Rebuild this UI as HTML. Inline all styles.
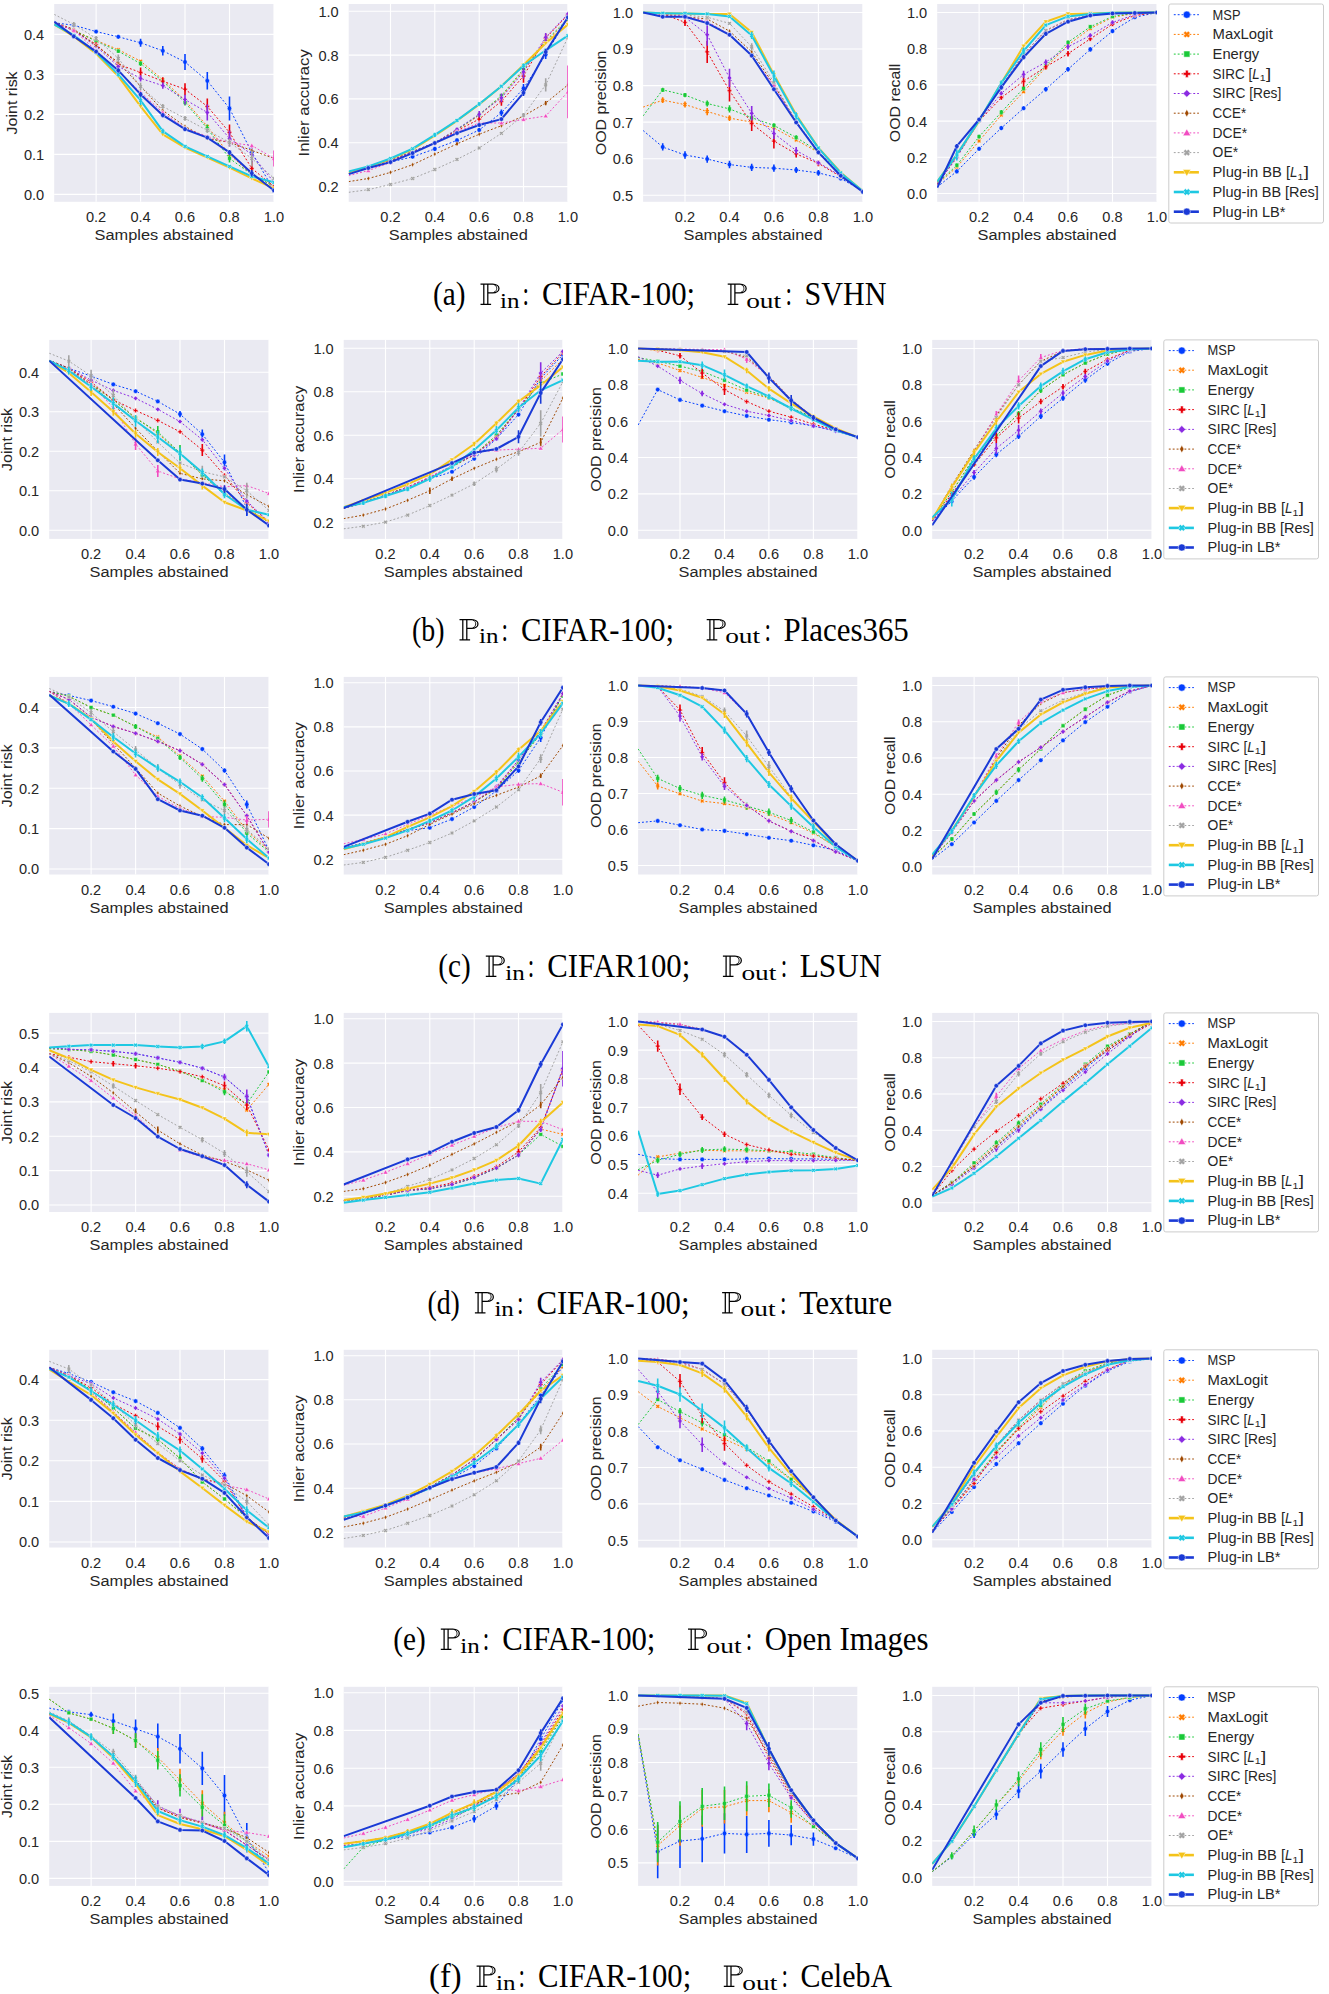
<!DOCTYPE html><html><head><meta charset="utf-8"><style>html,body{margin:0;padding:0;background:#fff}svg{display:block}</style></head><body><svg width="1329" height="1994" viewBox="0 0 1329 1994" font-family="Liberation Sans, sans-serif">
<rect width="1329" height="1994" fill="#fff"/>
<rect x="54.2" y="4" width="219.8" height="197.8" fill="#eaeaf2"/>
<clipPath id="c0_0"><rect x="54.2" y="4" width="219.8" height="197.8"/></clipPath>
<path d="M96.1 4V201.8M140.6 4V201.8M185 4V201.8M229.5 4V201.8M274 4V201.8M54.2 194.4H274M54.2 154.4H274M54.2 114.4H274M54.2 74.4H274M54.2 34.4H274" stroke="#fff" stroke-width="1.1" fill="none"/>
<text x="96.1" y="221.8" font-size="14.31" text-anchor="middle" textLength="20.3" lengthAdjust="spacingAndGlyphs" fill="#262626" >0.2</text>
<text x="140.6" y="221.8" font-size="14.31" text-anchor="middle" textLength="20.3" lengthAdjust="spacingAndGlyphs" fill="#262626" >0.4</text>
<text x="185" y="221.8" font-size="14.31" text-anchor="middle" textLength="20.3" lengthAdjust="spacingAndGlyphs" fill="#262626" >0.6</text>
<text x="229.5" y="221.8" font-size="14.31" text-anchor="middle" textLength="20.3" lengthAdjust="spacingAndGlyphs" fill="#262626" >0.8</text>
<text x="274" y="221.8" font-size="14.31" text-anchor="middle" textLength="20.3" lengthAdjust="spacingAndGlyphs" fill="#262626" >1.0</text>
<text x="44.2" y="199.8" font-size="14.31" text-anchor="end" textLength="20.3" lengthAdjust="spacingAndGlyphs" fill="#262626" >0.0</text>
<text x="44.2" y="159.8" font-size="14.31" text-anchor="end" textLength="20.3" lengthAdjust="spacingAndGlyphs" fill="#262626" >0.1</text>
<text x="44.2" y="119.8" font-size="14.31" text-anchor="end" textLength="20.3" lengthAdjust="spacingAndGlyphs" fill="#262626" >0.2</text>
<text x="44.2" y="79.8" font-size="14.31" text-anchor="end" textLength="20.3" lengthAdjust="spacingAndGlyphs" fill="#262626" >0.3</text>
<text x="44.2" y="39.8" font-size="14.31" text-anchor="end" textLength="20.3" lengthAdjust="spacingAndGlyphs" fill="#262626" >0.4</text>
<text x="164.1" y="239.8" font-size="15.48" text-anchor="middle" textLength="139.0" lengthAdjust="spacingAndGlyphs" fill="#262626" >Samples abstained</text>
<g transform="translate(16.5 102.9) rotate(-90)"><text x="0" y="0" font-size="15.48" text-anchor="middle" textLength="63.0" lengthAdjust="spacingAndGlyphs" fill="#262626" >Joint risk</text></g>
<g clip-path="url(#c0_0)">
<polyline points="54.2,22.8 73.8,25.2 96.1,31.6 118.3,36.8 140.6,42.8 162.8,50.8 185,62 207.3,80.8 229.5,108.4 251.8,152.4 274,190.4" fill="none" stroke="#023eff" stroke-width="1.0" stroke-dasharray="1.9 2.0"/>
<path d="M71.5 25.2a2.3 2.3 0 1 0 4.6 0a2.3 2.3 0 1 0 -4.6 0zM93.8 31.6a2.3 2.3 0 1 0 4.6 0a2.3 2.3 0 1 0 -4.6 0zM116 36.8a2.3 2.3 0 1 0 4.6 0a2.3 2.3 0 1 0 -4.6 0zM138.3 42.8a2.3 2.3 0 1 0 4.6 0a2.3 2.3 0 1 0 -4.6 0zM160.5 50.8a2.3 2.3 0 1 0 4.6 0a2.3 2.3 0 1 0 -4.6 0zM182.7 62a2.3 2.3 0 1 0 4.6 0a2.3 2.3 0 1 0 -4.6 0zM205 80.8a2.3 2.3 0 1 0 4.6 0a2.3 2.3 0 1 0 -4.6 0zM227.2 108.4a2.3 2.3 0 1 0 4.6 0a2.3 2.3 0 1 0 -4.6 0zM249.5 152.4a2.3 2.3 0 1 0 4.6 0a2.3 2.3 0 1 0 -4.6 0zM271.7 190.4a2.3 2.3 0 1 0 4.6 0a2.3 2.3 0 1 0 -4.6 0z" fill="#023eff" stroke="#fff" stroke-width="0.5"/>
<path d="M96.1 32.8V30.4M118.3 38.4V35.2M140.6 46.8V38.8M162.8 55.6V46M185 70V54M207.3 89.6V72M229.5 120.4V96.4M251.8 156.4V148.4" stroke="#023eff" stroke-width="1.6"/>
</g>
<g clip-path="url(#c0_0)">
<polyline points="54.2,22.4 73.8,30.4 96.1,40.4 118.3,49.6 140.6,61.2 162.8,79.6 185,100.4 207.3,126.4 229.5,154.4 251.8,174.4 274,186.4" fill="none" stroke="#ff7c00" stroke-width="1.0" stroke-dasharray="1.9 2.0"/>
<path d="M71.7 29.5l1.26 -1.26 0.92 0.92 0.92 -0.92 1.26 1.26 -0.92 0.92 0.92 0.92 -1.26 1.26 -0.92 -0.92 -0.92 0.92 -1.26 -1.26 0.92 -0.92zM93.9 39.5l1.26 -1.26 0.92 0.92 0.92 -0.92 1.26 1.26 -0.92 0.92 0.92 0.92 -1.26 1.26 -0.92 -0.92 -0.92 0.92 -1.26 -1.26 0.92 -0.92zM116.1 48.7l1.26 -1.26 0.92 0.92 0.92 -0.92 1.26 1.26 -0.92 0.92 0.92 0.92 -1.26 1.26 -0.92 -0.92 -0.92 0.92 -1.26 -1.26 0.92 -0.92zM138.4 60.3l1.26 -1.26 0.92 0.92 0.92 -0.92 1.26 1.26 -0.92 0.92 0.92 0.92 -1.26 1.26 -0.92 -0.92 -0.92 0.92 -1.26 -1.26 0.92 -0.92zM160.6 78.7l1.26 -1.26 0.92 0.92 0.92 -0.92 1.26 1.26 -0.92 0.92 0.92 0.92 -1.26 1.26 -0.92 -0.92 -0.92 0.92 -1.26 -1.26 0.92 -0.92zM182.9 99.5l1.26 -1.26 0.92 0.92 0.92 -0.92 1.26 1.26 -0.92 0.92 0.92 0.92 -1.26 1.26 -0.92 -0.92 -0.92 0.92 -1.26 -1.26 0.92 -0.92zM205.1 125.5l1.26 -1.26 0.92 0.92 0.92 -0.92 1.26 1.26 -0.92 0.92 0.92 0.92 -1.26 1.26 -0.92 -0.92 -0.92 0.92 -1.26 -1.26 0.92 -0.92zM227.3 153.5l1.26 -1.26 0.92 0.92 0.92 -0.92 1.26 1.26 -0.92 0.92 0.92 0.92 -1.26 1.26 -0.92 -0.92 -0.92 0.92 -1.26 -1.26 0.92 -0.92zM249.6 173.5l1.26 -1.26 0.92 0.92 0.92 -0.92 1.26 1.26 -0.92 0.92 0.92 0.92 -1.26 1.26 -0.92 -0.92 -0.92 0.92 -1.26 -1.26 0.92 -0.92zM271.8 185.5l1.26 -1.26 0.92 0.92 0.92 -0.92 1.26 1.26 -0.92 0.92 0.92 0.92 -1.26 1.26 -0.92 -0.92 -0.92 0.92 -1.26 -1.26 0.92 -0.92z" fill="#ff7c00" stroke="#fff" stroke-width="0.5"/>
</g>
<g clip-path="url(#c0_0)">
<polyline points="54.2,22.4 73.8,30.4 96.1,41.2 118.3,51.2 140.6,63.6 162.8,81.2 185,102.4 207.3,128.4 229.5,158.4 251.8,174.4 274,186.4" fill="none" stroke="#1ac938" stroke-width="1.0" stroke-dasharray="1.9 2.0"/>
<path d="M71.9 28.4h3.91v3.91h-3.91zM94.1 39.2h3.91v3.91h-3.91zM116.4 49.2h3.91v3.91h-3.91zM138.6 61.6h3.91v3.91h-3.91zM160.8 79.2h3.91v3.91h-3.91zM183.1 100.4h3.91v3.91h-3.91zM205.3 126.4h3.91v3.91h-3.91zM227.6 156.4h3.91v3.91h-3.91zM249.8 172.4h3.91v3.91h-3.91zM272 184.4h3.91v3.91h-3.91z" fill="#1ac938" stroke="#fff" stroke-width="0.5"/>
<path d="M118.3 52.8V49.6M140.6 66V61.2M162.8 83.6V78.8M185 105.6V99.2M207.3 132.4V124.4M229.5 162.4V154.4M251.8 178.4V170.4" stroke="#1ac938" stroke-width="1.6"/>
</g>
<g clip-path="url(#c0_0)">
<polyline points="54.2,22.4 73.8,30.4 96.1,44.4 118.3,64.4 140.6,72.4 162.8,81.2 185,89.2 207.3,106.4 229.5,132.4 251.8,168.4 274,186.4" fill="none" stroke="#e8000b" stroke-width="1.0" stroke-dasharray="1.9 2.0"/>
<path d="M73 28.1h1.75v1.43h1.43v1.75h-1.43v1.43h-1.75v-1.43h-1.43v-1.75h1.43zM95.2 42.1h1.75v1.43h1.43v1.75h-1.43v1.43h-1.75v-1.43h-1.43v-1.75h1.43zM117.4 62.1h1.75v1.43h1.43v1.75h-1.43v1.43h-1.75v-1.43h-1.43v-1.75h1.43zM139.7 70.1h1.75v1.43h1.43v1.75h-1.43v1.43h-1.75v-1.43h-1.43v-1.75h1.43zM161.9 78.9h1.75v1.43h1.43v1.75h-1.43v1.43h-1.75v-1.43h-1.43v-1.75h1.43zM184.2 86.9h1.75v1.43h1.43v1.75h-1.43v1.43h-1.75v-1.43h-1.43v-1.75h1.43zM206.4 104.1h1.75v1.43h1.43v1.75h-1.43v1.43h-1.75v-1.43h-1.43v-1.75h1.43zM228.6 130.1h1.75v1.43h1.43v1.75h-1.43v1.43h-1.75v-1.43h-1.43v-1.75h1.43zM250.9 166.1h1.75v1.43h1.43v1.75h-1.43v1.43h-1.75v-1.43h-1.43v-1.75h1.43zM273.1 184.1h1.75v1.43h1.43v1.75h-1.43v1.43h-1.75v-1.43h-1.43v-1.75h1.43z" fill="#e8000b" stroke="#fff" stroke-width="0.5"/>
<path d="M96.1 46.4V42.4M118.3 67.6V61.2M140.6 77.2V67.6M162.8 85.2V77.2M185 95.2V83.2M207.3 114.4V98.4M229.5 140.4V124.4M251.8 176.4V160.4" stroke="#e8000b" stroke-width="1.6"/>
</g>
<g clip-path="url(#c0_0)">
<polyline points="54.2,22.4 73.8,30.4 96.1,46.4 118.3,66.4 140.6,78.4 162.8,85.6 185,99.6 207.3,112.4 229.5,138.4 251.8,154.4 274,182.4" fill="none" stroke="#8b2be2" stroke-width="1.0" stroke-dasharray="1.9 2.0"/>
<path d="M73.8 28l2.42 2.42l-2.42 2.42l-2.42 -2.42zM96.1 44l2.42 2.42l-2.42 2.42l-2.42 -2.42zM118.3 64l2.42 2.42l-2.42 2.42l-2.42 -2.42zM140.6 76l2.42 2.42l-2.42 2.42l-2.42 -2.42zM162.8 83.2l2.42 2.42l-2.42 2.42l-2.42 -2.42zM185 97.2l2.42 2.42l-2.42 2.42l-2.42 -2.42zM207.3 110l2.42 2.42l-2.42 2.42l-2.42 -2.42zM229.5 136l2.42 2.42l-2.42 2.42l-2.42 -2.42zM251.8 152l2.42 2.42l-2.42 2.42l-2.42 -2.42zM274 180l2.42 2.42l-2.42 2.42l-2.42 -2.42z" fill="#8b2be2" stroke="#fff" stroke-width="0.5"/>
<path d="M118.3 68.4V64.4M140.6 81.6V75.2M162.8 88.8V82.4M185 104.4V94.8M207.3 120.4V104.4M229.5 146.4V130.4M251.8 162.4V146.4" stroke="#8b2be2" stroke-width="1.6"/>
</g>
<g clip-path="url(#c0_0)">
<polyline points="54.2,22.4 73.8,29.2 96.1,45.6 118.3,62.4 140.6,86.4 162.8,110.4 185,126.4 207.3,138.4 229.5,142.4 251.8,150.4 274,158.4" fill="none" stroke="#9f4800" stroke-width="1.0" stroke-dasharray="1.9 2.0"/>
<path d="M73.8 26.8l1.38 2.42l-1.38 2.42l-1.38 -2.42zM96.1 43.2l1.38 2.42l-1.38 2.42l-1.38 -2.42zM118.3 60l1.38 2.42l-1.38 2.42l-1.38 -2.42zM140.6 84l1.38 2.42l-1.38 2.42l-1.38 -2.42zM162.8 108l1.38 2.42l-1.38 2.42l-1.38 -2.42zM185 124l1.38 2.42l-1.38 2.42l-1.38 -2.42zM207.3 136l1.38 2.42l-1.38 2.42l-1.38 -2.42zM229.5 140l1.38 2.42l-1.38 2.42l-1.38 -2.42zM251.8 148l1.38 2.42l-1.38 2.42l-1.38 -2.42zM274 156l1.38 2.42l-1.38 2.42l-1.38 -2.42z" fill="#9f4800" stroke="#fff" stroke-width="0.5"/>
</g>
<g clip-path="url(#c0_0)">
<polyline points="54.2,22.4 73.8,30.4 96.1,50.4 118.3,70.4 140.6,92.4 162.8,112.4 185,128.4 207.3,136.4 229.5,142.4 251.8,145.6 274,158.4" fill="none" stroke="#f14cc1" stroke-width="1.0" stroke-dasharray="1.9 2.0"/>
<path d="M73.8 27.9l2.53 4.3h-5.06zM96.1 47.9l2.53 4.3h-5.06zM118.3 67.9l2.53 4.3h-5.06zM140.6 89.9l2.53 4.3h-5.06zM162.8 109.9l2.53 4.3h-5.06zM185 125.9l2.53 4.3h-5.06zM207.3 133.9l2.53 4.3h-5.06zM229.5 139.9l2.53 4.3h-5.06zM251.8 143.1l2.53 4.3h-5.06zM274 155.9l2.53 4.3h-5.06z" fill="#f14cc1" stroke="#fff" stroke-width="0.5"/>
<path d="M274 166.4V150.4" stroke="#f14cc1" stroke-width="1.6"/>
</g>
<g clip-path="url(#c0_0)">
<polyline points="54.2,14.4 73.8,24.4 96.1,38.4 118.3,58.4 140.6,86.4 162.8,106.4 185,118.4 207.3,130.4 229.5,142.4 251.8,158.4 274,178.4" fill="none" stroke="#a3a3a3" stroke-width="1.0" stroke-dasharray="1.9 2.0"/>
<path d="M71.7 23.5l1.26 -1.26 0.92 0.92 0.92 -0.92 1.26 1.26 -0.92 0.92 0.92 0.92 -1.26 1.26 -0.92 -0.92 -0.92 0.92 -1.26 -1.26 0.92 -0.92zM93.9 37.5l1.26 -1.26 0.92 0.92 0.92 -0.92 1.26 1.26 -0.92 0.92 0.92 0.92 -1.26 1.26 -0.92 -0.92 -0.92 0.92 -1.26 -1.26 0.92 -0.92zM116.1 57.5l1.26 -1.26 0.92 0.92 0.92 -0.92 1.26 1.26 -0.92 0.92 0.92 0.92 -1.26 1.26 -0.92 -0.92 -0.92 0.92 -1.26 -1.26 0.92 -0.92zM138.4 85.5l1.26 -1.26 0.92 0.92 0.92 -0.92 1.26 1.26 -0.92 0.92 0.92 0.92 -1.26 1.26 -0.92 -0.92 -0.92 0.92 -1.26 -1.26 0.92 -0.92zM160.6 105.5l1.26 -1.26 0.92 0.92 0.92 -0.92 1.26 1.26 -0.92 0.92 0.92 0.92 -1.26 1.26 -0.92 -0.92 -0.92 0.92 -1.26 -1.26 0.92 -0.92zM182.9 117.5l1.26 -1.26 0.92 0.92 0.92 -0.92 1.26 1.26 -0.92 0.92 0.92 0.92 -1.26 1.26 -0.92 -0.92 -0.92 0.92 -1.26 -1.26 0.92 -0.92zM205.1 129.5l1.26 -1.26 0.92 0.92 0.92 -0.92 1.26 1.26 -0.92 0.92 0.92 0.92 -1.26 1.26 -0.92 -0.92 -0.92 0.92 -1.26 -1.26 0.92 -0.92zM227.3 141.5l1.26 -1.26 0.92 0.92 0.92 -0.92 1.26 1.26 -0.92 0.92 0.92 0.92 -1.26 1.26 -0.92 -0.92 -0.92 0.92 -1.26 -1.26 0.92 -0.92zM249.6 157.5l1.26 -1.26 0.92 0.92 0.92 -0.92 1.26 1.26 -0.92 0.92 0.92 0.92 -1.26 1.26 -0.92 -0.92 -0.92 0.92 -1.26 -1.26 0.92 -0.92zM271.8 177.5l1.26 -1.26 0.92 0.92 0.92 -0.92 1.26 1.26 -0.92 0.92 0.92 0.92 -1.26 1.26 -0.92 -0.92 -0.92 0.92 -1.26 -1.26 0.92 -0.92z" fill="#a3a3a3" stroke="#fff" stroke-width="0.5"/>
<path d="M73.8 26.8V22M96.1 40.8V36M118.3 62.4V54.4M140.6 90.4V82.4M162.8 108.8V104M185 120.8V116M207.3 132.8V128M229.5 146.4V138.4M251.8 166.4V150.4" stroke="#a3a3a3" stroke-width="1.6"/>
</g>
<g clip-path="url(#c0_0)">
<polyline points="54.2,24.4 73.8,36.4 96.1,53.6 118.3,76.4 140.6,106.4 162.8,134.4 185,147.6 207.3,157.6 229.5,167.6 251.8,178.4 274,188.4" fill="none" stroke="#f4c31a" stroke-width="2.0" stroke-linejoin="round"/>
<path d="M73.8 38.9l2.53 -4.3h-5.06zM96.1 56.1l2.53 -4.3h-5.06zM118.3 78.9l2.53 -4.3h-5.06zM140.6 108.9l2.53 -4.3h-5.06zM162.8 136.9l2.53 -4.3h-5.06zM185 150.1l2.53 -4.3h-5.06zM207.3 160.1l2.53 -4.3h-5.06zM229.5 170.1l2.53 -4.3h-5.06zM251.8 180.9l2.53 -4.3h-5.06zM274 190.9l2.53 -4.3h-5.06z" fill="#f4c31a" stroke="#fff" stroke-width="0.5"/>
</g>
<g clip-path="url(#c0_0)">
<polyline points="54.2,24.4 73.8,35.2 96.1,52.4 118.3,74.4 140.6,100.4 162.8,131.2 185,146.4 207.3,156.4 229.5,166.4 251.8,176.4 274,182.4" fill="none" stroke="#1ec8e2" stroke-width="2.0" stroke-linejoin="round"/>
<path d="M71.7 34.3l1.26 -1.26 0.92 0.92 0.92 -0.92 1.26 1.26 -0.92 0.92 0.92 0.92 -1.26 1.26 -0.92 -0.92 -0.92 0.92 -1.26 -1.26 0.92 -0.92zM93.9 51.5l1.26 -1.26 0.92 0.92 0.92 -0.92 1.26 1.26 -0.92 0.92 0.92 0.92 -1.26 1.26 -0.92 -0.92 -0.92 0.92 -1.26 -1.26 0.92 -0.92zM116.1 73.5l1.26 -1.26 0.92 0.92 0.92 -0.92 1.26 1.26 -0.92 0.92 0.92 0.92 -1.26 1.26 -0.92 -0.92 -0.92 0.92 -1.26 -1.26 0.92 -0.92zM138.4 99.5l1.26 -1.26 0.92 0.92 0.92 -0.92 1.26 1.26 -0.92 0.92 0.92 0.92 -1.26 1.26 -0.92 -0.92 -0.92 0.92 -1.26 -1.26 0.92 -0.92zM160.6 130.3l1.26 -1.26 0.92 0.92 0.92 -0.92 1.26 1.26 -0.92 0.92 0.92 0.92 -1.26 1.26 -0.92 -0.92 -0.92 0.92 -1.26 -1.26 0.92 -0.92zM182.9 145.5l1.26 -1.26 0.92 0.92 0.92 -0.92 1.26 1.26 -0.92 0.92 0.92 0.92 -1.26 1.26 -0.92 -0.92 -0.92 0.92 -1.26 -1.26 0.92 -0.92zM205.1 155.5l1.26 -1.26 0.92 0.92 0.92 -0.92 1.26 1.26 -0.92 0.92 0.92 0.92 -1.26 1.26 -0.92 -0.92 -0.92 0.92 -1.26 -1.26 0.92 -0.92zM227.3 165.5l1.26 -1.26 0.92 0.92 0.92 -0.92 1.26 1.26 -0.92 0.92 0.92 0.92 -1.26 1.26 -0.92 -0.92 -0.92 0.92 -1.26 -1.26 0.92 -0.92zM249.6 175.5l1.26 -1.26 0.92 0.92 0.92 -0.92 1.26 1.26 -0.92 0.92 0.92 0.92 -1.26 1.26 -0.92 -0.92 -0.92 0.92 -1.26 -1.26 0.92 -0.92zM271.8 181.5l1.26 -1.26 0.92 0.92 0.92 -0.92 1.26 1.26 -0.92 0.92 0.92 0.92 -1.26 1.26 -0.92 -0.92 -0.92 0.92 -1.26 -1.26 0.92 -0.92z" fill="#1ec8e2" stroke="#fff" stroke-width="0.5"/>
<path d="M118.3 76.4V72.4M140.6 105.2V95.6M162.8 133.6V128.8" stroke="#1ec8e2" stroke-width="1.6"/>
</g>
<g clip-path="url(#c0_0)">
<polyline points="54.2,21.6 73.8,36.4 96.1,51.6 118.3,70.4 140.6,94.4 162.8,115.2 185,129.2 207.3,137.6 229.5,152.4 251.8,173.2 274,190.4" fill="none" stroke="#1a3ad6" stroke-width="2.0" stroke-linejoin="round"/>
<path d="M71.5 36.4a2.3 2.3 0 1 0 4.6 0a2.3 2.3 0 1 0 -4.6 0zM93.8 51.6a2.3 2.3 0 1 0 4.6 0a2.3 2.3 0 1 0 -4.6 0zM116 70.4a2.3 2.3 0 1 0 4.6 0a2.3 2.3 0 1 0 -4.6 0zM138.3 94.4a2.3 2.3 0 1 0 4.6 0a2.3 2.3 0 1 0 -4.6 0zM160.5 115.2a2.3 2.3 0 1 0 4.6 0a2.3 2.3 0 1 0 -4.6 0zM182.7 129.2a2.3 2.3 0 1 0 4.6 0a2.3 2.3 0 1 0 -4.6 0zM205 137.6a2.3 2.3 0 1 0 4.6 0a2.3 2.3 0 1 0 -4.6 0zM227.2 152.4a2.3 2.3 0 1 0 4.6 0a2.3 2.3 0 1 0 -4.6 0zM249.5 173.2a2.3 2.3 0 1 0 4.6 0a2.3 2.3 0 1 0 -4.6 0zM271.7 190.4a2.3 2.3 0 1 0 4.6 0a2.3 2.3 0 1 0 -4.6 0z" fill="#1a3ad6" stroke="#fff" stroke-width="0.5"/>
<path d="M118.3 72.4V68.4M140.6 96.8V92M162.8 117.2V113.2M185 130.8V127.6M229.5 154.8V150M251.8 176.4V170" stroke="#1a3ad6" stroke-width="1.6"/>
</g>
<rect x="348.7" y="4" width="219.2" height="197.8" fill="#eaeaf2"/>
<clipPath id="c0_1"><rect x="348.7" y="4" width="219.2" height="197.8"/></clipPath>
<path d="M390.5 4V201.8M434.8 4V201.8M479.2 4V201.8M523.5 4V201.8M567.9 4V201.8M348.7 186.6H567.9M348.7 142.8H567.9M348.7 98.9H567.9M348.7 55.1H567.9M348.7 11.2H567.9" stroke="#fff" stroke-width="1.1" fill="none"/>
<text x="390.5" y="221.8" font-size="14.31" text-anchor="middle" textLength="20.3" lengthAdjust="spacingAndGlyphs" fill="#262626" >0.2</text>
<text x="434.8" y="221.8" font-size="14.31" text-anchor="middle" textLength="20.3" lengthAdjust="spacingAndGlyphs" fill="#262626" >0.4</text>
<text x="479.2" y="221.8" font-size="14.31" text-anchor="middle" textLength="20.3" lengthAdjust="spacingAndGlyphs" fill="#262626" >0.6</text>
<text x="523.5" y="221.8" font-size="14.31" text-anchor="middle" textLength="20.3" lengthAdjust="spacingAndGlyphs" fill="#262626" >0.8</text>
<text x="567.9" y="221.8" font-size="14.31" text-anchor="middle" textLength="20.3" lengthAdjust="spacingAndGlyphs" fill="#262626" >1.0</text>
<text x="338.7" y="192" font-size="14.31" text-anchor="end" textLength="20.3" lengthAdjust="spacingAndGlyphs" fill="#262626" >0.2</text>
<text x="338.7" y="148.2" font-size="14.31" text-anchor="end" textLength="20.3" lengthAdjust="spacingAndGlyphs" fill="#262626" >0.4</text>
<text x="338.7" y="104.3" font-size="14.31" text-anchor="end" textLength="20.3" lengthAdjust="spacingAndGlyphs" fill="#262626" >0.6</text>
<text x="338.7" y="60.5" font-size="14.31" text-anchor="end" textLength="20.3" lengthAdjust="spacingAndGlyphs" fill="#262626" >0.8</text>
<text x="338.7" y="16.7" font-size="14.31" text-anchor="end" textLength="20.3" lengthAdjust="spacingAndGlyphs" fill="#262626" >1.0</text>
<text x="458.3" y="239.8" font-size="15.48" text-anchor="middle" textLength="139.0" lengthAdjust="spacingAndGlyphs" fill="#262626" >Samples abstained</text>
<g transform="translate(309.2 102.9) rotate(-90)"><text x="0" y="0" font-size="15.48" text-anchor="middle" textLength="107.2" lengthAdjust="spacingAndGlyphs" fill="#262626" >Inlier accuracy</text></g>
<g clip-path="url(#c0_1)">
<polyline points="348.7,173.4 368.3,168 390.5,162.1 412.6,156.8 434.8,148.9 457,140.4 479.2,130 501.4,112.7 523.5,88.4 545.7,54.6 567.9,17.4" fill="none" stroke="#023eff" stroke-width="1.0" stroke-dasharray="1.9 2.0"/>
<path d="M366 168a2.3 2.3 0 1 0 4.6 0a2.3 2.3 0 1 0 -4.6 0zM388.2 162.1a2.3 2.3 0 1 0 4.6 0a2.3 2.3 0 1 0 -4.6 0zM410.3 156.8a2.3 2.3 0 1 0 4.6 0a2.3 2.3 0 1 0 -4.6 0zM432.5 148.9a2.3 2.3 0 1 0 4.6 0a2.3 2.3 0 1 0 -4.6 0zM454.7 140.4a2.3 2.3 0 1 0 4.6 0a2.3 2.3 0 1 0 -4.6 0zM476.9 130a2.3 2.3 0 1 0 4.6 0a2.3 2.3 0 1 0 -4.6 0zM499.1 112.7a2.3 2.3 0 1 0 4.6 0a2.3 2.3 0 1 0 -4.6 0zM521.2 88.4a2.3 2.3 0 1 0 4.6 0a2.3 2.3 0 1 0 -4.6 0zM543.4 54.6a2.3 2.3 0 1 0 4.6 0a2.3 2.3 0 1 0 -4.6 0zM565.6 17.4a2.3 2.3 0 1 0 4.6 0a2.3 2.3 0 1 0 -4.6 0z" fill="#023eff" stroke="#fff" stroke-width="0.5"/>
<path d="M434.8 150.7V147.1M457 142.1V138.6M479.2 132.2V127.9M501.4 116V109.4M523.5 92.8V84M545.7 59V50.3" stroke="#023eff" stroke-width="1.6"/>
</g>
<g clip-path="url(#c0_1)">
<polyline points="348.7,173.4 368.3,168 390.5,160.7 412.6,151.5 434.8,142.8 457,130 479.2,115.4 501.4,96.7 523.5,70.4 545.7,41.9 567.9,20" fill="none" stroke="#ff7c00" stroke-width="1.0" stroke-dasharray="1.9 2.0"/>
<path d="M366.1 167l1.26 -1.26 0.92 0.92 0.92 -0.92 1.26 1.26 -0.92 0.92 0.92 0.92 -1.26 1.26 -0.92 -0.92 -0.92 0.92 -1.26 -1.26 0.92 -0.92zM388.3 159.8l1.26 -1.26 0.92 0.92 0.92 -0.92 1.26 1.26 -0.92 0.92 0.92 0.92 -1.26 1.26 -0.92 -0.92 -0.92 0.92 -1.26 -1.26 0.92 -0.92zM410.5 150.6l1.26 -1.26 0.92 0.92 0.92 -0.92 1.26 1.26 -0.92 0.92 0.92 0.92 -1.26 1.26 -0.92 -0.92 -0.92 0.92 -1.26 -1.26 0.92 -0.92zM432.6 141.8l1.26 -1.26 0.92 0.92 0.92 -0.92 1.26 1.26 -0.92 0.92 0.92 0.92 -1.26 1.26 -0.92 -0.92 -0.92 0.92 -1.26 -1.26 0.92 -0.92zM454.8 129.1l1.26 -1.26 0.92 0.92 0.92 -0.92 1.26 1.26 -0.92 0.92 0.92 0.92 -1.26 1.26 -0.92 -0.92 -0.92 0.92 -1.26 -1.26 0.92 -0.92zM477 114.4l1.26 -1.26 0.92 0.92 0.92 -0.92 1.26 1.26 -0.92 0.92 0.92 0.92 -1.26 1.26 -0.92 -0.92 -0.92 0.92 -1.26 -1.26 0.92 -0.92zM499.2 95.8l1.26 -1.26 0.92 0.92 0.92 -0.92 1.26 1.26 -0.92 0.92 0.92 0.92 -1.26 1.26 -0.92 -0.92 -0.92 0.92 -1.26 -1.26 0.92 -0.92zM521.4 69.5l1.26 -1.26 0.92 0.92 0.92 -0.92 1.26 1.26 -0.92 0.92 0.92 0.92 -1.26 1.26 -0.92 -0.92 -0.92 0.92 -1.26 -1.26 0.92 -0.92zM543.5 41l1.26 -1.26 0.92 0.92 0.92 -0.92 1.26 1.26 -0.92 0.92 0.92 0.92 -1.26 1.26 -0.92 -0.92 -0.92 0.92 -1.26 -1.26 0.92 -0.92zM565.7 19.1l1.26 -1.26 0.92 0.92 0.92 -0.92 1.26 1.26 -0.92 0.92 0.92 0.92 -1.26 1.26 -0.92 -0.92 -0.92 0.92 -1.26 -1.26 0.92 -0.92z" fill="#ff7c00" stroke="#fff" stroke-width="0.5"/>
</g>
<g clip-path="url(#c0_1)">
<polyline points="348.7,173.4 368.3,168 390.5,160.7 412.6,151.5 434.8,142.8 457,129.6 479.2,114.7 501.4,95.6 523.5,69.3 545.7,40.8 567.9,18.9" fill="none" stroke="#1ac938" stroke-width="1.0" stroke-dasharray="1.9 2.0"/>
<path d="M366.3 166h3.91v3.91h-3.91zM388.5 158.8h3.91v3.91h-3.91zM410.7 149.6h3.91v3.91h-3.91zM432.9 140.8h3.91v3.91h-3.91zM455 127.7h3.91v3.91h-3.91zM477.2 112.8h3.91v3.91h-3.91zM499.4 93.7h3.91v3.91h-3.91zM521.6 67.4h3.91v3.91h-3.91zM543.8 38.9h3.91v3.91h-3.91zM565.9 17h3.91v3.91h-3.91z" fill="#1ac938" stroke="#fff" stroke-width="0.5"/>
</g>
<g clip-path="url(#c0_1)">
<polyline points="348.7,173.4 368.3,168 390.5,160.7 412.6,152 434.8,143.2 457,130.7 479.2,119.1 501.4,101.3 523.5,76.1 545.7,38.2 567.9,14.8" fill="none" stroke="#e8000b" stroke-width="1.0" stroke-dasharray="1.9 2.0"/>
<path d="M367.4 165.7h1.75v1.43h1.43v1.75h-1.43v1.43h-1.75v-1.43h-1.43v-1.75h1.43zM389.6 158.4h1.75v1.43h1.43v1.75h-1.43v1.43h-1.75v-1.43h-1.43v-1.75h1.43zM411.8 149.7h1.75v1.43h1.43v1.75h-1.43v1.43h-1.75v-1.43h-1.43v-1.75h1.43zM433.9 140.9h1.75v1.43h1.43v1.75h-1.43v1.43h-1.75v-1.43h-1.43v-1.75h1.43zM456.1 128.4h1.75v1.43h1.43v1.75h-1.43v1.43h-1.75v-1.43h-1.43v-1.75h1.43zM478.3 116.8h1.75v1.43h1.43v1.75h-1.43v1.43h-1.75v-1.43h-1.43v-1.75h1.43zM500.5 99h1.75v1.43h1.43v1.75h-1.43v1.43h-1.75v-1.43h-1.43v-1.75h1.43zM522.7 73.8h1.75v1.43h1.43v1.75h-1.43v1.43h-1.75v-1.43h-1.43v-1.75h1.43zM544.8 35.9h1.75v1.43h1.43v1.75h-1.43v1.43h-1.75v-1.43h-1.43v-1.75h1.43zM567 12.5h1.75v1.43h1.43v1.75h-1.43v1.43h-1.75v-1.43h-1.43v-1.75h1.43z" fill="#e8000b" stroke="#fff" stroke-width="0.5"/>
<path d="M479.2 122.4V115.8M501.4 105.7V97M523.5 82.7V69.6M545.7 42.6V33.8" stroke="#e8000b" stroke-width="1.6"/>
</g>
<g clip-path="url(#c0_1)">
<polyline points="348.7,173.4 368.3,168 390.5,160.7 412.6,151.5 434.8,142.8 457,129.2 479.2,114.3 501.4,97.8 523.5,72 545.7,37.3 567.9,13.9" fill="none" stroke="#8b2be2" stroke-width="1.0" stroke-dasharray="1.9 2.0"/>
<path d="M368.3 165.6l2.42 2.42l-2.42 2.42l-2.42 -2.42zM390.5 158.3l2.42 2.42l-2.42 2.42l-2.42 -2.42zM412.6 149.1l2.42 2.42l-2.42 2.42l-2.42 -2.42zM434.8 140.3l2.42 2.42l-2.42 2.42l-2.42 -2.42zM457 126.8l2.42 2.42l-2.42 2.42l-2.42 -2.42zM479.2 111.9l2.42 2.42l-2.42 2.42l-2.42 -2.42zM501.4 95.4l2.42 2.42l-2.42 2.42l-2.42 -2.42zM523.5 69.5l2.42 2.42l-2.42 2.42l-2.42 -2.42zM545.7 34.9l2.42 2.42l-2.42 2.42l-2.42 -2.42zM567.9 11.5l2.42 2.42l-2.42 2.42l-2.42 -2.42z" fill="#8b2be2" stroke="#fff" stroke-width="0.5"/>
<path d="M479.2 117.6V111M501.4 102.2V93.4M523.5 78.5V65.4M545.7 41.7V32.9" stroke="#8b2be2" stroke-width="1.6"/>
</g>
<g clip-path="url(#c0_1)">
<polyline points="348.7,181.6 368.3,178.5 390.5,172.4 412.6,164.7 434.8,154.2 457,143.9 479.2,134.2 501.4,125.7 523.5,116 545.7,103.1 567.9,84.9" fill="none" stroke="#9f4800" stroke-width="1.0" stroke-dasharray="1.9 2.0"/>
<path d="M368.3 176.1l1.38 2.42l-1.38 2.42l-1.38 -2.42zM390.5 169.9l1.38 2.42l-1.38 2.42l-1.38 -2.42zM412.6 162.3l1.38 2.42l-1.38 2.42l-1.38 -2.42zM434.8 151.7l1.38 2.42l-1.38 2.42l-1.38 -2.42zM457 141.4l1.38 2.42l-1.38 2.42l-1.38 -2.42zM479.2 131.8l1.38 2.42l-1.38 2.42l-1.38 -2.42zM501.4 123.3l1.38 2.42l-1.38 2.42l-1.38 -2.42zM523.5 113.6l1.38 2.42l-1.38 2.42l-1.38 -2.42zM545.7 100.7l1.38 2.42l-1.38 2.42l-1.38 -2.42zM567.9 82.5l1.38 2.42l-1.38 2.42l-1.38 -2.42z" fill="#9f4800" stroke="#fff" stroke-width="0.5"/>
<path d="M457 145.2V142.5M545.7 105.3V100.9" stroke="#9f4800" stroke-width="1.6"/>
</g>
<g clip-path="url(#c0_1)">
<polyline points="348.7,175.6 368.3,170.6 390.5,162.5 412.6,152.6 434.8,142.8 457,131.8 479.2,123 501.4,123 523.5,119.5 545.7,116 567.9,91.9" fill="none" stroke="#f14cc1" stroke-width="1.0" stroke-dasharray="1.9 2.0"/>
<path d="M368.3 168.1l2.53 4.3h-5.06zM390.5 160l2.53 4.3h-5.06zM412.6 150.1l2.53 4.3h-5.06zM434.8 140.2l2.53 4.3h-5.06zM457 129.3l2.53 4.3h-5.06zM479.2 120.5l2.53 4.3h-5.06zM501.4 120.5l2.53 4.3h-5.06zM523.5 117l2.53 4.3h-5.06zM545.7 113.5l2.53 4.3h-5.06zM567.9 89.4l2.53 4.3h-5.06z" fill="#f14cc1" stroke="#fff" stroke-width="0.5"/>
<path d="M567.9 118.2V65.6" stroke="#f14cc1" stroke-width="1.6"/>
</g>
<g clip-path="url(#c0_1)">
<polyline points="348.7,192.3 368.3,189.7 390.5,184.4 412.6,178.5 434.8,169.5 457,159.4 479.2,148 501.4,133.3 523.5,115.1 545.7,84.9 567.9,37.3" fill="none" stroke="#a3a3a3" stroke-width="1.0" stroke-dasharray="1.9 2.0"/>
<path d="M366.1 188.7l1.26 -1.26 0.92 0.92 0.92 -0.92 1.26 1.26 -0.92 0.92 0.92 0.92 -1.26 1.26 -0.92 -0.92 -0.92 0.92 -1.26 -1.26 0.92 -0.92zM388.3 183.5l1.26 -1.26 0.92 0.92 0.92 -0.92 1.26 1.26 -0.92 0.92 0.92 0.92 -1.26 1.26 -0.92 -0.92 -0.92 0.92 -1.26 -1.26 0.92 -0.92zM410.5 177.6l1.26 -1.26 0.92 0.92 0.92 -0.92 1.26 1.26 -0.92 0.92 0.92 0.92 -1.26 1.26 -0.92 -0.92 -0.92 0.92 -1.26 -1.26 0.92 -0.92zM432.6 168.6l1.26 -1.26 0.92 0.92 0.92 -0.92 1.26 1.26 -0.92 0.92 0.92 0.92 -1.26 1.26 -0.92 -0.92 -0.92 0.92 -1.26 -1.26 0.92 -0.92zM454.8 158.5l1.26 -1.26 0.92 0.92 0.92 -0.92 1.26 1.26 -0.92 0.92 0.92 0.92 -1.26 1.26 -0.92 -0.92 -0.92 0.92 -1.26 -1.26 0.92 -0.92zM477 147.1l1.26 -1.26 0.92 0.92 0.92 -0.92 1.26 1.26 -0.92 0.92 0.92 0.92 -1.26 1.26 -0.92 -0.92 -0.92 0.92 -1.26 -1.26 0.92 -0.92zM499.2 132.4l1.26 -1.26 0.92 0.92 0.92 -0.92 1.26 1.26 -0.92 0.92 0.92 0.92 -1.26 1.26 -0.92 -0.92 -0.92 0.92 -1.26 -1.26 0.92 -0.92zM521.4 114.2l1.26 -1.26 0.92 0.92 0.92 -0.92 1.26 1.26 -0.92 0.92 0.92 0.92 -1.26 1.26 -0.92 -0.92 -0.92 0.92 -1.26 -1.26 0.92 -0.92zM543.5 84l1.26 -1.26 0.92 0.92 0.92 -0.92 1.26 1.26 -0.92 0.92 0.92 0.92 -1.26 1.26 -0.92 -0.92 -0.92 0.92 -1.26 -1.26 0.92 -0.92zM565.7 36.4l1.26 -1.26 0.92 0.92 0.92 -0.92 1.26 1.26 -0.92 0.92 0.92 0.92 -1.26 1.26 -0.92 -0.92 -0.92 0.92 -1.26 -1.26 0.92 -0.92z" fill="#a3a3a3" stroke="#fff" stroke-width="0.5"/>
<path d="M523.5 117.3V113M545.7 91.5V78.3" stroke="#a3a3a3" stroke-width="1.6"/>
</g>
<g clip-path="url(#c0_1)">
<polyline points="348.7,172.4 368.3,166.9 390.5,159.2 412.6,149.3 434.8,135.7 457,120.8 479.2,104.4 501.4,86.2 523.5,65 545.7,43.3 567.9,24.4" fill="none" stroke="#f4c31a" stroke-width="2.0" stroke-linejoin="round"/>
<path d="M368.3 169.4l2.53 -4.3h-5.06zM390.5 161.7l2.53 -4.3h-5.06zM412.6 151.9l2.53 -4.3h-5.06zM434.8 138.3l2.53 -4.3h-5.06zM457 123.4l2.53 -4.3h-5.06zM479.2 106.9l2.53 -4.3h-5.06zM501.4 88.7l2.53 -4.3h-5.06zM523.5 67.5l2.53 -4.3h-5.06zM545.7 45.8l2.53 -4.3h-5.06zM567.9 26.9l2.53 -4.3h-5.06z" fill="#f4c31a" stroke="#fff" stroke-width="0.5"/>
</g>
<g clip-path="url(#c0_1)">
<polyline points="348.7,171.5 368.3,166.4 390.5,158.5 412.6,148.7 434.8,134.9 457,120.4 479.2,104 501.4,86.2 523.5,65.8 545.7,50.3 567.9,35.6" fill="none" stroke="#1ec8e2" stroke-width="2.0" stroke-linejoin="round"/>
<path d="M366.1 165.5l1.26 -1.26 0.92 0.92 0.92 -0.92 1.26 1.26 -0.92 0.92 0.92 0.92 -1.26 1.26 -0.92 -0.92 -0.92 0.92 -1.26 -1.26 0.92 -0.92zM388.3 157.6l1.26 -1.26 0.92 0.92 0.92 -0.92 1.26 1.26 -0.92 0.92 0.92 0.92 -1.26 1.26 -0.92 -0.92 -0.92 0.92 -1.26 -1.26 0.92 -0.92zM410.5 147.8l1.26 -1.26 0.92 0.92 0.92 -0.92 1.26 1.26 -0.92 0.92 0.92 0.92 -1.26 1.26 -0.92 -0.92 -0.92 0.92 -1.26 -1.26 0.92 -0.92zM432.6 134l1.26 -1.26 0.92 0.92 0.92 -0.92 1.26 1.26 -0.92 0.92 0.92 0.92 -1.26 1.26 -0.92 -0.92 -0.92 0.92 -1.26 -1.26 0.92 -0.92zM454.8 119.5l1.26 -1.26 0.92 0.92 0.92 -0.92 1.26 1.26 -0.92 0.92 0.92 0.92 -1.26 1.26 -0.92 -0.92 -0.92 0.92 -1.26 -1.26 0.92 -0.92zM477 103l1.26 -1.26 0.92 0.92 0.92 -0.92 1.26 1.26 -0.92 0.92 0.92 0.92 -1.26 1.26 -0.92 -0.92 -0.92 0.92 -1.26 -1.26 0.92 -0.92zM499.2 85.3l1.26 -1.26 0.92 0.92 0.92 -0.92 1.26 1.26 -0.92 0.92 0.92 0.92 -1.26 1.26 -0.92 -0.92 -0.92 0.92 -1.26 -1.26 0.92 -0.92zM521.4 64.9l1.26 -1.26 0.92 0.92 0.92 -0.92 1.26 1.26 -0.92 0.92 0.92 0.92 -1.26 1.26 -0.92 -0.92 -0.92 0.92 -1.26 -1.26 0.92 -0.92zM543.5 49.3l1.26 -1.26 0.92 0.92 0.92 -0.92 1.26 1.26 -0.92 0.92 0.92 0.92 -1.26 1.26 -0.92 -0.92 -0.92 0.92 -1.26 -1.26 0.92 -0.92zM565.7 34.7l1.26 -1.26 0.92 0.92 0.92 -0.92 1.26 1.26 -0.92 0.92 0.92 0.92 -1.26 1.26 -0.92 -0.92 -0.92 0.92 -1.26 -1.26 0.92 -0.92z" fill="#1ec8e2" stroke="#fff" stroke-width="0.5"/>
<path d="M434.8 137.1V132.7M457 121.7V119.1M479.2 105.7V102.2M523.5 68V63.6" stroke="#1ec8e2" stroke-width="1.6"/>
</g>
<g clip-path="url(#c0_1)">
<polyline points="348.7,174.1 368.3,168 390.5,162.1 412.6,153.1 434.8,143 457,133.1 479.2,125 501.4,119.1 523.5,92.8 545.7,52 567.9,17.4" fill="none" stroke="#1a3ad6" stroke-width="2.0" stroke-linejoin="round"/>
<path d="M366 168a2.3 2.3 0 1 0 4.6 0a2.3 2.3 0 1 0 -4.6 0zM388.2 162.1a2.3 2.3 0 1 0 4.6 0a2.3 2.3 0 1 0 -4.6 0zM410.3 153.1a2.3 2.3 0 1 0 4.6 0a2.3 2.3 0 1 0 -4.6 0zM432.5 143a2.3 2.3 0 1 0 4.6 0a2.3 2.3 0 1 0 -4.6 0zM454.7 133.1a2.3 2.3 0 1 0 4.6 0a2.3 2.3 0 1 0 -4.6 0zM476.9 125a2.3 2.3 0 1 0 4.6 0a2.3 2.3 0 1 0 -4.6 0zM499.1 119.1a2.3 2.3 0 1 0 4.6 0a2.3 2.3 0 1 0 -4.6 0zM521.2 92.8a2.3 2.3 0 1 0 4.6 0a2.3 2.3 0 1 0 -4.6 0zM543.4 52a2.3 2.3 0 1 0 4.6 0a2.3 2.3 0 1 0 -4.6 0zM565.6 17.4a2.3 2.3 0 1 0 4.6 0a2.3 2.3 0 1 0 -4.6 0z" fill="#1a3ad6" stroke="#fff" stroke-width="0.5"/>
<path d="M523.5 96.1V89.5M545.7 55.3V48.7" stroke="#1a3ad6" stroke-width="1.6"/>
</g>
<rect x="643.1" y="4" width="219.8" height="197.8" fill="#eaeaf2"/>
<clipPath id="c0_2"><rect x="643.1" y="4" width="219.8" height="197.8"/></clipPath>
<path d="M685 4V201.8M729.5 4V201.8M773.9 4V201.8M818.4 4V201.8M862.9 4V201.8M643.1 195.2H862.9M643.1 158.7H862.9M643.1 122.1H862.9M643.1 85.6H862.9M643.1 49H862.9M643.1 12.5H862.9" stroke="#fff" stroke-width="1.1" fill="none"/>
<text x="685" y="221.8" font-size="14.31" text-anchor="middle" textLength="20.3" lengthAdjust="spacingAndGlyphs" fill="#262626" >0.2</text>
<text x="729.5" y="221.8" font-size="14.31" text-anchor="middle" textLength="20.3" lengthAdjust="spacingAndGlyphs" fill="#262626" >0.4</text>
<text x="773.9" y="221.8" font-size="14.31" text-anchor="middle" textLength="20.3" lengthAdjust="spacingAndGlyphs" fill="#262626" >0.6</text>
<text x="818.4" y="221.8" font-size="14.31" text-anchor="middle" textLength="20.3" lengthAdjust="spacingAndGlyphs" fill="#262626" >0.8</text>
<text x="862.9" y="221.8" font-size="14.31" text-anchor="middle" textLength="20.3" lengthAdjust="spacingAndGlyphs" fill="#262626" >1.0</text>
<text x="633.1" y="200.6" font-size="14.31" text-anchor="end" textLength="20.3" lengthAdjust="spacingAndGlyphs" fill="#262626" >0.5</text>
<text x="633.1" y="164.1" font-size="14.31" text-anchor="end" textLength="20.3" lengthAdjust="spacingAndGlyphs" fill="#262626" >0.6</text>
<text x="633.1" y="127.5" font-size="14.31" text-anchor="end" textLength="20.3" lengthAdjust="spacingAndGlyphs" fill="#262626" >0.7</text>
<text x="633.1" y="91" font-size="14.31" text-anchor="end" textLength="20.3" lengthAdjust="spacingAndGlyphs" fill="#262626" >0.8</text>
<text x="633.1" y="54.4" font-size="14.31" text-anchor="end" textLength="20.3" lengthAdjust="spacingAndGlyphs" fill="#262626" >0.9</text>
<text x="633.1" y="17.9" font-size="14.31" text-anchor="end" textLength="20.3" lengthAdjust="spacingAndGlyphs" fill="#262626" >1.0</text>
<text x="753" y="239.8" font-size="15.48" text-anchor="middle" textLength="139.0" lengthAdjust="spacingAndGlyphs" fill="#262626" >Samples abstained</text>
<g transform="translate(605.6 102.9) rotate(-90)"><text x="0" y="0" font-size="15.48" text-anchor="middle" textLength="104.7" lengthAdjust="spacingAndGlyphs" fill="#262626" >OOD precision</text></g>
<g clip-path="url(#c0_2)">
<polyline points="643.1,130.5 662.7,147 685,155 707.2,159 729.5,164.5 751.7,167.4 773.9,168.2 796.2,170 818.4,172.9 840.7,178.4 862.9,191.2" fill="none" stroke="#023eff" stroke-width="1.0" stroke-dasharray="1.9 2.0"/>
<path d="M660.4 147a2.3 2.3 0 1 0 4.6 0a2.3 2.3 0 1 0 -4.6 0zM682.7 155a2.3 2.3 0 1 0 4.6 0a2.3 2.3 0 1 0 -4.6 0zM704.9 159a2.3 2.3 0 1 0 4.6 0a2.3 2.3 0 1 0 -4.6 0zM727.2 164.5a2.3 2.3 0 1 0 4.6 0a2.3 2.3 0 1 0 -4.6 0zM749.4 167.4a2.3 2.3 0 1 0 4.6 0a2.3 2.3 0 1 0 -4.6 0zM771.6 168.2a2.3 2.3 0 1 0 4.6 0a2.3 2.3 0 1 0 -4.6 0zM793.9 170a2.3 2.3 0 1 0 4.6 0a2.3 2.3 0 1 0 -4.6 0zM816.1 172.9a2.3 2.3 0 1 0 4.6 0a2.3 2.3 0 1 0 -4.6 0zM838.4 178.4a2.3 2.3 0 1 0 4.6 0a2.3 2.3 0 1 0 -4.6 0zM860.6 191.2a2.3 2.3 0 1 0 4.6 0a2.3 2.3 0 1 0 -4.6 0z" fill="#023eff" stroke="#fff" stroke-width="0.5"/>
<path d="M662.7 150.6V143.3M685 158.7V151.3M707.2 162.7V155.4M729.5 168.2V160.8M751.7 171.1V163.8M773.9 171.8V164.5M796.2 172.9V167.1M818.4 175.8V170M840.7 180.2V176.6" stroke="#023eff" stroke-width="1.6"/>
</g>
<g clip-path="url(#c0_2)">
<polyline points="643.1,107.1 662.7,100.2 685,104.6 707.2,111.5 729.5,118.1 751.7,122.1 773.9,128 796.2,140 818.4,152.4 840.7,175.8 862.9,191.2" fill="none" stroke="#ff7c00" stroke-width="1.0" stroke-dasharray="1.9 2.0"/>
<path d="M660.6 99.3l1.26 -1.26 0.92 0.92 0.92 -0.92 1.26 1.26 -0.92 0.92 0.92 0.92 -1.26 1.26 -0.92 -0.92 -0.92 0.92 -1.26 -1.26 0.92 -0.92zM682.8 103.6l1.26 -1.26 0.92 0.92 0.92 -0.92 1.26 1.26 -0.92 0.92 0.92 0.92 -1.26 1.26 -0.92 -0.92 -0.92 0.92 -1.26 -1.26 0.92 -0.92zM705 110.6l1.26 -1.26 0.92 0.92 0.92 -0.92 1.26 1.26 -0.92 0.92 0.92 0.92 -1.26 1.26 -0.92 -0.92 -0.92 0.92 -1.26 -1.26 0.92 -0.92zM727.3 117.2l1.26 -1.26 0.92 0.92 0.92 -0.92 1.26 1.26 -0.92 0.92 0.92 0.92 -1.26 1.26 -0.92 -0.92 -0.92 0.92 -1.26 -1.26 0.92 -0.92zM749.5 121.2l1.26 -1.26 0.92 0.92 0.92 -0.92 1.26 1.26 -0.92 0.92 0.92 0.92 -1.26 1.26 -0.92 -0.92 -0.92 0.92 -1.26 -1.26 0.92 -0.92zM771.8 127l1.26 -1.26 0.92 0.92 0.92 -0.92 1.26 1.26 -0.92 0.92 0.92 0.92 -1.26 1.26 -0.92 -0.92 -0.92 0.92 -1.26 -1.26 0.92 -0.92zM794 139.1l1.26 -1.26 0.92 0.92 0.92 -0.92 1.26 1.26 -0.92 0.92 0.92 0.92 -1.26 1.26 -0.92 -0.92 -0.92 0.92 -1.26 -1.26 0.92 -0.92zM816.2 151.5l1.26 -1.26 0.92 0.92 0.92 -0.92 1.26 1.26 -0.92 0.92 0.92 0.92 -1.26 1.26 -0.92 -0.92 -0.92 0.92 -1.26 -1.26 0.92 -0.92zM838.5 174.9l1.26 -1.26 0.92 0.92 0.92 -0.92 1.26 1.26 -0.92 0.92 0.92 0.92 -1.26 1.26 -0.92 -0.92 -0.92 0.92 -1.26 -1.26 0.92 -0.92zM860.7 190.3l1.26 -1.26 0.92 0.92 0.92 -0.92 1.26 1.26 -0.92 0.92 0.92 0.92 -1.26 1.26 -0.92 -0.92 -0.92 0.92 -1.26 -1.26 0.92 -0.92z" fill="#ff7c00" stroke="#fff" stroke-width="0.5"/>
<path d="M662.7 103.1V97.3M685 107.5V101.6M707.2 115.2V107.9M729.5 121V115.2M751.7 125V119.2" stroke="#ff7c00" stroke-width="1.6"/>
</g>
<g clip-path="url(#c0_2)">
<polyline points="643.1,115.9 662.7,89.9 685,95.1 707.2,103.5 729.5,108.9 751.7,117.7 773.9,125.4 796.2,137.5 818.4,151.3 840.7,174.7 862.9,191.2" fill="none" stroke="#1ac938" stroke-width="1.0" stroke-dasharray="1.9 2.0"/>
<path d="M660.8 88h3.91v3.91h-3.91zM683 93.1h3.91v3.91h-3.91zM705.3 101.5h3.91v3.91h-3.91zM727.5 107h3.91v3.91h-3.91zM749.7 115.8h3.91v3.91h-3.91zM772 123.4h3.91v3.91h-3.91zM794.2 135.5h3.91v3.91h-3.91zM816.5 149.4h3.91v3.91h-3.91zM838.7 172.8h3.91v3.91h-3.91zM860.9 189.2h3.91v3.91h-3.91z" fill="#1ac938" stroke="#fff" stroke-width="0.5"/>
<path d="M662.7 92.1V87.7M685 97.3V92.9M707.2 106.4V100.5M729.5 112.6V105.3M751.7 119.9V115.5M773.9 127.6V123.2M796.2 139.6V135.3M818.4 153.5V149.1" stroke="#1ac938" stroke-width="1.6"/>
</g>
<g clip-path="url(#c0_2)">
<polyline points="643.1,12.5 662.7,13.9 685,22.3 707.2,51.9 729.5,90.7 751.7,123.6 773.9,141.1 796.2,153.9 818.4,163.4 840.7,176.6 862.9,191.2" fill="none" stroke="#e8000b" stroke-width="1.0" stroke-dasharray="1.9 2.0"/>
<path d="M661.9 11.6h1.75v1.43h1.43v1.75h-1.43v1.43h-1.75v-1.43h-1.43v-1.75h1.43zM684.1 20h1.75v1.43h1.43v1.75h-1.43v1.43h-1.75v-1.43h-1.43v-1.75h1.43zM706.3 49.6h1.75v1.43h1.43v1.75h-1.43v1.43h-1.75v-1.43h-1.43v-1.75h1.43zM728.6 88.4h1.75v1.43h1.43v1.75h-1.43v1.43h-1.75v-1.43h-1.43v-1.75h1.43zM750.8 121.3h1.75v1.43h1.43v1.75h-1.43v1.43h-1.75v-1.43h-1.43v-1.75h1.43zM773.1 138.8h1.75v1.43h1.43v1.75h-1.43v1.43h-1.75v-1.43h-1.43v-1.75h1.43zM795.3 151.6h1.75v1.43h1.43v1.75h-1.43v1.43h-1.75v-1.43h-1.43v-1.75h1.43zM817.5 161.1h1.75v1.43h1.43v1.75h-1.43v1.43h-1.75v-1.43h-1.43v-1.75h1.43zM839.8 174.3h1.75v1.43h1.43v1.75h-1.43v1.43h-1.75v-1.43h-1.43v-1.75h1.43zM862 188.9h1.75v1.43h1.43v1.75h-1.43v1.43h-1.75v-1.43h-1.43v-1.75h1.43z" fill="#e8000b" stroke="#fff" stroke-width="0.5"/>
<path d="M685 26V18.7M707.2 62.9V41M729.5 101.6V79.7M751.7 130.9V116.3M773.9 148.4V133.8M796.2 157.6V150.2M818.4 166.3V160.5" stroke="#e8000b" stroke-width="1.6"/>
</g>
<g clip-path="url(#c0_2)">
<polyline points="643.1,12.5 662.7,13.9 685,17.2 707.2,34.8 729.5,77.9 751.7,113.3 773.9,133.4 796.2,150.6 818.4,162.7 840.7,175.8 862.9,191.2" fill="none" stroke="#8b2be2" stroke-width="1.0" stroke-dasharray="1.9 2.0"/>
<path d="M662.7 11.5l2.42 2.42l-2.42 2.42l-2.42 -2.42zM685 14.8l2.42 2.42l-2.42 2.42l-2.42 -2.42zM707.2 32.3l2.42 2.42l-2.42 2.42l-2.42 -2.42zM729.5 75.5l2.42 2.42l-2.42 2.42l-2.42 -2.42zM751.7 110.9l2.42 2.42l-2.42 2.42l-2.42 -2.42zM773.9 131l2.42 2.42l-2.42 2.42l-2.42 -2.42zM796.2 148.2l2.42 2.42l-2.42 2.42l-2.42 -2.42zM818.4 160.3l2.42 2.42l-2.42 2.42l-2.42 -2.42zM840.7 173.4l2.42 2.42l-2.42 2.42l-2.42 -2.42zM862.9 188.8l2.42 2.42l-2.42 2.42l-2.42 -2.42z" fill="#8b2be2" stroke="#fff" stroke-width="0.5"/>
<path d="M707.2 45.7V23.8M729.5 87V68.7M751.7 120.6V106M773.9 138.9V128M796.2 154.3V147" stroke="#8b2be2" stroke-width="1.6"/>
</g>
<g clip-path="url(#c0_2)">
<polyline points="643.1,12.5 662.7,14.3 685,16.8 707.2,19 729.5,31.1 751.7,51.9 773.9,84.8 796.2,121 818.4,152.4 840.7,175.8 862.9,191.2" fill="none" stroke="#9f4800" stroke-width="1.0" stroke-dasharray="1.9 2.0"/>
<path d="M662.7 11.9l1.38 2.42l-1.38 2.42l-1.38 -2.42zM685 14.4l1.38 2.42l-1.38 2.42l-1.38 -2.42zM707.2 16.6l1.38 2.42l-1.38 2.42l-1.38 -2.42zM729.5 28.7l1.38 2.42l-1.38 2.42l-1.38 -2.42zM751.7 49.5l1.38 2.42l-1.38 2.42l-1.38 -2.42zM773.9 82.4l1.38 2.42l-1.38 2.42l-1.38 -2.42zM796.2 118.6l1.38 2.42l-1.38 2.42l-1.38 -2.42zM818.4 150l1.38 2.42l-1.38 2.42l-1.38 -2.42zM840.7 173.4l1.38 2.42l-1.38 2.42l-1.38 -2.42zM862.9 188.8l1.38 2.42l-1.38 2.42l-1.38 -2.42z" fill="#9f4800" stroke="#fff" stroke-width="0.5"/>
</g>
<g clip-path="url(#c0_2)">
<polyline points="643.1,12.5 662.7,14.3 685,16.1 707.2,21.6 729.5,34.4 751.7,56.3 773.9,85.6 796.2,122.1 818.4,152.4 840.7,175.8 862.9,191.2" fill="none" stroke="#f14cc1" stroke-width="1.0" stroke-dasharray="1.9 2.0"/>
<path d="M662.7 11.8l2.53 4.3h-5.06zM685 13.6l2.53 4.3h-5.06zM707.2 19.1l2.53 4.3h-5.06zM729.5 31.9l2.53 4.3h-5.06zM751.7 53.8l2.53 4.3h-5.06zM773.9 83l2.53 4.3h-5.06zM796.2 119.6l2.53 4.3h-5.06zM818.4 149.9l2.53 4.3h-5.06zM840.7 173.3l2.53 4.3h-5.06zM862.9 188.6l2.53 4.3h-5.06z" fill="#f14cc1" stroke="#fff" stroke-width="0.5"/>
</g>
<g clip-path="url(#c0_2)">
<polyline points="643.1,12.5 662.7,13.6 685,15 707.2,17.2 729.5,23.4 751.7,46.8 773.9,82.3 796.2,122.1 818.4,151.3 840.7,175.8 862.9,191.2" fill="none" stroke="#a3a3a3" stroke-width="1.0" stroke-dasharray="1.9 2.0"/>
<path d="M660.6 12.6l1.26 -1.26 0.92 0.92 0.92 -0.92 1.26 1.26 -0.92 0.92 0.92 0.92 -1.26 1.26 -0.92 -0.92 -0.92 0.92 -1.26 -1.26 0.92 -0.92zM682.8 14.1l1.26 -1.26 0.92 0.92 0.92 -0.92 1.26 1.26 -0.92 0.92 0.92 0.92 -1.26 1.26 -0.92 -0.92 -0.92 0.92 -1.26 -1.26 0.92 -0.92zM705 16.3l1.26 -1.26 0.92 0.92 0.92 -0.92 1.26 1.26 -0.92 0.92 0.92 0.92 -1.26 1.26 -0.92 -0.92 -0.92 0.92 -1.26 -1.26 0.92 -0.92zM727.3 22.5l1.26 -1.26 0.92 0.92 0.92 -0.92 1.26 1.26 -0.92 0.92 0.92 0.92 -1.26 1.26 -0.92 -0.92 -0.92 0.92 -1.26 -1.26 0.92 -0.92zM749.5 45.9l1.26 -1.26 0.92 0.92 0.92 -0.92 1.26 1.26 -0.92 0.92 0.92 0.92 -1.26 1.26 -0.92 -0.92 -0.92 0.92 -1.26 -1.26 0.92 -0.92zM771.8 81.3l1.26 -1.26 0.92 0.92 0.92 -0.92 1.26 1.26 -0.92 0.92 0.92 0.92 -1.26 1.26 -0.92 -0.92 -0.92 0.92 -1.26 -1.26 0.92 -0.92zM794 121.2l1.26 -1.26 0.92 0.92 0.92 -0.92 1.26 1.26 -0.92 0.92 0.92 0.92 -1.26 1.26 -0.92 -0.92 -0.92 0.92 -1.26 -1.26 0.92 -0.92zM816.2 150.4l1.26 -1.26 0.92 0.92 0.92 -0.92 1.26 1.26 -0.92 0.92 0.92 0.92 -1.26 1.26 -0.92 -0.92 -0.92 0.92 -1.26 -1.26 0.92 -0.92zM838.5 174.9l1.26 -1.26 0.92 0.92 0.92 -0.92 1.26 1.26 -0.92 0.92 0.92 0.92 -1.26 1.26 -0.92 -0.92 -0.92 0.92 -1.26 -1.26 0.92 -0.92zM860.7 190.3l1.26 -1.26 0.92 0.92 0.92 -0.92 1.26 1.26 -0.92 0.92 0.92 0.92 -1.26 1.26 -0.92 -0.92 -0.92 0.92 -1.26 -1.26 0.92 -0.92z" fill="#a3a3a3" stroke="#fff" stroke-width="0.5"/>
<path d="M751.7 50.5V43.2" stroke="#a3a3a3" stroke-width="1.6"/>
</g>
<g clip-path="url(#c0_2)">
<polyline points="643.1,12.5 662.7,13.2 685,13.6 707.2,13.9 729.5,13.9 751.7,32.2 773.9,74.6 796.2,114.8 818.4,147.7 840.7,172.5 862.9,191.2" fill="none" stroke="#f4c31a" stroke-width="2.0" stroke-linejoin="round"/>
<path d="M662.7 15.7l2.53 -4.3h-5.06zM685 16.1l2.53 -4.3h-5.06zM707.2 16.5l2.53 -4.3h-5.06zM729.5 16.5l2.53 -4.3h-5.06zM751.7 34.7l2.53 -4.3h-5.06zM773.9 77.1l2.53 -4.3h-5.06zM796.2 117.3l2.53 -4.3h-5.06zM818.4 150.2l2.53 -4.3h-5.06zM840.7 175.1l2.53 -4.3h-5.06zM862.9 193.7l2.53 -4.3h-5.06z" fill="#f4c31a" stroke="#fff" stroke-width="0.5"/>
</g>
<g clip-path="url(#c0_2)">
<polyline points="643.1,12.5 662.7,13.2 685,13.6 707.2,13.9 729.5,16.5 751.7,35.5 773.9,76.1 796.2,115.9 818.4,148.1 840.7,172.9 862.9,191.2" fill="none" stroke="#1ec8e2" stroke-width="2.0" stroke-linejoin="round"/>
<path d="M660.6 12.3l1.26 -1.26 0.92 0.92 0.92 -0.92 1.26 1.26 -0.92 0.92 0.92 0.92 -1.26 1.26 -0.92 -0.92 -0.92 0.92 -1.26 -1.26 0.92 -0.92zM682.8 12.6l1.26 -1.26 0.92 0.92 0.92 -0.92 1.26 1.26 -0.92 0.92 0.92 0.92 -1.26 1.26 -0.92 -0.92 -0.92 0.92 -1.26 -1.26 0.92 -0.92zM705 13l1.26 -1.26 0.92 0.92 0.92 -0.92 1.26 1.26 -0.92 0.92 0.92 0.92 -1.26 1.26 -0.92 -0.92 -0.92 0.92 -1.26 -1.26 0.92 -0.92zM727.3 15.6l1.26 -1.26 0.92 0.92 0.92 -0.92 1.26 1.26 -0.92 0.92 0.92 0.92 -1.26 1.26 -0.92 -0.92 -0.92 0.92 -1.26 -1.26 0.92 -0.92zM749.5 34.6l1.26 -1.26 0.92 0.92 0.92 -0.92 1.26 1.26 -0.92 0.92 0.92 0.92 -1.26 1.26 -0.92 -0.92 -0.92 0.92 -1.26 -1.26 0.92 -0.92zM771.8 75.1l1.26 -1.26 0.92 0.92 0.92 -0.92 1.26 1.26 -0.92 0.92 0.92 0.92 -1.26 1.26 -0.92 -0.92 -0.92 0.92 -1.26 -1.26 0.92 -0.92zM794 115l1.26 -1.26 0.92 0.92 0.92 -0.92 1.26 1.26 -0.92 0.92 0.92 0.92 -1.26 1.26 -0.92 -0.92 -0.92 0.92 -1.26 -1.26 0.92 -0.92zM816.2 147.1l1.26 -1.26 0.92 0.92 0.92 -0.92 1.26 1.26 -0.92 0.92 0.92 0.92 -1.26 1.26 -0.92 -0.92 -0.92 0.92 -1.26 -1.26 0.92 -0.92zM838.5 172l1.26 -1.26 0.92 0.92 0.92 -0.92 1.26 1.26 -0.92 0.92 0.92 0.92 -1.26 1.26 -0.92 -0.92 -0.92 0.92 -1.26 -1.26 0.92 -0.92zM860.7 190.3l1.26 -1.26 0.92 0.92 0.92 -0.92 1.26 1.26 -0.92 0.92 0.92 0.92 -1.26 1.26 -0.92 -0.92 -0.92 0.92 -1.26 -1.26 0.92 -0.92z" fill="#1ec8e2" stroke="#fff" stroke-width="0.5"/>
<path d="M751.7 39.1V31.8M773.9 81.5V70.6M796.2 119.5V112.2" stroke="#1ec8e2" stroke-width="1.6"/>
</g>
<g clip-path="url(#c0_2)">
<polyline points="643.1,12.5 662.7,16.8 685,16.8 707.2,23.1 729.5,34.8 751.7,55.6 773.9,89.2 796.2,122.5 818.4,152.4 840.7,175.8 862.9,191.9" fill="none" stroke="#1a3ad6" stroke-width="2.0" stroke-linejoin="round"/>
<path d="M660.4 16.8a2.3 2.3 0 1 0 4.6 0a2.3 2.3 0 1 0 -4.6 0zM682.7 16.8a2.3 2.3 0 1 0 4.6 0a2.3 2.3 0 1 0 -4.6 0zM704.9 23.1a2.3 2.3 0 1 0 4.6 0a2.3 2.3 0 1 0 -4.6 0zM727.2 34.8a2.3 2.3 0 1 0 4.6 0a2.3 2.3 0 1 0 -4.6 0zM749.4 55.6a2.3 2.3 0 1 0 4.6 0a2.3 2.3 0 1 0 -4.6 0zM771.6 89.2a2.3 2.3 0 1 0 4.6 0a2.3 2.3 0 1 0 -4.6 0zM793.9 122.5a2.3 2.3 0 1 0 4.6 0a2.3 2.3 0 1 0 -4.6 0zM816.1 152.4a2.3 2.3 0 1 0 4.6 0a2.3 2.3 0 1 0 -4.6 0zM838.4 175.8a2.3 2.3 0 1 0 4.6 0a2.3 2.3 0 1 0 -4.6 0zM860.6 191.9a2.3 2.3 0 1 0 4.6 0a2.3 2.3 0 1 0 -4.6 0z" fill="#1a3ad6" stroke="#fff" stroke-width="0.5"/>
</g>
<rect x="937.2" y="4" width="219.8" height="197.8" fill="#eaeaf2"/>
<clipPath id="c0_3"><rect x="937.2" y="4" width="219.8" height="197.8"/></clipPath>
<path d="M979.1 4V201.8M1023.6 4V201.8M1068 4V201.8M1112.5 4V201.8M1157 4V201.8M937.2 193.5H1157M937.2 157.3H1157M937.2 121.1H1157M937.2 84.9H1157M937.2 48.7H1157M937.2 12.5H1157" stroke="#fff" stroke-width="1.1" fill="none"/>
<text x="979.1" y="221.8" font-size="14.31" text-anchor="middle" textLength="20.3" lengthAdjust="spacingAndGlyphs" fill="#262626" >0.2</text>
<text x="1023.6" y="221.8" font-size="14.31" text-anchor="middle" textLength="20.3" lengthAdjust="spacingAndGlyphs" fill="#262626" >0.4</text>
<text x="1068" y="221.8" font-size="14.31" text-anchor="middle" textLength="20.3" lengthAdjust="spacingAndGlyphs" fill="#262626" >0.6</text>
<text x="1112.5" y="221.8" font-size="14.31" text-anchor="middle" textLength="20.3" lengthAdjust="spacingAndGlyphs" fill="#262626" >0.8</text>
<text x="1157" y="221.8" font-size="14.31" text-anchor="middle" textLength="20.3" lengthAdjust="spacingAndGlyphs" fill="#262626" >1.0</text>
<text x="927.2" y="198.9" font-size="14.31" text-anchor="end" textLength="20.3" lengthAdjust="spacingAndGlyphs" fill="#262626" >0.0</text>
<text x="927.2" y="162.7" font-size="14.31" text-anchor="end" textLength="20.3" lengthAdjust="spacingAndGlyphs" fill="#262626" >0.2</text>
<text x="927.2" y="126.5" font-size="14.31" text-anchor="end" textLength="20.3" lengthAdjust="spacingAndGlyphs" fill="#262626" >0.4</text>
<text x="927.2" y="90.3" font-size="14.31" text-anchor="end" textLength="20.3" lengthAdjust="spacingAndGlyphs" fill="#262626" >0.6</text>
<text x="927.2" y="54.1" font-size="14.31" text-anchor="end" textLength="20.3" lengthAdjust="spacingAndGlyphs" fill="#262626" >0.8</text>
<text x="927.2" y="17.9" font-size="14.31" text-anchor="end" textLength="20.3" lengthAdjust="spacingAndGlyphs" fill="#262626" >1.0</text>
<text x="1047.1" y="239.8" font-size="15.48" text-anchor="middle" textLength="139.0" lengthAdjust="spacingAndGlyphs" fill="#262626" >Samples abstained</text>
<g transform="translate(900 102.9) rotate(-90)"><text x="0" y="0" font-size="15.48" text-anchor="middle" textLength="78.6" lengthAdjust="spacingAndGlyphs" fill="#262626" >OOD recall</text></g>
<g clip-path="url(#c0_3)">
<polyline points="937.2,187 956.8,171.4 979.1,148.8 1001.3,128.1 1023.6,108.2 1045.8,89.2 1068,69.3 1090.3,49.4 1112.5,31.1 1134.8,17.3 1157,12.5" fill="none" stroke="#023eff" stroke-width="1.0" stroke-dasharray="1.9 2.0"/>
<path d="M954.5 171.4a2.3 2.3 0 1 0 4.6 0a2.3 2.3 0 1 0 -4.6 0zM976.8 148.8a2.3 2.3 0 1 0 4.6 0a2.3 2.3 0 1 0 -4.6 0zM999 128.1a2.3 2.3 0 1 0 4.6 0a2.3 2.3 0 1 0 -4.6 0zM1021.3 108.2a2.3 2.3 0 1 0 4.6 0a2.3 2.3 0 1 0 -4.6 0zM1043.5 89.2a2.3 2.3 0 1 0 4.6 0a2.3 2.3 0 1 0 -4.6 0zM1065.7 69.3a2.3 2.3 0 1 0 4.6 0a2.3 2.3 0 1 0 -4.6 0zM1088 49.4a2.3 2.3 0 1 0 4.6 0a2.3 2.3 0 1 0 -4.6 0zM1110.2 31.1a2.3 2.3 0 1 0 4.6 0a2.3 2.3 0 1 0 -4.6 0zM1132.5 17.3a2.3 2.3 0 1 0 4.6 0a2.3 2.3 0 1 0 -4.6 0zM1154.7 12.5a2.3 2.3 0 1 0 4.6 0a2.3 2.3 0 1 0 -4.6 0z" fill="#023eff" stroke="#fff" stroke-width="0.5"/>
<path d="M956.8 173.2V169.6M979.1 150.6V147M1001.3 130V126.3M1023.6 110V106.4M1045.8 91.4V87M1068 71.5V67.1M1090.3 51.6V47.2M1112.5 32.9V29.3M1134.8 18.4V16.3" stroke="#023eff" stroke-width="1.6"/>
</g>
<g clip-path="url(#c0_3)">
<polyline points="937.2,184.4 956.8,167.1 979.1,141 1001.3,115.1 1023.6,91.8 1045.8,67.5 1068,45 1090.3,28.6 1112.5,17.3 1134.8,13.4 1157,12.5" fill="none" stroke="#ff7c00" stroke-width="1.0" stroke-dasharray="1.9 2.0"/>
<path d="M954.7 166.1l1.26 -1.26 0.92 0.92 0.92 -0.92 1.26 1.26 -0.92 0.92 0.92 0.92 -1.26 1.26 -0.92 -0.92 -0.92 0.92 -1.26 -1.26 0.92 -0.92zM976.9 140.1l1.26 -1.26 0.92 0.92 0.92 -0.92 1.26 1.26 -0.92 0.92 0.92 0.92 -1.26 1.26 -0.92 -0.92 -0.92 0.92 -1.26 -1.26 0.92 -0.92zM999.1 114.2l1.26 -1.26 0.92 0.92 0.92 -0.92 1.26 1.26 -0.92 0.92 0.92 0.92 -1.26 1.26 -0.92 -0.92 -0.92 0.92 -1.26 -1.26 0.92 -0.92zM1021.4 90.8l1.26 -1.26 0.92 0.92 0.92 -0.92 1.26 1.26 -0.92 0.92 0.92 0.92 -1.26 1.26 -0.92 -0.92 -0.92 0.92 -1.26 -1.26 0.92 -0.92zM1043.6 66.6l1.26 -1.26 0.92 0.92 0.92 -0.92 1.26 1.26 -0.92 0.92 0.92 0.92 -1.26 1.26 -0.92 -0.92 -0.92 0.92 -1.26 -1.26 0.92 -0.92zM1065.9 44.1l1.26 -1.26 0.92 0.92 0.92 -0.92 1.26 1.26 -0.92 0.92 0.92 0.92 -1.26 1.26 -0.92 -0.92 -0.92 0.92 -1.26 -1.26 0.92 -0.92zM1088.1 27.7l1.26 -1.26 0.92 0.92 0.92 -0.92 1.26 1.26 -0.92 0.92 0.92 0.92 -1.26 1.26 -0.92 -0.92 -0.92 0.92 -1.26 -1.26 0.92 -0.92zM1110.3 16.4l1.26 -1.26 0.92 0.92 0.92 -0.92 1.26 1.26 -0.92 0.92 0.92 0.92 -1.26 1.26 -0.92 -0.92 -0.92 0.92 -1.26 -1.26 0.92 -0.92zM1132.6 12.4l1.26 -1.26 0.92 0.92 0.92 -0.92 1.26 1.26 -0.92 0.92 0.92 0.92 -1.26 1.26 -0.92 -0.92 -0.92 0.92 -1.26 -1.26 0.92 -0.92zM1154.8 11.5l1.26 -1.26 0.92 0.92 0.92 -0.92 1.26 1.26 -0.92 0.92 0.92 0.92 -1.26 1.26 -0.92 -0.92 -0.92 0.92 -1.26 -1.26 0.92 -0.92z" fill="#ff7c00" stroke="#fff" stroke-width="0.5"/>
</g>
<g clip-path="url(#c0_3)">
<polyline points="937.2,183.5 956.8,165.3 979.1,136.7 1001.3,112.2 1023.6,88.3 1045.8,65.7 1068,42.3 1090.3,26.8 1112.5,16.4 1134.8,13 1157,12.5" fill="none" stroke="#1ac938" stroke-width="1.0" stroke-dasharray="1.9 2.0"/>
<path d="M954.9 163.3h3.91v3.91h-3.91zM977.1 134.7h3.91v3.91h-3.91zM999.4 110.3h3.91v3.91h-3.91zM1021.6 86.4h3.91v3.91h-3.91zM1043.8 63.7h3.91v3.91h-3.91zM1066.1 40.4h3.91v3.91h-3.91zM1088.3 24.8h3.91v3.91h-3.91zM1110.6 14.5h3.91v3.91h-3.91zM1132.8 11h3.91v3.91h-3.91zM1155 10.5h3.91v3.91h-3.91z" fill="#1ac938" stroke="#fff" stroke-width="0.5"/>
<path d="M956.8 167.1V163.4M979.1 138.5V134.8M1001.3 114.4V110M1023.6 90.5V86.1M1045.8 67.9V63.5M1068 44.1V40.5M1090.3 28.6V25" stroke="#1ac938" stroke-width="1.6"/>
</g>
<g clip-path="url(#c0_3)">
<polyline points="937.2,184.4 956.8,157.3 979.1,121.1 1001.3,97.7 1023.6,81.3 1045.8,66.8 1068,53.7 1090.3,38.9 1112.5,24.2 1134.8,15.5 1157,12.5" fill="none" stroke="#e8000b" stroke-width="1.0" stroke-dasharray="1.9 2.0"/>
<path d="M956 155h1.75v1.43h1.43v1.75h-1.43v1.43h-1.75v-1.43h-1.43v-1.75h1.43zM978.2 118.8h1.75v1.43h1.43v1.75h-1.43v1.43h-1.75v-1.43h-1.43v-1.75h1.43zM1000.4 95.4h1.75v1.43h1.43v1.75h-1.43v1.43h-1.75v-1.43h-1.43v-1.75h1.43zM1022.7 79h1.75v1.43h1.43v1.75h-1.43v1.43h-1.75v-1.43h-1.43v-1.75h1.43zM1044.9 64.5h1.75v1.43h1.43v1.75h-1.43v1.43h-1.75v-1.43h-1.43v-1.75h1.43zM1067.2 51.4h1.75v1.43h1.43v1.75h-1.43v1.43h-1.75v-1.43h-1.43v-1.75h1.43zM1089.4 36.6h1.75v1.43h1.43v1.75h-1.43v1.43h-1.75v-1.43h-1.43v-1.75h1.43zM1111.6 21.9h1.75v1.43h1.43v1.75h-1.43v1.43h-1.75v-1.43h-1.43v-1.75h1.43zM1133.9 13.2h1.75v1.43h1.43v1.75h-1.43v1.43h-1.75v-1.43h-1.43v-1.75h1.43zM1156.1 10.2h1.75v1.43h1.43v1.75h-1.43v1.43h-1.75v-1.43h-1.43v-1.75h1.43z" fill="#e8000b" stroke="#fff" stroke-width="0.5"/>
<path d="M1001.3 99.5V95.9M1023.6 86.7V75.8M1045.8 69.5V64.1M1068 56.5V51M1090.3 40.7V37.1M1112.5 26V22.4" stroke="#e8000b" stroke-width="1.6"/>
</g>
<g clip-path="url(#c0_3)">
<polyline points="937.2,184.4 956.8,157.3 979.1,121.1 1001.3,93.4 1023.6,74.4 1045.8,62.2 1068,46.7 1090.3,35.5 1112.5,22.4 1134.8,14.6 1157,12.5" fill="none" stroke="#8b2be2" stroke-width="1.0" stroke-dasharray="1.9 2.0"/>
<path d="M956.8 154.9l2.42 2.42l-2.42 2.42l-2.42 -2.42zM979.1 118.7l2.42 2.42l-2.42 2.42l-2.42 -2.42zM1001.3 91l2.42 2.42l-2.42 2.42l-2.42 -2.42zM1023.6 72l2.42 2.42l-2.42 2.42l-2.42 -2.42zM1045.8 59.8l2.42 2.42l-2.42 2.42l-2.42 -2.42zM1068 44.3l2.42 2.42l-2.42 2.42l-2.42 -2.42zM1090.3 33l2.42 2.42l-2.42 2.42l-2.42 -2.42zM1112.5 20l2.42 2.42l-2.42 2.42l-2.42 -2.42zM1134.8 12.2l2.42 2.42l-2.42 2.42l-2.42 -2.42zM1157 10l2.42 2.42l-2.42 2.42l-2.42 -2.42z" fill="#8b2be2" stroke="#fff" stroke-width="0.5"/>
<path d="M1001.3 95.2V91.6M1023.6 78V70.8M1045.8 65V59.5M1068 49.4V44M1090.3 37.3V33.6M1112.5 24.2V20.6" stroke="#8b2be2" stroke-width="1.6"/>
</g>
<g clip-path="url(#c0_3)">
<polyline points="937.2,182.6 956.8,155.5 979.1,121.1 1001.3,86.7 1023.6,54.1 1045.8,30.6 1068,19.7 1090.3,15.2 1112.5,13.4 1134.8,12.8 1157,12.5" fill="none" stroke="#9f4800" stroke-width="1.0" stroke-dasharray="1.9 2.0"/>
<path d="M956.8 153.1l1.38 2.42l-1.38 2.42l-1.38 -2.42zM979.1 118.7l1.38 2.42l-1.38 2.42l-1.38 -2.42zM1001.3 84.3l1.38 2.42l-1.38 2.42l-1.38 -2.42zM1023.6 51.7l1.38 2.42l-1.38 2.42l-1.38 -2.42zM1045.8 28.1l1.38 2.42l-1.38 2.42l-1.38 -2.42zM1068 17.3l1.38 2.42l-1.38 2.42l-1.38 -2.42zM1090.3 12.8l1.38 2.42l-1.38 2.42l-1.38 -2.42zM1112.5 11l1.38 2.42l-1.38 2.42l-1.38 -2.42zM1134.8 10.4l1.38 2.42l-1.38 2.42l-1.38 -2.42zM1157 10l1.38 2.42l-1.38 2.42l-1.38 -2.42z" fill="#9f4800" stroke="#fff" stroke-width="0.5"/>
</g>
<g clip-path="url(#c0_3)">
<polyline points="937.2,182.6 956.8,155.5 979.1,121.1 1001.3,86.7 1023.6,54.1 1045.8,30.6 1068,19.7 1090.3,15.2 1112.5,13.4 1134.8,12.8 1157,12.5" fill="none" stroke="#f14cc1" stroke-width="1.0" stroke-dasharray="1.9 2.0"/>
<path d="M956.8 153l2.53 4.3h-5.06zM979.1 118.6l2.53 4.3h-5.06zM1001.3 84.2l2.53 4.3h-5.06zM1023.6 51.6l2.53 4.3h-5.06zM1045.8 28l2.53 4.3h-5.06zM1068 17.2l2.53 4.3h-5.06zM1090.3 12.6l2.53 4.3h-5.06zM1112.5 10.8l2.53 4.3h-5.06zM1134.8 10.3l2.53 4.3h-5.06zM1157 9.9l2.53 4.3h-5.06z" fill="#f14cc1" stroke="#fff" stroke-width="0.5"/>
</g>
<g clip-path="url(#c0_3)">
<polyline points="937.2,182.6 956.8,155.5 979.1,121.1 1001.3,86.7 1023.6,54.1 1045.8,30.6 1068,19.7 1090.3,15.2 1112.5,13.4 1134.8,12.8 1157,12.5" fill="none" stroke="#a3a3a3" stroke-width="1.0" stroke-dasharray="1.9 2.0"/>
<path d="M954.7 154.6l1.26 -1.26 0.92 0.92 0.92 -0.92 1.26 1.26 -0.92 0.92 0.92 0.92 -1.26 1.26 -0.92 -0.92 -0.92 0.92 -1.26 -1.26 0.92 -0.92zM976.9 120.2l1.26 -1.26 0.92 0.92 0.92 -0.92 1.26 1.26 -0.92 0.92 0.92 0.92 -1.26 1.26 -0.92 -0.92 -0.92 0.92 -1.26 -1.26 0.92 -0.92zM999.1 85.8l1.26 -1.26 0.92 0.92 0.92 -0.92 1.26 1.26 -0.92 0.92 0.92 0.92 -1.26 1.26 -0.92 -0.92 -0.92 0.92 -1.26 -1.26 0.92 -0.92zM1021.4 53.2l1.26 -1.26 0.92 0.92 0.92 -0.92 1.26 1.26 -0.92 0.92 0.92 0.92 -1.26 1.26 -0.92 -0.92 -0.92 0.92 -1.26 -1.26 0.92 -0.92zM1043.6 29.6l1.26 -1.26 0.92 0.92 0.92 -0.92 1.26 1.26 -0.92 0.92 0.92 0.92 -1.26 1.26 -0.92 -0.92 -0.92 0.92 -1.26 -1.26 0.92 -0.92zM1065.9 18.8l1.26 -1.26 0.92 0.92 0.92 -0.92 1.26 1.26 -0.92 0.92 0.92 0.92 -1.26 1.26 -0.92 -0.92 -0.92 0.92 -1.26 -1.26 0.92 -0.92zM1088.1 14.3l1.26 -1.26 0.92 0.92 0.92 -0.92 1.26 1.26 -0.92 0.92 0.92 0.92 -1.26 1.26 -0.92 -0.92 -0.92 0.92 -1.26 -1.26 0.92 -0.92zM1110.3 12.4l1.26 -1.26 0.92 0.92 0.92 -0.92 1.26 1.26 -0.92 0.92 0.92 0.92 -1.26 1.26 -0.92 -0.92 -0.92 0.92 -1.26 -1.26 0.92 -0.92zM1132.6 11.9l1.26 -1.26 0.92 0.92 0.92 -0.92 1.26 1.26 -0.92 0.92 0.92 0.92 -1.26 1.26 -0.92 -0.92 -0.92 0.92 -1.26 -1.26 0.92 -0.92zM1154.8 11.5l1.26 -1.26 0.92 0.92 0.92 -0.92 1.26 1.26 -0.92 0.92 0.92 0.92 -1.26 1.26 -0.92 -0.92 -0.92 0.92 -1.26 -1.26 0.92 -0.92z" fill="#a3a3a3" stroke="#fff" stroke-width="0.5"/>
</g>
<g clip-path="url(#c0_3)">
<polyline points="937.2,181.7 956.8,154.6 979.1,121.1 1001.3,83.1 1023.6,46 1045.8,21.7 1068,13.9 1090.3,13.4 1112.5,12.8 1134.8,12.5 1157,12.5" fill="none" stroke="#f4c31a" stroke-width="2.0" stroke-linejoin="round"/>
<path d="M956.8 157.1l2.53 -4.3h-5.06zM979.1 123.6l2.53 -4.3h-5.06zM1001.3 85.6l2.53 -4.3h-5.06zM1023.6 48.5l2.53 -4.3h-5.06zM1045.8 24.2l2.53 -4.3h-5.06zM1068 16.4l2.53 -4.3h-5.06zM1090.3 15.9l2.53 -4.3h-5.06zM1112.5 15.4l2.53 -4.3h-5.06zM1134.8 15l2.53 -4.3h-5.06zM1157 15l2.53 -4.3h-5.06z" fill="#f4c31a" stroke="#fff" stroke-width="0.5"/>
</g>
<g clip-path="url(#c0_3)">
<polyline points="937.2,181.7 956.8,154.9 979.1,120.4 1001.3,83.1 1023.6,51 1045.8,25.1 1068,16.4 1090.3,13.9 1112.5,12.8 1134.8,12.5 1157,12.5" fill="none" stroke="#1ec8e2" stroke-width="2.0" stroke-linejoin="round"/>
<path d="M954.7 154l1.26 -1.26 0.92 0.92 0.92 -0.92 1.26 1.26 -0.92 0.92 0.92 0.92 -1.26 1.26 -0.92 -0.92 -0.92 0.92 -1.26 -1.26 0.92 -0.92zM976.9 119.4l1.26 -1.26 0.92 0.92 0.92 -0.92 1.26 1.26 -0.92 0.92 0.92 0.92 -1.26 1.26 -0.92 -0.92 -0.92 0.92 -1.26 -1.26 0.92 -0.92zM999.1 82.1l1.26 -1.26 0.92 0.92 0.92 -0.92 1.26 1.26 -0.92 0.92 0.92 0.92 -1.26 1.26 -0.92 -0.92 -0.92 0.92 -1.26 -1.26 0.92 -0.92zM1021.4 50.1l1.26 -1.26 0.92 0.92 0.92 -0.92 1.26 1.26 -0.92 0.92 0.92 0.92 -1.26 1.26 -0.92 -0.92 -0.92 0.92 -1.26 -1.26 0.92 -0.92zM1043.6 24.2l1.26 -1.26 0.92 0.92 0.92 -0.92 1.26 1.26 -0.92 0.92 0.92 0.92 -1.26 1.26 -0.92 -0.92 -0.92 0.92 -1.26 -1.26 0.92 -0.92zM1065.9 15.5l1.26 -1.26 0.92 0.92 0.92 -0.92 1.26 1.26 -0.92 0.92 0.92 0.92 -1.26 1.26 -0.92 -0.92 -0.92 0.92 -1.26 -1.26 0.92 -0.92zM1088.1 13l1.26 -1.26 0.92 0.92 0.92 -0.92 1.26 1.26 -0.92 0.92 0.92 0.92 -1.26 1.26 -0.92 -0.92 -0.92 0.92 -1.26 -1.26 0.92 -0.92zM1110.3 11.9l1.26 -1.26 0.92 0.92 0.92 -0.92 1.26 1.26 -0.92 0.92 0.92 0.92 -1.26 1.26 -0.92 -0.92 -0.92 0.92 -1.26 -1.26 0.92 -0.92zM1132.6 11.5l1.26 -1.26 0.92 0.92 0.92 -0.92 1.26 1.26 -0.92 0.92 0.92 0.92 -1.26 1.26 -0.92 -0.92 -0.92 0.92 -1.26 -1.26 0.92 -0.92zM1154.8 11.5l1.26 -1.26 0.92 0.92 0.92 -0.92 1.26 1.26 -0.92 0.92 0.92 0.92 -1.26 1.26 -0.92 -0.92 -0.92 0.92 -1.26 -1.26 0.92 -0.92z" fill="#1ec8e2" stroke="#fff" stroke-width="0.5"/>
<path d="M956.8 160.4V149.5M1001.3 85.8V80.4M1023.6 54.6V47.4" stroke="#1ec8e2" stroke-width="1.6"/>
</g>
<g clip-path="url(#c0_3)">
<polyline points="937.2,187.7 956.8,146.2 979.1,119.5 1001.3,87.4 1023.6,57.2 1045.8,33.8 1068,21.7 1090.3,15.5 1112.5,13.5 1134.8,13 1157,12.5" fill="none" stroke="#1a3ad6" stroke-width="2.0" stroke-linejoin="round"/>
<path d="M954.5 146.2a2.3 2.3 0 1 0 4.6 0a2.3 2.3 0 1 0 -4.6 0zM976.8 119.5a2.3 2.3 0 1 0 4.6 0a2.3 2.3 0 1 0 -4.6 0zM999 87.4a2.3 2.3 0 1 0 4.6 0a2.3 2.3 0 1 0 -4.6 0zM1021.3 57.2a2.3 2.3 0 1 0 4.6 0a2.3 2.3 0 1 0 -4.6 0zM1043.5 33.8a2.3 2.3 0 1 0 4.6 0a2.3 2.3 0 1 0 -4.6 0zM1065.7 21.7a2.3 2.3 0 1 0 4.6 0a2.3 2.3 0 1 0 -4.6 0zM1088 15.5a2.3 2.3 0 1 0 4.6 0a2.3 2.3 0 1 0 -4.6 0zM1110.2 13.5a2.3 2.3 0 1 0 4.6 0a2.3 2.3 0 1 0 -4.6 0zM1132.5 13a2.3 2.3 0 1 0 4.6 0a2.3 2.3 0 1 0 -4.6 0zM1154.7 12.5a2.3 2.3 0 1 0 4.6 0a2.3 2.3 0 1 0 -4.6 0z" fill="#1a3ad6" stroke="#fff" stroke-width="0.5"/>
<path d="M956.8 148.4V144.1M1001.3 89.6V85.2M1023.6 59.3V55M1045.8 36V31.7" stroke="#1a3ad6" stroke-width="1.6"/>
</g>
<rect x="1168.8" y="4" width="154.7" height="219" rx="2" fill="#fff" stroke="#cccccc" stroke-width="1"/>
<path d="M1173.8 14.7H1198.9" stroke="#023eff" stroke-width="1.0" stroke-dasharray="1.9 2.0"/>
<path d="M1183.2 14.7a3.6 3.6 0 1 0 7.2 0a3.6 3.6 0 1 0 -7.2 0z" fill="#023eff" stroke="#fff" stroke-width="0.5"/>
<text x="1212.6" y="19.5" font-size="14.10" text-anchor="start" textLength="27.9" lengthAdjust="spacingAndGlyphs" fill="#262626" >MSP</text>
<path d="M1173.8 34.4H1198.9" stroke="#ff7c00" stroke-width="1.0" stroke-dasharray="1.9 2.0"/>
<path d="M1183.4 33l1.98 -1.98 1.44 1.44 1.44 -1.44 1.98 1.98 -1.44 1.44 1.44 1.44 -1.98 1.98 -1.44 -1.44 -1.44 1.44 -1.98 -1.98 1.44 -1.44z" fill="#ff7c00" stroke="#fff" stroke-width="0.5"/>
<text x="1212.6" y="39.2" font-size="14.10" text-anchor="start" textLength="60.2" lengthAdjust="spacingAndGlyphs" fill="#262626" >MaxLogit</text>
<path d="M1173.8 54.1H1198.9" stroke="#1ac938" stroke-width="1.0" stroke-dasharray="1.9 2.0"/>
<path d="M1183.8 51h6.12v6.12h-6.12z" fill="#1ac938" stroke="#fff" stroke-width="0.5"/>
<text x="1212.6" y="58.9" font-size="14.10" text-anchor="start" textLength="46.6" lengthAdjust="spacingAndGlyphs" fill="#262626" >Energy</text>
<path d="M1173.8 73.8H1198.9" stroke="#e8000b" stroke-width="1.0" stroke-dasharray="1.9 2.0"/>
<path d="M1185.5 70.2h2.74v2.23h2.23v2.74h-2.23v2.23h-2.74v-2.23h-2.23v-2.74h2.23z" fill="#e8000b" stroke="#fff" stroke-width="0.5"/>
<text x="1212.6" y="78.6" font-size="14.10" text-anchor="start" textLength="39.6" lengthAdjust="spacingAndGlyphs" fill="#262626" >SIRC [</text>
<text x="1252.2" y="78.6" font-size="14.10" text-anchor="start" textLength="7.4" lengthAdjust="spacingAndGlyphs" fill="#262626" font-style="italic">L</text>
<text x="1259.7" y="81.1" font-size="9.87" text-anchor="start" textLength="5.9" lengthAdjust="spacingAndGlyphs" fill="#262626" >1</text>
<text x="1266.1" y="78.6" font-size="14.10" text-anchor="start" textLength="5.2" lengthAdjust="spacingAndGlyphs" fill="#262626" >]</text>
<path d="M1173.8 93.5H1198.9" stroke="#8b2be2" stroke-width="1.0" stroke-dasharray="1.9 2.0"/>
<path d="M1186.8 89.7l3.78 3.78l-3.78 3.78l-3.78 -3.78z" fill="#8b2be2" stroke="#fff" stroke-width="0.5"/>
<text x="1212.6" y="98.3" font-size="14.10" text-anchor="start" textLength="68.6" lengthAdjust="spacingAndGlyphs" fill="#262626" >SIRC [Res]</text>
<path d="M1173.8 113.2H1198.9" stroke="#9f4800" stroke-width="1.0" stroke-dasharray="1.9 2.0"/>
<path d="M1186.8 109.4l2.16 3.78l-2.16 3.78l-2.16 -3.78z" fill="#9f4800" stroke="#fff" stroke-width="0.5"/>
<text x="1212.6" y="118" font-size="14.10" text-anchor="start" textLength="33.6" lengthAdjust="spacingAndGlyphs" fill="#262626" >CCE*</text>
<path d="M1173.8 132.9H1198.9" stroke="#f14cc1" stroke-width="1.0" stroke-dasharray="1.9 2.0"/>
<path d="M1186.8 128.9l3.96 6.73h-7.92z" fill="#f14cc1" stroke="#fff" stroke-width="0.5"/>
<text x="1212.6" y="137.7" font-size="14.10" text-anchor="start" textLength="34.6" lengthAdjust="spacingAndGlyphs" fill="#262626" >DCE*</text>
<path d="M1173.8 152.6H1198.9" stroke="#a3a3a3" stroke-width="1.0" stroke-dasharray="1.9 2.0"/>
<path d="M1183.4 151.2l1.98 -1.98 1.44 1.44 1.44 -1.44 1.98 1.98 -1.44 1.44 1.44 1.44 -1.98 1.98 -1.44 -1.44 -1.44 1.44 -1.98 -1.98 1.44 -1.44z" fill="#a3a3a3" stroke="#fff" stroke-width="0.5"/>
<text x="1212.6" y="157.4" font-size="14.10" text-anchor="start" textLength="25.5" lengthAdjust="spacingAndGlyphs" fill="#262626" >OE*</text>
<path d="M1173.8 172.3H1198.9" stroke="#f4c31a" stroke-width="2.6"/>
<path d="M1186.8 176.3l3.96 -6.73h-7.92z" fill="#f4c31a" stroke="#fff" stroke-width="0.5"/>
<text x="1212.6" y="177.1" font-size="14.10" text-anchor="start" textLength="77.4" lengthAdjust="spacingAndGlyphs" fill="#262626" >Plug-in BB [</text>
<text x="1290" y="177.1" font-size="14.10" text-anchor="start" textLength="7.4" lengthAdjust="spacingAndGlyphs" fill="#262626" font-style="italic">L</text>
<text x="1297.4" y="179.6" font-size="9.87" text-anchor="start" textLength="5.9" lengthAdjust="spacingAndGlyphs" fill="#262626" >1</text>
<text x="1303.8" y="177.1" font-size="14.10" text-anchor="start" textLength="5.2" lengthAdjust="spacingAndGlyphs" fill="#262626" >]</text>
<path d="M1173.8 192H1198.9" stroke="#1ec8e2" stroke-width="2.6"/>
<path d="M1183.4 190.6l1.98 -1.98 1.44 1.44 1.44 -1.44 1.98 1.98 -1.44 1.44 1.44 1.44 -1.98 1.98 -1.44 -1.44 -1.44 1.44 -1.98 -1.98 1.44 -1.44z" fill="#1ec8e2" stroke="#fff" stroke-width="0.5"/>
<text x="1212.6" y="196.8" font-size="14.10" text-anchor="start" textLength="106.3" lengthAdjust="spacingAndGlyphs" fill="#262626" >Plug-in BB [Res]</text>
<path d="M1173.8 211.7H1198.9" stroke="#1a3ad6" stroke-width="2.6"/>
<path d="M1183.2 211.7a3.6 3.6 0 1 0 7.2 0a3.6 3.6 0 1 0 -7.2 0z" fill="#1a3ad6" stroke="#fff" stroke-width="0.5"/>
<text x="1212.6" y="216.5" font-size="14.10" text-anchor="start" textLength="72.9" lengthAdjust="spacingAndGlyphs" fill="#262626" >Plug-in LB*</text>
<text x="433.0" y="305.0" font-family="Liberation Serif, serif" font-size="33.0" textLength="32.5" lengthAdjust="spacingAndGlyphs" fill="#000">(a)</text><path d="M480.5 284.0H492.5C501.1 284.0 501.1 292.8 492.5 292.8H487.8M483.8 284.0V304.3M487.8 284.0V304.3M480.5 304.3H491.1" stroke="#000" stroke-width="1.25" fill="none"/><path d="M493.8 284.5C497.7 285.8 497.7 291.0 493.8 292.3" stroke="#000" stroke-width="0.9" fill="none"/><text x="500.0" y="307.5" font-family="Liberation Serif, serif" font-size="22.0" textLength="19.5" lengthAdjust="spacingAndGlyphs" fill="#000">in</text><text x="522.5" y="305.0" font-family="Liberation Serif, serif" font-size="33.0" textLength="6.5" lengthAdjust="spacingAndGlyphs" fill="#000">:</text><text x="542.0" y="305.0" font-family="Liberation Serif, serif" font-size="33.0" textLength="153.1" lengthAdjust="spacingAndGlyphs" fill="#000">CIFAR-100;</text><path d="M727.7 284.0H739.7C748.3 284.0 748.3 292.8 739.7 292.8H734.9M730.9 284.0V304.3M734.9 284.0V304.3M727.7 304.3H738.3" stroke="#000" stroke-width="1.25" fill="none"/><path d="M741.0 284.5C744.9 285.8 744.9 291.0 741.0 292.3" stroke="#000" stroke-width="0.9" fill="none"/><text x="746.2" y="307.5" font-family="Liberation Serif, serif" font-size="22.0" textLength="35.0" lengthAdjust="spacingAndGlyphs" fill="#000">out</text><text x="785.5" y="305.0" font-family="Liberation Serif, serif" font-size="33.0" textLength="6.5" lengthAdjust="spacingAndGlyphs" fill="#000">:</text><text x="804.5" y="305.0" font-family="Liberation Serif, serif" font-size="33.0" textLength="82.0" lengthAdjust="spacingAndGlyphs" fill="#000">SVHN</text>
<rect x="49.2" y="339.9" width="219.8" height="199" fill="#eaeaf2"/>
<clipPath id="c1_0"><rect x="49.2" y="339.9" width="219.8" height="199"/></clipPath>
<path d="M91.1 339.9V538.9M135.6 339.9V538.9M180 339.9V538.9M224.5 339.9V538.9M269 339.9V538.9M49.2 530.2H269M49.2 490.7H269M49.2 451.2H269M49.2 411.7H269M49.2 372.2H269" stroke="#fff" stroke-width="1.1" fill="none"/>
<text x="91.1" y="558.9" font-size="14.31" text-anchor="middle" textLength="20.3" lengthAdjust="spacingAndGlyphs" fill="#262626" >0.2</text>
<text x="135.6" y="558.9" font-size="14.31" text-anchor="middle" textLength="20.3" lengthAdjust="spacingAndGlyphs" fill="#262626" >0.4</text>
<text x="180" y="558.9" font-size="14.31" text-anchor="middle" textLength="20.3" lengthAdjust="spacingAndGlyphs" fill="#262626" >0.6</text>
<text x="224.5" y="558.9" font-size="14.31" text-anchor="middle" textLength="20.3" lengthAdjust="spacingAndGlyphs" fill="#262626" >0.8</text>
<text x="269" y="558.9" font-size="14.31" text-anchor="middle" textLength="20.3" lengthAdjust="spacingAndGlyphs" fill="#262626" >1.0</text>
<text x="39.2" y="535.6" font-size="14.31" text-anchor="end" textLength="20.3" lengthAdjust="spacingAndGlyphs" fill="#262626" >0.0</text>
<text x="39.2" y="496.1" font-size="14.31" text-anchor="end" textLength="20.3" lengthAdjust="spacingAndGlyphs" fill="#262626" >0.1</text>
<text x="39.2" y="456.6" font-size="14.31" text-anchor="end" textLength="20.3" lengthAdjust="spacingAndGlyphs" fill="#262626" >0.2</text>
<text x="39.2" y="417.1" font-size="14.31" text-anchor="end" textLength="20.3" lengthAdjust="spacingAndGlyphs" fill="#262626" >0.3</text>
<text x="39.2" y="377.6" font-size="14.31" text-anchor="end" textLength="20.3" lengthAdjust="spacingAndGlyphs" fill="#262626" >0.4</text>
<text x="159.1" y="576.9" font-size="15.48" text-anchor="middle" textLength="139.0" lengthAdjust="spacingAndGlyphs" fill="#262626" >Samples abstained</text>
<g transform="translate(11.5 439.4) rotate(-90)"><text x="0" y="0" font-size="15.48" text-anchor="middle" textLength="63.0" lengthAdjust="spacingAndGlyphs" fill="#262626" >Joint risk</text></g>
<g clip-path="url(#c1_0)">
<polyline points="49.2,360.4 68.8,368.2 91.1,376.1 113.3,384.4 135.6,391.2 157.8,401.4 180,414.1 202.3,434.2 224.5,462.3 246.8,508.1 269,525.5" fill="none" stroke="#023eff" stroke-width="1.0" stroke-dasharray="1.9 2.0"/>
<path d="M66.5 368.2a2.3 2.3 0 1 0 4.6 0a2.3 2.3 0 1 0 -4.6 0zM88.8 376.1a2.3 2.3 0 1 0 4.6 0a2.3 2.3 0 1 0 -4.6 0zM111 384.4a2.3 2.3 0 1 0 4.6 0a2.3 2.3 0 1 0 -4.6 0zM133.3 391.2a2.3 2.3 0 1 0 4.6 0a2.3 2.3 0 1 0 -4.6 0zM155.5 401.4a2.3 2.3 0 1 0 4.6 0a2.3 2.3 0 1 0 -4.6 0zM177.7 414.1a2.3 2.3 0 1 0 4.6 0a2.3 2.3 0 1 0 -4.6 0zM200 434.2a2.3 2.3 0 1 0 4.6 0a2.3 2.3 0 1 0 -4.6 0zM222.2 462.3a2.3 2.3 0 1 0 4.6 0a2.3 2.3 0 1 0 -4.6 0zM244.5 508.1a2.3 2.3 0 1 0 4.6 0a2.3 2.3 0 1 0 -4.6 0zM266.7 525.5a2.3 2.3 0 1 0 4.6 0a2.3 2.3 0 1 0 -4.6 0z" fill="#023eff" stroke="#fff" stroke-width="0.5"/>
<path d="M157.8 403V399.9M180 417.2V410.9M202.3 439V429.5M224.5 470.2V454.4M246.8 516V500.2" stroke="#023eff" stroke-width="1.6"/>
</g>
<g clip-path="url(#c1_0)">
<polyline points="49.2,360.4 68.8,370.2 91.1,384.1 113.3,399.9 135.6,417.6 157.8,433.4 180,453.2 202.3,474.9 224.5,492.7 246.8,508.5 269,522.3" fill="none" stroke="#ff7c00" stroke-width="1.0" stroke-dasharray="1.9 2.0"/>
<path d="M66.7 369.3l1.26 -1.26 0.92 0.92 0.92 -0.92 1.26 1.26 -0.92 0.92 0.92 0.92 -1.26 1.26 -0.92 -0.92 -0.92 0.92 -1.26 -1.26 0.92 -0.92zM88.9 383.1l1.26 -1.26 0.92 0.92 0.92 -0.92 1.26 1.26 -0.92 0.92 0.92 0.92 -1.26 1.26 -0.92 -0.92 -0.92 0.92 -1.26 -1.26 0.92 -0.92zM111.1 398.9l1.26 -1.26 0.92 0.92 0.92 -0.92 1.26 1.26 -0.92 0.92 0.92 0.92 -1.26 1.26 -0.92 -0.92 -0.92 0.92 -1.26 -1.26 0.92 -0.92zM133.4 416.7l1.26 -1.26 0.92 0.92 0.92 -0.92 1.26 1.26 -0.92 0.92 0.92 0.92 -1.26 1.26 -0.92 -0.92 -0.92 0.92 -1.26 -1.26 0.92 -0.92zM155.6 432.5l1.26 -1.26 0.92 0.92 0.92 -0.92 1.26 1.26 -0.92 0.92 0.92 0.92 -1.26 1.26 -0.92 -0.92 -0.92 0.92 -1.26 -1.26 0.92 -0.92zM177.9 452.3l1.26 -1.26 0.92 0.92 0.92 -0.92 1.26 1.26 -0.92 0.92 0.92 0.92 -1.26 1.26 -0.92 -0.92 -0.92 0.92 -1.26 -1.26 0.92 -0.92zM200.1 474l1.26 -1.26 0.92 0.92 0.92 -0.92 1.26 1.26 -0.92 0.92 0.92 0.92 -1.26 1.26 -0.92 -0.92 -0.92 0.92 -1.26 -1.26 0.92 -0.92zM222.3 491.8l1.26 -1.26 0.92 0.92 0.92 -0.92 1.26 1.26 -0.92 0.92 0.92 0.92 -1.26 1.26 -0.92 -0.92 -0.92 0.92 -1.26 -1.26 0.92 -0.92zM244.6 507.6l1.26 -1.26 0.92 0.92 0.92 -0.92 1.26 1.26 -0.92 0.92 0.92 0.92 -1.26 1.26 -0.92 -0.92 -0.92 0.92 -1.26 -1.26 0.92 -0.92zM266.8 521.4l1.26 -1.26 0.92 0.92 0.92 -0.92 1.26 1.26 -0.92 0.92 0.92 0.92 -1.26 1.26 -0.92 -0.92 -0.92 0.92 -1.26 -1.26 0.92 -0.92z" fill="#ff7c00" stroke="#fff" stroke-width="0.5"/>
</g>
<g clip-path="url(#c1_0)">
<polyline points="49.2,360.4 68.8,370.2 91.1,384.1 113.3,399.9 135.6,418.4 157.8,431.8 180,452.8 202.3,474.9 224.5,494.7 246.8,508.5 269,522.3" fill="none" stroke="#1ac938" stroke-width="1.0" stroke-dasharray="1.9 2.0"/>
<path d="M66.9 368.3h3.91v3.91h-3.91zM89.1 382.1h3.91v3.91h-3.91zM111.4 397.9h3.91v3.91h-3.91zM133.6 416.5h3.91v3.91h-3.91zM155.8 429.9h3.91v3.91h-3.91zM178.1 450.8h3.91v3.91h-3.91zM200.3 472.9h3.91v3.91h-3.91zM222.6 492.7h3.91v3.91h-3.91zM244.8 506.5h3.91v3.91h-3.91zM267 520.3h3.91v3.91h-3.91z" fill="#1ac938" stroke="#fff" stroke-width="0.5"/>
<path d="M157.8 437.8V425.9M180 460.7V444.9M202.3 478.9V471" stroke="#1ac938" stroke-width="1.6"/>
</g>
<g clip-path="url(#c1_0)">
<polyline points="49.2,360.4 68.8,368.2 91.1,382.1 113.3,399.9 135.6,410.5 157.8,420.4 180,431.8 202.3,450 224.5,475.3 246.8,502.6 269,522.3" fill="none" stroke="#e8000b" stroke-width="1.0" stroke-dasharray="1.9 2.0"/>
<path d="M68 365.9h1.75v1.43h1.43v1.75h-1.43v1.43h-1.75v-1.43h-1.43v-1.75h1.43zM90.2 379.8h1.75v1.43h1.43v1.75h-1.43v1.43h-1.75v-1.43h-1.43v-1.75h1.43zM112.4 397.6h1.75v1.43h1.43v1.75h-1.43v1.43h-1.75v-1.43h-1.43v-1.75h1.43zM134.7 408.2h1.75v1.43h1.43v1.75h-1.43v1.43h-1.75v-1.43h-1.43v-1.75h1.43zM156.9 418.1h1.75v1.43h1.43v1.75h-1.43v1.43h-1.75v-1.43h-1.43v-1.75h1.43zM179.2 429.5h1.75v1.43h1.43v1.75h-1.43v1.43h-1.75v-1.43h-1.43v-1.75h1.43zM201.4 447.7h1.75v1.43h1.43v1.75h-1.43v1.43h-1.75v-1.43h-1.43v-1.75h1.43zM223.6 473h1.75v1.43h1.43v1.75h-1.43v1.43h-1.75v-1.43h-1.43v-1.75h1.43zM245.9 500.2h1.75v1.43h1.43v1.75h-1.43v1.43h-1.75v-1.43h-1.43v-1.75h1.43zM268.1 520h1.75v1.43h1.43v1.75h-1.43v1.43h-1.75v-1.43h-1.43v-1.75h1.43z" fill="#e8000b" stroke="#fff" stroke-width="0.5"/>
<path d="M202.3 455.9V444.1" stroke="#e8000b" stroke-width="1.6"/>
</g>
<g clip-path="url(#c1_0)">
<polyline points="49.2,360.4 68.8,368.2 91.1,380.1 113.3,390.4 135.6,398.3 157.8,409.3 180,421.6 202.3,439.7 224.5,468.2 246.8,501 269,522.3" fill="none" stroke="#8b2be2" stroke-width="1.0" stroke-dasharray="1.9 2.0"/>
<path d="M68.8 365.8l2.42 2.42l-2.42 2.42l-2.42 -2.42zM91.1 377.7l2.42 2.42l-2.42 2.42l-2.42 -2.42zM113.3 388l2.42 2.42l-2.42 2.42l-2.42 -2.42zM135.6 395.9l2.42 2.42l-2.42 2.42l-2.42 -2.42zM157.8 406.9l2.42 2.42l-2.42 2.42l-2.42 -2.42zM180 419.2l2.42 2.42l-2.42 2.42l-2.42 -2.42zM202.3 437.3l2.42 2.42l-2.42 2.42l-2.42 -2.42zM224.5 465.8l2.42 2.42l-2.42 2.42l-2.42 -2.42zM246.8 498.6l2.42 2.42l-2.42 2.42l-2.42 -2.42zM269 519.9l2.42 2.42l-2.42 2.42l-2.42 -2.42z" fill="#8b2be2" stroke="#fff" stroke-width="0.5"/>
</g>
<g clip-path="url(#c1_0)">
<polyline points="49.2,360.4 68.8,368.2 91.1,384.1 113.3,403.8 135.6,428.3 157.8,451.2 180,473.3 202.3,478.9 224.5,480.8 246.8,494.7 269,506.5" fill="none" stroke="#9f4800" stroke-width="1.0" stroke-dasharray="1.9 2.0"/>
<path d="M68.8 365.8l1.38 2.42l-1.38 2.42l-1.38 -2.42zM91.1 381.6l1.38 2.42l-1.38 2.42l-1.38 -2.42zM113.3 401.4l1.38 2.42l-1.38 2.42l-1.38 -2.42zM135.6 425.9l1.38 2.42l-1.38 2.42l-1.38 -2.42zM157.8 448.8l1.38 2.42l-1.38 2.42l-1.38 -2.42zM180 470.9l1.38 2.42l-1.38 2.42l-1.38 -2.42zM202.3 476.4l1.38 2.42l-1.38 2.42l-1.38 -2.42zM224.5 478.4l1.38 2.42l-1.38 2.42l-1.38 -2.42zM246.8 492.2l1.38 2.42l-1.38 2.42l-1.38 -2.42zM269 504.1l1.38 2.42l-1.38 2.42l-1.38 -2.42z" fill="#9f4800" stroke="#fff" stroke-width="0.5"/>
</g>
<g clip-path="url(#c1_0)">
<polyline points="49.2,360.4 68.8,370.2 91.1,384.1 113.3,407.8 135.6,444.1 157.8,471 180,478.9 202.3,482.8 224.5,486.8 246.8,485.6 269,493.5" fill="none" stroke="#f14cc1" stroke-width="1.0" stroke-dasharray="1.9 2.0"/>
<path d="M68.8 367.7l2.53 4.3h-5.06zM91.1 381.5l2.53 4.3h-5.06zM113.3 405.2l2.53 4.3h-5.06zM135.6 441.6l2.53 4.3h-5.06zM157.8 468.4l2.53 4.3h-5.06zM180 476.3l2.53 4.3h-5.06zM202.3 480.3l2.53 4.3h-5.06zM224.5 484.2l2.53 4.3h-5.06zM246.8 483l2.53 4.3h-5.06zM269 490.9l2.53 4.3h-5.06z" fill="#f14cc1" stroke="#fff" stroke-width="0.5"/>
<path d="M135.6 450V438.2M157.8 476.9V465" stroke="#f14cc1" stroke-width="1.6"/>
</g>
<g clip-path="url(#c1_0)">
<polyline points="49.2,353.2 68.8,361.1 91.1,375.8 113.3,395.5 135.6,419.6 157.8,442.1 180,463.1 202.3,471.7 224.5,476.9 246.8,490.7 269,510.5" fill="none" stroke="#a3a3a3" stroke-width="1.0" stroke-dasharray="1.9 2.0"/>
<path d="M66.7 360.2l1.26 -1.26 0.92 0.92 0.92 -0.92 1.26 1.26 -0.92 0.92 0.92 0.92 -1.26 1.26 -0.92 -0.92 -0.92 0.92 -1.26 -1.26 0.92 -0.92zM88.9 374.8l1.26 -1.26 0.92 0.92 0.92 -0.92 1.26 1.26 -0.92 0.92 0.92 0.92 -1.26 1.26 -0.92 -0.92 -0.92 0.92 -1.26 -1.26 0.92 -0.92zM111.1 394.6l1.26 -1.26 0.92 0.92 0.92 -0.92 1.26 1.26 -0.92 0.92 0.92 0.92 -1.26 1.26 -0.92 -0.92 -0.92 0.92 -1.26 -1.26 0.92 -0.92zM133.4 418.7l1.26 -1.26 0.92 0.92 0.92 -0.92 1.26 1.26 -0.92 0.92 0.92 0.92 -1.26 1.26 -0.92 -0.92 -0.92 0.92 -1.26 -1.26 0.92 -0.92zM155.6 441.2l1.26 -1.26 0.92 0.92 0.92 -0.92 1.26 1.26 -0.92 0.92 0.92 0.92 -1.26 1.26 -0.92 -0.92 -0.92 0.92 -1.26 -1.26 0.92 -0.92zM177.9 462.1l1.26 -1.26 0.92 0.92 0.92 -0.92 1.26 1.26 -0.92 0.92 0.92 0.92 -1.26 1.26 -0.92 -0.92 -0.92 0.92 -1.26 -1.26 0.92 -0.92zM200.1 470.8l1.26 -1.26 0.92 0.92 0.92 -0.92 1.26 1.26 -0.92 0.92 0.92 0.92 -1.26 1.26 -0.92 -0.92 -0.92 0.92 -1.26 -1.26 0.92 -0.92zM222.3 476l1.26 -1.26 0.92 0.92 0.92 -0.92 1.26 1.26 -0.92 0.92 0.92 0.92 -1.26 1.26 -0.92 -0.92 -0.92 0.92 -1.26 -1.26 0.92 -0.92zM244.6 489.8l1.26 -1.26 0.92 0.92 0.92 -0.92 1.26 1.26 -0.92 0.92 0.92 0.92 -1.26 1.26 -0.92 -0.92 -0.92 0.92 -1.26 -1.26 0.92 -0.92zM266.8 509.5l1.26 -1.26 0.92 0.92 0.92 -0.92 1.26 1.26 -0.92 0.92 0.92 0.92 -1.26 1.26 -0.92 -0.92 -0.92 0.92 -1.26 -1.26 0.92 -0.92z" fill="#a3a3a3" stroke="#fff" stroke-width="0.5"/>
<path d="M68.8 367.1V355.2M91.1 381.7V369.8M113.3 401.4V389.6M202.3 477.7V465.8M246.8 498.6V482.8" stroke="#a3a3a3" stroke-width="1.6"/>
</g>
<g clip-path="url(#c1_0)">
<polyline points="49.2,360.7 68.8,373 91.1,392 113.3,411.7 135.6,433.8 157.8,452 180,468.2 202.3,485.6 224.5,502.2 246.8,510.5 269,521.1" fill="none" stroke="#f4c31a" stroke-width="2.0" stroke-linejoin="round"/>
<path d="M68.8 375.5l2.53 -4.3h-5.06zM91.1 394.5l2.53 -4.3h-5.06zM113.3 414.2l2.53 -4.3h-5.06zM135.6 436.4l2.53 -4.3h-5.06zM157.8 454.5l2.53 -4.3h-5.06zM180 470.7l2.53 -4.3h-5.06zM202.3 488.1l2.53 -4.3h-5.06zM224.5 504.7l2.53 -4.3h-5.06zM246.8 513l2.53 -4.3h-5.06zM269 523.6l2.53 -4.3h-5.06z" fill="#f4c31a" stroke="#fff" stroke-width="0.5"/>
<path d="M91.1 395.9V388M113.3 415.7V407.8M135.6 437.8V429.9M157.8 455.9V448M180 472.1V464.2M202.3 489.5V481.6" stroke="#f4c31a" stroke-width="1.6"/>
</g>
<g clip-path="url(#c1_0)">
<polyline points="49.2,360.7 68.8,370.6 91.1,386.8 113.3,403.4 135.6,420.8 157.8,437 180,453.6 202.3,472.5 224.5,494.3 246.8,509.7 269,514.8" fill="none" stroke="#1ec8e2" stroke-width="2.0" stroke-linejoin="round"/>
<path d="M66.7 369.7l1.26 -1.26 0.92 0.92 0.92 -0.92 1.26 1.26 -0.92 0.92 0.92 0.92 -1.26 1.26 -0.92 -0.92 -0.92 0.92 -1.26 -1.26 0.92 -0.92zM88.9 385.9l1.26 -1.26 0.92 0.92 0.92 -0.92 1.26 1.26 -0.92 0.92 0.92 0.92 -1.26 1.26 -0.92 -0.92 -0.92 0.92 -1.26 -1.26 0.92 -0.92zM111.1 402.5l1.26 -1.26 0.92 0.92 0.92 -0.92 1.26 1.26 -0.92 0.92 0.92 0.92 -1.26 1.26 -0.92 -0.92 -0.92 0.92 -1.26 -1.26 0.92 -0.92zM133.4 419.9l1.26 -1.26 0.92 0.92 0.92 -0.92 1.26 1.26 -0.92 0.92 0.92 0.92 -1.26 1.26 -0.92 -0.92 -0.92 0.92 -1.26 -1.26 0.92 -0.92zM155.6 436.1l1.26 -1.26 0.92 0.92 0.92 -0.92 1.26 1.26 -0.92 0.92 0.92 0.92 -1.26 1.26 -0.92 -0.92 -0.92 0.92 -1.26 -1.26 0.92 -0.92zM177.9 452.7l1.26 -1.26 0.92 0.92 0.92 -0.92 1.26 1.26 -0.92 0.92 0.92 0.92 -1.26 1.26 -0.92 -0.92 -0.92 0.92 -1.26 -1.26 0.92 -0.92zM200.1 471.6l1.26 -1.26 0.92 0.92 0.92 -0.92 1.26 1.26 -0.92 0.92 0.92 0.92 -1.26 1.26 -0.92 -0.92 -0.92 0.92 -1.26 -1.26 0.92 -0.92zM222.3 493.3l1.26 -1.26 0.92 0.92 0.92 -0.92 1.26 1.26 -0.92 0.92 0.92 0.92 -1.26 1.26 -0.92 -0.92 -0.92 0.92 -1.26 -1.26 0.92 -0.92zM244.6 508.7l1.26 -1.26 0.92 0.92 0.92 -0.92 1.26 1.26 -0.92 0.92 0.92 0.92 -1.26 1.26 -0.92 -0.92 -0.92 0.92 -1.26 -1.26 0.92 -0.92zM266.8 513.9l1.26 -1.26 0.92 0.92 0.92 -0.92 1.26 1.26 -0.92 0.92 0.92 0.92 -1.26 1.26 -0.92 -0.92 -0.92 0.92 -1.26 -1.26 0.92 -0.92z" fill="#1ec8e2" stroke="#fff" stroke-width="0.5"/>
<path d="M68.8 374.6V366.7M91.1 390.8V382.9M113.3 409.3V397.5M135.6 426.7V414.9M157.8 442.9V431.1M180 459.5V447.6M202.3 476.5V468.6M224.5 498.2V490.3" stroke="#1ec8e2" stroke-width="1.6"/>
</g>
<g clip-path="url(#c1_0)">
<polyline points="49.2,360.7 157.8,460.3 180,479.6 202.3,483.6 224.5,489.1 246.8,509.7 269,525.5" fill="none" stroke="#1a3ad6" stroke-width="2.0" stroke-linejoin="round"/>
<path d="M155.5 460.3a2.3 2.3 0 1 0 4.6 0a2.3 2.3 0 1 0 -4.6 0zM177.7 479.6a2.3 2.3 0 1 0 4.6 0a2.3 2.3 0 1 0 -4.6 0zM200 483.6a2.3 2.3 0 1 0 4.6 0a2.3 2.3 0 1 0 -4.6 0zM222.2 489.1a2.3 2.3 0 1 0 4.6 0a2.3 2.3 0 1 0 -4.6 0zM244.5 509.7a2.3 2.3 0 1 0 4.6 0a2.3 2.3 0 1 0 -4.6 0zM266.7 525.5a2.3 2.3 0 1 0 4.6 0a2.3 2.3 0 1 0 -4.6 0z" fill="#1a3ad6" stroke="#fff" stroke-width="0.5"/>
<path d="M224.5 493.1V485.2M246.8 515.6V503.7" stroke="#1a3ad6" stroke-width="1.6"/>
</g>
<rect x="343.7" y="339.9" width="219.2" height="199" fill="#eaeaf2"/>
<clipPath id="c1_1"><rect x="343.7" y="339.9" width="219.2" height="199"/></clipPath>
<path d="M385.5 339.9V538.9M429.8 339.9V538.9M474.2 339.9V538.9M518.5 339.9V538.9M562.9 339.9V538.9M343.7 522.3H562.9M343.7 478.8H562.9M343.7 435.3H562.9M343.7 391.8H562.9M343.7 348.3H562.9" stroke="#fff" stroke-width="1.1" fill="none"/>
<text x="385.5" y="558.9" font-size="14.31" text-anchor="middle" textLength="20.3" lengthAdjust="spacingAndGlyphs" fill="#262626" >0.2</text>
<text x="429.8" y="558.9" font-size="14.31" text-anchor="middle" textLength="20.3" lengthAdjust="spacingAndGlyphs" fill="#262626" >0.4</text>
<text x="474.2" y="558.9" font-size="14.31" text-anchor="middle" textLength="20.3" lengthAdjust="spacingAndGlyphs" fill="#262626" >0.6</text>
<text x="518.5" y="558.9" font-size="14.31" text-anchor="middle" textLength="20.3" lengthAdjust="spacingAndGlyphs" fill="#262626" >0.8</text>
<text x="562.9" y="558.9" font-size="14.31" text-anchor="middle" textLength="20.3" lengthAdjust="spacingAndGlyphs" fill="#262626" >1.0</text>
<text x="333.7" y="527.7" font-size="14.31" text-anchor="end" textLength="20.3" lengthAdjust="spacingAndGlyphs" fill="#262626" >0.2</text>
<text x="333.7" y="484.2" font-size="14.31" text-anchor="end" textLength="20.3" lengthAdjust="spacingAndGlyphs" fill="#262626" >0.4</text>
<text x="333.7" y="440.7" font-size="14.31" text-anchor="end" textLength="20.3" lengthAdjust="spacingAndGlyphs" fill="#262626" >0.6</text>
<text x="333.7" y="397.2" font-size="14.31" text-anchor="end" textLength="20.3" lengthAdjust="spacingAndGlyphs" fill="#262626" >0.8</text>
<text x="333.7" y="353.7" font-size="14.31" text-anchor="end" textLength="20.3" lengthAdjust="spacingAndGlyphs" fill="#262626" >1.0</text>
<text x="453.3" y="576.9" font-size="15.48" text-anchor="middle" textLength="139.0" lengthAdjust="spacingAndGlyphs" fill="#262626" >Samples abstained</text>
<g transform="translate(304.2 439.4) rotate(-90)"><text x="0" y="0" font-size="15.48" text-anchor="middle" textLength="107.2" lengthAdjust="spacingAndGlyphs" fill="#262626" >Inlier accuracy</text></g>
<g clip-path="url(#c1_1)">
<polyline points="343.7,508.2 363.3,502.7 385.5,495.1 407.6,487.5 429.8,478.8 452,471.8 474.2,458.8 496.4,438.8 518.5,414.6 540.7,378.3 562.9,354.8" fill="none" stroke="#023eff" stroke-width="1.0" stroke-dasharray="1.9 2.0"/>
<path d="M361 502.7a2.3 2.3 0 1 0 4.6 0a2.3 2.3 0 1 0 -4.6 0zM383.2 495.1a2.3 2.3 0 1 0 4.6 0a2.3 2.3 0 1 0 -4.6 0zM405.3 487.5a2.3 2.3 0 1 0 4.6 0a2.3 2.3 0 1 0 -4.6 0zM427.5 478.8a2.3 2.3 0 1 0 4.6 0a2.3 2.3 0 1 0 -4.6 0zM449.7 471.8a2.3 2.3 0 1 0 4.6 0a2.3 2.3 0 1 0 -4.6 0zM471.9 458.8a2.3 2.3 0 1 0 4.6 0a2.3 2.3 0 1 0 -4.6 0zM494.1 438.8a2.3 2.3 0 1 0 4.6 0a2.3 2.3 0 1 0 -4.6 0zM516.2 414.6a2.3 2.3 0 1 0 4.6 0a2.3 2.3 0 1 0 -4.6 0zM538.4 378.3a2.3 2.3 0 1 0 4.6 0a2.3 2.3 0 1 0 -4.6 0zM560.6 354.8a2.3 2.3 0 1 0 4.6 0a2.3 2.3 0 1 0 -4.6 0z" fill="#023eff" stroke="#fff" stroke-width="0.5"/>
</g>
<g clip-path="url(#c1_1)">
<polyline points="343.7,508.2 363.3,502.7 385.5,495.1 407.6,487.1 429.8,477.7 452,466.8 474.2,454.9 496.4,435.3 518.5,409.2 540.7,380.9 562.9,359.2" fill="none" stroke="#ff7c00" stroke-width="1.0" stroke-dasharray="1.9 2.0"/>
<path d="M361.1 501.8l1.26 -1.26 0.92 0.92 0.92 -0.92 1.26 1.26 -0.92 0.92 0.92 0.92 -1.26 1.26 -0.92 -0.92 -0.92 0.92 -1.26 -1.26 0.92 -0.92zM383.3 494.2l1.26 -1.26 0.92 0.92 0.92 -0.92 1.26 1.26 -0.92 0.92 0.92 0.92 -1.26 1.26 -0.92 -0.92 -0.92 0.92 -1.26 -1.26 0.92 -0.92zM405.5 486.1l1.26 -1.26 0.92 0.92 0.92 -0.92 1.26 1.26 -0.92 0.92 0.92 0.92 -1.26 1.26 -0.92 -0.92 -0.92 0.92 -1.26 -1.26 0.92 -0.92zM427.6 476.8l1.26 -1.26 0.92 0.92 0.92 -0.92 1.26 1.26 -0.92 0.92 0.92 0.92 -1.26 1.26 -0.92 -0.92 -0.92 0.92 -1.26 -1.26 0.92 -0.92zM449.8 465.9l1.26 -1.26 0.92 0.92 0.92 -0.92 1.26 1.26 -0.92 0.92 0.92 0.92 -1.26 1.26 -0.92 -0.92 -0.92 0.92 -1.26 -1.26 0.92 -0.92zM472 454l1.26 -1.26 0.92 0.92 0.92 -0.92 1.26 1.26 -0.92 0.92 0.92 0.92 -1.26 1.26 -0.92 -0.92 -0.92 0.92 -1.26 -1.26 0.92 -0.92zM494.2 434.4l1.26 -1.26 0.92 0.92 0.92 -0.92 1.26 1.26 -0.92 0.92 0.92 0.92 -1.26 1.26 -0.92 -0.92 -0.92 0.92 -1.26 -1.26 0.92 -0.92zM516.4 408.3l1.26 -1.26 0.92 0.92 0.92 -0.92 1.26 1.26 -0.92 0.92 0.92 0.92 -1.26 1.26 -0.92 -0.92 -0.92 0.92 -1.26 -1.26 0.92 -0.92zM538.5 380l1.26 -1.26 0.92 0.92 0.92 -0.92 1.26 1.26 -0.92 0.92 0.92 0.92 -1.26 1.26 -0.92 -0.92 -0.92 0.92 -1.26 -1.26 0.92 -0.92zM560.7 358.3l1.26 -1.26 0.92 0.92 0.92 -0.92 1.26 1.26 -0.92 0.92 0.92 0.92 -1.26 1.26 -0.92 -0.92 -0.92 0.92 -1.26 -1.26 0.92 -0.92z" fill="#ff7c00" stroke="#fff" stroke-width="0.5"/>
</g>
<g clip-path="url(#c1_1)">
<polyline points="343.7,508.2 363.3,502.7 385.5,495.1 407.6,487.1 429.8,477.7 452,466.8 474.2,454.9 496.4,435.3 518.5,409.2 540.7,383.1 562.9,374" fill="none" stroke="#1ac938" stroke-width="1.0" stroke-dasharray="1.9 2.0"/>
<path d="M361.3 500.8h3.91v3.91h-3.91zM383.5 493.2h3.91v3.91h-3.91zM405.7 485.1h3.91v3.91h-3.91zM427.9 475.8h3.91v3.91h-3.91zM450 464.9h3.91v3.91h-3.91zM472.2 452.9h3.91v3.91h-3.91zM494.4 433.3h3.91v3.91h-3.91zM516.6 407.2h3.91v3.91h-3.91zM538.8 381.1h3.91v3.91h-3.91zM560.9 372h3.91v3.91h-3.91z" fill="#1ac938" stroke="#fff" stroke-width="0.5"/>
</g>
<g clip-path="url(#c1_1)">
<polyline points="343.7,508.2 363.3,502.7 385.5,495.1 407.6,487.1 429.8,477.7 452,465.8 474.2,454.9 496.4,437.5 518.5,409.2 540.7,376.6 562.9,352.6" fill="none" stroke="#e8000b" stroke-width="1.0" stroke-dasharray="1.9 2.0"/>
<path d="M362.4 500.4h1.75v1.43h1.43v1.75h-1.43v1.43h-1.75v-1.43h-1.43v-1.75h1.43zM384.6 492.8h1.75v1.43h1.43v1.75h-1.43v1.43h-1.75v-1.43h-1.43v-1.75h1.43zM406.8 484.8h1.75v1.43h1.43v1.75h-1.43v1.43h-1.75v-1.43h-1.43v-1.75h1.43zM428.9 475.4h1.75v1.43h1.43v1.75h-1.43v1.43h-1.75v-1.43h-1.43v-1.75h1.43zM451.1 463.4h1.75v1.43h1.43v1.75h-1.43v1.43h-1.75v-1.43h-1.43v-1.75h1.43zM473.3 452.6h1.75v1.43h1.43v1.75h-1.43v1.43h-1.75v-1.43h-1.43v-1.75h1.43zM495.5 435.2h1.75v1.43h1.43v1.75h-1.43v1.43h-1.75v-1.43h-1.43v-1.75h1.43zM517.7 406.9h1.75v1.43h1.43v1.75h-1.43v1.43h-1.75v-1.43h-1.43v-1.75h1.43zM539.8 374.3h1.75v1.43h1.43v1.75h-1.43v1.43h-1.75v-1.43h-1.43v-1.75h1.43zM562 350.3h1.75v1.43h1.43v1.75h-1.43v1.43h-1.75v-1.43h-1.43v-1.75h1.43z" fill="#e8000b" stroke="#fff" stroke-width="0.5"/>
</g>
<g clip-path="url(#c1_1)">
<polyline points="343.7,508.2 363.3,502.7 385.5,495.1 407.6,487.1 429.8,477.7 452,465.8 474.2,454.9 496.4,438.8 518.5,409.2 540.7,373.1 562.9,351.3" fill="none" stroke="#8b2be2" stroke-width="1.0" stroke-dasharray="1.9 2.0"/>
<path d="M363.3 500.3l2.42 2.42l-2.42 2.42l-2.42 -2.42zM385.5 492.7l2.42 2.42l-2.42 2.42l-2.42 -2.42zM407.6 484.6l2.42 2.42l-2.42 2.42l-2.42 -2.42zM429.8 475.3l2.42 2.42l-2.42 2.42l-2.42 -2.42zM452 463.3l2.42 2.42l-2.42 2.42l-2.42 -2.42zM474.2 452.5l2.42 2.42l-2.42 2.42l-2.42 -2.42zM496.4 436.4l2.42 2.42l-2.42 2.42l-2.42 -2.42zM518.5 406.8l2.42 2.42l-2.42 2.42l-2.42 -2.42zM540.7 370.7l2.42 2.42l-2.42 2.42l-2.42 -2.42zM562.9 348.9l2.42 2.42l-2.42 2.42l-2.42 -2.42z" fill="#8b2be2" stroke="#fff" stroke-width="0.5"/>
<path d="M540.7 384V362.2" stroke="#8b2be2" stroke-width="1.6"/>
</g>
<g clip-path="url(#c1_1)">
<polyline points="343.7,518.6 363.3,515.1 385.5,509 407.6,500.3 429.8,490.8 452,478.8 474.2,468.4 496.4,459.2 518.5,451.8 540.7,442.3 562.9,398.1" fill="none" stroke="#9f4800" stroke-width="1.0" stroke-dasharray="1.9 2.0"/>
<path d="M363.3 512.7l1.38 2.42l-1.38 2.42l-1.38 -2.42zM385.5 506.6l1.38 2.42l-1.38 2.42l-1.38 -2.42zM407.6 497.9l1.38 2.42l-1.38 2.42l-1.38 -2.42zM429.8 488.3l1.38 2.42l-1.38 2.42l-1.38 -2.42zM452 476.4l1.38 2.42l-1.38 2.42l-1.38 -2.42zM474.2 465.9l1.38 2.42l-1.38 2.42l-1.38 -2.42zM496.4 456.8l1.38 2.42l-1.38 2.42l-1.38 -2.42zM518.5 449.4l1.38 2.42l-1.38 2.42l-1.38 -2.42zM540.7 439.8l1.38 2.42l-1.38 2.42l-1.38 -2.42zM562.9 395.7l1.38 2.42l-1.38 2.42l-1.38 -2.42z" fill="#9f4800" stroke="#fff" stroke-width="0.5"/>
<path d="M429.8 494V487.5M452 481V476.6M540.7 446.6V437.9" stroke="#9f4800" stroke-width="1.6"/>
</g>
<g clip-path="url(#c1_1)">
<polyline points="343.7,507.1 363.3,502.7 385.5,496.2 407.6,487.5 429.8,476.6 452,465.8 474.2,452.7 496.4,450.1 518.5,449.2 540.7,448.3 562.9,429.4" fill="none" stroke="#f14cc1" stroke-width="1.0" stroke-dasharray="1.9 2.0"/>
<path d="M363.3 500.2l2.53 4.3h-5.06zM385.5 493.7l2.53 4.3h-5.06zM407.6 485l2.53 4.3h-5.06zM429.8 474.1l2.53 4.3h-5.06zM452 463.2l2.53 4.3h-5.06zM474.2 450.2l2.53 4.3h-5.06zM496.4 447.6l2.53 4.3h-5.06zM518.5 446.7l2.53 4.3h-5.06zM540.7 445.8l2.53 4.3h-5.06zM562.9 426.9l2.53 4.3h-5.06z" fill="#f14cc1" stroke="#fff" stroke-width="0.5"/>
<path d="M562.9 442.5V416.4" stroke="#f14cc1" stroke-width="1.6"/>
</g>
<g clip-path="url(#c1_1)">
<polyline points="343.7,528.8 363.3,526.2 385.5,522.1 407.6,515.1 429.8,505.6 452,495.1 474.2,483.8 496.4,469.2 518.5,452.5 540.7,423.3 562.9,381.8" fill="none" stroke="#a3a3a3" stroke-width="1.0" stroke-dasharray="1.9 2.0"/>
<path d="M361.1 525.3l1.26 -1.26 0.92 0.92 0.92 -0.92 1.26 1.26 -0.92 0.92 0.92 0.92 -1.26 1.26 -0.92 -0.92 -0.92 0.92 -1.26 -1.26 0.92 -0.92zM383.3 521.2l1.26 -1.26 0.92 0.92 0.92 -0.92 1.26 1.26 -0.92 0.92 0.92 0.92 -1.26 1.26 -0.92 -0.92 -0.92 0.92 -1.26 -1.26 0.92 -0.92zM405.5 514.2l1.26 -1.26 0.92 0.92 0.92 -0.92 1.26 1.26 -0.92 0.92 0.92 0.92 -1.26 1.26 -0.92 -0.92 -0.92 0.92 -1.26 -1.26 0.92 -0.92zM427.6 504.6l1.26 -1.26 0.92 0.92 0.92 -0.92 1.26 1.26 -0.92 0.92 0.92 0.92 -1.26 1.26 -0.92 -0.92 -0.92 0.92 -1.26 -1.26 0.92 -0.92zM449.8 494.2l1.26 -1.26 0.92 0.92 0.92 -0.92 1.26 1.26 -0.92 0.92 0.92 0.92 -1.26 1.26 -0.92 -0.92 -0.92 0.92 -1.26 -1.26 0.92 -0.92zM472 482.9l1.26 -1.26 0.92 0.92 0.92 -0.92 1.26 1.26 -0.92 0.92 0.92 0.92 -1.26 1.26 -0.92 -0.92 -0.92 0.92 -1.26 -1.26 0.92 -0.92zM494.2 468.3l1.26 -1.26 0.92 0.92 0.92 -0.92 1.26 1.26 -0.92 0.92 0.92 0.92 -1.26 1.26 -0.92 -0.92 -0.92 0.92 -1.26 -1.26 0.92 -0.92zM516.4 451.6l1.26 -1.26 0.92 0.92 0.92 -0.92 1.26 1.26 -0.92 0.92 0.92 0.92 -1.26 1.26 -0.92 -0.92 -0.92 0.92 -1.26 -1.26 0.92 -0.92zM538.5 422.4l1.26 -1.26 0.92 0.92 0.92 -0.92 1.26 1.26 -0.92 0.92 0.92 0.92 -1.26 1.26 -0.92 -0.92 -0.92 0.92 -1.26 -1.26 0.92 -0.92zM560.7 380.9l1.26 -1.26 0.92 0.92 0.92 -0.92 1.26 1.26 -0.92 0.92 0.92 0.92 -1.26 1.26 -0.92 -0.92 -0.92 0.92 -1.26 -1.26 0.92 -0.92z" fill="#a3a3a3" stroke="#fff" stroke-width="0.5"/>
<path d="M474.2 486V481.6M496.4 472.5V466M518.5 455.7V449.2M540.7 436.4V410.3" stroke="#a3a3a3" stroke-width="1.6"/>
</g>
<g clip-path="url(#c1_1)">
<polyline points="343.7,507.1 363.3,500.5 385.5,492.9 407.6,484.2 429.8,474.4 452,459.7 474.2,444 496.4,423.3 518.5,401.6 540.7,385.3 562.9,367" fill="none" stroke="#f4c31a" stroke-width="2.0" stroke-linejoin="round"/>
<path d="M363.3 503.1l2.53 -4.3h-5.06zM385.5 495.5l2.53 -4.3h-5.06zM407.6 486.8l2.53 -4.3h-5.06zM429.8 477l2.53 -4.3h-5.06zM452 462.2l2.53 -4.3h-5.06zM474.2 446.5l2.53 -4.3h-5.06zM496.4 425.9l2.53 -4.3h-5.06zM518.5 404.1l2.53 -4.3h-5.06zM540.7 387.8l2.53 -4.3h-5.06zM562.9 369.5l2.53 -4.3h-5.06z" fill="#f4c31a" stroke="#fff" stroke-width="0.5"/>
<path d="M474.2 446.2V441.8M496.4 425.5V421.2M518.5 403.8V399.4" stroke="#f4c31a" stroke-width="1.6"/>
</g>
<g clip-path="url(#c1_1)">
<polyline points="343.7,507.3 363.3,502.9 385.5,496 407.6,489 429.8,478.8 452,466.6 474.2,450.1 496.4,430.3 518.5,407.7 540.7,390.3 562.9,380.1" fill="none" stroke="#1ec8e2" stroke-width="2.0" stroke-linejoin="round"/>
<path d="M361.1 502l1.26 -1.26 0.92 0.92 0.92 -0.92 1.26 1.26 -0.92 0.92 0.92 0.92 -1.26 1.26 -0.92 -0.92 -0.92 0.92 -1.26 -1.26 0.92 -0.92zM383.3 495.1l1.26 -1.26 0.92 0.92 0.92 -0.92 1.26 1.26 -0.92 0.92 0.92 0.92 -1.26 1.26 -0.92 -0.92 -0.92 0.92 -1.26 -1.26 0.92 -0.92zM405.5 488.1l1.26 -1.26 0.92 0.92 0.92 -0.92 1.26 1.26 -0.92 0.92 0.92 0.92 -1.26 1.26 -0.92 -0.92 -0.92 0.92 -1.26 -1.26 0.92 -0.92zM427.6 477.9l1.26 -1.26 0.92 0.92 0.92 -0.92 1.26 1.26 -0.92 0.92 0.92 0.92 -1.26 1.26 -0.92 -0.92 -0.92 0.92 -1.26 -1.26 0.92 -0.92zM449.8 465.7l1.26 -1.26 0.92 0.92 0.92 -0.92 1.26 1.26 -0.92 0.92 0.92 0.92 -1.26 1.26 -0.92 -0.92 -0.92 0.92 -1.26 -1.26 0.92 -0.92zM472 449.2l1.26 -1.26 0.92 0.92 0.92 -0.92 1.26 1.26 -0.92 0.92 0.92 0.92 -1.26 1.26 -0.92 -0.92 -0.92 0.92 -1.26 -1.26 0.92 -0.92zM494.2 429.4l1.26 -1.26 0.92 0.92 0.92 -0.92 1.26 1.26 -0.92 0.92 0.92 0.92 -1.26 1.26 -0.92 -0.92 -0.92 0.92 -1.26 -1.26 0.92 -0.92zM516.4 406.8l1.26 -1.26 0.92 0.92 0.92 -0.92 1.26 1.26 -0.92 0.92 0.92 0.92 -1.26 1.26 -0.92 -0.92 -0.92 0.92 -1.26 -1.26 0.92 -0.92zM538.5 389.4l1.26 -1.26 0.92 0.92 0.92 -0.92 1.26 1.26 -0.92 0.92 0.92 0.92 -1.26 1.26 -0.92 -0.92 -0.92 0.92 -1.26 -1.26 0.92 -0.92zM560.7 379.1l1.26 -1.26 0.92 0.92 0.92 -0.92 1.26 1.26 -0.92 0.92 0.92 0.92 -1.26 1.26 -0.92 -0.92 -0.92 0.92 -1.26 -1.26 0.92 -0.92z" fill="#1ec8e2" stroke="#fff" stroke-width="0.5"/>
<path d="M363.3 505.1V500.8M385.5 498.2V493.8M407.6 491.2V486.8M429.8 482.1V475.5M452 468.8V464.4M474.2 452.3V447.9M496.4 434.6V425.9M518.5 412V403.3" stroke="#1ec8e2" stroke-width="1.6"/>
</g>
<g clip-path="url(#c1_1)">
<polyline points="343.7,508.2 452,463.1 474.2,452.7 496.4,449 518.5,436.8 540.7,392.9 562.9,359.2" fill="none" stroke="#1a3ad6" stroke-width="2.0" stroke-linejoin="round"/>
<path d="M449.7 463.1a2.3 2.3 0 1 0 4.6 0a2.3 2.3 0 1 0 -4.6 0zM471.9 452.7a2.3 2.3 0 1 0 4.6 0a2.3 2.3 0 1 0 -4.6 0zM494.1 449a2.3 2.3 0 1 0 4.6 0a2.3 2.3 0 1 0 -4.6 0zM516.2 436.8a2.3 2.3 0 1 0 4.6 0a2.3 2.3 0 1 0 -4.6 0zM538.4 392.9a2.3 2.3 0 1 0 4.6 0a2.3 2.3 0 1 0 -4.6 0zM560.6 359.2a2.3 2.3 0 1 0 4.6 0a2.3 2.3 0 1 0 -4.6 0z" fill="#1a3ad6" stroke="#fff" stroke-width="0.5"/>
<path d="M518.5 443.3V430.3M540.7 403.8V382" stroke="#1a3ad6" stroke-width="1.6"/>
</g>
<rect x="638.1" y="339.9" width="219.8" height="199" fill="#eaeaf2"/>
<clipPath id="c1_2"><rect x="638.1" y="339.9" width="219.8" height="199"/></clipPath>
<path d="M680 339.9V538.9M724.5 339.9V538.9M768.9 339.9V538.9M813.4 339.9V538.9M857.9 339.9V538.9M638.1 530.2H857.9M638.1 493.9H857.9M638.1 457.5H857.9M638.1 421.2H857.9M638.1 384.8H857.9M638.1 348.5H857.9" stroke="#fff" stroke-width="1.1" fill="none"/>
<text x="680" y="558.9" font-size="14.31" text-anchor="middle" textLength="20.3" lengthAdjust="spacingAndGlyphs" fill="#262626" >0.2</text>
<text x="724.5" y="558.9" font-size="14.31" text-anchor="middle" textLength="20.3" lengthAdjust="spacingAndGlyphs" fill="#262626" >0.4</text>
<text x="768.9" y="558.9" font-size="14.31" text-anchor="middle" textLength="20.3" lengthAdjust="spacingAndGlyphs" fill="#262626" >0.6</text>
<text x="813.4" y="558.9" font-size="14.31" text-anchor="middle" textLength="20.3" lengthAdjust="spacingAndGlyphs" fill="#262626" >0.8</text>
<text x="857.9" y="558.9" font-size="14.31" text-anchor="middle" textLength="20.3" lengthAdjust="spacingAndGlyphs" fill="#262626" >1.0</text>
<text x="628.1" y="535.6" font-size="14.31" text-anchor="end" textLength="20.3" lengthAdjust="spacingAndGlyphs" fill="#262626" >0.0</text>
<text x="628.1" y="499.3" font-size="14.31" text-anchor="end" textLength="20.3" lengthAdjust="spacingAndGlyphs" fill="#262626" >0.2</text>
<text x="628.1" y="462.9" font-size="14.31" text-anchor="end" textLength="20.3" lengthAdjust="spacingAndGlyphs" fill="#262626" >0.4</text>
<text x="628.1" y="426.6" font-size="14.31" text-anchor="end" textLength="20.3" lengthAdjust="spacingAndGlyphs" fill="#262626" >0.6</text>
<text x="628.1" y="390.3" font-size="14.31" text-anchor="end" textLength="20.3" lengthAdjust="spacingAndGlyphs" fill="#262626" >0.8</text>
<text x="628.1" y="353.9" font-size="14.31" text-anchor="end" textLength="20.3" lengthAdjust="spacingAndGlyphs" fill="#262626" >1.0</text>
<text x="748" y="576.9" font-size="15.48" text-anchor="middle" textLength="139.0" lengthAdjust="spacingAndGlyphs" fill="#262626" >Samples abstained</text>
<g transform="translate(600.6 439.4) rotate(-90)"><text x="0" y="0" font-size="15.48" text-anchor="middle" textLength="104.7" lengthAdjust="spacingAndGlyphs" fill="#262626" >OOD precision</text></g>
<g clip-path="url(#c1_2)">
<polyline points="638.1,425 657.7,389.6 680,399.9 702.2,405.6 724.5,411.2 746.7,415.9 768.9,419.7 791.2,422.5 813.4,425.9 835.7,431 857.9,437.2" fill="none" stroke="#023eff" stroke-width="1.0" stroke-dasharray="1.9 2.0"/>
<path d="M655.4 389.6a2.3 2.3 0 1 0 4.6 0a2.3 2.3 0 1 0 -4.6 0zM677.7 399.9a2.3 2.3 0 1 0 4.6 0a2.3 2.3 0 1 0 -4.6 0zM699.9 405.6a2.3 2.3 0 1 0 4.6 0a2.3 2.3 0 1 0 -4.6 0zM722.2 411.2a2.3 2.3 0 1 0 4.6 0a2.3 2.3 0 1 0 -4.6 0zM744.4 415.9a2.3 2.3 0 1 0 4.6 0a2.3 2.3 0 1 0 -4.6 0zM766.6 419.7a2.3 2.3 0 1 0 4.6 0a2.3 2.3 0 1 0 -4.6 0zM788.9 422.5a2.3 2.3 0 1 0 4.6 0a2.3 2.3 0 1 0 -4.6 0zM811.1 425.9a2.3 2.3 0 1 0 4.6 0a2.3 2.3 0 1 0 -4.6 0zM833.4 431a2.3 2.3 0 1 0 4.6 0a2.3 2.3 0 1 0 -4.6 0zM855.6 437.2a2.3 2.3 0 1 0 4.6 0a2.3 2.3 0 1 0 -4.6 0z" fill="#023eff" stroke="#fff" stroke-width="0.5"/>
</g>
<g clip-path="url(#c1_2)">
<polyline points="638.1,359.4 657.7,363 680,370.5 702.2,377.4 724.5,385.2 746.7,392.1 768.9,398.1 791.2,408.5 813.4,417.5 835.7,429.4 857.9,437.2" fill="none" stroke="#ff7c00" stroke-width="1.0" stroke-dasharray="1.9 2.0"/>
<path d="M655.6 362.1l1.26 -1.26 0.92 0.92 0.92 -0.92 1.26 1.26 -0.92 0.92 0.92 0.92 -1.26 1.26 -0.92 -0.92 -0.92 0.92 -1.26 -1.26 0.92 -0.92zM677.8 369.6l1.26 -1.26 0.92 0.92 0.92 -0.92 1.26 1.26 -0.92 0.92 0.92 0.92 -1.26 1.26 -0.92 -0.92 -0.92 0.92 -1.26 -1.26 0.92 -0.92zM700 376.5l1.26 -1.26 0.92 0.92 0.92 -0.92 1.26 1.26 -0.92 0.92 0.92 0.92 -1.26 1.26 -0.92 -0.92 -0.92 0.92 -1.26 -1.26 0.92 -0.92zM722.3 384.3l1.26 -1.26 0.92 0.92 0.92 -0.92 1.26 1.26 -0.92 0.92 0.92 0.92 -1.26 1.26 -0.92 -0.92 -0.92 0.92 -1.26 -1.26 0.92 -0.92zM744.5 391.2l1.26 -1.26 0.92 0.92 0.92 -0.92 1.26 1.26 -0.92 0.92 0.92 0.92 -1.26 1.26 -0.92 -0.92 -0.92 0.92 -1.26 -1.26 0.92 -0.92zM766.8 397.2l1.26 -1.26 0.92 0.92 0.92 -0.92 1.26 1.26 -0.92 0.92 0.92 0.92 -1.26 1.26 -0.92 -0.92 -0.92 0.92 -1.26 -1.26 0.92 -0.92zM789 407.5l1.26 -1.26 0.92 0.92 0.92 -0.92 1.26 1.26 -0.92 0.92 0.92 0.92 -1.26 1.26 -0.92 -0.92 -0.92 0.92 -1.26 -1.26 0.92 -0.92zM811.2 416.6l1.26 -1.26 0.92 0.92 0.92 -0.92 1.26 1.26 -0.92 0.92 0.92 0.92 -1.26 1.26 -0.92 -0.92 -0.92 0.92 -1.26 -1.26 0.92 -0.92zM833.5 428.4l1.26 -1.26 0.92 0.92 0.92 -0.92 1.26 1.26 -0.92 0.92 0.92 0.92 -1.26 1.26 -0.92 -0.92 -0.92 0.92 -1.26 -1.26 0.92 -0.92zM855.7 436.2l1.26 -1.26 0.92 0.92 0.92 -0.92 1.26 1.26 -0.92 0.92 0.92 0.92 -1.26 1.26 -0.92 -0.92 -0.92 0.92 -1.26 -1.26 0.92 -0.92z" fill="#ff7c00" stroke="#fff" stroke-width="0.5"/>
</g>
<g clip-path="url(#c1_2)">
<polyline points="638.1,357.6 657.7,361.2 680,366.1 702.2,371.4 724.5,380.3 746.7,390.1 768.9,397.4 791.2,407.7 813.4,417.5 835.7,429.4 857.9,437.2" fill="none" stroke="#1ac938" stroke-width="1.0" stroke-dasharray="1.9 2.0"/>
<path d="M655.8 359.3h3.91v3.91h-3.91zM678 364.2h3.91v3.91h-3.91zM700.3 369.4h3.91v3.91h-3.91zM722.5 378.3h3.91v3.91h-3.91zM744.7 388.2h3.91v3.91h-3.91zM767 395.4h3.91v3.91h-3.91zM789.2 405.8h3.91v3.91h-3.91zM811.5 415.6h3.91v3.91h-3.91zM833.7 427.4h3.91v3.91h-3.91zM855.9 435.2h3.91v3.91h-3.91z" fill="#1ac938" stroke="#fff" stroke-width="0.5"/>
</g>
<g clip-path="url(#c1_2)">
<polyline points="638.1,348.5 657.7,350.3 680,355.8 702.2,373 724.5,389.6 746.7,401.6 768.9,411.2 791.2,417.2 813.4,424.1 835.7,430.3 857.9,437.2" fill="none" stroke="#e8000b" stroke-width="1.0" stroke-dasharray="1.9 2.0"/>
<path d="M656.9 348h1.75v1.43h1.43v1.75h-1.43v1.43h-1.75v-1.43h-1.43v-1.75h1.43zM679.1 353.5h1.75v1.43h1.43v1.75h-1.43v1.43h-1.75v-1.43h-1.43v-1.75h1.43zM701.3 370.7h1.75v1.43h1.43v1.75h-1.43v1.43h-1.75v-1.43h-1.43v-1.75h1.43zM723.6 387.3h1.75v1.43h1.43v1.75h-1.43v1.43h-1.75v-1.43h-1.43v-1.75h1.43zM745.8 399.3h1.75v1.43h1.43v1.75h-1.43v1.43h-1.75v-1.43h-1.43v-1.75h1.43zM768.1 408.9h1.75v1.43h1.43v1.75h-1.43v1.43h-1.75v-1.43h-1.43v-1.75h1.43zM790.3 414.9h1.75v1.43h1.43v1.75h-1.43v1.43h-1.75v-1.43h-1.43v-1.75h1.43zM812.5 421.8h1.75v1.43h1.43v1.75h-1.43v1.43h-1.75v-1.43h-1.43v-1.75h1.43zM834.8 428h1.75v1.43h1.43v1.75h-1.43v1.43h-1.75v-1.43h-1.43v-1.75h1.43zM857 434.9h1.75v1.43h1.43v1.75h-1.43v1.43h-1.75v-1.43h-1.43v-1.75h1.43z" fill="#e8000b" stroke="#fff" stroke-width="0.5"/>
<path d="M680 358.5V353M702.2 378.5V367.6M724.5 395V384.1" stroke="#e8000b" stroke-width="1.6"/>
</g>
<g clip-path="url(#c1_2)">
<polyline points="638.1,356.7 657.7,366.1 680,380.3 702.2,393.6 724.5,404.3 746.7,411.2 768.9,415.5 791.2,420.6 813.4,425.9 835.7,431 857.9,437.2" fill="none" stroke="#8b2be2" stroke-width="1.0" stroke-dasharray="1.9 2.0"/>
<path d="M657.7 363.7l2.42 2.42l-2.42 2.42l-2.42 -2.42zM680 377.9l2.42 2.42l-2.42 2.42l-2.42 -2.42zM702.2 391.1l2.42 2.42l-2.42 2.42l-2.42 -2.42zM724.5 401.9l2.42 2.42l-2.42 2.42l-2.42 -2.42zM746.7 408.8l2.42 2.42l-2.42 2.42l-2.42 -2.42zM768.9 413.1l2.42 2.42l-2.42 2.42l-2.42 -2.42zM791.2 418.2l2.42 2.42l-2.42 2.42l-2.42 -2.42zM813.4 423.5l2.42 2.42l-2.42 2.42l-2.42 -2.42zM835.7 428.6l2.42 2.42l-2.42 2.42l-2.42 -2.42zM857.9 434.8l2.42 2.42l-2.42 2.42l-2.42 -2.42z" fill="#8b2be2" stroke="#fff" stroke-width="0.5"/>
<path d="M680 383.9V376.7M702.2 396.3V390.8" stroke="#8b2be2" stroke-width="1.6"/>
</g>
<g clip-path="url(#c1_2)">
<polyline points="638.1,348.5 657.7,348.9 680,349.4 702.2,350.3 724.5,351.2 746.7,357.6 768.9,375.8 791.2,399.4 813.4,417.5 835.7,429.4 857.9,437.2" fill="none" stroke="#9f4800" stroke-width="1.0" stroke-dasharray="1.9 2.0"/>
<path d="M657.7 346.4l1.38 2.42l-1.38 2.42l-1.38 -2.42zM680 347l1.38 2.42l-1.38 2.42l-1.38 -2.42zM702.2 347.9l1.38 2.42l-1.38 2.42l-1.38 -2.42zM724.5 348.8l1.38 2.42l-1.38 2.42l-1.38 -2.42zM746.7 355.2l1.38 2.42l-1.38 2.42l-1.38 -2.42zM768.9 373.3l1.38 2.42l-1.38 2.42l-1.38 -2.42zM791.2 397l1.38 2.42l-1.38 2.42l-1.38 -2.42zM813.4 415.1l1.38 2.42l-1.38 2.42l-1.38 -2.42zM835.7 426.9l1.38 2.42l-1.38 2.42l-1.38 -2.42zM857.9 434.8l1.38 2.42l-1.38 2.42l-1.38 -2.42z" fill="#9f4800" stroke="#fff" stroke-width="0.5"/>
</g>
<g clip-path="url(#c1_2)">
<polyline points="638.1,348.5 657.7,348.9 680,349 702.2,349.4 724.5,349.8 746.7,359.2 768.9,376.5 791.2,399.4 813.4,417.5 835.7,429.4 857.9,437.2" fill="none" stroke="#f14cc1" stroke-width="1.0" stroke-dasharray="1.9 2.0"/>
<path d="M657.7 346.3l2.53 4.3h-5.06zM680 346.5l2.53 4.3h-5.06zM702.2 346.9l2.53 4.3h-5.06zM724.5 347.2l2.53 4.3h-5.06zM746.7 356.7l2.53 4.3h-5.06zM768.9 374l2.53 4.3h-5.06zM791.2 396.8l2.53 4.3h-5.06zM813.4 415l2.53 4.3h-5.06zM835.7 426.8l2.53 4.3h-5.06zM857.9 434.6l2.53 4.3h-5.06z" fill="#f14cc1" stroke="#fff" stroke-width="0.5"/>
<path d="M746.7 362.9V355.6" stroke="#f14cc1" stroke-width="1.6"/>
</g>
<g clip-path="url(#c1_2)">
<polyline points="638.1,348.5 657.7,348.9 680,349.4 702.2,350.3 724.5,351.2 746.7,355.8 768.9,377.6 791.2,399.4 813.4,417.5 835.7,429.4 857.9,437.2" fill="none" stroke="#a3a3a3" stroke-width="1.0" stroke-dasharray="1.9 2.0"/>
<path d="M655.6 347.9l1.26 -1.26 0.92 0.92 0.92 -0.92 1.26 1.26 -0.92 0.92 0.92 0.92 -1.26 1.26 -0.92 -0.92 -0.92 0.92 -1.26 -1.26 0.92 -0.92zM677.8 348.5l1.26 -1.26 0.92 0.92 0.92 -0.92 1.26 1.26 -0.92 0.92 0.92 0.92 -1.26 1.26 -0.92 -0.92 -0.92 0.92 -1.26 -1.26 0.92 -0.92zM700 349.4l1.26 -1.26 0.92 0.92 0.92 -0.92 1.26 1.26 -0.92 0.92 0.92 0.92 -1.26 1.26 -0.92 -0.92 -0.92 0.92 -1.26 -1.26 0.92 -0.92zM722.3 350.3l1.26 -1.26 0.92 0.92 0.92 -0.92 1.26 1.26 -0.92 0.92 0.92 0.92 -1.26 1.26 -0.92 -0.92 -0.92 0.92 -1.26 -1.26 0.92 -0.92zM744.5 354.8l1.26 -1.26 0.92 0.92 0.92 -0.92 1.26 1.26 -0.92 0.92 0.92 0.92 -1.26 1.26 -0.92 -0.92 -0.92 0.92 -1.26 -1.26 0.92 -0.92zM766.8 376.7l1.26 -1.26 0.92 0.92 0.92 -0.92 1.26 1.26 -0.92 0.92 0.92 0.92 -1.26 1.26 -0.92 -0.92 -0.92 0.92 -1.26 -1.26 0.92 -0.92zM789 398.5l1.26 -1.26 0.92 0.92 0.92 -0.92 1.26 1.26 -0.92 0.92 0.92 0.92 -1.26 1.26 -0.92 -0.92 -0.92 0.92 -1.26 -1.26 0.92 -0.92zM811.2 416.6l1.26 -1.26 0.92 0.92 0.92 -0.92 1.26 1.26 -0.92 0.92 0.92 0.92 -1.26 1.26 -0.92 -0.92 -0.92 0.92 -1.26 -1.26 0.92 -0.92zM833.5 428.4l1.26 -1.26 0.92 0.92 0.92 -0.92 1.26 1.26 -0.92 0.92 0.92 0.92 -1.26 1.26 -0.92 -0.92 -0.92 0.92 -1.26 -1.26 0.92 -0.92zM855.7 436.2l1.26 -1.26 0.92 0.92 0.92 -0.92 1.26 1.26 -0.92 0.92 0.92 0.92 -1.26 1.26 -0.92 -0.92 -0.92 0.92 -1.26 -1.26 0.92 -0.92z" fill="#a3a3a3" stroke="#fff" stroke-width="0.5"/>
</g>
<g clip-path="url(#c1_2)">
<polyline points="638.1,348.5 657.7,349.4 680,350.3 702.2,352.3 724.5,356.7 746.7,370.5 768.9,388.7 791.2,403.4 813.4,416.3 835.7,428.4 857.9,437.2" fill="none" stroke="#f4c31a" stroke-width="2.0" stroke-linejoin="round"/>
<path d="M657.7 351.9l2.53 -4.3h-5.06zM680 352.8l2.53 -4.3h-5.06zM702.2 354.8l2.53 -4.3h-5.06zM724.5 359.2l2.53 -4.3h-5.06zM746.7 373l2.53 -4.3h-5.06zM768.9 391.2l2.53 -4.3h-5.06zM791.2 405.9l2.53 -4.3h-5.06zM813.4 418.8l2.53 -4.3h-5.06zM835.7 431l2.53 -4.3h-5.06zM857.9 439.7l2.53 -4.3h-5.06z" fill="#f4c31a" stroke="#fff" stroke-width="0.5"/>
<path d="M746.7 373.2V367.8M768.9 391.4V385.9" stroke="#f4c31a" stroke-width="1.6"/>
</g>
<g clip-path="url(#c1_2)">
<polyline points="638.1,360.7 657.7,361.8 680,361.8 702.2,365.2 724.5,374.8 746.7,386.1 768.9,396.5 791.2,408.5 813.4,419.7 835.7,430.3 857.9,437.2" fill="none" stroke="#1ec8e2" stroke-width="2.0" stroke-linejoin="round"/>
<path d="M655.6 360.8l1.26 -1.26 0.92 0.92 0.92 -0.92 1.26 1.26 -0.92 0.92 0.92 0.92 -1.26 1.26 -0.92 -0.92 -0.92 0.92 -1.26 -1.26 0.92 -0.92zM677.8 360.8l1.26 -1.26 0.92 0.92 0.92 -0.92 1.26 1.26 -0.92 0.92 0.92 0.92 -1.26 1.26 -0.92 -0.92 -0.92 0.92 -1.26 -1.26 0.92 -0.92zM700 364.3l1.26 -1.26 0.92 0.92 0.92 -0.92 1.26 1.26 -0.92 0.92 0.92 0.92 -1.26 1.26 -0.92 -0.92 -0.92 0.92 -1.26 -1.26 0.92 -0.92zM722.3 373.9l1.26 -1.26 0.92 0.92 0.92 -0.92 1.26 1.26 -0.92 0.92 0.92 0.92 -1.26 1.26 -0.92 -0.92 -0.92 0.92 -1.26 -1.26 0.92 -0.92zM744.5 385.2l1.26 -1.26 0.92 0.92 0.92 -0.92 1.26 1.26 -0.92 0.92 0.92 0.92 -1.26 1.26 -0.92 -0.92 -0.92 0.92 -1.26 -1.26 0.92 -0.92zM766.8 395.5l1.26 -1.26 0.92 0.92 0.92 -0.92 1.26 1.26 -0.92 0.92 0.92 0.92 -1.26 1.26 -0.92 -0.92 -0.92 0.92 -1.26 -1.26 0.92 -0.92zM789 407.5l1.26 -1.26 0.92 0.92 0.92 -0.92 1.26 1.26 -0.92 0.92 0.92 0.92 -1.26 1.26 -0.92 -0.92 -0.92 0.92 -1.26 -1.26 0.92 -0.92zM811.2 418.8l1.26 -1.26 0.92 0.92 0.92 -0.92 1.26 1.26 -0.92 0.92 0.92 0.92 -1.26 1.26 -0.92 -0.92 -0.92 0.92 -1.26 -1.26 0.92 -0.92zM833.5 429.3l1.26 -1.26 0.92 0.92 0.92 -0.92 1.26 1.26 -0.92 0.92 0.92 0.92 -1.26 1.26 -0.92 -0.92 -0.92 0.92 -1.26 -1.26 0.92 -0.92zM855.7 436.2l1.26 -1.26 0.92 0.92 0.92 -0.92 1.26 1.26 -0.92 0.92 0.92 0.92 -1.26 1.26 -0.92 -0.92 -0.92 0.92 -1.26 -1.26 0.92 -0.92z" fill="#1ec8e2" stroke="#fff" stroke-width="0.5"/>
<path d="M702.2 368.9V361.6M724.5 380.3V369.4M746.7 388.8V383.4M768.9 399.2V393.7M791.2 411.2V405.7" stroke="#1ec8e2" stroke-width="1.6"/>
</g>
<g clip-path="url(#c1_2)">
<polyline points="638.1,348.5 746.7,352 768.9,377.9 791.2,400.5 813.4,417.7 835.7,429.4 857.9,437.2" fill="none" stroke="#1a3ad6" stroke-width="2.0" stroke-linejoin="round"/>
<path d="M744.4 352a2.3 2.3 0 1 0 4.6 0a2.3 2.3 0 1 0 -4.6 0zM766.6 377.9a2.3 2.3 0 1 0 4.6 0a2.3 2.3 0 1 0 -4.6 0zM788.9 400.5a2.3 2.3 0 1 0 4.6 0a2.3 2.3 0 1 0 -4.6 0zM811.1 417.7a2.3 2.3 0 1 0 4.6 0a2.3 2.3 0 1 0 -4.6 0zM833.4 429.4a2.3 2.3 0 1 0 4.6 0a2.3 2.3 0 1 0 -4.6 0zM855.6 437.2a2.3 2.3 0 1 0 4.6 0a2.3 2.3 0 1 0 -4.6 0z" fill="#1a3ad6" stroke="#fff" stroke-width="0.5"/>
<path d="M768.9 383.4V372.5M791.2 405.9V395M813.4 420.5V415" stroke="#1a3ad6" stroke-width="1.6"/>
</g>
<rect x="932.2" y="339.9" width="219.8" height="199" fill="#eaeaf2"/>
<clipPath id="c1_3"><rect x="932.2" y="339.9" width="219.8" height="199"/></clipPath>
<path d="M974.1 339.9V538.9M1018.6 339.9V538.9M1063 339.9V538.9M1107.5 339.9V538.9M1152 339.9V538.9M932.2 530.2H1152M932.2 493.9H1152M932.2 457.5H1152M932.2 421.2H1152M932.2 384.8H1152M932.2 348.5H1152" stroke="#fff" stroke-width="1.1" fill="none"/>
<text x="974.1" y="558.9" font-size="14.31" text-anchor="middle" textLength="20.3" lengthAdjust="spacingAndGlyphs" fill="#262626" >0.2</text>
<text x="1018.6" y="558.9" font-size="14.31" text-anchor="middle" textLength="20.3" lengthAdjust="spacingAndGlyphs" fill="#262626" >0.4</text>
<text x="1063" y="558.9" font-size="14.31" text-anchor="middle" textLength="20.3" lengthAdjust="spacingAndGlyphs" fill="#262626" >0.6</text>
<text x="1107.5" y="558.9" font-size="14.31" text-anchor="middle" textLength="20.3" lengthAdjust="spacingAndGlyphs" fill="#262626" >0.8</text>
<text x="1152" y="558.9" font-size="14.31" text-anchor="middle" textLength="20.3" lengthAdjust="spacingAndGlyphs" fill="#262626" >1.0</text>
<text x="922.2" y="535.6" font-size="14.31" text-anchor="end" textLength="20.3" lengthAdjust="spacingAndGlyphs" fill="#262626" >0.0</text>
<text x="922.2" y="499.3" font-size="14.31" text-anchor="end" textLength="20.3" lengthAdjust="spacingAndGlyphs" fill="#262626" >0.2</text>
<text x="922.2" y="462.9" font-size="14.31" text-anchor="end" textLength="20.3" lengthAdjust="spacingAndGlyphs" fill="#262626" >0.4</text>
<text x="922.2" y="426.6" font-size="14.31" text-anchor="end" textLength="20.3" lengthAdjust="spacingAndGlyphs" fill="#262626" >0.6</text>
<text x="922.2" y="390.3" font-size="14.31" text-anchor="end" textLength="20.3" lengthAdjust="spacingAndGlyphs" fill="#262626" >0.8</text>
<text x="922.2" y="353.9" font-size="14.31" text-anchor="end" textLength="20.3" lengthAdjust="spacingAndGlyphs" fill="#262626" >1.0</text>
<text x="1042.1" y="576.9" font-size="15.48" text-anchor="middle" textLength="139.0" lengthAdjust="spacingAndGlyphs" fill="#262626" >Samples abstained</text>
<g transform="translate(895 439.4) rotate(-90)"><text x="0" y="0" font-size="15.48" text-anchor="middle" textLength="78.6" lengthAdjust="spacingAndGlyphs" fill="#262626" >OOD recall</text></g>
<g clip-path="url(#c1_3)">
<polyline points="932.2,521.1 951.8,501.1 974.1,477 996.3,454.4 1018.6,436.3 1040.8,416.3 1063,398.1 1085.3,379.9 1107.5,363.6 1129.8,351.4 1152,348.5" fill="none" stroke="#023eff" stroke-width="1.0" stroke-dasharray="1.9 2.0"/>
<path d="M949.5 501.1a2.3 2.3 0 1 0 4.6 0a2.3 2.3 0 1 0 -4.6 0zM971.8 477a2.3 2.3 0 1 0 4.6 0a2.3 2.3 0 1 0 -4.6 0zM994 454.4a2.3 2.3 0 1 0 4.6 0a2.3 2.3 0 1 0 -4.6 0zM1016.3 436.3a2.3 2.3 0 1 0 4.6 0a2.3 2.3 0 1 0 -4.6 0zM1038.5 416.3a2.3 2.3 0 1 0 4.6 0a2.3 2.3 0 1 0 -4.6 0zM1060.7 398.1a2.3 2.3 0 1 0 4.6 0a2.3 2.3 0 1 0 -4.6 0zM1083 379.9a2.3 2.3 0 1 0 4.6 0a2.3 2.3 0 1 0 -4.6 0zM1105.2 363.6a2.3 2.3 0 1 0 4.6 0a2.3 2.3 0 1 0 -4.6 0zM1127.5 351.4a2.3 2.3 0 1 0 4.6 0a2.3 2.3 0 1 0 -4.6 0zM1149.7 348.5a2.3 2.3 0 1 0 4.6 0a2.3 2.3 0 1 0 -4.6 0z" fill="#023eff" stroke="#fff" stroke-width="0.5"/>
<path d="M974.1 479.7V474.2M996.3 457.2V451.7M1018.6 439V433.5M1040.8 419V413.5M1063 400.8V395.4M1085.3 382.7V377.2M1107.5 365.4V361.8" stroke="#023eff" stroke-width="1.6"/>
</g>
<g clip-path="url(#c1_3)">
<polyline points="932.2,519.3 951.8,492 974.1,457.5 996.3,435.7 1018.6,413.7 1040.8,390.3 1063,374.8 1085.3,363 1107.5,354 1129.8,349.4 1152,348.5" fill="none" stroke="#ff7c00" stroke-width="1.0" stroke-dasharray="1.9 2.0"/>
<path d="M949.7 491.1l1.26 -1.26 0.92 0.92 0.92 -0.92 1.26 1.26 -0.92 0.92 0.92 0.92 -1.26 1.26 -0.92 -0.92 -0.92 0.92 -1.26 -1.26 0.92 -0.92zM971.9 456.6l1.26 -1.26 0.92 0.92 0.92 -0.92 1.26 1.26 -0.92 0.92 0.92 0.92 -1.26 1.26 -0.92 -0.92 -0.92 0.92 -1.26 -1.26 0.92 -0.92zM994.1 434.8l1.26 -1.26 0.92 0.92 0.92 -0.92 1.26 1.26 -0.92 0.92 0.92 0.92 -1.26 1.26 -0.92 -0.92 -0.92 0.92 -1.26 -1.26 0.92 -0.92zM1016.4 412.8l1.26 -1.26 0.92 0.92 0.92 -0.92 1.26 1.26 -0.92 0.92 0.92 0.92 -1.26 1.26 -0.92 -0.92 -0.92 0.92 -1.26 -1.26 0.92 -0.92zM1038.6 389.4l1.26 -1.26 0.92 0.92 0.92 -0.92 1.26 1.26 -0.92 0.92 0.92 0.92 -1.26 1.26 -0.92 -0.92 -0.92 0.92 -1.26 -1.26 0.92 -0.92zM1060.9 373.9l1.26 -1.26 0.92 0.92 0.92 -0.92 1.26 1.26 -0.92 0.92 0.92 0.92 -1.26 1.26 -0.92 -0.92 -0.92 0.92 -1.26 -1.26 0.92 -0.92zM1083.1 362.1l1.26 -1.26 0.92 0.92 0.92 -0.92 1.26 1.26 -0.92 0.92 0.92 0.92 -1.26 1.26 -0.92 -0.92 -0.92 0.92 -1.26 -1.26 0.92 -0.92zM1105.3 353l1.26 -1.26 0.92 0.92 0.92 -0.92 1.26 1.26 -0.92 0.92 0.92 0.92 -1.26 1.26 -0.92 -0.92 -0.92 0.92 -1.26 -1.26 0.92 -0.92zM1127.6 348.5l1.26 -1.26 0.92 0.92 0.92 -0.92 1.26 1.26 -0.92 0.92 0.92 0.92 -1.26 1.26 -0.92 -0.92 -0.92 0.92 -1.26 -1.26 0.92 -0.92zM1149.8 347.6l1.26 -1.26 0.92 0.92 0.92 -0.92 1.26 1.26 -0.92 0.92 0.92 0.92 -1.26 1.26 -0.92 -0.92 -0.92 0.92 -1.26 -1.26 0.92 -0.92z" fill="#ff7c00" stroke="#fff" stroke-width="0.5"/>
</g>
<g clip-path="url(#c1_3)">
<polyline points="932.2,519.3 951.8,492 974.1,457.5 996.3,435.7 1018.6,413.7 1040.8,390.3 1063,374.8 1085.3,363 1107.5,354 1129.8,349.4 1152,348.5" fill="none" stroke="#1ac938" stroke-width="1.0" stroke-dasharray="1.9 2.0"/>
<path d="M949.9 490.1h3.91v3.91h-3.91zM972.1 455.6h3.91v3.91h-3.91zM994.4 433.8h3.91v3.91h-3.91zM1016.6 411.8h3.91v3.91h-3.91zM1038.8 388.3h3.91v3.91h-3.91zM1061.1 372.9h3.91v3.91h-3.91zM1083.3 361.1h3.91v3.91h-3.91zM1105.6 352h3.91v3.91h-3.91zM1127.8 347.5h3.91v3.91h-3.91zM1150 346.5h3.91v3.91h-3.91z" fill="#1ac938" stroke="#fff" stroke-width="0.5"/>
<path d="M1018.6 416.5V411M1040.8 393V387.6" stroke="#1ac938" stroke-width="1.6"/>
</g>
<g clip-path="url(#c1_3)">
<polyline points="932.2,521.1 951.8,493.9 974.1,464.8 996.3,437.9 1018.6,418.1 1040.8,401.6 1063,386.8 1085.3,371.4 1107.5,359.2 1129.8,350.3 1152,348.5" fill="none" stroke="#e8000b" stroke-width="1.0" stroke-dasharray="1.9 2.0"/>
<path d="M951 491.6h1.75v1.43h1.43v1.75h-1.43v1.43h-1.75v-1.43h-1.43v-1.75h1.43zM973.2 462.5h1.75v1.43h1.43v1.75h-1.43v1.43h-1.75v-1.43h-1.43v-1.75h1.43zM995.4 435.6h1.75v1.43h1.43v1.75h-1.43v1.43h-1.75v-1.43h-1.43v-1.75h1.43zM1017.7 415.8h1.75v1.43h1.43v1.75h-1.43v1.43h-1.75v-1.43h-1.43v-1.75h1.43zM1039.9 399.3h1.75v1.43h1.43v1.75h-1.43v1.43h-1.75v-1.43h-1.43v-1.75h1.43zM1062.2 384.5h1.75v1.43h1.43v1.75h-1.43v1.43h-1.75v-1.43h-1.43v-1.75h1.43zM1084.4 369.1h1.75v1.43h1.43v1.75h-1.43v1.43h-1.75v-1.43h-1.43v-1.75h1.43zM1106.6 356.9h1.75v1.43h1.43v1.75h-1.43v1.43h-1.75v-1.43h-1.43v-1.75h1.43zM1128.9 348h1.75v1.43h1.43v1.75h-1.43v1.43h-1.75v-1.43h-1.43v-1.75h1.43zM1151.1 346.2h1.75v1.43h1.43v1.75h-1.43v1.43h-1.75v-1.43h-1.43v-1.75h1.43z" fill="#e8000b" stroke="#fff" stroke-width="0.5"/>
<path d="M996.3 443.3V432.4M1018.6 423.5V412.6M1040.8 404.3V398.8M1063 389.6V384.1M1085.3 374.1V368.7" stroke="#e8000b" stroke-width="1.6"/>
</g>
<g clip-path="url(#c1_3)">
<polyline points="932.2,521.1 951.8,499.3 974.1,472.6 996.3,448.4 1018.6,430.3 1040.8,411.2 1063,393 1085.3,376.5 1107.5,361 1129.8,350.3 1152,348.5" fill="none" stroke="#8b2be2" stroke-width="1.0" stroke-dasharray="1.9 2.0"/>
<path d="M951.8 496.9l2.42 2.42l-2.42 2.42l-2.42 -2.42zM974.1 470.2l2.42 2.42l-2.42 2.42l-2.42 -2.42zM996.3 446l2.42 2.42l-2.42 2.42l-2.42 -2.42zM1018.6 427.8l2.42 2.42l-2.42 2.42l-2.42 -2.42zM1040.8 408.8l2.42 2.42l-2.42 2.42l-2.42 -2.42zM1063 390.6l2.42 2.42l-2.42 2.42l-2.42 -2.42zM1085.3 374.1l2.42 2.42l-2.42 2.42l-2.42 -2.42zM1107.5 358.6l2.42 2.42l-2.42 2.42l-2.42 -2.42zM1129.8 347.9l2.42 2.42l-2.42 2.42l-2.42 -2.42zM1152 346.1l2.42 2.42l-2.42 2.42l-2.42 -2.42z" fill="#8b2be2" stroke="#fff" stroke-width="0.5"/>
<path d="M974.1 475.3V469.9M996.3 453.9V443M1018.6 435.7V424.8M1040.8 413.9V408.5M1063 395.7V390.3M1085.3 379.2V373.8" stroke="#8b2be2" stroke-width="1.6"/>
</g>
<g clip-path="url(#c1_3)">
<polyline points="932.2,519.3 951.8,485.5 974.1,450.3 996.3,415.7 1018.6,384.8 1040.8,361.2 1063,351.2 1085.3,349.4 1107.5,348.5 1129.8,348.5 1152,348.5" fill="none" stroke="#9f4800" stroke-width="1.0" stroke-dasharray="1.9 2.0"/>
<path d="M951.8 483.1l1.38 2.42l-1.38 2.42l-1.38 -2.42zM974.1 447.8l1.38 2.42l-1.38 2.42l-1.38 -2.42zM996.3 413.3l1.38 2.42l-1.38 2.42l-1.38 -2.42zM1018.6 382.4l1.38 2.42l-1.38 2.42l-1.38 -2.42zM1040.8 358.8l1.38 2.42l-1.38 2.42l-1.38 -2.42zM1063 348.8l1.38 2.42l-1.38 2.42l-1.38 -2.42zM1085.3 347l1.38 2.42l-1.38 2.42l-1.38 -2.42zM1107.5 346.1l1.38 2.42l-1.38 2.42l-1.38 -2.42zM1129.8 346.1l1.38 2.42l-1.38 2.42l-1.38 -2.42zM1152 346.1l1.38 2.42l-1.38 2.42l-1.38 -2.42z" fill="#9f4800" stroke="#fff" stroke-width="0.5"/>
</g>
<g clip-path="url(#c1_3)">
<polyline points="932.2,519.3 951.8,486.6 974.1,452.1 996.3,414.6 1018.6,380.8 1040.8,357.6 1063,350.5 1085.3,348.5 1107.5,348.5 1129.8,348.5 1152,348.5" fill="none" stroke="#f14cc1" stroke-width="1.0" stroke-dasharray="1.9 2.0"/>
<path d="M951.8 484.1l2.53 4.3h-5.06zM974.1 449.5l2.53 4.3h-5.06zM996.3 412.1l2.53 4.3h-5.06zM1018.6 378.3l2.53 4.3h-5.06zM1040.8 355.1l2.53 4.3h-5.06zM1063 348l2.53 4.3h-5.06zM1085.3 346l2.53 4.3h-5.06zM1107.5 346l2.53 4.3h-5.06zM1129.8 346l2.53 4.3h-5.06zM1152 346l2.53 4.3h-5.06z" fill="#f14cc1" stroke="#fff" stroke-width="0.5"/>
<path d="M951.8 489.3V483.9M974.1 454.8V449.3M996.3 418.3V411M1018.6 386.3V375.4M1040.8 361.2V354" stroke="#f14cc1" stroke-width="1.6"/>
</g>
<g clip-path="url(#c1_3)">
<polyline points="932.2,519.3 951.8,486.6 974.1,452.1 996.3,417.5 1018.6,384.8 1040.8,361.2 1063,357.6 1085.3,352.1 1107.5,349.4 1129.8,348.5 1152,348.5" fill="none" stroke="#a3a3a3" stroke-width="1.0" stroke-dasharray="1.9 2.0"/>
<path d="M949.7 485.7l1.26 -1.26 0.92 0.92 0.92 -0.92 1.26 1.26 -0.92 0.92 0.92 0.92 -1.26 1.26 -0.92 -0.92 -0.92 0.92 -1.26 -1.26 0.92 -0.92zM971.9 451.1l1.26 -1.26 0.92 0.92 0.92 -0.92 1.26 1.26 -0.92 0.92 0.92 0.92 -1.26 1.26 -0.92 -0.92 -0.92 0.92 -1.26 -1.26 0.92 -0.92zM994.1 416.6l1.26 -1.26 0.92 0.92 0.92 -0.92 1.26 1.26 -0.92 0.92 0.92 0.92 -1.26 1.26 -0.92 -0.92 -0.92 0.92 -1.26 -1.26 0.92 -0.92zM1016.4 383.9l1.26 -1.26 0.92 0.92 0.92 -0.92 1.26 1.26 -0.92 0.92 0.92 0.92 -1.26 1.26 -0.92 -0.92 -0.92 0.92 -1.26 -1.26 0.92 -0.92zM1038.6 360.3l1.26 -1.26 0.92 0.92 0.92 -0.92 1.26 1.26 -0.92 0.92 0.92 0.92 -1.26 1.26 -0.92 -0.92 -0.92 0.92 -1.26 -1.26 0.92 -0.92zM1060.9 356.7l1.26 -1.26 0.92 0.92 0.92 -0.92 1.26 1.26 -0.92 0.92 0.92 0.92 -1.26 1.26 -0.92 -0.92 -0.92 0.92 -1.26 -1.26 0.92 -0.92zM1083.1 351.2l1.26 -1.26 0.92 0.92 0.92 -0.92 1.26 1.26 -0.92 0.92 0.92 0.92 -1.26 1.26 -0.92 -0.92 -0.92 0.92 -1.26 -1.26 0.92 -0.92zM1105.3 348.5l1.26 -1.26 0.92 0.92 0.92 -0.92 1.26 1.26 -0.92 0.92 0.92 0.92 -1.26 1.26 -0.92 -0.92 -0.92 0.92 -1.26 -1.26 0.92 -0.92zM1127.6 347.6l1.26 -1.26 0.92 0.92 0.92 -0.92 1.26 1.26 -0.92 0.92 0.92 0.92 -1.26 1.26 -0.92 -0.92 -0.92 0.92 -1.26 -1.26 0.92 -0.92zM1149.8 347.6l1.26 -1.26 0.92 0.92 0.92 -0.92 1.26 1.26 -0.92 0.92 0.92 0.92 -1.26 1.26 -0.92 -0.92 -0.92 0.92 -1.26 -1.26 0.92 -0.92z" fill="#a3a3a3" stroke="#fff" stroke-width="0.5"/>
</g>
<g clip-path="url(#c1_3)">
<polyline points="932.2,519.3 951.8,487.3 974.1,452.6 996.3,421.5 1018.6,392.1 1040.8,373.9 1063,361.8 1085.3,354.9 1107.5,350.5 1129.8,348.9 1152,348.5" fill="none" stroke="#f4c31a" stroke-width="2.0" stroke-linejoin="round"/>
<path d="M951.8 489.8l2.53 -4.3h-5.06zM974.1 455.1l2.53 -4.3h-5.06zM996.3 424.1l2.53 -4.3h-5.06zM1018.6 394.6l2.53 -4.3h-5.06zM1040.8 376.5l2.53 -4.3h-5.06zM1063 364.3l2.53 -4.3h-5.06zM1085.3 357.4l2.53 -4.3h-5.06zM1107.5 353l2.53 -4.3h-5.06zM1129.8 351.4l2.53 -4.3h-5.06zM1152 351l2.53 -4.3h-5.06z" fill="#f4c31a" stroke="#fff" stroke-width="0.5"/>
<path d="M951.8 491V483.7M974.1 456.2V449M996.3 425.2V417.9" stroke="#f4c31a" stroke-width="1.6"/>
</g>
<g clip-path="url(#c1_3)">
<polyline points="932.2,517.5 951.8,499.3 974.1,458.8 996.3,428.4 1018.6,405.9 1040.8,386.1 1063,371.4 1085.3,359.2 1107.5,352.3 1129.8,349.4 1152,348.5" fill="none" stroke="#1ec8e2" stroke-width="2.0" stroke-linejoin="round"/>
<path d="M949.7 498.4l1.26 -1.26 0.92 0.92 0.92 -0.92 1.26 1.26 -0.92 0.92 0.92 0.92 -1.26 1.26 -0.92 -0.92 -0.92 0.92 -1.26 -1.26 0.92 -0.92zM971.9 457.9l1.26 -1.26 0.92 0.92 0.92 -0.92 1.26 1.26 -0.92 0.92 0.92 0.92 -1.26 1.26 -0.92 -0.92 -0.92 0.92 -1.26 -1.26 0.92 -0.92zM994.1 427.5l1.26 -1.26 0.92 0.92 0.92 -0.92 1.26 1.26 -0.92 0.92 0.92 0.92 -1.26 1.26 -0.92 -0.92 -0.92 0.92 -1.26 -1.26 0.92 -0.92zM1016.4 405l1.26 -1.26 0.92 0.92 0.92 -0.92 1.26 1.26 -0.92 0.92 0.92 0.92 -1.26 1.26 -0.92 -0.92 -0.92 0.92 -1.26 -1.26 0.92 -0.92zM1038.6 385.2l1.26 -1.26 0.92 0.92 0.92 -0.92 1.26 1.26 -0.92 0.92 0.92 0.92 -1.26 1.26 -0.92 -0.92 -0.92 0.92 -1.26 -1.26 0.92 -0.92zM1060.9 370.5l1.26 -1.26 0.92 0.92 0.92 -0.92 1.26 1.26 -0.92 0.92 0.92 0.92 -1.26 1.26 -0.92 -0.92 -0.92 0.92 -1.26 -1.26 0.92 -0.92zM1083.1 358.3l1.26 -1.26 0.92 0.92 0.92 -0.92 1.26 1.26 -0.92 0.92 0.92 0.92 -1.26 1.26 -0.92 -0.92 -0.92 0.92 -1.26 -1.26 0.92 -0.92zM1105.3 351.4l1.26 -1.26 0.92 0.92 0.92 -0.92 1.26 1.26 -0.92 0.92 0.92 0.92 -1.26 1.26 -0.92 -0.92 -0.92 0.92 -1.26 -1.26 0.92 -0.92zM1127.6 348.5l1.26 -1.26 0.92 0.92 0.92 -0.92 1.26 1.26 -0.92 0.92 0.92 0.92 -1.26 1.26 -0.92 -0.92 -0.92 0.92 -1.26 -1.26 0.92 -0.92zM1149.8 347.6l1.26 -1.26 0.92 0.92 0.92 -0.92 1.26 1.26 -0.92 0.92 0.92 0.92 -1.26 1.26 -0.92 -0.92 -0.92 0.92 -1.26 -1.26 0.92 -0.92z" fill="#1ec8e2" stroke="#fff" stroke-width="0.5"/>
<path d="M951.8 506.6V492M974.1 462.4V455.2M996.3 432.1V424.8M1018.6 409.6V402.3M1040.8 389.7V382.5M1063 375V367.8M1085.3 361.9V356.5" stroke="#1ec8e2" stroke-width="1.6"/>
</g>
<g clip-path="url(#c1_3)">
<polyline points="932.2,525.3 1040.8,366.1 1063,350.9 1085.3,349.2 1107.5,348.9 1129.8,348.5 1152,348.5" fill="none" stroke="#1a3ad6" stroke-width="2.0" stroke-linejoin="round"/>
<path d="M1038.5 366.1a2.3 2.3 0 1 0 4.6 0a2.3 2.3 0 1 0 -4.6 0zM1060.7 350.9a2.3 2.3 0 1 0 4.6 0a2.3 2.3 0 1 0 -4.6 0zM1083 349.2a2.3 2.3 0 1 0 4.6 0a2.3 2.3 0 1 0 -4.6 0zM1105.2 348.9a2.3 2.3 0 1 0 4.6 0a2.3 2.3 0 1 0 -4.6 0zM1127.5 348.5a2.3 2.3 0 1 0 4.6 0a2.3 2.3 0 1 0 -4.6 0zM1149.7 348.5a2.3 2.3 0 1 0 4.6 0a2.3 2.3 0 1 0 -4.6 0z" fill="#1a3ad6" stroke="#fff" stroke-width="0.5"/>
</g>
<rect x="1163.8" y="339.9" width="154.7" height="219" rx="2" fill="#fff" stroke="#cccccc" stroke-width="1"/>
<path d="M1168.8 350.6H1193.9" stroke="#023eff" stroke-width="1.0" stroke-dasharray="1.9 2.0"/>
<path d="M1178.2 350.6a3.6 3.6 0 1 0 7.2 0a3.6 3.6 0 1 0 -7.2 0z" fill="#023eff" stroke="#fff" stroke-width="0.5"/>
<text x="1207.6" y="355.4" font-size="14.10" text-anchor="start" textLength="27.9" lengthAdjust="spacingAndGlyphs" fill="#262626" >MSP</text>
<path d="M1168.8 370.2H1193.9" stroke="#ff7c00" stroke-width="1.0" stroke-dasharray="1.9 2.0"/>
<path d="M1178.4 368.8l1.98 -1.98 1.44 1.44 1.44 -1.44 1.98 1.98 -1.44 1.44 1.44 1.44 -1.98 1.98 -1.44 -1.44 -1.44 1.44 -1.98 -1.98 1.44 -1.44z" fill="#ff7c00" stroke="#fff" stroke-width="0.5"/>
<text x="1207.6" y="375.1" font-size="14.10" text-anchor="start" textLength="60.2" lengthAdjust="spacingAndGlyphs" fill="#262626" >MaxLogit</text>
<path d="M1168.8 389.9H1193.9" stroke="#1ac938" stroke-width="1.0" stroke-dasharray="1.9 2.0"/>
<path d="M1178.8 386.9h6.12v6.12h-6.12z" fill="#1ac938" stroke="#fff" stroke-width="0.5"/>
<text x="1207.6" y="394.8" font-size="14.10" text-anchor="start" textLength="46.6" lengthAdjust="spacingAndGlyphs" fill="#262626" >Energy</text>
<path d="M1168.8 409.6H1193.9" stroke="#e8000b" stroke-width="1.0" stroke-dasharray="1.9 2.0"/>
<path d="M1180.5 406h2.74v2.23h2.23v2.74h-2.23v2.23h-2.74v-2.23h-2.23v-2.74h2.23z" fill="#e8000b" stroke="#fff" stroke-width="0.5"/>
<text x="1207.6" y="414.5" font-size="14.10" text-anchor="start" textLength="39.6" lengthAdjust="spacingAndGlyphs" fill="#262626" >SIRC [</text>
<text x="1247.2" y="414.5" font-size="14.10" text-anchor="start" textLength="7.4" lengthAdjust="spacingAndGlyphs" fill="#262626" font-style="italic">L</text>
<text x="1254.7" y="417" font-size="9.87" text-anchor="start" textLength="5.9" lengthAdjust="spacingAndGlyphs" fill="#262626" >1</text>
<text x="1261.1" y="414.5" font-size="14.10" text-anchor="start" textLength="5.2" lengthAdjust="spacingAndGlyphs" fill="#262626" >]</text>
<path d="M1168.8 429.4H1193.9" stroke="#8b2be2" stroke-width="1.0" stroke-dasharray="1.9 2.0"/>
<path d="M1181.8 425.6l3.78 3.78l-3.78 3.78l-3.78 -3.78z" fill="#8b2be2" stroke="#fff" stroke-width="0.5"/>
<text x="1207.6" y="434.2" font-size="14.10" text-anchor="start" textLength="68.6" lengthAdjust="spacingAndGlyphs" fill="#262626" >SIRC [Res]</text>
<path d="M1168.8 449.1H1193.9" stroke="#9f4800" stroke-width="1.0" stroke-dasharray="1.9 2.0"/>
<path d="M1181.8 445.3l2.16 3.78l-2.16 3.78l-2.16 -3.78z" fill="#9f4800" stroke="#fff" stroke-width="0.5"/>
<text x="1207.6" y="453.9" font-size="14.10" text-anchor="start" textLength="33.6" lengthAdjust="spacingAndGlyphs" fill="#262626" >CCE*</text>
<path d="M1168.8 468.8H1193.9" stroke="#f14cc1" stroke-width="1.0" stroke-dasharray="1.9 2.0"/>
<path d="M1181.8 464.8l3.96 6.73h-7.92z" fill="#f14cc1" stroke="#fff" stroke-width="0.5"/>
<text x="1207.6" y="473.6" font-size="14.10" text-anchor="start" textLength="34.6" lengthAdjust="spacingAndGlyphs" fill="#262626" >DCE*</text>
<path d="M1168.8 488.5H1193.9" stroke="#a3a3a3" stroke-width="1.0" stroke-dasharray="1.9 2.0"/>
<path d="M1178.4 487l1.98 -1.98 1.44 1.44 1.44 -1.44 1.98 1.98 -1.44 1.44 1.44 1.44 -1.98 1.98 -1.44 -1.44 -1.44 1.44 -1.98 -1.98 1.44 -1.44z" fill="#a3a3a3" stroke="#fff" stroke-width="0.5"/>
<text x="1207.6" y="493.3" font-size="14.10" text-anchor="start" textLength="25.5" lengthAdjust="spacingAndGlyphs" fill="#262626" >OE*</text>
<path d="M1168.8 508.1H1193.9" stroke="#f4c31a" stroke-width="2.6"/>
<path d="M1181.8 512.1l3.96 -6.73h-7.92z" fill="#f4c31a" stroke="#fff" stroke-width="0.5"/>
<text x="1207.6" y="513" font-size="14.10" text-anchor="start" textLength="77.4" lengthAdjust="spacingAndGlyphs" fill="#262626" >Plug-in BB [</text>
<text x="1285" y="513" font-size="14.10" text-anchor="start" textLength="7.4" lengthAdjust="spacingAndGlyphs" fill="#262626" font-style="italic">L</text>
<text x="1292.4" y="515.5" font-size="9.87" text-anchor="start" textLength="5.9" lengthAdjust="spacingAndGlyphs" fill="#262626" >1</text>
<text x="1298.8" y="513" font-size="14.10" text-anchor="start" textLength="5.2" lengthAdjust="spacingAndGlyphs" fill="#262626" >]</text>
<path d="M1168.8 527.9H1193.9" stroke="#1ec8e2" stroke-width="2.6"/>
<path d="M1178.4 526.4l1.98 -1.98 1.44 1.44 1.44 -1.44 1.98 1.98 -1.44 1.44 1.44 1.44 -1.98 1.98 -1.44 -1.44 -1.44 1.44 -1.98 -1.98 1.44 -1.44z" fill="#1ec8e2" stroke="#fff" stroke-width="0.5"/>
<text x="1207.6" y="532.7" font-size="14.10" text-anchor="start" textLength="106.3" lengthAdjust="spacingAndGlyphs" fill="#262626" >Plug-in BB [Res]</text>
<path d="M1168.8 547.5H1193.9" stroke="#1a3ad6" stroke-width="2.6"/>
<path d="M1178.2 547.5a3.6 3.6 0 1 0 7.2 0a3.6 3.6 0 1 0 -7.2 0z" fill="#1a3ad6" stroke="#fff" stroke-width="0.5"/>
<text x="1207.6" y="552.4" font-size="14.10" text-anchor="start" textLength="72.9" lengthAdjust="spacingAndGlyphs" fill="#262626" >Plug-in LB*</text>
<text x="412.0" y="640.5" font-family="Liberation Serif, serif" font-size="33.0" textLength="32.5" lengthAdjust="spacingAndGlyphs" fill="#000">(b)</text><path d="M459.5 619.5H471.5C480.1 619.5 480.1 628.3 471.5 628.3H466.8M462.8 619.5V639.8M466.8 619.5V639.8M459.5 639.8H470.1" stroke="#000" stroke-width="1.25" fill="none"/><path d="M472.8 620.0C476.7 621.3 476.7 626.5 472.8 627.8" stroke="#000" stroke-width="0.9" fill="none"/><text x="479.0" y="643.0" font-family="Liberation Serif, serif" font-size="22.0" textLength="19.5" lengthAdjust="spacingAndGlyphs" fill="#000">in</text><text x="501.5" y="640.5" font-family="Liberation Serif, serif" font-size="33.0" textLength="6.5" lengthAdjust="spacingAndGlyphs" fill="#000">:</text><text x="521.0" y="640.5" font-family="Liberation Serif, serif" font-size="33.0" textLength="153.1" lengthAdjust="spacingAndGlyphs" fill="#000">CIFAR-100;</text><path d="M706.7 619.5H718.7C727.3 619.5 727.3 628.3 718.7 628.3H713.9M709.9 619.5V639.8M713.9 619.5V639.8M706.7 639.8H717.3" stroke="#000" stroke-width="1.25" fill="none"/><path d="M720.0 620.0C723.9 621.3 723.9 626.5 720.0 627.8" stroke="#000" stroke-width="0.9" fill="none"/><text x="725.2" y="643.0" font-family="Liberation Serif, serif" font-size="22.0" textLength="35.0" lengthAdjust="spacingAndGlyphs" fill="#000">out</text><text x="764.5" y="640.5" font-family="Liberation Serif, serif" font-size="33.0" textLength="6.5" lengthAdjust="spacingAndGlyphs" fill="#000">:</text><text x="783.5" y="640.5" font-family="Liberation Serif, serif" font-size="33.0" textLength="125.3" lengthAdjust="spacingAndGlyphs" fill="#000">Places365</text>
<rect x="49.2" y="676.9" width="219.8" height="197.6" fill="#eaeaf2"/>
<clipPath id="c2_0"><rect x="49.2" y="676.9" width="219.8" height="197.6"/></clipPath>
<path d="M91.1 676.9V874.5M135.6 676.9V874.5M180 676.9V874.5M224.5 676.9V874.5M269 676.9V874.5M49.2 869H269M49.2 828.6H269M49.2 788.2H269M49.2 747.9H269M49.2 707.5H269" stroke="#fff" stroke-width="1.1" fill="none"/>
<text x="91.1" y="894.5" font-size="14.31" text-anchor="middle" textLength="20.3" lengthAdjust="spacingAndGlyphs" fill="#262626" >0.2</text>
<text x="135.6" y="894.5" font-size="14.31" text-anchor="middle" textLength="20.3" lengthAdjust="spacingAndGlyphs" fill="#262626" >0.4</text>
<text x="180" y="894.5" font-size="14.31" text-anchor="middle" textLength="20.3" lengthAdjust="spacingAndGlyphs" fill="#262626" >0.6</text>
<text x="224.5" y="894.5" font-size="14.31" text-anchor="middle" textLength="20.3" lengthAdjust="spacingAndGlyphs" fill="#262626" >0.8</text>
<text x="269" y="894.5" font-size="14.31" text-anchor="middle" textLength="20.3" lengthAdjust="spacingAndGlyphs" fill="#262626" >1.0</text>
<text x="39.2" y="874.4" font-size="14.31" text-anchor="end" textLength="20.3" lengthAdjust="spacingAndGlyphs" fill="#262626" >0.0</text>
<text x="39.2" y="834" font-size="14.31" text-anchor="end" textLength="20.3" lengthAdjust="spacingAndGlyphs" fill="#262626" >0.1</text>
<text x="39.2" y="793.7" font-size="14.31" text-anchor="end" textLength="20.3" lengthAdjust="spacingAndGlyphs" fill="#262626" >0.2</text>
<text x="39.2" y="753.3" font-size="14.31" text-anchor="end" textLength="20.3" lengthAdjust="spacingAndGlyphs" fill="#262626" >0.3</text>
<text x="39.2" y="712.9" font-size="14.31" text-anchor="end" textLength="20.3" lengthAdjust="spacingAndGlyphs" fill="#262626" >0.4</text>
<text x="159.1" y="912.5" font-size="15.48" text-anchor="middle" textLength="139.0" lengthAdjust="spacingAndGlyphs" fill="#262626" >Samples abstained</text>
<g transform="translate(11.5 775.7) rotate(-90)"><text x="0" y="0" font-size="15.48" text-anchor="middle" textLength="63.0" lengthAdjust="spacingAndGlyphs" fill="#262626" >Joint risk</text></g>
<g clip-path="url(#c2_0)">
<polyline points="49.2,691.4 68.8,695.4 91.1,700.6 113.3,706.7 135.6,713.6 157.8,723.2 180,734.1 202.3,749.1 224.5,770.5 246.8,804.4 269,850.4" fill="none" stroke="#023eff" stroke-width="1.0" stroke-dasharray="1.9 2.0"/>
<path d="M66.5 695.4a2.3 2.3 0 1 0 4.6 0a2.3 2.3 0 1 0 -4.6 0zM88.8 700.6a2.3 2.3 0 1 0 4.6 0a2.3 2.3 0 1 0 -4.6 0zM111 706.7a2.3 2.3 0 1 0 4.6 0a2.3 2.3 0 1 0 -4.6 0zM133.3 713.6a2.3 2.3 0 1 0 4.6 0a2.3 2.3 0 1 0 -4.6 0zM155.5 723.2a2.3 2.3 0 1 0 4.6 0a2.3 2.3 0 1 0 -4.6 0zM177.7 734.1a2.3 2.3 0 1 0 4.6 0a2.3 2.3 0 1 0 -4.6 0zM200 749.1a2.3 2.3 0 1 0 4.6 0a2.3 2.3 0 1 0 -4.6 0zM222.2 770.5a2.3 2.3 0 1 0 4.6 0a2.3 2.3 0 1 0 -4.6 0zM244.5 804.4a2.3 2.3 0 1 0 4.6 0a2.3 2.3 0 1 0 -4.6 0zM266.7 850.4a2.3 2.3 0 1 0 4.6 0a2.3 2.3 0 1 0 -4.6 0z" fill="#023eff" stroke="#fff" stroke-width="0.5"/>
<path d="M224.5 772.5V768.5M246.8 808.4V800.4" stroke="#023eff" stroke-width="1.6"/>
</g>
<g clip-path="url(#c2_0)">
<polyline points="49.2,691.4 68.8,696.2 91.1,707.5 113.3,715.2 135.6,726.5 157.8,737 180,756 202.3,776.1 224.5,801.2 246.8,830.6 269,850.8" fill="none" stroke="#ff7c00" stroke-width="1.0" stroke-dasharray="1.9 2.0"/>
<path d="M66.7 695.3l1.26 -1.26 0.92 0.92 0.92 -0.92 1.26 1.26 -0.92 0.92 0.92 0.92 -1.26 1.26 -0.92 -0.92 -0.92 0.92 -1.26 -1.26 0.92 -0.92zM88.9 706.6l1.26 -1.26 0.92 0.92 0.92 -0.92 1.26 1.26 -0.92 0.92 0.92 0.92 -1.26 1.26 -0.92 -0.92 -0.92 0.92 -1.26 -1.26 0.92 -0.92zM111.1 714.3l1.26 -1.26 0.92 0.92 0.92 -0.92 1.26 1.26 -0.92 0.92 0.92 0.92 -1.26 1.26 -0.92 -0.92 -0.92 0.92 -1.26 -1.26 0.92 -0.92zM133.4 725.6l1.26 -1.26 0.92 0.92 0.92 -0.92 1.26 1.26 -0.92 0.92 0.92 0.92 -1.26 1.26 -0.92 -0.92 -0.92 0.92 -1.26 -1.26 0.92 -0.92zM155.6 736.1l1.26 -1.26 0.92 0.92 0.92 -0.92 1.26 1.26 -0.92 0.92 0.92 0.92 -1.26 1.26 -0.92 -0.92 -0.92 0.92 -1.26 -1.26 0.92 -0.92zM177.9 755l1.26 -1.26 0.92 0.92 0.92 -0.92 1.26 1.26 -0.92 0.92 0.92 0.92 -1.26 1.26 -0.92 -0.92 -0.92 0.92 -1.26 -1.26 0.92 -0.92zM200.1 775.2l1.26 -1.26 0.92 0.92 0.92 -0.92 1.26 1.26 -0.92 0.92 0.92 0.92 -1.26 1.26 -0.92 -0.92 -0.92 0.92 -1.26 -1.26 0.92 -0.92zM222.3 800.2l1.26 -1.26 0.92 0.92 0.92 -0.92 1.26 1.26 -0.92 0.92 0.92 0.92 -1.26 1.26 -0.92 -0.92 -0.92 0.92 -1.26 -1.26 0.92 -0.92zM244.6 829.7l1.26 -1.26 0.92 0.92 0.92 -0.92 1.26 1.26 -0.92 0.92 0.92 0.92 -1.26 1.26 -0.92 -0.92 -0.92 0.92 -1.26 -1.26 0.92 -0.92zM266.8 849.9l1.26 -1.26 0.92 0.92 0.92 -0.92 1.26 1.26 -0.92 0.92 0.92 0.92 -1.26 1.26 -0.92 -0.92 -0.92 0.92 -1.26 -1.26 0.92 -0.92z" fill="#ff7c00" stroke="#fff" stroke-width="0.5"/>
</g>
<g clip-path="url(#c2_0)">
<polyline points="49.2,691.4 68.8,696.2 91.1,707.5 113.3,715.2 135.6,726.5 157.8,738.6 180,757.6 202.3,778.6 224.5,804.4 246.8,833.1 269,852" fill="none" stroke="#1ac938" stroke-width="1.0" stroke-dasharray="1.9 2.0"/>
<path d="M66.9 694.2h3.91v3.91h-3.91zM89.1 705.5h3.91v3.91h-3.91zM111.4 713.2h3.91v3.91h-3.91zM133.6 724.5h3.91v3.91h-3.91zM155.8 736.6h3.91v3.91h-3.91zM178.1 755.6h3.91v3.91h-3.91zM200.3 776.6h3.91v3.91h-3.91zM222.6 802.4h3.91v3.91h-3.91zM244.8 831.1h3.91v3.91h-3.91zM267 850.1h3.91v3.91h-3.91z" fill="#1ac938" stroke="#fff" stroke-width="0.5"/>
<path d="M135.6 728.9V724.1M180 760V755.1M202.3 781.8V775.3M224.5 808.4V800.4M246.8 837.1V829" stroke="#1ac938" stroke-width="1.6"/>
</g>
<g clip-path="url(#c2_0)">
<polyline points="49.2,691.4 68.8,699.4 91.1,717.2 113.3,726.5 135.6,733.3 157.8,741.4 180,750.7 202.3,764.4 224.5,784.6 246.8,815.7 269,852" fill="none" stroke="#e8000b" stroke-width="1.0" stroke-dasharray="1.9 2.0"/>
<path d="M68 697.1h1.75v1.43h1.43v1.75h-1.43v1.43h-1.75v-1.43h-1.43v-1.75h1.43zM90.2 714.9h1.75v1.43h1.43v1.75h-1.43v1.43h-1.75v-1.43h-1.43v-1.75h1.43zM112.4 724.2h1.75v1.43h1.43v1.75h-1.43v1.43h-1.75v-1.43h-1.43v-1.75h1.43zM134.7 731h1.75v1.43h1.43v1.75h-1.43v1.43h-1.75v-1.43h-1.43v-1.75h1.43zM156.9 739.1h1.75v1.43h1.43v1.75h-1.43v1.43h-1.75v-1.43h-1.43v-1.75h1.43zM179.2 748.4h1.75v1.43h1.43v1.75h-1.43v1.43h-1.75v-1.43h-1.43v-1.75h1.43zM201.4 762.1h1.75v1.43h1.43v1.75h-1.43v1.43h-1.75v-1.43h-1.43v-1.75h1.43zM223.6 782.3h1.75v1.43h1.43v1.75h-1.43v1.43h-1.75v-1.43h-1.43v-1.75h1.43zM245.9 813.4h1.75v1.43h1.43v1.75h-1.43v1.43h-1.75v-1.43h-1.43v-1.75h1.43zM268.1 849.7h1.75v1.43h1.43v1.75h-1.43v1.43h-1.75v-1.43h-1.43v-1.75h1.43z" fill="#e8000b" stroke="#fff" stroke-width="0.5"/>
</g>
<g clip-path="url(#c2_0)">
<polyline points="49.2,691.4 68.8,699.4 91.1,717.2 113.3,726.5 135.6,733.3 157.8,741.4 180,750.7 202.3,764.4 224.5,784.6 246.8,815.7 269,852" fill="none" stroke="#8b2be2" stroke-width="1.0" stroke-dasharray="1.9 2.0"/>
<path d="M68.8 697l2.42 2.42l-2.42 2.42l-2.42 -2.42zM91.1 714.8l2.42 2.42l-2.42 2.42l-2.42 -2.42zM113.3 724.1l2.42 2.42l-2.42 2.42l-2.42 -2.42zM135.6 730.9l2.42 2.42l-2.42 2.42l-2.42 -2.42zM157.8 739l2.42 2.42l-2.42 2.42l-2.42 -2.42zM180 748.3l2.42 2.42l-2.42 2.42l-2.42 -2.42zM202.3 762l2.42 2.42l-2.42 2.42l-2.42 -2.42zM224.5 782.2l2.42 2.42l-2.42 2.42l-2.42 -2.42zM246.8 813.3l2.42 2.42l-2.42 2.42l-2.42 -2.42zM269 849.6l2.42 2.42l-2.42 2.42l-2.42 -2.42z" fill="#8b2be2" stroke="#fff" stroke-width="0.5"/>
</g>
<g clip-path="url(#c2_0)">
<polyline points="49.2,691.4 68.8,703.5 91.1,719.6 113.3,743.8 135.6,768.1 157.8,793.1 180,806 202.3,816.5 224.5,824.6 246.8,824.6 269,838.3" fill="none" stroke="#9f4800" stroke-width="1.0" stroke-dasharray="1.9 2.0"/>
<path d="M68.8 701l1.38 2.42l-1.38 2.42l-1.38 -2.42zM91.1 717.2l1.38 2.42l-1.38 2.42l-1.38 -2.42zM113.3 741.4l1.38 2.42l-1.38 2.42l-1.38 -2.42zM135.6 765.6l1.38 2.42l-1.38 2.42l-1.38 -2.42zM157.8 790.7l1.38 2.42l-1.38 2.42l-1.38 -2.42zM180 803.6l1.38 2.42l-1.38 2.42l-1.38 -2.42zM202.3 814.1l1.38 2.42l-1.38 2.42l-1.38 -2.42zM224.5 822.2l1.38 2.42l-1.38 2.42l-1.38 -2.42zM246.8 822.2l1.38 2.42l-1.38 2.42l-1.38 -2.42zM269 835.9l1.38 2.42l-1.38 2.42l-1.38 -2.42z" fill="#9f4800" stroke="#fff" stroke-width="0.5"/>
</g>
<g clip-path="url(#c2_0)">
<polyline points="49.2,691.4 68.8,703.5 91.1,724.9 113.3,746.3 135.6,774.9 157.8,796.3 180,808.4 202.3,816.5 224.5,817.3 246.8,820.1 269,819.3" fill="none" stroke="#f14cc1" stroke-width="1.0" stroke-dasharray="1.9 2.0"/>
<path d="M68.8 700.9l2.53 4.3h-5.06zM91.1 722.3l2.53 4.3h-5.06zM113.3 743.7l2.53 4.3h-5.06zM135.6 772.4l2.53 4.3h-5.06zM157.8 793.8l2.53 4.3h-5.06zM180 805.9l2.53 4.3h-5.06zM202.3 814l2.53 4.3h-5.06zM224.5 814.8l2.53 4.3h-5.06zM246.8 817.6l2.53 4.3h-5.06zM269 816.8l2.53 4.3h-5.06z" fill="#f14cc1" stroke="#fff" stroke-width="0.5"/>
<path d="M246.8 824.2V816.1M269 827.4V811.3" stroke="#f14cc1" stroke-width="1.6"/>
</g>
<g clip-path="url(#c2_0)">
<polyline points="49.2,688.5 68.8,697 91.1,712.7 113.3,731.7 135.6,749.9 157.8,768.1 180,784.6 202.3,800 224.5,810.5 246.8,829.4 269,848.8" fill="none" stroke="#a3a3a3" stroke-width="1.0" stroke-dasharray="1.9 2.0"/>
<path d="M66.7 696.1l1.26 -1.26 0.92 0.92 0.92 -0.92 1.26 1.26 -0.92 0.92 0.92 0.92 -1.26 1.26 -0.92 -0.92 -0.92 0.92 -1.26 -1.26 0.92 -0.92zM88.9 711.8l1.26 -1.26 0.92 0.92 0.92 -0.92 1.26 1.26 -0.92 0.92 0.92 0.92 -1.26 1.26 -0.92 -0.92 -0.92 0.92 -1.26 -1.26 0.92 -0.92zM111.1 730.8l1.26 -1.26 0.92 0.92 0.92 -0.92 1.26 1.26 -0.92 0.92 0.92 0.92 -1.26 1.26 -0.92 -0.92 -0.92 0.92 -1.26 -1.26 0.92 -0.92zM133.4 749l1.26 -1.26 0.92 0.92 0.92 -0.92 1.26 1.26 -0.92 0.92 0.92 0.92 -1.26 1.26 -0.92 -0.92 -0.92 0.92 -1.26 -1.26 0.92 -0.92zM155.6 767.1l1.26 -1.26 0.92 0.92 0.92 -0.92 1.26 1.26 -0.92 0.92 0.92 0.92 -1.26 1.26 -0.92 -0.92 -0.92 0.92 -1.26 -1.26 0.92 -0.92zM177.9 783.7l1.26 -1.26 0.92 0.92 0.92 -0.92 1.26 1.26 -0.92 0.92 0.92 0.92 -1.26 1.26 -0.92 -0.92 -0.92 0.92 -1.26 -1.26 0.92 -0.92zM200.1 799l1.26 -1.26 0.92 0.92 0.92 -0.92 1.26 1.26 -0.92 0.92 0.92 0.92 -1.26 1.26 -0.92 -0.92 -0.92 0.92 -1.26 -1.26 0.92 -0.92zM222.3 809.5l1.26 -1.26 0.92 0.92 0.92 -0.92 1.26 1.26 -0.92 0.92 0.92 0.92 -1.26 1.26 -0.92 -0.92 -0.92 0.92 -1.26 -1.26 0.92 -0.92zM244.6 828.5l1.26 -1.26 0.92 0.92 0.92 -0.92 1.26 1.26 -0.92 0.92 0.92 0.92 -1.26 1.26 -0.92 -0.92 -0.92 0.92 -1.26 -1.26 0.92 -0.92zM266.8 847.9l1.26 -1.26 0.92 0.92 0.92 -0.92 1.26 1.26 -0.92 0.92 0.92 0.92 -1.26 1.26 -0.92 -0.92 -0.92 0.92 -1.26 -1.26 0.92 -0.92z" fill="#a3a3a3" stroke="#fff" stroke-width="0.5"/>
<path d="M91.1 716.8V708.7M113.3 735.8V727.7M135.6 753.9V745.9M157.8 772.1V764M180 788.7V780.6M224.5 814.5V806.4M246.8 833.5V825.4" stroke="#a3a3a3" stroke-width="1.6"/>
</g>
<g clip-path="url(#c2_0)">
<polyline points="49.2,695.4 68.8,703.5 91.1,718.8 113.3,741.4 135.6,761.2 157.8,779.4 180,793.9 202.3,810.5 224.5,827.8 246.8,845.2 269,858.1" fill="none" stroke="#f4c31a" stroke-width="2.0" stroke-linejoin="round"/>
<path d="M68.8 706l2.53 -4.3h-5.06zM91.1 721.3l2.53 -4.3h-5.06zM113.3 743.9l2.53 -4.3h-5.06zM135.6 763.7l2.53 -4.3h-5.06zM157.8 781.9l2.53 -4.3h-5.06zM180 796.4l2.53 -4.3h-5.06zM202.3 813l2.53 -4.3h-5.06zM224.5 830.3l2.53 -4.3h-5.06zM246.8 847.7l2.53 -4.3h-5.06zM269 860.6l2.53 -4.3h-5.06z" fill="#f4c31a" stroke="#fff" stroke-width="0.5"/>
</g>
<g clip-path="url(#c2_0)">
<polyline points="49.2,695.4 68.8,703.9 91.1,719.6 113.3,737 135.6,753.5 157.8,768.1 180,781.8 202.3,797.5 224.5,818.1 246.8,839.1 269,858.1" fill="none" stroke="#1ec8e2" stroke-width="2.0" stroke-linejoin="round"/>
<path d="M66.7 702.9l1.26 -1.26 0.92 0.92 0.92 -0.92 1.26 1.26 -0.92 0.92 0.92 0.92 -1.26 1.26 -0.92 -0.92 -0.92 0.92 -1.26 -1.26 0.92 -0.92zM88.9 718.7l1.26 -1.26 0.92 0.92 0.92 -0.92 1.26 1.26 -0.92 0.92 0.92 0.92 -1.26 1.26 -0.92 -0.92 -0.92 0.92 -1.26 -1.26 0.92 -0.92zM111.1 736.1l1.26 -1.26 0.92 0.92 0.92 -0.92 1.26 1.26 -0.92 0.92 0.92 0.92 -1.26 1.26 -0.92 -0.92 -0.92 0.92 -1.26 -1.26 0.92 -0.92zM133.4 752.6l1.26 -1.26 0.92 0.92 0.92 -0.92 1.26 1.26 -0.92 0.92 0.92 0.92 -1.26 1.26 -0.92 -0.92 -0.92 0.92 -1.26 -1.26 0.92 -0.92zM155.6 767.1l1.26 -1.26 0.92 0.92 0.92 -0.92 1.26 1.26 -0.92 0.92 0.92 0.92 -1.26 1.26 -0.92 -0.92 -0.92 0.92 -1.26 -1.26 0.92 -0.92zM177.9 780.9l1.26 -1.26 0.92 0.92 0.92 -0.92 1.26 1.26 -0.92 0.92 0.92 0.92 -1.26 1.26 -0.92 -0.92 -0.92 0.92 -1.26 -1.26 0.92 -0.92zM200.1 796.6l1.26 -1.26 0.92 0.92 0.92 -0.92 1.26 1.26 -0.92 0.92 0.92 0.92 -1.26 1.26 -0.92 -0.92 -0.92 0.92 -1.26 -1.26 0.92 -0.92zM222.3 817.2l1.26 -1.26 0.92 0.92 0.92 -0.92 1.26 1.26 -0.92 0.92 0.92 0.92 -1.26 1.26 -0.92 -0.92 -0.92 0.92 -1.26 -1.26 0.92 -0.92zM244.6 838.2l1.26 -1.26 0.92 0.92 0.92 -0.92 1.26 1.26 -0.92 0.92 0.92 0.92 -1.26 1.26 -0.92 -0.92 -0.92 0.92 -1.26 -1.26 0.92 -0.92zM266.8 857.2l1.26 -1.26 0.92 0.92 0.92 -0.92 1.26 1.26 -0.92 0.92 0.92 0.92 -1.26 1.26 -0.92 -0.92 -0.92 0.92 -1.26 -1.26 0.92 -0.92z" fill="#1ec8e2" stroke="#fff" stroke-width="0.5"/>
<path d="M68.8 707.1V700.6M113.3 741V732.9M135.6 757.6V749.5M157.8 771.3V764.8M180 785V778.6M202.3 800.8V794.3M224.5 822.2V814.1M246.8 843.2V835.1" stroke="#1ec8e2" stroke-width="1.6"/>
</g>
<g clip-path="url(#c2_0)">
<polyline points="49.2,694.6 113.3,751.5 135.6,768.9 157.8,799.2 180,810.5 202.3,815.7 224.5,827.8 246.8,847.6 269,864.2" fill="none" stroke="#1a3ad6" stroke-width="2.0" stroke-linejoin="round"/>
<path d="M111 751.5a2.3 2.3 0 1 0 4.6 0a2.3 2.3 0 1 0 -4.6 0zM133.3 768.9a2.3 2.3 0 1 0 4.6 0a2.3 2.3 0 1 0 -4.6 0zM155.5 799.2a2.3 2.3 0 1 0 4.6 0a2.3 2.3 0 1 0 -4.6 0zM177.7 810.5a2.3 2.3 0 1 0 4.6 0a2.3 2.3 0 1 0 -4.6 0zM200 815.7a2.3 2.3 0 1 0 4.6 0a2.3 2.3 0 1 0 -4.6 0zM222.2 827.8a2.3 2.3 0 1 0 4.6 0a2.3 2.3 0 1 0 -4.6 0zM244.5 847.6a2.3 2.3 0 1 0 4.6 0a2.3 2.3 0 1 0 -4.6 0zM266.7 864.2a2.3 2.3 0 1 0 4.6 0a2.3 2.3 0 1 0 -4.6 0z" fill="#1a3ad6" stroke="#fff" stroke-width="0.5"/>
</g>
<rect x="343.7" y="676.9" width="219.2" height="197.6" fill="#eaeaf2"/>
<clipPath id="c2_1"><rect x="343.7" y="676.9" width="219.2" height="197.6"/></clipPath>
<path d="M385.5 676.9V874.5M429.8 676.9V874.5M474.2 676.9V874.5M518.5 676.9V874.5M562.9 676.9V874.5M343.7 859.3H562.9M343.7 815.1H562.9M343.7 771H562.9M343.7 726.9H562.9M343.7 682.7H562.9" stroke="#fff" stroke-width="1.1" fill="none"/>
<text x="385.5" y="894.5" font-size="14.31" text-anchor="middle" textLength="20.3" lengthAdjust="spacingAndGlyphs" fill="#262626" >0.2</text>
<text x="429.8" y="894.5" font-size="14.31" text-anchor="middle" textLength="20.3" lengthAdjust="spacingAndGlyphs" fill="#262626" >0.4</text>
<text x="474.2" y="894.5" font-size="14.31" text-anchor="middle" textLength="20.3" lengthAdjust="spacingAndGlyphs" fill="#262626" >0.6</text>
<text x="518.5" y="894.5" font-size="14.31" text-anchor="middle" textLength="20.3" lengthAdjust="spacingAndGlyphs" fill="#262626" >0.8</text>
<text x="562.9" y="894.5" font-size="14.31" text-anchor="middle" textLength="20.3" lengthAdjust="spacingAndGlyphs" fill="#262626" >1.0</text>
<text x="333.7" y="864.7" font-size="14.31" text-anchor="end" textLength="20.3" lengthAdjust="spacingAndGlyphs" fill="#262626" >0.2</text>
<text x="333.7" y="820.6" font-size="14.31" text-anchor="end" textLength="20.3" lengthAdjust="spacingAndGlyphs" fill="#262626" >0.4</text>
<text x="333.7" y="776.4" font-size="14.31" text-anchor="end" textLength="20.3" lengthAdjust="spacingAndGlyphs" fill="#262626" >0.6</text>
<text x="333.7" y="732.3" font-size="14.31" text-anchor="end" textLength="20.3" lengthAdjust="spacingAndGlyphs" fill="#262626" >0.8</text>
<text x="333.7" y="688.1" font-size="14.31" text-anchor="end" textLength="20.3" lengthAdjust="spacingAndGlyphs" fill="#262626" >1.0</text>
<text x="453.3" y="912.5" font-size="15.48" text-anchor="middle" textLength="139.0" lengthAdjust="spacingAndGlyphs" fill="#262626" >Samples abstained</text>
<g transform="translate(304.2 775.7) rotate(-90)"><text x="0" y="0" font-size="15.48" text-anchor="middle" textLength="107.2" lengthAdjust="spacingAndGlyphs" fill="#262626" >Inlier accuracy</text></g>
<g clip-path="url(#c2_1)">
<polyline points="343.7,848.3 363.3,842.7 385.5,837.2 407.6,830.6 429.8,827.7 452,819.1 474.2,807 496.4,790.9 518.5,770.6 540.7,737.7 562.9,693.7" fill="none" stroke="#023eff" stroke-width="1.0" stroke-dasharray="1.9 2.0"/>
<path d="M361 842.7a2.3 2.3 0 1 0 4.6 0a2.3 2.3 0 1 0 -4.6 0zM383.2 837.2a2.3 2.3 0 1 0 4.6 0a2.3 2.3 0 1 0 -4.6 0zM405.3 830.6a2.3 2.3 0 1 0 4.6 0a2.3 2.3 0 1 0 -4.6 0zM427.5 827.7a2.3 2.3 0 1 0 4.6 0a2.3 2.3 0 1 0 -4.6 0zM449.7 819.1a2.3 2.3 0 1 0 4.6 0a2.3 2.3 0 1 0 -4.6 0zM471.9 807a2.3 2.3 0 1 0 4.6 0a2.3 2.3 0 1 0 -4.6 0zM494.1 790.9a2.3 2.3 0 1 0 4.6 0a2.3 2.3 0 1 0 -4.6 0zM516.2 770.6a2.3 2.3 0 1 0 4.6 0a2.3 2.3 0 1 0 -4.6 0zM538.4 737.7a2.3 2.3 0 1 0 4.6 0a2.3 2.3 0 1 0 -4.6 0zM560.6 693.7a2.3 2.3 0 1 0 4.6 0a2.3 2.3 0 1 0 -4.6 0z" fill="#023eff" stroke="#fff" stroke-width="0.5"/>
<path d="M518.5 772.8V768.4M540.7 742.1V733.3" stroke="#023eff" stroke-width="1.6"/>
</g>
<g clip-path="url(#c2_1)">
<polyline points="343.7,848.3 363.3,843.8 385.5,837.2 407.6,829.5 429.8,822.9 452,812.9 474.2,801.9 496.4,788.7 518.5,762.2 540.7,733.5 562.9,695.9" fill="none" stroke="#ff7c00" stroke-width="1.0" stroke-dasharray="1.9 2.0"/>
<path d="M361.1 842.9l1.26 -1.26 0.92 0.92 0.92 -0.92 1.26 1.26 -0.92 0.92 0.92 0.92 -1.26 1.26 -0.92 -0.92 -0.92 0.92 -1.26 -1.26 0.92 -0.92zM383.3 836.3l1.26 -1.26 0.92 0.92 0.92 -0.92 1.26 1.26 -0.92 0.92 0.92 0.92 -1.26 1.26 -0.92 -0.92 -0.92 0.92 -1.26 -1.26 0.92 -0.92zM405.5 828.6l1.26 -1.26 0.92 0.92 0.92 -0.92 1.26 1.26 -0.92 0.92 0.92 0.92 -1.26 1.26 -0.92 -0.92 -0.92 0.92 -1.26 -1.26 0.92 -0.92zM427.6 822l1.26 -1.26 0.92 0.92 0.92 -0.92 1.26 1.26 -0.92 0.92 0.92 0.92 -1.26 1.26 -0.92 -0.92 -0.92 0.92 -1.26 -1.26 0.92 -0.92zM449.8 812l1.26 -1.26 0.92 0.92 0.92 -0.92 1.26 1.26 -0.92 0.92 0.92 0.92 -1.26 1.26 -0.92 -0.92 -0.92 0.92 -1.26 -1.26 0.92 -0.92zM472 801l1.26 -1.26 0.92 0.92 0.92 -0.92 1.26 1.26 -0.92 0.92 0.92 0.92 -1.26 1.26 -0.92 -0.92 -0.92 0.92 -1.26 -1.26 0.92 -0.92zM494.2 787.7l1.26 -1.26 0.92 0.92 0.92 -0.92 1.26 1.26 -0.92 0.92 0.92 0.92 -1.26 1.26 -0.92 -0.92 -0.92 0.92 -1.26 -1.26 0.92 -0.92zM516.4 761.2l1.26 -1.26 0.92 0.92 0.92 -0.92 1.26 1.26 -0.92 0.92 0.92 0.92 -1.26 1.26 -0.92 -0.92 -0.92 0.92 -1.26 -1.26 0.92 -0.92zM538.5 732.6l1.26 -1.26 0.92 0.92 0.92 -0.92 1.26 1.26 -0.92 0.92 0.92 0.92 -1.26 1.26 -0.92 -0.92 -0.92 0.92 -1.26 -1.26 0.92 -0.92zM560.7 695l1.26 -1.26 0.92 0.92 0.92 -0.92 1.26 1.26 -0.92 0.92 0.92 0.92 -1.26 1.26 -0.92 -0.92 -0.92 0.92 -1.26 -1.26 0.92 -0.92z" fill="#ff7c00" stroke="#fff" stroke-width="0.5"/>
</g>
<g clip-path="url(#c2_1)">
<polyline points="343.7,848.3 363.3,843.8 385.5,837.2 407.6,829.5 429.8,822.9 452,812.9 474.2,801.9 496.4,788.7 518.5,762.2 540.7,733.5 562.9,695.9" fill="none" stroke="#1ac938" stroke-width="1.0" stroke-dasharray="1.9 2.0"/>
<path d="M361.3 841.9h3.91v3.91h-3.91zM383.5 835.3h3.91v3.91h-3.91zM405.7 827.5h3.91v3.91h-3.91zM427.9 820.9h3.91v3.91h-3.91zM450 811h3.91v3.91h-3.91zM472.2 799.9h3.91v3.91h-3.91zM494.4 786.7h3.91v3.91h-3.91zM516.6 760.2h3.91v3.91h-3.91zM538.8 731.5h3.91v3.91h-3.91zM560.9 694h3.91v3.91h-3.91z" fill="#1ac938" stroke="#fff" stroke-width="0.5"/>
</g>
<g clip-path="url(#c2_1)">
<polyline points="343.7,848.3 363.3,843.8 385.5,837.2 407.6,829.5 429.8,822.9 452,812.9 474.2,801.9 496.4,787.6 518.5,760 540.7,731.3 562.9,693.7" fill="none" stroke="#e8000b" stroke-width="1.0" stroke-dasharray="1.9 2.0"/>
<path d="M362.4 841.5h1.75v1.43h1.43v1.75h-1.43v1.43h-1.75v-1.43h-1.43v-1.75h1.43zM384.6 834.9h1.75v1.43h1.43v1.75h-1.43v1.43h-1.75v-1.43h-1.43v-1.75h1.43zM406.8 827.2h1.75v1.43h1.43v1.75h-1.43v1.43h-1.75v-1.43h-1.43v-1.75h1.43zM428.9 820.6h1.75v1.43h1.43v1.75h-1.43v1.43h-1.75v-1.43h-1.43v-1.75h1.43zM451.1 810.6h1.75v1.43h1.43v1.75h-1.43v1.43h-1.75v-1.43h-1.43v-1.75h1.43zM473.3 799.6h1.75v1.43h1.43v1.75h-1.43v1.43h-1.75v-1.43h-1.43v-1.75h1.43zM495.5 785.3h1.75v1.43h1.43v1.75h-1.43v1.43h-1.75v-1.43h-1.43v-1.75h1.43zM517.7 757.7h1.75v1.43h1.43v1.75h-1.43v1.43h-1.75v-1.43h-1.43v-1.75h1.43zM539.8 729h1.75v1.43h1.43v1.75h-1.43v1.43h-1.75v-1.43h-1.43v-1.75h1.43zM562 691.4h1.75v1.43h1.43v1.75h-1.43v1.43h-1.75v-1.43h-1.43v-1.75h1.43z" fill="#e8000b" stroke="#fff" stroke-width="0.5"/>
</g>
<g clip-path="url(#c2_1)">
<polyline points="343.7,848.3 363.3,843.8 385.5,837.2 407.6,829.5 429.8,822.9 452,812.9 474.2,801.9 496.4,786.5 518.5,760 540.7,731.3 562.9,693.7" fill="none" stroke="#8b2be2" stroke-width="1.0" stroke-dasharray="1.9 2.0"/>
<path d="M363.3 841.4l2.42 2.42l-2.42 2.42l-2.42 -2.42zM385.5 834.8l2.42 2.42l-2.42 2.42l-2.42 -2.42zM407.6 827.1l2.42 2.42l-2.42 2.42l-2.42 -2.42zM429.8 820.5l2.42 2.42l-2.42 2.42l-2.42 -2.42zM452 810.5l2.42 2.42l-2.42 2.42l-2.42 -2.42zM474.2 799.5l2.42 2.42l-2.42 2.42l-2.42 -2.42zM496.4 784l2.42 2.42l-2.42 2.42l-2.42 -2.42zM518.5 757.5l2.42 2.42l-2.42 2.42l-2.42 -2.42zM540.7 728.9l2.42 2.42l-2.42 2.42l-2.42 -2.42zM562.9 691.3l2.42 2.42l-2.42 2.42l-2.42 -2.42z" fill="#8b2be2" stroke="#fff" stroke-width="0.5"/>
</g>
<g clip-path="url(#c2_1)">
<polyline points="343.7,854.7 363.3,850.2 385.5,844.3 407.6,835.7 429.8,824.4 452,814 474.2,803.7 496.4,795.3 518.5,787.1 540.7,775.9 562.9,745.6" fill="none" stroke="#9f4800" stroke-width="1.0" stroke-dasharray="1.9 2.0"/>
<path d="M363.3 847.8l1.38 2.42l-1.38 2.42l-1.38 -2.42zM385.5 841.9l1.38 2.42l-1.38 2.42l-1.38 -2.42zM407.6 833.3l1.38 2.42l-1.38 2.42l-1.38 -2.42zM429.8 822l1.38 2.42l-1.38 2.42l-1.38 -2.42zM452 811.6l1.38 2.42l-1.38 2.42l-1.38 -2.42zM474.2 801.3l1.38 2.42l-1.38 2.42l-1.38 -2.42zM496.4 792.9l1.38 2.42l-1.38 2.42l-1.38 -2.42zM518.5 784.7l1.38 2.42l-1.38 2.42l-1.38 -2.42zM540.7 773.4l1.38 2.42l-1.38 2.42l-1.38 -2.42zM562.9 743.2l1.38 2.42l-1.38 2.42l-1.38 -2.42z" fill="#9f4800" stroke="#fff" stroke-width="0.5"/>
<path d="M540.7 778.1V773.6" stroke="#9f4800" stroke-width="1.6"/>
</g>
<g clip-path="url(#c2_1)">
<polyline points="343.7,843.8 363.3,839.4 385.5,833.9 407.6,824.4 429.8,815.1 452,806.3 474.2,797.5 496.4,787.1 518.5,784.2 540.7,783.6 562.9,792.2" fill="none" stroke="#f14cc1" stroke-width="1.0" stroke-dasharray="1.9 2.0"/>
<path d="M363.3 836.9l2.53 4.3h-5.06zM385.5 831.4l2.53 4.3h-5.06zM407.6 821.9l2.53 4.3h-5.06zM429.8 812.6l2.53 4.3h-5.06zM452 803.8l2.53 4.3h-5.06zM474.2 795l2.53 4.3h-5.06zM496.4 784.6l2.53 4.3h-5.06zM518.5 781.7l2.53 4.3h-5.06zM540.7 781.1l2.53 4.3h-5.06zM562.9 789.7l2.53 4.3h-5.06z" fill="#f14cc1" stroke="#fff" stroke-width="0.5"/>
<path d="M562.9 805.4V778.9" stroke="#f14cc1" stroke-width="1.6"/>
</g>
<g clip-path="url(#c2_1)">
<polyline points="343.7,865 363.3,862.4 385.5,857.3 407.6,850.2 429.8,842.5 452,833 474.2,820.9 496.4,807 518.5,789.8 540.7,758.6 562.9,709.2" fill="none" stroke="#a3a3a3" stroke-width="1.0" stroke-dasharray="1.9 2.0"/>
<path d="M361.1 861.5l1.26 -1.26 0.92 0.92 0.92 -0.92 1.26 1.26 -0.92 0.92 0.92 0.92 -1.26 1.26 -0.92 -0.92 -0.92 0.92 -1.26 -1.26 0.92 -0.92zM383.3 856.4l1.26 -1.26 0.92 0.92 0.92 -0.92 1.26 1.26 -0.92 0.92 0.92 0.92 -1.26 1.26 -0.92 -0.92 -0.92 0.92 -1.26 -1.26 0.92 -0.92zM405.5 849.3l1.26 -1.26 0.92 0.92 0.92 -0.92 1.26 1.26 -0.92 0.92 0.92 0.92 -1.26 1.26 -0.92 -0.92 -0.92 0.92 -1.26 -1.26 0.92 -0.92zM427.6 841.6l1.26 -1.26 0.92 0.92 0.92 -0.92 1.26 1.26 -0.92 0.92 0.92 0.92 -1.26 1.26 -0.92 -0.92 -0.92 0.92 -1.26 -1.26 0.92 -0.92zM449.8 832.1l1.26 -1.26 0.92 0.92 0.92 -0.92 1.26 1.26 -0.92 0.92 0.92 0.92 -1.26 1.26 -0.92 -0.92 -0.92 0.92 -1.26 -1.26 0.92 -0.92zM472 820l1.26 -1.26 0.92 0.92 0.92 -0.92 1.26 1.26 -0.92 0.92 0.92 0.92 -1.26 1.26 -0.92 -0.92 -0.92 0.92 -1.26 -1.26 0.92 -0.92zM494.2 806.1l1.26 -1.26 0.92 0.92 0.92 -0.92 1.26 1.26 -0.92 0.92 0.92 0.92 -1.26 1.26 -0.92 -0.92 -0.92 0.92 -1.26 -1.26 0.92 -0.92zM516.4 788.8l1.26 -1.26 0.92 0.92 0.92 -0.92 1.26 1.26 -0.92 0.92 0.92 0.92 -1.26 1.26 -0.92 -0.92 -0.92 0.92 -1.26 -1.26 0.92 -0.92zM538.5 757.7l1.26 -1.26 0.92 0.92 0.92 -0.92 1.26 1.26 -0.92 0.92 0.92 0.92 -1.26 1.26 -0.92 -0.92 -0.92 0.92 -1.26 -1.26 0.92 -0.92zM560.7 708.3l1.26 -1.26 0.92 0.92 0.92 -0.92 1.26 1.26 -0.92 0.92 0.92 0.92 -1.26 1.26 -0.92 -0.92 -0.92 0.92 -1.26 -1.26 0.92 -0.92z" fill="#a3a3a3" stroke="#fff" stroke-width="0.5"/>
<path d="M540.7 763.1V754.2" stroke="#a3a3a3" stroke-width="1.6"/>
</g>
<g clip-path="url(#c2_1)">
<polyline points="343.7,849.4 363.3,843.8 385.5,837.2 407.6,826.8 429.8,817.4 452,806.1 474.2,791.5 496.4,772.3 518.5,749.8 540.7,730.8 562.9,701.5" fill="none" stroke="#f4c31a" stroke-width="2.0" stroke-linejoin="round"/>
<path d="M363.3 846.4l2.53 -4.3h-5.06zM385.5 839.8l2.53 -4.3h-5.06zM407.6 829.4l2.53 -4.3h-5.06zM429.8 819.9l2.53 -4.3h-5.06zM452 808.6l2.53 -4.3h-5.06zM474.2 794.1l2.53 -4.3h-5.06zM496.4 774.9l2.53 -4.3h-5.06zM518.5 752.3l2.53 -4.3h-5.06zM540.7 733.4l2.53 -4.3h-5.06zM562.9 704l2.53 -4.3h-5.06z" fill="#f4c31a" stroke="#fff" stroke-width="0.5"/>
<path d="M496.4 774.5V770.1M518.5 752V747.6" stroke="#f4c31a" stroke-width="1.6"/>
</g>
<g clip-path="url(#c2_1)">
<polyline points="343.7,848.5 363.3,844.3 385.5,838.1 407.6,830.4 429.8,820.9 452,810.5 474.2,796.6 496.4,778.5 518.5,756.9 540.7,733.5 562.9,703.2" fill="none" stroke="#1ec8e2" stroke-width="2.0" stroke-linejoin="round"/>
<path d="M361.1 843.4l1.26 -1.26 0.92 0.92 0.92 -0.92 1.26 1.26 -0.92 0.92 0.92 0.92 -1.26 1.26 -0.92 -0.92 -0.92 0.92 -1.26 -1.26 0.92 -0.92zM383.3 837.2l1.26 -1.26 0.92 0.92 0.92 -0.92 1.26 1.26 -0.92 0.92 0.92 0.92 -1.26 1.26 -0.92 -0.92 -0.92 0.92 -1.26 -1.26 0.92 -0.92zM405.5 829.5l1.26 -1.26 0.92 0.92 0.92 -0.92 1.26 1.26 -0.92 0.92 0.92 0.92 -1.26 1.26 -0.92 -0.92 -0.92 0.92 -1.26 -1.26 0.92 -0.92zM427.6 820l1.26 -1.26 0.92 0.92 0.92 -0.92 1.26 1.26 -0.92 0.92 0.92 0.92 -1.26 1.26 -0.92 -0.92 -0.92 0.92 -1.26 -1.26 0.92 -0.92zM449.8 809.6l1.26 -1.26 0.92 0.92 0.92 -0.92 1.26 1.26 -0.92 0.92 0.92 0.92 -1.26 1.26 -0.92 -0.92 -0.92 0.92 -1.26 -1.26 0.92 -0.92zM472 795.7l1.26 -1.26 0.92 0.92 0.92 -0.92 1.26 1.26 -0.92 0.92 0.92 0.92 -1.26 1.26 -0.92 -0.92 -0.92 0.92 -1.26 -1.26 0.92 -0.92zM494.2 777.6l1.26 -1.26 0.92 0.92 0.92 -0.92 1.26 1.26 -0.92 0.92 0.92 0.92 -1.26 1.26 -0.92 -0.92 -0.92 0.92 -1.26 -1.26 0.92 -0.92zM516.4 756l1.26 -1.26 0.92 0.92 0.92 -0.92 1.26 1.26 -0.92 0.92 0.92 0.92 -1.26 1.26 -0.92 -0.92 -0.92 0.92 -1.26 -1.26 0.92 -0.92zM538.5 732.6l1.26 -1.26 0.92 0.92 0.92 -0.92 1.26 1.26 -0.92 0.92 0.92 0.92 -1.26 1.26 -0.92 -0.92 -0.92 0.92 -1.26 -1.26 0.92 -0.92zM560.7 702.3l1.26 -1.26 0.92 0.92 0.92 -0.92 1.26 1.26 -0.92 0.92 0.92 0.92 -1.26 1.26 -0.92 -0.92 -0.92 0.92 -1.26 -1.26 0.92 -0.92z" fill="#1ec8e2" stroke="#fff" stroke-width="0.5"/>
<path d="M429.8 823.1V818.7M452 812.7V808.3M474.2 801V792.2M496.4 781.8V775.2M518.5 761.3V752.5M540.7 737.9V729.1" stroke="#1ec8e2" stroke-width="1.6"/>
</g>
<g clip-path="url(#c2_1)">
<polyline points="343.7,846.9 407.6,821.8 429.8,813.6 452,799.7 474.2,794 496.4,790.2 518.5,766.4 540.7,722.2 562.9,687.6" fill="none" stroke="#1a3ad6" stroke-width="2.0" stroke-linejoin="round"/>
<path d="M405.3 821.8a2.3 2.3 0 1 0 4.6 0a2.3 2.3 0 1 0 -4.6 0zM427.5 813.6a2.3 2.3 0 1 0 4.6 0a2.3 2.3 0 1 0 -4.6 0zM449.7 799.7a2.3 2.3 0 1 0 4.6 0a2.3 2.3 0 1 0 -4.6 0zM471.9 794a2.3 2.3 0 1 0 4.6 0a2.3 2.3 0 1 0 -4.6 0zM494.1 790.2a2.3 2.3 0 1 0 4.6 0a2.3 2.3 0 1 0 -4.6 0zM516.2 766.4a2.3 2.3 0 1 0 4.6 0a2.3 2.3 0 1 0 -4.6 0zM538.4 722.2a2.3 2.3 0 1 0 4.6 0a2.3 2.3 0 1 0 -4.6 0zM560.6 687.6a2.3 2.3 0 1 0 4.6 0a2.3 2.3 0 1 0 -4.6 0z" fill="#1a3ad6" stroke="#fff" stroke-width="0.5"/>
<path d="M540.7 725.5V718.9" stroke="#1a3ad6" stroke-width="1.6"/>
</g>
<rect x="638.1" y="676.9" width="219.8" height="197.6" fill="#eaeaf2"/>
<clipPath id="c2_2"><rect x="638.1" y="676.9" width="219.8" height="197.6"/></clipPath>
<path d="M680 676.9V874.5M724.5 676.9V874.5M768.9 676.9V874.5M813.4 676.9V874.5M857.9 676.9V874.5M638.1 865.5H857.9M638.1 829.5H857.9M638.1 793.5H857.9M638.1 757.5H857.9M638.1 721.5H857.9M638.1 685.5H857.9" stroke="#fff" stroke-width="1.1" fill="none"/>
<text x="680" y="894.5" font-size="14.31" text-anchor="middle" textLength="20.3" lengthAdjust="spacingAndGlyphs" fill="#262626" >0.2</text>
<text x="724.5" y="894.5" font-size="14.31" text-anchor="middle" textLength="20.3" lengthAdjust="spacingAndGlyphs" fill="#262626" >0.4</text>
<text x="768.9" y="894.5" font-size="14.31" text-anchor="middle" textLength="20.3" lengthAdjust="spacingAndGlyphs" fill="#262626" >0.6</text>
<text x="813.4" y="894.5" font-size="14.31" text-anchor="middle" textLength="20.3" lengthAdjust="spacingAndGlyphs" fill="#262626" >0.8</text>
<text x="857.9" y="894.5" font-size="14.31" text-anchor="middle" textLength="20.3" lengthAdjust="spacingAndGlyphs" fill="#262626" >1.0</text>
<text x="628.1" y="870.9" font-size="14.31" text-anchor="end" textLength="20.3" lengthAdjust="spacingAndGlyphs" fill="#262626" >0.5</text>
<text x="628.1" y="834.9" font-size="14.31" text-anchor="end" textLength="20.3" lengthAdjust="spacingAndGlyphs" fill="#262626" >0.6</text>
<text x="628.1" y="798.9" font-size="14.31" text-anchor="end" textLength="20.3" lengthAdjust="spacingAndGlyphs" fill="#262626" >0.7</text>
<text x="628.1" y="762.9" font-size="14.31" text-anchor="end" textLength="20.3" lengthAdjust="spacingAndGlyphs" fill="#262626" >0.8</text>
<text x="628.1" y="726.9" font-size="14.31" text-anchor="end" textLength="20.3" lengthAdjust="spacingAndGlyphs" fill="#262626" >0.9</text>
<text x="628.1" y="690.9" font-size="14.31" text-anchor="end" textLength="20.3" lengthAdjust="spacingAndGlyphs" fill="#262626" >1.0</text>
<text x="748" y="912.5" font-size="15.48" text-anchor="middle" textLength="139.0" lengthAdjust="spacingAndGlyphs" fill="#262626" >Samples abstained</text>
<g transform="translate(600.6 775.7) rotate(-90)"><text x="0" y="0" font-size="15.48" text-anchor="middle" textLength="104.7" lengthAdjust="spacingAndGlyphs" fill="#262626" >OOD precision</text></g>
<g clip-path="url(#c2_2)">
<polyline points="638.1,822.7 657.7,820.9 680,825.2 702.2,829.5 724.5,830.9 746.7,834.2 768.9,837.8 791.2,840.7 813.4,845.3 835.7,850.4 857.9,860.8" fill="none" stroke="#023eff" stroke-width="1.0" stroke-dasharray="1.9 2.0"/>
<path d="M655.4 820.9a2.3 2.3 0 1 0 4.6 0a2.3 2.3 0 1 0 -4.6 0zM677.7 825.2a2.3 2.3 0 1 0 4.6 0a2.3 2.3 0 1 0 -4.6 0zM699.9 829.5a2.3 2.3 0 1 0 4.6 0a2.3 2.3 0 1 0 -4.6 0zM722.2 830.9a2.3 2.3 0 1 0 4.6 0a2.3 2.3 0 1 0 -4.6 0zM744.4 834.2a2.3 2.3 0 1 0 4.6 0a2.3 2.3 0 1 0 -4.6 0zM766.6 837.8a2.3 2.3 0 1 0 4.6 0a2.3 2.3 0 1 0 -4.6 0zM788.9 840.7a2.3 2.3 0 1 0 4.6 0a2.3 2.3 0 1 0 -4.6 0zM811.1 845.3a2.3 2.3 0 1 0 4.6 0a2.3 2.3 0 1 0 -4.6 0zM833.4 850.4a2.3 2.3 0 1 0 4.6 0a2.3 2.3 0 1 0 -4.6 0zM855.6 860.8a2.3 2.3 0 1 0 4.6 0a2.3 2.3 0 1 0 -4.6 0z" fill="#023eff" stroke="#fff" stroke-width="0.5"/>
</g>
<g clip-path="url(#c2_2)">
<polyline points="638.1,761.1 657.7,785.9 680,793.9 702.2,801.1 724.5,803.6 746.7,807.9 768.9,814 791.2,822.7 813.4,833.1 835.7,846.8 857.9,860.8" fill="none" stroke="#ff7c00" stroke-width="1.0" stroke-dasharray="1.9 2.0"/>
<path d="M655.6 785l1.26 -1.26 0.92 0.92 0.92 -0.92 1.26 1.26 -0.92 0.92 0.92 0.92 -1.26 1.26 -0.92 -0.92 -0.92 0.92 -1.26 -1.26 0.92 -0.92zM677.8 792.9l1.26 -1.26 0.92 0.92 0.92 -0.92 1.26 1.26 -0.92 0.92 0.92 0.92 -1.26 1.26 -0.92 -0.92 -0.92 0.92 -1.26 -1.26 0.92 -0.92zM700 800.1l1.26 -1.26 0.92 0.92 0.92 -0.92 1.26 1.26 -0.92 0.92 0.92 0.92 -1.26 1.26 -0.92 -0.92 -0.92 0.92 -1.26 -1.26 0.92 -0.92zM722.3 802.7l1.26 -1.26 0.92 0.92 0.92 -0.92 1.26 1.26 -0.92 0.92 0.92 0.92 -1.26 1.26 -0.92 -0.92 -0.92 0.92 -1.26 -1.26 0.92 -0.92zM744.5 807l1.26 -1.26 0.92 0.92 0.92 -0.92 1.26 1.26 -0.92 0.92 0.92 0.92 -1.26 1.26 -0.92 -0.92 -0.92 0.92 -1.26 -1.26 0.92 -0.92zM766.8 813.1l1.26 -1.26 0.92 0.92 0.92 -0.92 1.26 1.26 -0.92 0.92 0.92 0.92 -1.26 1.26 -0.92 -0.92 -0.92 0.92 -1.26 -1.26 0.92 -0.92zM789 821.7l1.26 -1.26 0.92 0.92 0.92 -0.92 1.26 1.26 -0.92 0.92 0.92 0.92 -1.26 1.26 -0.92 -0.92 -0.92 0.92 -1.26 -1.26 0.92 -0.92zM811.2 832.2l1.26 -1.26 0.92 0.92 0.92 -0.92 1.26 1.26 -0.92 0.92 0.92 0.92 -1.26 1.26 -0.92 -0.92 -0.92 0.92 -1.26 -1.26 0.92 -0.92zM833.5 845.9l1.26 -1.26 0.92 0.92 0.92 -0.92 1.26 1.26 -0.92 0.92 0.92 0.92 -1.26 1.26 -0.92 -0.92 -0.92 0.92 -1.26 -1.26 0.92 -0.92zM855.7 859.9l1.26 -1.26 0.92 0.92 0.92 -0.92 1.26 1.26 -0.92 0.92 0.92 0.92 -1.26 1.26 -0.92 -0.92 -0.92 0.92 -1.26 -1.26 0.92 -0.92z" fill="#ff7c00" stroke="#fff" stroke-width="0.5"/>
<path d="M657.7 789.5V782.3" stroke="#ff7c00" stroke-width="1.6"/>
</g>
<g clip-path="url(#c2_2)">
<polyline points="638.1,748.9 657.7,778.4 680,788.5 702.2,795.3 724.5,800 746.7,806.1 768.9,812.2 791.2,820.5 813.4,832 835.7,846.8 857.9,860.8" fill="none" stroke="#1ac938" stroke-width="1.0" stroke-dasharray="1.9 2.0"/>
<path d="M655.8 776.4h3.91v3.91h-3.91zM678 786.5h3.91v3.91h-3.91zM700.3 793.3h3.91v3.91h-3.91zM722.5 798h3.91v3.91h-3.91zM744.7 804.1h3.91v3.91h-3.91zM767 810.3h3.91v3.91h-3.91zM789.2 818.5h3.91v3.91h-3.91zM811.5 830.1h3.91v3.91h-3.91zM833.7 844.8h3.91v3.91h-3.91zM855.9 858.9h3.91v3.91h-3.91z" fill="#1ac938" stroke="#fff" stroke-width="0.5"/>
<path d="M657.7 782V774.8M680 792.1V784.9M702.2 798.9V791.7M724.5 803.6V796.4M746.7 809.7V802.5M768.9 815.8V808.6M791.2 824.1V816.9" stroke="#1ac938" stroke-width="1.6"/>
</g>
<g clip-path="url(#c2_2)">
<polyline points="638.1,685.5 657.7,686.6 680,710 702.2,752.5 724.5,782.7 746.7,805.4 768.9,820.9 791.2,831.3 813.4,840.7 835.7,851.8 857.9,860.8" fill="none" stroke="#e8000b" stroke-width="1.0" stroke-dasharray="1.9 2.0"/>
<path d="M656.9 684.3h1.75v1.43h1.43v1.75h-1.43v1.43h-1.75v-1.43h-1.43v-1.75h1.43zM679.1 707.7h1.75v1.43h1.43v1.75h-1.43v1.43h-1.75v-1.43h-1.43v-1.75h1.43zM701.3 750.2h1.75v1.43h1.43v1.75h-1.43v1.43h-1.75v-1.43h-1.43v-1.75h1.43zM723.6 780.4h1.75v1.43h1.43v1.75h-1.43v1.43h-1.75v-1.43h-1.43v-1.75h1.43zM745.8 803.1h1.75v1.43h1.43v1.75h-1.43v1.43h-1.75v-1.43h-1.43v-1.75h1.43zM768.1 818.6h1.75v1.43h1.43v1.75h-1.43v1.43h-1.75v-1.43h-1.43v-1.75h1.43zM790.3 829h1.75v1.43h1.43v1.75h-1.43v1.43h-1.75v-1.43h-1.43v-1.75h1.43zM812.5 838.4h1.75v1.43h1.43v1.75h-1.43v1.43h-1.75v-1.43h-1.43v-1.75h1.43zM834.8 849.5h1.75v1.43h1.43v1.75h-1.43v1.43h-1.75v-1.43h-1.43v-1.75h1.43zM857 858.5h1.75v1.43h1.43v1.75h-1.43v1.43h-1.75v-1.43h-1.43v-1.75h1.43z" fill="#e8000b" stroke="#fff" stroke-width="0.5"/>
<path d="M680 715.4V704.6M702.2 757.9V747.1M724.5 788.1V777.3" stroke="#e8000b" stroke-width="1.6"/>
</g>
<g clip-path="url(#c2_2)">
<polyline points="638.1,685.5 657.7,686.6 680,716.1 702.2,756.8 724.5,786.3 746.7,805.4 768.9,820.9 791.2,831.3 813.4,840.7 835.7,851.8 857.9,860.8" fill="none" stroke="#8b2be2" stroke-width="1.0" stroke-dasharray="1.9 2.0"/>
<path d="M657.7 684.2l2.42 2.42l-2.42 2.42l-2.42 -2.42zM680 713.7l2.42 2.42l-2.42 2.42l-2.42 -2.42zM702.2 754.4l2.42 2.42l-2.42 2.42l-2.42 -2.42zM724.5 783.9l2.42 2.42l-2.42 2.42l-2.42 -2.42zM746.7 803l2.42 2.42l-2.42 2.42l-2.42 -2.42zM768.9 818.4l2.42 2.42l-2.42 2.42l-2.42 -2.42zM791.2 828.9l2.42 2.42l-2.42 2.42l-2.42 -2.42zM813.4 838.2l2.42 2.42l-2.42 2.42l-2.42 -2.42zM835.7 849.4l2.42 2.42l-2.42 2.42l-2.42 -2.42zM857.9 858.4l2.42 2.42l-2.42 2.42l-2.42 -2.42z" fill="#8b2be2" stroke="#fff" stroke-width="0.5"/>
<path d="M680 721.5V710.7M702.2 760.4V753.2M724.5 789.9V782.7" stroke="#8b2be2" stroke-width="1.6"/>
</g>
<g clip-path="url(#c2_2)">
<polyline points="638.1,685.5 657.7,685.9 680,686.6 702.2,688 724.5,690.5 746.7,713.9 768.9,752.5 791.2,788.8 813.4,820.5 835.7,844.3 857.9,860.8" fill="none" stroke="#9f4800" stroke-width="1.0" stroke-dasharray="1.9 2.0"/>
<path d="M657.7 683.4l1.38 2.42l-1.38 2.42l-1.38 -2.42zM680 684.2l1.38 2.42l-1.38 2.42l-1.38 -2.42zM702.2 685.6l1.38 2.42l-1.38 2.42l-1.38 -2.42zM724.5 688.1l1.38 2.42l-1.38 2.42l-1.38 -2.42zM746.7 711.5l1.38 2.42l-1.38 2.42l-1.38 -2.42zM768.9 750l1.38 2.42l-1.38 2.42l-1.38 -2.42zM791.2 786.4l1.38 2.42l-1.38 2.42l-1.38 -2.42zM813.4 818.1l1.38 2.42l-1.38 2.42l-1.38 -2.42zM835.7 841.8l1.38 2.42l-1.38 2.42l-1.38 -2.42zM857.9 858.4l1.38 2.42l-1.38 2.42l-1.38 -2.42z" fill="#9f4800" stroke="#fff" stroke-width="0.5"/>
</g>
<g clip-path="url(#c2_2)">
<polyline points="638.1,685.5 657.7,685.9 680,686.6 702.2,688 724.5,692.7 746.7,714.3 768.9,752.5 791.2,788.8 813.4,820.5 835.7,844.3 857.9,860.8" fill="none" stroke="#f14cc1" stroke-width="1.0" stroke-dasharray="1.9 2.0"/>
<path d="M657.7 683.3l2.53 4.3h-5.06zM680 684.1l2.53 4.3h-5.06zM702.2 685.5l2.53 4.3h-5.06zM724.5 690.2l2.53 4.3h-5.06zM746.7 711.8l2.53 4.3h-5.06zM768.9 749.9l2.53 4.3h-5.06zM791.2 786.3l2.53 4.3h-5.06zM813.4 818l2.53 4.3h-5.06zM835.7 841.7l2.53 4.3h-5.06zM857.9 858.3l2.53 4.3h-5.06z" fill="#f14cc1" stroke="#fff" stroke-width="0.5"/>
</g>
<g clip-path="url(#c2_2)">
<polyline points="638.1,685.5 657.7,686.2 680,689.1 702.2,696.3 724.5,711.1 746.7,735.9 768.9,766.5 791.2,797.1 813.4,822.3 835.7,845 857.9,860.8" fill="none" stroke="#a3a3a3" stroke-width="1.0" stroke-dasharray="1.9 2.0"/>
<path d="M655.6 685.3l1.26 -1.26 0.92 0.92 0.92 -0.92 1.26 1.26 -0.92 0.92 0.92 0.92 -1.26 1.26 -0.92 -0.92 -0.92 0.92 -1.26 -1.26 0.92 -0.92zM677.8 688.2l1.26 -1.26 0.92 0.92 0.92 -0.92 1.26 1.26 -0.92 0.92 0.92 0.92 -1.26 1.26 -0.92 -0.92 -0.92 0.92 -1.26 -1.26 0.92 -0.92zM700 695.4l1.26 -1.26 0.92 0.92 0.92 -0.92 1.26 1.26 -0.92 0.92 0.92 0.92 -1.26 1.26 -0.92 -0.92 -0.92 0.92 -1.26 -1.26 0.92 -0.92zM722.3 710.1l1.26 -1.26 0.92 0.92 0.92 -0.92 1.26 1.26 -0.92 0.92 0.92 0.92 -1.26 1.26 -0.92 -0.92 -0.92 0.92 -1.26 -1.26 0.92 -0.92zM744.5 735l1.26 -1.26 0.92 0.92 0.92 -0.92 1.26 1.26 -0.92 0.92 0.92 0.92 -1.26 1.26 -0.92 -0.92 -0.92 0.92 -1.26 -1.26 0.92 -0.92zM766.8 765.6l1.26 -1.26 0.92 0.92 0.92 -0.92 1.26 1.26 -0.92 0.92 0.92 0.92 -1.26 1.26 -0.92 -0.92 -0.92 0.92 -1.26 -1.26 0.92 -0.92zM789 796.2l1.26 -1.26 0.92 0.92 0.92 -0.92 1.26 1.26 -0.92 0.92 0.92 0.92 -1.26 1.26 -0.92 -0.92 -0.92 0.92 -1.26 -1.26 0.92 -0.92zM811.2 821.4l1.26 -1.26 0.92 0.92 0.92 -0.92 1.26 1.26 -0.92 0.92 0.92 0.92 -1.26 1.26 -0.92 -0.92 -0.92 0.92 -1.26 -1.26 0.92 -0.92zM833.5 844.1l1.26 -1.26 0.92 0.92 0.92 -0.92 1.26 1.26 -0.92 0.92 0.92 0.92 -1.26 1.26 -0.92 -0.92 -0.92 0.92 -1.26 -1.26 0.92 -0.92zM855.7 859.9l1.26 -1.26 0.92 0.92 0.92 -0.92 1.26 1.26 -0.92 0.92 0.92 0.92 -1.26 1.26 -0.92 -0.92 -0.92 0.92 -1.26 -1.26 0.92 -0.92z" fill="#a3a3a3" stroke="#fff" stroke-width="0.5"/>
<path d="M724.5 714.7V707.5M746.7 741.3V730.5M768.9 771.9V761.1" stroke="#a3a3a3" stroke-width="1.6"/>
</g>
<g clip-path="url(#c2_2)">
<polyline points="638.1,685.5 657.7,686.2 680,690.5 702.2,697.7 724.5,714.3 746.7,743.1 768.9,772.3 791.2,798.2 813.4,821.6 835.7,845 857.9,860.8" fill="none" stroke="#f4c31a" stroke-width="2.0" stroke-linejoin="round"/>
<path d="M657.7 688.8l2.53 -4.3h-5.06zM680 693.1l2.53 -4.3h-5.06zM702.2 700.3l2.53 -4.3h-5.06zM724.5 716.8l2.53 -4.3h-5.06zM746.7 745.6l2.53 -4.3h-5.06zM768.9 774.8l2.53 -4.3h-5.06zM791.2 800.7l2.53 -4.3h-5.06zM813.4 824.1l2.53 -4.3h-5.06zM835.7 847.5l2.53 -4.3h-5.06zM857.9 863.4l2.53 -4.3h-5.06z" fill="#f4c31a" stroke="#fff" stroke-width="0.5"/>
<path d="M724.5 717.9V710.7M746.7 746.7V739.5M768.9 775.9V768.7M791.2 801.8V794.6" stroke="#f4c31a" stroke-width="1.6"/>
</g>
<g clip-path="url(#c2_2)">
<polyline points="638.1,685.5 657.7,687.7 680,695.2 702.2,706.7 724.5,730.1 746.7,758.6 768.9,784.5 791.2,806.1 813.4,827 835.7,846.8 857.9,860.8" fill="none" stroke="#1ec8e2" stroke-width="2.0" stroke-linejoin="round"/>
<path d="M655.6 686.7l1.26 -1.26 0.92 0.92 0.92 -0.92 1.26 1.26 -0.92 0.92 0.92 0.92 -1.26 1.26 -0.92 -0.92 -0.92 0.92 -1.26 -1.26 0.92 -0.92zM677.8 694.3l1.26 -1.26 0.92 0.92 0.92 -0.92 1.26 1.26 -0.92 0.92 0.92 0.92 -1.26 1.26 -0.92 -0.92 -0.92 0.92 -1.26 -1.26 0.92 -0.92zM700 705.8l1.26 -1.26 0.92 0.92 0.92 -0.92 1.26 1.26 -0.92 0.92 0.92 0.92 -1.26 1.26 -0.92 -0.92 -0.92 0.92 -1.26 -1.26 0.92 -0.92zM722.3 729.2l1.26 -1.26 0.92 0.92 0.92 -0.92 1.26 1.26 -0.92 0.92 0.92 0.92 -1.26 1.26 -0.92 -0.92 -0.92 0.92 -1.26 -1.26 0.92 -0.92zM744.5 757.7l1.26 -1.26 0.92 0.92 0.92 -0.92 1.26 1.26 -0.92 0.92 0.92 0.92 -1.26 1.26 -0.92 -0.92 -0.92 0.92 -1.26 -1.26 0.92 -0.92zM766.8 783.6l1.26 -1.26 0.92 0.92 0.92 -0.92 1.26 1.26 -0.92 0.92 0.92 0.92 -1.26 1.26 -0.92 -0.92 -0.92 0.92 -1.26 -1.26 0.92 -0.92zM789 805.2l1.26 -1.26 0.92 0.92 0.92 -0.92 1.26 1.26 -0.92 0.92 0.92 0.92 -1.26 1.26 -0.92 -0.92 -0.92 0.92 -1.26 -1.26 0.92 -0.92zM811.2 826.1l1.26 -1.26 0.92 0.92 0.92 -0.92 1.26 1.26 -0.92 0.92 0.92 0.92 -1.26 1.26 -0.92 -0.92 -0.92 0.92 -1.26 -1.26 0.92 -0.92zM833.5 845.9l1.26 -1.26 0.92 0.92 0.92 -0.92 1.26 1.26 -0.92 0.92 0.92 0.92 -1.26 1.26 -0.92 -0.92 -0.92 0.92 -1.26 -1.26 0.92 -0.92zM855.7 859.9l1.26 -1.26 0.92 0.92 0.92 -0.92 1.26 1.26 -0.92 0.92 0.92 0.92 -1.26 1.26 -0.92 -0.92 -0.92 0.92 -1.26 -1.26 0.92 -0.92z" fill="#1ec8e2" stroke="#fff" stroke-width="0.5"/>
<path d="M724.5 733.7V726.5M746.7 762.2V755M768.9 788.1V780.9M791.2 809.7V802.5M813.4 830.6V823.4" stroke="#1ec8e2" stroke-width="1.6"/>
</g>
<g clip-path="url(#c2_2)">
<polyline points="638.1,685.5 702.2,688 724.5,690.5 746.7,713.9 768.9,752.5 791.2,788.8 813.4,820.5 835.7,844.3 857.9,860.8" fill="none" stroke="#1a3ad6" stroke-width="2.0" stroke-linejoin="round"/>
<path d="M699.9 688a2.3 2.3 0 1 0 4.6 0a2.3 2.3 0 1 0 -4.6 0zM722.2 690.5a2.3 2.3 0 1 0 4.6 0a2.3 2.3 0 1 0 -4.6 0zM744.4 713.9a2.3 2.3 0 1 0 4.6 0a2.3 2.3 0 1 0 -4.6 0zM766.6 752.5a2.3 2.3 0 1 0 4.6 0a2.3 2.3 0 1 0 -4.6 0zM788.9 788.8a2.3 2.3 0 1 0 4.6 0a2.3 2.3 0 1 0 -4.6 0zM811.1 820.5a2.3 2.3 0 1 0 4.6 0a2.3 2.3 0 1 0 -4.6 0zM833.4 844.3a2.3 2.3 0 1 0 4.6 0a2.3 2.3 0 1 0 -4.6 0zM855.6 860.8a2.3 2.3 0 1 0 4.6 0a2.3 2.3 0 1 0 -4.6 0z" fill="#1a3ad6" stroke="#fff" stroke-width="0.5"/>
<path d="M746.7 717.5V710.3M768.9 756.1V748.9M791.2 792.4V785.2" stroke="#1a3ad6" stroke-width="1.6"/>
</g>
<rect x="932.2" y="676.9" width="219.8" height="197.6" fill="#eaeaf2"/>
<clipPath id="c2_3"><rect x="932.2" y="676.9" width="219.8" height="197.6"/></clipPath>
<path d="M974.1 676.9V874.5M1018.6 676.9V874.5M1063 676.9V874.5M1107.5 676.9V874.5M1152 676.9V874.5M932.2 866.7H1152M932.2 830.5H1152M932.2 794.2H1152M932.2 758H1152M932.2 721.7H1152M932.2 685.5H1152" stroke="#fff" stroke-width="1.1" fill="none"/>
<text x="974.1" y="894.5" font-size="14.31" text-anchor="middle" textLength="20.3" lengthAdjust="spacingAndGlyphs" fill="#262626" >0.2</text>
<text x="1018.6" y="894.5" font-size="14.31" text-anchor="middle" textLength="20.3" lengthAdjust="spacingAndGlyphs" fill="#262626" >0.4</text>
<text x="1063" y="894.5" font-size="14.31" text-anchor="middle" textLength="20.3" lengthAdjust="spacingAndGlyphs" fill="#262626" >0.6</text>
<text x="1107.5" y="894.5" font-size="14.31" text-anchor="middle" textLength="20.3" lengthAdjust="spacingAndGlyphs" fill="#262626" >0.8</text>
<text x="1152" y="894.5" font-size="14.31" text-anchor="middle" textLength="20.3" lengthAdjust="spacingAndGlyphs" fill="#262626" >1.0</text>
<text x="922.2" y="872.1" font-size="14.31" text-anchor="end" textLength="20.3" lengthAdjust="spacingAndGlyphs" fill="#262626" >0.0</text>
<text x="922.2" y="835.9" font-size="14.31" text-anchor="end" textLength="20.3" lengthAdjust="spacingAndGlyphs" fill="#262626" >0.2</text>
<text x="922.2" y="799.6" font-size="14.31" text-anchor="end" textLength="20.3" lengthAdjust="spacingAndGlyphs" fill="#262626" >0.4</text>
<text x="922.2" y="763.4" font-size="14.31" text-anchor="end" textLength="20.3" lengthAdjust="spacingAndGlyphs" fill="#262626" >0.6</text>
<text x="922.2" y="727.2" font-size="14.31" text-anchor="end" textLength="20.3" lengthAdjust="spacingAndGlyphs" fill="#262626" >0.8</text>
<text x="922.2" y="690.9" font-size="14.31" text-anchor="end" textLength="20.3" lengthAdjust="spacingAndGlyphs" fill="#262626" >1.0</text>
<text x="1042.1" y="912.5" font-size="15.48" text-anchor="middle" textLength="139.0" lengthAdjust="spacingAndGlyphs" fill="#262626" >Samples abstained</text>
<g transform="translate(895 775.7) rotate(-90)"><text x="0" y="0" font-size="15.48" text-anchor="middle" textLength="78.6" lengthAdjust="spacingAndGlyphs" fill="#262626" >OOD recall</text></g>
<g clip-path="url(#c2_3)">
<polyline points="932.2,859.5 951.8,844.2 974.1,822.5 996.3,800.9 1018.6,780.1 1040.8,760.3 1063,740.4 1085.3,722.1 1107.5,706.7 1129.8,691.8 1152,685.5" fill="none" stroke="#023eff" stroke-width="1.0" stroke-dasharray="1.9 2.0"/>
<path d="M949.5 844.2a2.3 2.3 0 1 0 4.6 0a2.3 2.3 0 1 0 -4.6 0zM971.8 822.5a2.3 2.3 0 1 0 4.6 0a2.3 2.3 0 1 0 -4.6 0zM994 800.9a2.3 2.3 0 1 0 4.6 0a2.3 2.3 0 1 0 -4.6 0zM1016.3 780.1a2.3 2.3 0 1 0 4.6 0a2.3 2.3 0 1 0 -4.6 0zM1038.5 760.3a2.3 2.3 0 1 0 4.6 0a2.3 2.3 0 1 0 -4.6 0zM1060.7 740.4a2.3 2.3 0 1 0 4.6 0a2.3 2.3 0 1 0 -4.6 0zM1083 722.1a2.3 2.3 0 1 0 4.6 0a2.3 2.3 0 1 0 -4.6 0zM1105.2 706.7a2.3 2.3 0 1 0 4.6 0a2.3 2.3 0 1 0 -4.6 0zM1127.5 691.8a2.3 2.3 0 1 0 4.6 0a2.3 2.3 0 1 0 -4.6 0zM1149.7 685.5a2.3 2.3 0 1 0 4.6 0a2.3 2.3 0 1 0 -4.6 0z" fill="#023eff" stroke="#fff" stroke-width="0.5"/>
</g>
<g clip-path="url(#c2_3)">
<polyline points="932.2,857.6 951.8,839.5 974.1,814.2 996.3,792.4 1018.6,769.8 1040.8,748.9 1063,725.7 1085.3,709.2 1107.5,695.3 1129.8,687.3 1152,685.5" fill="none" stroke="#ff7c00" stroke-width="1.0" stroke-dasharray="1.9 2.0"/>
<path d="M949.7 838.6l1.26 -1.26 0.92 0.92 0.92 -0.92 1.26 1.26 -0.92 0.92 0.92 0.92 -1.26 1.26 -0.92 -0.92 -0.92 0.92 -1.26 -1.26 0.92 -0.92zM971.9 813.2l1.26 -1.26 0.92 0.92 0.92 -0.92 1.26 1.26 -0.92 0.92 0.92 0.92 -1.26 1.26 -0.92 -0.92 -0.92 0.92 -1.26 -1.26 0.92 -0.92zM994.1 791.5l1.26 -1.26 0.92 0.92 0.92 -0.92 1.26 1.26 -0.92 0.92 0.92 0.92 -1.26 1.26 -0.92 -0.92 -0.92 0.92 -1.26 -1.26 0.92 -0.92zM1016.4 768.8l1.26 -1.26 0.92 0.92 0.92 -0.92 1.26 1.26 -0.92 0.92 0.92 0.92 -1.26 1.26 -0.92 -0.92 -0.92 0.92 -1.26 -1.26 0.92 -0.92zM1038.6 748l1.26 -1.26 0.92 0.92 0.92 -0.92 1.26 1.26 -0.92 0.92 0.92 0.92 -1.26 1.26 -0.92 -0.92 -0.92 0.92 -1.26 -1.26 0.92 -0.92zM1060.9 724.8l1.26 -1.26 0.92 0.92 0.92 -0.92 1.26 1.26 -0.92 0.92 0.92 0.92 -1.26 1.26 -0.92 -0.92 -0.92 0.92 -1.26 -1.26 0.92 -0.92zM1083.1 708.3l1.26 -1.26 0.92 0.92 0.92 -0.92 1.26 1.26 -0.92 0.92 0.92 0.92 -1.26 1.26 -0.92 -0.92 -0.92 0.92 -1.26 -1.26 0.92 -0.92zM1105.3 694.4l1.26 -1.26 0.92 0.92 0.92 -0.92 1.26 1.26 -0.92 0.92 0.92 0.92 -1.26 1.26 -0.92 -0.92 -0.92 0.92 -1.26 -1.26 0.92 -0.92zM1127.6 686.4l1.26 -1.26 0.92 0.92 0.92 -0.92 1.26 1.26 -0.92 0.92 0.92 0.92 -1.26 1.26 -0.92 -0.92 -0.92 0.92 -1.26 -1.26 0.92 -0.92zM1149.8 684.6l1.26 -1.26 0.92 0.92 0.92 -0.92 1.26 1.26 -0.92 0.92 0.92 0.92 -1.26 1.26 -0.92 -0.92 -0.92 0.92 -1.26 -1.26 0.92 -0.92z" fill="#ff7c00" stroke="#fff" stroke-width="0.5"/>
</g>
<g clip-path="url(#c2_3)">
<polyline points="932.2,857.6 951.8,839 974.1,814 996.3,792.2 1018.6,769.8 1040.8,748.9 1063,725.7 1085.3,709.2 1107.5,695.3 1129.8,687.3 1152,685.5" fill="none" stroke="#1ac938" stroke-width="1.0" stroke-dasharray="1.9 2.0"/>
<path d="M949.9 837h3.91v3.91h-3.91zM972.1 812h3.91v3.91h-3.91zM994.4 790.3h3.91v3.91h-3.91zM1016.6 767.8h3.91v3.91h-3.91zM1038.8 747h3.91v3.91h-3.91zM1061.1 723.8h3.91v3.91h-3.91zM1083.3 707.3h3.91v3.91h-3.91zM1105.6 693.3h3.91v3.91h-3.91zM1127.8 685.4h3.91v3.91h-3.91zM1150 683.5h3.91v3.91h-3.91z" fill="#1ac938" stroke="#fff" stroke-width="0.5"/>
<path d="M951.8 840.8V837.2M974.1 815.8V812.2M996.3 794.9V789.5M1018.6 772.5V767M1085.3 711V707.4" stroke="#1ac938" stroke-width="1.6"/>
</g>
<g clip-path="url(#c2_3)">
<polyline points="932.2,857.6 951.8,832.3 974.1,800.9 996.3,780.1 1018.6,762 1040.8,747.3 1063,731.7 1085.3,717 1107.5,702.4 1129.8,691.1 1152,685.5" fill="none" stroke="#e8000b" stroke-width="1.0" stroke-dasharray="1.9 2.0"/>
<path d="M951 830h1.75v1.43h1.43v1.75h-1.43v1.43h-1.75v-1.43h-1.43v-1.75h1.43zM973.2 798.6h1.75v1.43h1.43v1.75h-1.43v1.43h-1.75v-1.43h-1.43v-1.75h1.43zM995.4 777.8h1.75v1.43h1.43v1.75h-1.43v1.43h-1.75v-1.43h-1.43v-1.75h1.43zM1017.7 759.7h1.75v1.43h1.43v1.75h-1.43v1.43h-1.75v-1.43h-1.43v-1.75h1.43zM1039.9 745h1.75v1.43h1.43v1.75h-1.43v1.43h-1.75v-1.43h-1.43v-1.75h1.43zM1062.2 729.4h1.75v1.43h1.43v1.75h-1.43v1.43h-1.75v-1.43h-1.43v-1.75h1.43zM1084.4 714.7h1.75v1.43h1.43v1.75h-1.43v1.43h-1.75v-1.43h-1.43v-1.75h1.43zM1106.6 700.1h1.75v1.43h1.43v1.75h-1.43v1.43h-1.75v-1.43h-1.43v-1.75h1.43zM1128.9 688.8h1.75v1.43h1.43v1.75h-1.43v1.43h-1.75v-1.43h-1.43v-1.75h1.43zM1151.1 683.2h1.75v1.43h1.43v1.75h-1.43v1.43h-1.75v-1.43h-1.43v-1.75h1.43z" fill="#e8000b" stroke="#fff" stroke-width="0.5"/>
</g>
<g clip-path="url(#c2_3)">
<polyline points="932.2,857.6 951.8,832.3 974.1,800.9 996.3,780.1 1018.6,762 1040.8,747.3 1063,731.7 1085.3,717 1107.5,702.4 1129.8,691.1 1152,685.5" fill="none" stroke="#8b2be2" stroke-width="1.0" stroke-dasharray="1.9 2.0"/>
<path d="M951.8 829.9l2.42 2.42l-2.42 2.42l-2.42 -2.42zM974.1 798.5l2.42 2.42l-2.42 2.42l-2.42 -2.42zM996.3 777.7l2.42 2.42l-2.42 2.42l-2.42 -2.42zM1018.6 759.6l2.42 2.42l-2.42 2.42l-2.42 -2.42zM1040.8 744.9l2.42 2.42l-2.42 2.42l-2.42 -2.42zM1063 729.3l2.42 2.42l-2.42 2.42l-2.42 -2.42zM1085.3 714.6l2.42 2.42l-2.42 2.42l-2.42 -2.42zM1107.5 699.9l2.42 2.42l-2.42 2.42l-2.42 -2.42zM1129.8 688.7l2.42 2.42l-2.42 2.42l-2.42 -2.42zM1152 683.1l2.42 2.42l-2.42 2.42l-2.42 -2.42z" fill="#8b2be2" stroke="#fff" stroke-width="0.5"/>
</g>
<g clip-path="url(#c2_3)">
<polyline points="932.2,855.8 951.8,830.5 974.1,796 996.3,758 1018.6,725.4 1040.8,703.6 1063,692.7 1085.3,689.1 1107.5,687.3 1129.8,685.5 1152,685.5" fill="none" stroke="#9f4800" stroke-width="1.0" stroke-dasharray="1.9 2.0"/>
<path d="M951.8 828l1.38 2.42l-1.38 2.42l-1.38 -2.42zM974.1 793.6l1.38 2.42l-1.38 2.42l-1.38 -2.42zM996.3 755.6l1.38 2.42l-1.38 2.42l-1.38 -2.42zM1018.6 722.9l1.38 2.42l-1.38 2.42l-1.38 -2.42zM1040.8 701.2l1.38 2.42l-1.38 2.42l-1.38 -2.42zM1063 690.3l1.38 2.42l-1.38 2.42l-1.38 -2.42zM1085.3 686.7l1.38 2.42l-1.38 2.42l-1.38 -2.42zM1107.5 684.9l1.38 2.42l-1.38 2.42l-1.38 -2.42zM1129.8 683.1l1.38 2.42l-1.38 2.42l-1.38 -2.42zM1152 683.1l1.38 2.42l-1.38 2.42l-1.38 -2.42z" fill="#9f4800" stroke="#fff" stroke-width="0.5"/>
</g>
<g clip-path="url(#c2_3)">
<polyline points="932.2,855.8 951.8,830.5 974.1,796 996.3,756 1018.6,722.3 1040.8,701.8 1063,692.7 1085.3,689.1 1107.5,687.3 1129.8,685.5 1152,685.5" fill="none" stroke="#f14cc1" stroke-width="1.0" stroke-dasharray="1.9 2.0"/>
<path d="M951.8 827.9l2.53 4.3h-5.06zM974.1 793.5l2.53 4.3h-5.06zM996.3 753.5l2.53 4.3h-5.06zM1018.6 719.8l2.53 4.3h-5.06zM1040.8 699.3l2.53 4.3h-5.06zM1063 690.2l2.53 4.3h-5.06zM1085.3 686.6l2.53 4.3h-5.06zM1107.5 684.8l2.53 4.3h-5.06zM1129.8 683l2.53 4.3h-5.06zM1152 683l2.53 4.3h-5.06z" fill="#f14cc1" stroke="#fff" stroke-width="0.5"/>
<path d="M996.3 758.7V753.3M1018.6 725V719.6" stroke="#f14cc1" stroke-width="1.6"/>
</g>
<g clip-path="url(#c2_3)">
<polyline points="932.2,855.8 951.8,830.5 974.1,796 996.3,759.8 1018.6,729 1040.8,710.9 1063,700 1085.3,692.7 1107.5,687.3 1129.8,685.5 1152,685.5" fill="none" stroke="#a3a3a3" stroke-width="1.0" stroke-dasharray="1.9 2.0"/>
<path d="M949.7 829.5l1.26 -1.26 0.92 0.92 0.92 -0.92 1.26 1.26 -0.92 0.92 0.92 0.92 -1.26 1.26 -0.92 -0.92 -0.92 0.92 -1.26 -1.26 0.92 -0.92zM971.9 795.1l1.26 -1.26 0.92 0.92 0.92 -0.92 1.26 1.26 -0.92 0.92 0.92 0.92 -1.26 1.26 -0.92 -0.92 -0.92 0.92 -1.26 -1.26 0.92 -0.92zM994.1 758.9l1.26 -1.26 0.92 0.92 0.92 -0.92 1.26 1.26 -0.92 0.92 0.92 0.92 -1.26 1.26 -0.92 -0.92 -0.92 0.92 -1.26 -1.26 0.92 -0.92zM1016.4 728.1l1.26 -1.26 0.92 0.92 0.92 -0.92 1.26 1.26 -0.92 0.92 0.92 0.92 -1.26 1.26 -0.92 -0.92 -0.92 0.92 -1.26 -1.26 0.92 -0.92zM1038.6 709.9l1.26 -1.26 0.92 0.92 0.92 -0.92 1.26 1.26 -0.92 0.92 0.92 0.92 -1.26 1.26 -0.92 -0.92 -0.92 0.92 -1.26 -1.26 0.92 -0.92zM1060.9 699.1l1.26 -1.26 0.92 0.92 0.92 -0.92 1.26 1.26 -0.92 0.92 0.92 0.92 -1.26 1.26 -0.92 -0.92 -0.92 0.92 -1.26 -1.26 0.92 -0.92zM1083.1 691.8l1.26 -1.26 0.92 0.92 0.92 -0.92 1.26 1.26 -0.92 0.92 0.92 0.92 -1.26 1.26 -0.92 -0.92 -0.92 0.92 -1.26 -1.26 0.92 -0.92zM1105.3 686.4l1.26 -1.26 0.92 0.92 0.92 -0.92 1.26 1.26 -0.92 0.92 0.92 0.92 -1.26 1.26 -0.92 -0.92 -0.92 0.92 -1.26 -1.26 0.92 -0.92zM1127.6 684.6l1.26 -1.26 0.92 0.92 0.92 -0.92 1.26 1.26 -0.92 0.92 0.92 0.92 -1.26 1.26 -0.92 -0.92 -0.92 0.92 -1.26 -1.26 0.92 -0.92zM1149.8 684.6l1.26 -1.26 0.92 0.92 0.92 -0.92 1.26 1.26 -0.92 0.92 0.92 0.92 -1.26 1.26 -0.92 -0.92 -0.92 0.92 -1.26 -1.26 0.92 -0.92z" fill="#a3a3a3" stroke="#fff" stroke-width="0.5"/>
</g>
<g clip-path="url(#c2_3)">
<polyline points="932.2,855.8 951.8,830.5 974.1,796.6 996.3,761.1 1018.6,732.6 1040.8,714.5 1063,702.4 1085.3,693.7 1107.5,687.5 1129.8,685.9 1152,685.5" fill="none" stroke="#f4c31a" stroke-width="2.0" stroke-linejoin="round"/>
<path d="M951.8 833l2.53 -4.3h-5.06zM974.1 799.1l2.53 -4.3h-5.06zM996.3 763.6l2.53 -4.3h-5.06zM1018.6 735.1l2.53 -4.3h-5.06zM1040.8 717l2.53 -4.3h-5.06zM1063 704.9l2.53 -4.3h-5.06zM1085.3 696.2l2.53 -4.3h-5.06zM1107.5 690l2.53 -4.3h-5.06zM1129.8 688.4l2.53 -4.3h-5.06zM1152 688l2.53 -4.3h-5.06z" fill="#f4c31a" stroke="#fff" stroke-width="0.5"/>
</g>
<g clip-path="url(#c2_3)">
<polyline points="932.2,854.6 951.8,831.2 974.1,795.7 996.3,765.4 1018.6,741.3 1040.8,723 1063,710.1 1085.3,698.9 1107.5,691.1 1129.8,686.8 1152,685.5" fill="none" stroke="#1ec8e2" stroke-width="2.0" stroke-linejoin="round"/>
<path d="M949.7 830.3l1.26 -1.26 0.92 0.92 0.92 -0.92 1.26 1.26 -0.92 0.92 0.92 0.92 -1.26 1.26 -0.92 -0.92 -0.92 0.92 -1.26 -1.26 0.92 -0.92zM971.9 794.7l1.26 -1.26 0.92 0.92 0.92 -0.92 1.26 1.26 -0.92 0.92 0.92 0.92 -1.26 1.26 -0.92 -0.92 -0.92 0.92 -1.26 -1.26 0.92 -0.92zM994.1 764.5l1.26 -1.26 0.92 0.92 0.92 -0.92 1.26 1.26 -0.92 0.92 0.92 0.92 -1.26 1.26 -0.92 -0.92 -0.92 0.92 -1.26 -1.26 0.92 -0.92zM1016.4 740.4l1.26 -1.26 0.92 0.92 0.92 -0.92 1.26 1.26 -0.92 0.92 0.92 0.92 -1.26 1.26 -0.92 -0.92 -0.92 0.92 -1.26 -1.26 0.92 -0.92zM1038.6 722.1l1.26 -1.26 0.92 0.92 0.92 -0.92 1.26 1.26 -0.92 0.92 0.92 0.92 -1.26 1.26 -0.92 -0.92 -0.92 0.92 -1.26 -1.26 0.92 -0.92zM1060.9 709.2l1.26 -1.26 0.92 0.92 0.92 -0.92 1.26 1.26 -0.92 0.92 0.92 0.92 -1.26 1.26 -0.92 -0.92 -0.92 0.92 -1.26 -1.26 0.92 -0.92zM1083.1 698l1.26 -1.26 0.92 0.92 0.92 -0.92 1.26 1.26 -0.92 0.92 0.92 0.92 -1.26 1.26 -0.92 -0.92 -0.92 0.92 -1.26 -1.26 0.92 -0.92zM1105.3 690.2l1.26 -1.26 0.92 0.92 0.92 -0.92 1.26 1.26 -0.92 0.92 0.92 0.92 -1.26 1.26 -0.92 -0.92 -0.92 0.92 -1.26 -1.26 0.92 -0.92zM1127.6 685.8l1.26 -1.26 0.92 0.92 0.92 -0.92 1.26 1.26 -0.92 0.92 0.92 0.92 -1.26 1.26 -0.92 -0.92 -0.92 0.92 -1.26 -1.26 0.92 -0.92zM1149.8 684.6l1.26 -1.26 0.92 0.92 0.92 -0.92 1.26 1.26 -0.92 0.92 0.92 0.92 -1.26 1.26 -0.92 -0.92 -0.92 0.92 -1.26 -1.26 0.92 -0.92z" fill="#1ec8e2" stroke="#fff" stroke-width="0.5"/>
<path d="M951.8 833.9V828.5M974.1 798.4V793M996.3 769V761.8M1018.6 744V738.6M1040.8 724.8V721.2" stroke="#1ec8e2" stroke-width="1.6"/>
</g>
<g clip-path="url(#c2_3)">
<polyline points="932.2,858.9 996.3,749.1 1018.6,728.8 1040.8,699.6 1063,689.8 1085.3,687.3 1107.5,685.9 1129.8,685.5 1152,685.5" fill="none" stroke="#1a3ad6" stroke-width="2.0" stroke-linejoin="round"/>
<path d="M994 749.1a2.3 2.3 0 1 0 4.6 0a2.3 2.3 0 1 0 -4.6 0zM1016.3 728.8a2.3 2.3 0 1 0 4.6 0a2.3 2.3 0 1 0 -4.6 0zM1038.5 699.6a2.3 2.3 0 1 0 4.6 0a2.3 2.3 0 1 0 -4.6 0zM1060.7 689.8a2.3 2.3 0 1 0 4.6 0a2.3 2.3 0 1 0 -4.6 0zM1083 687.3a2.3 2.3 0 1 0 4.6 0a2.3 2.3 0 1 0 -4.6 0zM1105.2 685.9a2.3 2.3 0 1 0 4.6 0a2.3 2.3 0 1 0 -4.6 0zM1127.5 685.5a2.3 2.3 0 1 0 4.6 0a2.3 2.3 0 1 0 -4.6 0zM1149.7 685.5a2.3 2.3 0 1 0 4.6 0a2.3 2.3 0 1 0 -4.6 0z" fill="#1a3ad6" stroke="#fff" stroke-width="0.5"/>
</g>
<rect x="1163.8" y="676.9" width="154.7" height="219" rx="2" fill="#fff" stroke="#cccccc" stroke-width="1"/>
<path d="M1168.8 687.6H1193.9" stroke="#023eff" stroke-width="1.0" stroke-dasharray="1.9 2.0"/>
<path d="M1178.2 687.6a3.6 3.6 0 1 0 7.2 0a3.6 3.6 0 1 0 -7.2 0z" fill="#023eff" stroke="#fff" stroke-width="0.5"/>
<text x="1207.6" y="692.4" font-size="14.10" text-anchor="start" textLength="27.9" lengthAdjust="spacingAndGlyphs" fill="#262626" >MSP</text>
<path d="M1168.8 707.3H1193.9" stroke="#ff7c00" stroke-width="1.0" stroke-dasharray="1.9 2.0"/>
<path d="M1178.4 705.8l1.98 -1.98 1.44 1.44 1.44 -1.44 1.98 1.98 -1.44 1.44 1.44 1.44 -1.98 1.98 -1.44 -1.44 -1.44 1.44 -1.98 -1.98 1.44 -1.44z" fill="#ff7c00" stroke="#fff" stroke-width="0.5"/>
<text x="1207.6" y="712.1" font-size="14.10" text-anchor="start" textLength="60.2" lengthAdjust="spacingAndGlyphs" fill="#262626" >MaxLogit</text>
<path d="M1168.8 727H1193.9" stroke="#1ac938" stroke-width="1.0" stroke-dasharray="1.9 2.0"/>
<path d="M1178.8 723.9h6.12v6.12h-6.12z" fill="#1ac938" stroke="#fff" stroke-width="0.5"/>
<text x="1207.6" y="731.8" font-size="14.10" text-anchor="start" textLength="46.6" lengthAdjust="spacingAndGlyphs" fill="#262626" >Energy</text>
<path d="M1168.8 746.7H1193.9" stroke="#e8000b" stroke-width="1.0" stroke-dasharray="1.9 2.0"/>
<path d="M1180.5 743.1h2.74v2.23h2.23v2.74h-2.23v2.23h-2.74v-2.23h-2.23v-2.74h2.23z" fill="#e8000b" stroke="#fff" stroke-width="0.5"/>
<text x="1207.6" y="751.5" font-size="14.10" text-anchor="start" textLength="39.6" lengthAdjust="spacingAndGlyphs" fill="#262626" >SIRC [</text>
<text x="1247.2" y="751.5" font-size="14.10" text-anchor="start" textLength="7.4" lengthAdjust="spacingAndGlyphs" fill="#262626" font-style="italic">L</text>
<text x="1254.7" y="754" font-size="9.87" text-anchor="start" textLength="5.9" lengthAdjust="spacingAndGlyphs" fill="#262626" >1</text>
<text x="1261.1" y="751.5" font-size="14.10" text-anchor="start" textLength="5.2" lengthAdjust="spacingAndGlyphs" fill="#262626" >]</text>
<path d="M1168.8 766.4H1193.9" stroke="#8b2be2" stroke-width="1.0" stroke-dasharray="1.9 2.0"/>
<path d="M1181.8 762.6l3.78 3.78l-3.78 3.78l-3.78 -3.78z" fill="#8b2be2" stroke="#fff" stroke-width="0.5"/>
<text x="1207.6" y="771.2" font-size="14.10" text-anchor="start" textLength="68.6" lengthAdjust="spacingAndGlyphs" fill="#262626" >SIRC [Res]</text>
<path d="M1168.8 786.1H1193.9" stroke="#9f4800" stroke-width="1.0" stroke-dasharray="1.9 2.0"/>
<path d="M1181.8 782.3l2.16 3.78l-2.16 3.78l-2.16 -3.78z" fill="#9f4800" stroke="#fff" stroke-width="0.5"/>
<text x="1207.6" y="790.9" font-size="14.10" text-anchor="start" textLength="33.6" lengthAdjust="spacingAndGlyphs" fill="#262626" >CCE*</text>
<path d="M1168.8 805.8H1193.9" stroke="#f14cc1" stroke-width="1.0" stroke-dasharray="1.9 2.0"/>
<path d="M1181.8 801.8l3.96 6.73h-7.92z" fill="#f14cc1" stroke="#fff" stroke-width="0.5"/>
<text x="1207.6" y="810.6" font-size="14.10" text-anchor="start" textLength="34.6" lengthAdjust="spacingAndGlyphs" fill="#262626" >DCE*</text>
<path d="M1168.8 825.5H1193.9" stroke="#a3a3a3" stroke-width="1.0" stroke-dasharray="1.9 2.0"/>
<path d="M1178.4 824l1.98 -1.98 1.44 1.44 1.44 -1.44 1.98 1.98 -1.44 1.44 1.44 1.44 -1.98 1.98 -1.44 -1.44 -1.44 1.44 -1.98 -1.98 1.44 -1.44z" fill="#a3a3a3" stroke="#fff" stroke-width="0.5"/>
<text x="1207.6" y="830.3" font-size="14.10" text-anchor="start" textLength="25.5" lengthAdjust="spacingAndGlyphs" fill="#262626" >OE*</text>
<path d="M1168.8 845.2H1193.9" stroke="#f4c31a" stroke-width="2.6"/>
<path d="M1181.8 849.1l3.96 -6.73h-7.92z" fill="#f4c31a" stroke="#fff" stroke-width="0.5"/>
<text x="1207.6" y="850" font-size="14.10" text-anchor="start" textLength="77.4" lengthAdjust="spacingAndGlyphs" fill="#262626" >Plug-in BB [</text>
<text x="1285" y="850" font-size="14.10" text-anchor="start" textLength="7.4" lengthAdjust="spacingAndGlyphs" fill="#262626" font-style="italic">L</text>
<text x="1292.4" y="852.5" font-size="9.87" text-anchor="start" textLength="5.9" lengthAdjust="spacingAndGlyphs" fill="#262626" >1</text>
<text x="1298.8" y="850" font-size="14.10" text-anchor="start" textLength="5.2" lengthAdjust="spacingAndGlyphs" fill="#262626" >]</text>
<path d="M1168.8 864.9H1193.9" stroke="#1ec8e2" stroke-width="2.6"/>
<path d="M1178.4 863.4l1.98 -1.98 1.44 1.44 1.44 -1.44 1.98 1.98 -1.44 1.44 1.44 1.44 -1.98 1.98 -1.44 -1.44 -1.44 1.44 -1.98 -1.98 1.44 -1.44z" fill="#1ec8e2" stroke="#fff" stroke-width="0.5"/>
<text x="1207.6" y="869.7" font-size="14.10" text-anchor="start" textLength="106.3" lengthAdjust="spacingAndGlyphs" fill="#262626" >Plug-in BB [Res]</text>
<path d="M1168.8 884.6H1193.9" stroke="#1a3ad6" stroke-width="2.6"/>
<path d="M1178.2 884.6a3.6 3.6 0 1 0 7.2 0a3.6 3.6 0 1 0 -7.2 0z" fill="#1a3ad6" stroke="#fff" stroke-width="0.5"/>
<text x="1207.6" y="889.4" font-size="14.10" text-anchor="start" textLength="72.9" lengthAdjust="spacingAndGlyphs" fill="#262626" >Plug-in LB*</text>
<text x="438.3" y="977.0" font-family="Liberation Serif, serif" font-size="33.0" textLength="32.5" lengthAdjust="spacingAndGlyphs" fill="#000">(c)</text><path d="M485.8 956.0H497.8C506.4 956.0 506.4 964.8 497.8 964.8H493.1M489.1 956.0V976.3M493.1 956.0V976.3M485.8 976.3H496.4" stroke="#000" stroke-width="1.25" fill="none"/><path d="M499.1 956.5C503.0 957.8 503.0 963.0 499.1 964.3" stroke="#000" stroke-width="0.9" fill="none"/><text x="505.3" y="979.5" font-family="Liberation Serif, serif" font-size="22.0" textLength="19.5" lengthAdjust="spacingAndGlyphs" fill="#000">in</text><text x="527.8" y="977.0" font-family="Liberation Serif, serif" font-size="33.0" textLength="6.5" lengthAdjust="spacingAndGlyphs" fill="#000">:</text><text x="547.3" y="977.0" font-family="Liberation Serif, serif" font-size="33.0" textLength="143.0" lengthAdjust="spacingAndGlyphs" fill="#000">CIFAR100;</text><path d="M722.9 956.0H734.9C743.5 956.0 743.5 964.8 734.9 964.8H730.1M726.1 956.0V976.3M730.1 956.0V976.3M722.9 976.3H733.5" stroke="#000" stroke-width="1.25" fill="none"/><path d="M736.2 956.5C740.1 957.8 740.1 963.0 736.2 964.3" stroke="#000" stroke-width="0.9" fill="none"/><text x="741.4" y="979.5" font-family="Liberation Serif, serif" font-size="22.0" textLength="35.0" lengthAdjust="spacingAndGlyphs" fill="#000">out</text><text x="780.7" y="977.0" font-family="Liberation Serif, serif" font-size="33.0" textLength="6.5" lengthAdjust="spacingAndGlyphs" fill="#000">:</text><text x="799.7" y="977.0" font-family="Liberation Serif, serif" font-size="33.0" textLength="81.9" lengthAdjust="spacingAndGlyphs" fill="#000">LSUN</text>
<rect x="49.2" y="1012.9" width="219.8" height="199.1" fill="#eaeaf2"/>
<clipPath id="c3_0"><rect x="49.2" y="1012.9" width="219.8" height="199.1"/></clipPath>
<path d="M91.1 1012.9V1211.9M135.6 1012.9V1211.9M180 1012.9V1211.9M224.5 1012.9V1211.9M269 1012.9V1211.9M49.2 1205H269M49.2 1170.6H269M49.2 1136.2H269M49.2 1101.9H269M49.2 1067.5H269M49.2 1033.1H269" stroke="#fff" stroke-width="1.1" fill="none"/>
<text x="91.1" y="1231.9" font-size="14.31" text-anchor="middle" textLength="20.3" lengthAdjust="spacingAndGlyphs" fill="#262626" >0.2</text>
<text x="135.6" y="1231.9" font-size="14.31" text-anchor="middle" textLength="20.3" lengthAdjust="spacingAndGlyphs" fill="#262626" >0.4</text>
<text x="180" y="1231.9" font-size="14.31" text-anchor="middle" textLength="20.3" lengthAdjust="spacingAndGlyphs" fill="#262626" >0.6</text>
<text x="224.5" y="1231.9" font-size="14.31" text-anchor="middle" textLength="20.3" lengthAdjust="spacingAndGlyphs" fill="#262626" >0.8</text>
<text x="269" y="1231.9" font-size="14.31" text-anchor="middle" textLength="20.3" lengthAdjust="spacingAndGlyphs" fill="#262626" >1.0</text>
<text x="39.2" y="1210.4" font-size="14.31" text-anchor="end" textLength="20.3" lengthAdjust="spacingAndGlyphs" fill="#262626" >0.0</text>
<text x="39.2" y="1176" font-size="14.31" text-anchor="end" textLength="20.3" lengthAdjust="spacingAndGlyphs" fill="#262626" >0.1</text>
<text x="39.2" y="1141.7" font-size="14.31" text-anchor="end" textLength="20.3" lengthAdjust="spacingAndGlyphs" fill="#262626" >0.2</text>
<text x="39.2" y="1107.3" font-size="14.31" text-anchor="end" textLength="20.3" lengthAdjust="spacingAndGlyphs" fill="#262626" >0.3</text>
<text x="39.2" y="1072.9" font-size="14.31" text-anchor="end" textLength="20.3" lengthAdjust="spacingAndGlyphs" fill="#262626" >0.4</text>
<text x="39.2" y="1038.5" font-size="14.31" text-anchor="end" textLength="20.3" lengthAdjust="spacingAndGlyphs" fill="#262626" >0.5</text>
<text x="159.1" y="1249.9" font-size="15.48" text-anchor="middle" textLength="139.0" lengthAdjust="spacingAndGlyphs" fill="#262626" >Samples abstained</text>
<g transform="translate(11.5 1112.4) rotate(-90)"><text x="0" y="0" font-size="15.48" text-anchor="middle" textLength="63.0" lengthAdjust="spacingAndGlyphs" fill="#262626" >Joint risk</text></g>
<g clip-path="url(#c3_0)">
<polyline points="49.2,1047.5 68.8,1049.3 91.1,1049.9 113.3,1051.3 135.6,1053.7 157.8,1057.9 180,1062.3 202.3,1068.2 224.5,1077.1 246.8,1096.4 269,1155.1" fill="none" stroke="#023eff" stroke-width="1.0" stroke-dasharray="1.9 2.0"/>
<path d="M66.5 1049.3a2.3 2.3 0 1 0 4.6 0a2.3 2.3 0 1 0 -4.6 0zM88.8 1049.9a2.3 2.3 0 1 0 4.6 0a2.3 2.3 0 1 0 -4.6 0zM111 1051.3a2.3 2.3 0 1 0 4.6 0a2.3 2.3 0 1 0 -4.6 0zM133.3 1053.7a2.3 2.3 0 1 0 4.6 0a2.3 2.3 0 1 0 -4.6 0zM155.5 1057.9a2.3 2.3 0 1 0 4.6 0a2.3 2.3 0 1 0 -4.6 0zM177.7 1062.3a2.3 2.3 0 1 0 4.6 0a2.3 2.3 0 1 0 -4.6 0zM200 1068.2a2.3 2.3 0 1 0 4.6 0a2.3 2.3 0 1 0 -4.6 0zM222.2 1077.1a2.3 2.3 0 1 0 4.6 0a2.3 2.3 0 1 0 -4.6 0zM244.5 1096.4a2.3 2.3 0 1 0 4.6 0a2.3 2.3 0 1 0 -4.6 0zM266.7 1155.1a2.3 2.3 0 1 0 4.6 0a2.3 2.3 0 1 0 -4.6 0z" fill="#023eff" stroke="#fff" stroke-width="0.5"/>
</g>
<g clip-path="url(#c3_0)">
<polyline points="49.2,1048.6 68.8,1049.6 91.1,1051.3 113.3,1055.1 135.6,1059.6 157.8,1064.4 180,1071.3 202.3,1080.5 224.5,1089.8 246.8,1110.1 269,1084.3" fill="none" stroke="#ff7c00" stroke-width="1.0" stroke-dasharray="1.9 2.0"/>
<path d="M66.7 1048.7l1.26 -1.26 0.92 0.92 0.92 -0.92 1.26 1.26 -0.92 0.92 0.92 0.92 -1.26 1.26 -0.92 -0.92 -0.92 0.92 -1.26 -1.26 0.92 -0.92zM88.9 1050.4l1.26 -1.26 0.92 0.92 0.92 -0.92 1.26 1.26 -0.92 0.92 0.92 0.92 -1.26 1.26 -0.92 -0.92 -0.92 0.92 -1.26 -1.26 0.92 -0.92zM111.1 1054.2l1.26 -1.26 0.92 0.92 0.92 -0.92 1.26 1.26 -0.92 0.92 0.92 0.92 -1.26 1.26 -0.92 -0.92 -0.92 0.92 -1.26 -1.26 0.92 -0.92zM133.4 1058.7l1.26 -1.26 0.92 0.92 0.92 -0.92 1.26 1.26 -0.92 0.92 0.92 0.92 -1.26 1.26 -0.92 -0.92 -0.92 0.92 -1.26 -1.26 0.92 -0.92zM155.6 1063.5l1.26 -1.26 0.92 0.92 0.92 -0.92 1.26 1.26 -0.92 0.92 0.92 0.92 -1.26 1.26 -0.92 -0.92 -0.92 0.92 -1.26 -1.26 0.92 -0.92zM177.9 1070.3l1.26 -1.26 0.92 0.92 0.92 -0.92 1.26 1.26 -0.92 0.92 0.92 0.92 -1.26 1.26 -0.92 -0.92 -0.92 0.92 -1.26 -1.26 0.92 -0.92zM200.1 1079.6l1.26 -1.26 0.92 0.92 0.92 -0.92 1.26 1.26 -0.92 0.92 0.92 0.92 -1.26 1.26 -0.92 -0.92 -0.92 0.92 -1.26 -1.26 0.92 -0.92zM222.3 1088.9l1.26 -1.26 0.92 0.92 0.92 -0.92 1.26 1.26 -0.92 0.92 0.92 0.92 -1.26 1.26 -0.92 -0.92 -0.92 0.92 -1.26 -1.26 0.92 -0.92zM244.6 1109.2l1.26 -1.26 0.92 0.92 0.92 -0.92 1.26 1.26 -0.92 0.92 0.92 0.92 -1.26 1.26 -0.92 -0.92 -0.92 0.92 -1.26 -1.26 0.92 -0.92zM266.8 1083.4l1.26 -1.26 0.92 0.92 0.92 -0.92 1.26 1.26 -0.92 0.92 0.92 0.92 -1.26 1.26 -0.92 -0.92 -0.92 0.92 -1.26 -1.26 0.92 -0.92z" fill="#ff7c00" stroke="#fff" stroke-width="0.5"/>
</g>
<g clip-path="url(#c3_0)">
<polyline points="49.2,1048.6 68.8,1049.6 91.1,1051.3 113.3,1055.1 135.6,1059.6 157.8,1064.4 180,1071.3 202.3,1080.5 224.5,1091.9 246.8,1103.9 269,1071.9" fill="none" stroke="#1ac938" stroke-width="1.0" stroke-dasharray="1.9 2.0"/>
<path d="M66.9 1047.6h3.91v3.91h-3.91zM89.1 1049.4h3.91v3.91h-3.91zM111.4 1053.1h3.91v3.91h-3.91zM133.6 1057.6h3.91v3.91h-3.91zM155.8 1062.4h3.91v3.91h-3.91zM178.1 1069.3h3.91v3.91h-3.91zM200.3 1078.6h3.91v3.91h-3.91zM222.6 1089.9h3.91v3.91h-3.91zM244.8 1102h3.91v3.91h-3.91zM267 1070h3.91v3.91h-3.91z" fill="#1ac938" stroke="#fff" stroke-width="0.5"/>
<path d="M224.5 1095.3V1088.5" stroke="#1ac938" stroke-width="1.6"/>
</g>
<g clip-path="url(#c3_0)">
<polyline points="49.2,1053.7 68.8,1057.2 91.1,1061.6 113.3,1063.7 135.6,1065.8 157.8,1068.2 180,1071.6 202.3,1076.8 224.5,1085.7 246.8,1105 269,1150" fill="none" stroke="#e8000b" stroke-width="1.0" stroke-dasharray="1.9 2.0"/>
<path d="M68 1054.9h1.75v1.43h1.43v1.75h-1.43v1.43h-1.75v-1.43h-1.43v-1.75h1.43zM90.2 1059.3h1.75v1.43h1.43v1.75h-1.43v1.43h-1.75v-1.43h-1.43v-1.75h1.43zM112.4 1061.4h1.75v1.43h1.43v1.75h-1.43v1.43h-1.75v-1.43h-1.43v-1.75h1.43zM134.7 1063.5h1.75v1.43h1.43v1.75h-1.43v1.43h-1.75v-1.43h-1.43v-1.75h1.43zM156.9 1065.9h1.75v1.43h1.43v1.75h-1.43v1.43h-1.75v-1.43h-1.43v-1.75h1.43zM179.2 1069.3h1.75v1.43h1.43v1.75h-1.43v1.43h-1.75v-1.43h-1.43v-1.75h1.43zM201.4 1074.5h1.75v1.43h1.43v1.75h-1.43v1.43h-1.75v-1.43h-1.43v-1.75h1.43zM223.6 1083.4h1.75v1.43h1.43v1.75h-1.43v1.43h-1.75v-1.43h-1.43v-1.75h1.43zM245.9 1102.7h1.75v1.43h1.43v1.75h-1.43v1.43h-1.75v-1.43h-1.43v-1.75h1.43zM268.1 1147.7h1.75v1.43h1.43v1.75h-1.43v1.43h-1.75v-1.43h-1.43v-1.75h1.43z" fill="#e8000b" stroke="#fff" stroke-width="0.5"/>
<path d="M113.3 1066.4V1060.9M135.6 1068.5V1063M224.5 1089.8V1081.6M246.8 1110.1V1099.8" stroke="#e8000b" stroke-width="1.6"/>
</g>
<g clip-path="url(#c3_0)">
<polyline points="49.2,1047.5 68.8,1049.3 91.1,1049.9 113.3,1051.3 135.6,1053.7 157.8,1057.9 180,1062.3 202.3,1068.2 224.5,1077.1 246.8,1096.4 269,1155.1" fill="none" stroke="#8b2be2" stroke-width="1.0" stroke-dasharray="1.9 2.0"/>
<path d="M68.8 1046.8l2.42 2.42l-2.42 2.42l-2.42 -2.42zM91.1 1047.5l2.42 2.42l-2.42 2.42l-2.42 -2.42zM113.3 1048.9l2.42 2.42l-2.42 2.42l-2.42 -2.42zM135.6 1051.3l2.42 2.42l-2.42 2.42l-2.42 -2.42zM157.8 1055.4l2.42 2.42l-2.42 2.42l-2.42 -2.42zM180 1059.9l2.42 2.42l-2.42 2.42l-2.42 -2.42zM202.3 1065.8l2.42 2.42l-2.42 2.42l-2.42 -2.42zM224.5 1074.7l2.42 2.42l-2.42 2.42l-2.42 -2.42zM246.8 1093.9l2.42 2.42l-2.42 2.42l-2.42 -2.42zM269 1152.7l2.42 2.42l-2.42 2.42l-2.42 -2.42z" fill="#8b2be2" stroke="#fff" stroke-width="0.5"/>
<path d="M224.5 1080.5V1073.7M246.8 1103.2V1089.5" stroke="#8b2be2" stroke-width="1.6"/>
</g>
<g clip-path="url(#c3_0)">
<polyline points="49.2,1053.7 68.8,1062.7 91.1,1076.4 113.3,1092.9 135.6,1111.8 157.8,1130.1 180,1143.8 202.3,1155.1 224.5,1161.3 246.8,1169.9 269,1180.2" fill="none" stroke="#9f4800" stroke-width="1.0" stroke-dasharray="1.9 2.0"/>
<path d="M68.8 1060.3l1.38 2.42l-1.38 2.42l-1.38 -2.42zM91.1 1074l1.38 2.42l-1.38 2.42l-1.38 -2.42zM113.3 1090.5l1.38 2.42l-1.38 2.42l-1.38 -2.42zM135.6 1109.4l1.38 2.42l-1.38 2.42l-1.38 -2.42zM157.8 1127.6l1.38 2.42l-1.38 2.42l-1.38 -2.42zM180 1141.4l1.38 2.42l-1.38 2.42l-1.38 -2.42zM202.3 1152.7l1.38 2.42l-1.38 2.42l-1.38 -2.42zM224.5 1158.9l1.38 2.42l-1.38 2.42l-1.38 -2.42zM246.8 1167.5l1.38 2.42l-1.38 2.42l-1.38 -2.42zM269 1177.8l1.38 2.42l-1.38 2.42l-1.38 -2.42z" fill="#9f4800" stroke="#fff" stroke-width="0.5"/>
<path d="M135.6 1115.3V1108.4M157.8 1133.5V1126.6" stroke="#9f4800" stroke-width="1.6"/>
</g>
<g clip-path="url(#c3_0)">
<polyline points="49.2,1053.7 68.8,1066.1 91.1,1080.5 113.3,1098.1 135.6,1115.6 157.8,1136.2 180,1150 202.3,1156.9 224.5,1160.3 246.8,1163.7 269,1169.9" fill="none" stroke="#f14cc1" stroke-width="1.0" stroke-dasharray="1.9 2.0"/>
<path d="M68.8 1063.6l2.53 4.3h-5.06zM91.1 1078l2.53 4.3h-5.06zM113.3 1095.5l2.53 4.3h-5.06zM135.6 1113.1l2.53 4.3h-5.06zM157.8 1133.7l2.53 4.3h-5.06zM180 1147.5l2.53 4.3h-5.06zM202.3 1154.3l2.53 4.3h-5.06zM224.5 1157.8l2.53 4.3h-5.06zM246.8 1161.2l2.53 4.3h-5.06zM269 1167.4l2.53 4.3h-5.06z" fill="#f14cc1" stroke="#fff" stroke-width="0.5"/>
</g>
<g clip-path="url(#c3_0)">
<polyline points="49.2,1053.7 68.8,1060.6 91.1,1071.9 113.3,1086 135.6,1100.5 157.8,1114.6 180,1127.3 202.3,1139.7 224.5,1153.4 246.8,1171.7 269,1191.6" fill="none" stroke="#a3a3a3" stroke-width="1.0" stroke-dasharray="1.9 2.0"/>
<path d="M66.7 1059.7l1.26 -1.26 0.92 0.92 0.92 -0.92 1.26 1.26 -0.92 0.92 0.92 0.92 -1.26 1.26 -0.92 -0.92 -0.92 0.92 -1.26 -1.26 0.92 -0.92zM88.9 1071l1.26 -1.26 0.92 0.92 0.92 -0.92 1.26 1.26 -0.92 0.92 0.92 0.92 -1.26 1.26 -0.92 -0.92 -0.92 0.92 -1.26 -1.26 0.92 -0.92zM111.1 1085.1l1.26 -1.26 0.92 0.92 0.92 -0.92 1.26 1.26 -0.92 0.92 0.92 0.92 -1.26 1.26 -0.92 -0.92 -0.92 0.92 -1.26 -1.26 0.92 -0.92zM133.4 1099.6l1.26 -1.26 0.92 0.92 0.92 -0.92 1.26 1.26 -0.92 0.92 0.92 0.92 -1.26 1.26 -0.92 -0.92 -0.92 0.92 -1.26 -1.26 0.92 -0.92zM155.6 1113.7l1.26 -1.26 0.92 0.92 0.92 -0.92 1.26 1.26 -0.92 0.92 0.92 0.92 -1.26 1.26 -0.92 -0.92 -0.92 0.92 -1.26 -1.26 0.92 -0.92zM177.9 1126.4l1.26 -1.26 0.92 0.92 0.92 -0.92 1.26 1.26 -0.92 0.92 0.92 0.92 -1.26 1.26 -0.92 -0.92 -0.92 0.92 -1.26 -1.26 0.92 -0.92zM200.1 1138.8l1.26 -1.26 0.92 0.92 0.92 -0.92 1.26 1.26 -0.92 0.92 0.92 0.92 -1.26 1.26 -0.92 -0.92 -0.92 0.92 -1.26 -1.26 0.92 -0.92zM222.3 1152.5l1.26 -1.26 0.92 0.92 0.92 -0.92 1.26 1.26 -0.92 0.92 0.92 0.92 -1.26 1.26 -0.92 -0.92 -0.92 0.92 -1.26 -1.26 0.92 -0.92zM244.6 1170.7l1.26 -1.26 0.92 0.92 0.92 -0.92 1.26 1.26 -0.92 0.92 0.92 0.92 -1.26 1.26 -0.92 -0.92 -0.92 0.92 -1.26 -1.26 0.92 -0.92zM266.8 1190.7l1.26 -1.26 0.92 0.92 0.92 -0.92 1.26 1.26 -0.92 0.92 0.92 0.92 -1.26 1.26 -0.92 -0.92 -0.92 0.92 -1.26 -1.26 0.92 -0.92z" fill="#a3a3a3" stroke="#fff" stroke-width="0.5"/>
<path d="M113.3 1088.8V1083.3M202.3 1142.4V1136.9M224.5 1156.9V1150M246.8 1176.8V1166.5" stroke="#a3a3a3" stroke-width="1.6"/>
</g>
<g clip-path="url(#c3_0)">
<polyline points="49.2,1050.3 68.8,1058.2 91.1,1069.9 113.3,1079.9 135.6,1087.4 157.8,1093.6 180,1099.5 202.3,1107.7 224.5,1118.7 246.8,1132.8 269,1134.2" fill="none" stroke="#f4c31a" stroke-width="2.0" stroke-linejoin="round"/>
<path d="M68.8 1060.7l2.53 -4.3h-5.06zM91.1 1072.4l2.53 -4.3h-5.06zM113.3 1082.4l2.53 -4.3h-5.06zM135.6 1090l2.53 -4.3h-5.06zM157.8 1096.1l2.53 -4.3h-5.06zM180 1102l2.53 -4.3h-5.06zM202.3 1110.2l2.53 -4.3h-5.06zM224.5 1121.2l2.53 -4.3h-5.06zM246.8 1135.3l2.53 -4.3h-5.06zM269 1136.7l2.53 -4.3h-5.06z" fill="#f4c31a" stroke="#fff" stroke-width="0.5"/>
<path d="M246.8 1136.2V1129.4" stroke="#f4c31a" stroke-width="1.6"/>
</g>
<g clip-path="url(#c3_0)">
<polyline points="49.2,1047.5 68.8,1046.2 91.1,1045.1 113.3,1045.1 135.6,1045.1 157.8,1046.5 180,1047.5 202.3,1046.5 224.5,1041.4 246.8,1026.2 269,1066.8" fill="none" stroke="#1ec8e2" stroke-width="2.0" stroke-linejoin="round"/>
<path d="M66.7 1045.2l1.26 -1.26 0.92 0.92 0.92 -0.92 1.26 1.26 -0.92 0.92 0.92 0.92 -1.26 1.26 -0.92 -0.92 -0.92 0.92 -1.26 -1.26 0.92 -0.92zM88.9 1044.2l1.26 -1.26 0.92 0.92 0.92 -0.92 1.26 1.26 -0.92 0.92 0.92 0.92 -1.26 1.26 -0.92 -0.92 -0.92 0.92 -1.26 -1.26 0.92 -0.92zM111.1 1044.2l1.26 -1.26 0.92 0.92 0.92 -0.92 1.26 1.26 -0.92 0.92 0.92 0.92 -1.26 1.26 -0.92 -0.92 -0.92 0.92 -1.26 -1.26 0.92 -0.92zM133.4 1044.2l1.26 -1.26 0.92 0.92 0.92 -0.92 1.26 1.26 -0.92 0.92 0.92 0.92 -1.26 1.26 -0.92 -0.92 -0.92 0.92 -1.26 -1.26 0.92 -0.92zM155.6 1045.6l1.26 -1.26 0.92 0.92 0.92 -0.92 1.26 1.26 -0.92 0.92 0.92 0.92 -1.26 1.26 -0.92 -0.92 -0.92 0.92 -1.26 -1.26 0.92 -0.92zM177.9 1046.6l1.26 -1.26 0.92 0.92 0.92 -0.92 1.26 1.26 -0.92 0.92 0.92 0.92 -1.26 1.26 -0.92 -0.92 -0.92 0.92 -1.26 -1.26 0.92 -0.92zM200.1 1045.6l1.26 -1.26 0.92 0.92 0.92 -0.92 1.26 1.26 -0.92 0.92 0.92 0.92 -1.26 1.26 -0.92 -0.92 -0.92 0.92 -1.26 -1.26 0.92 -0.92zM222.3 1040.4l1.26 -1.26 0.92 0.92 0.92 -0.92 1.26 1.26 -0.92 0.92 0.92 0.92 -1.26 1.26 -0.92 -0.92 -0.92 0.92 -1.26 -1.26 0.92 -0.92zM244.6 1025.3l1.26 -1.26 0.92 0.92 0.92 -0.92 1.26 1.26 -0.92 0.92 0.92 0.92 -1.26 1.26 -0.92 -0.92 -0.92 0.92 -1.26 -1.26 0.92 -0.92zM266.8 1065.9l1.26 -1.26 0.92 0.92 0.92 -0.92 1.26 1.26 -0.92 0.92 0.92 0.92 -1.26 1.26 -0.92 -0.92 -0.92 0.92 -1.26 -1.26 0.92 -0.92z" fill="#1ec8e2" stroke="#fff" stroke-width="0.5"/>
<path d="M202.3 1049.3V1043.8M224.5 1044.1V1038.6M246.8 1031.4V1021.1" stroke="#1ec8e2" stroke-width="1.6"/>
</g>
<g clip-path="url(#c3_0)">
<polyline points="49.2,1056.5 113.3,1105 135.6,1118 157.8,1136.6 180,1149 202.3,1156.2 224.5,1165.1 246.8,1184.7 269,1201.6" fill="none" stroke="#1a3ad6" stroke-width="2.0" stroke-linejoin="round"/>
<path d="M111 1105a2.3 2.3 0 1 0 4.6 0a2.3 2.3 0 1 0 -4.6 0zM133.3 1118a2.3 2.3 0 1 0 4.6 0a2.3 2.3 0 1 0 -4.6 0zM155.5 1136.6a2.3 2.3 0 1 0 4.6 0a2.3 2.3 0 1 0 -4.6 0zM177.7 1149a2.3 2.3 0 1 0 4.6 0a2.3 2.3 0 1 0 -4.6 0zM200 1156.2a2.3 2.3 0 1 0 4.6 0a2.3 2.3 0 1 0 -4.6 0zM222.2 1165.1a2.3 2.3 0 1 0 4.6 0a2.3 2.3 0 1 0 -4.6 0zM244.5 1184.7a2.3 2.3 0 1 0 4.6 0a2.3 2.3 0 1 0 -4.6 0zM266.7 1201.6a2.3 2.3 0 1 0 4.6 0a2.3 2.3 0 1 0 -4.6 0z" fill="#1a3ad6" stroke="#fff" stroke-width="0.5"/>
<path d="M246.8 1188.2V1181.3" stroke="#1a3ad6" stroke-width="1.6"/>
</g>
<rect x="343.7" y="1012.9" width="219.2" height="199.1" fill="#eaeaf2"/>
<clipPath id="c3_1"><rect x="343.7" y="1012.9" width="219.2" height="199.1"/></clipPath>
<path d="M385.5 1012.9V1211.9M429.8 1012.9V1211.9M474.2 1012.9V1211.9M518.5 1012.9V1211.9M562.9 1012.9V1211.9M343.7 1196.3H562.9M343.7 1151.9H562.9M343.7 1107.5H562.9M343.7 1063.1H562.9M343.7 1018.7H562.9" stroke="#fff" stroke-width="1.1" fill="none"/>
<text x="385.5" y="1231.9" font-size="14.31" text-anchor="middle" textLength="20.3" lengthAdjust="spacingAndGlyphs" fill="#262626" >0.2</text>
<text x="429.8" y="1231.9" font-size="14.31" text-anchor="middle" textLength="20.3" lengthAdjust="spacingAndGlyphs" fill="#262626" >0.4</text>
<text x="474.2" y="1231.9" font-size="14.31" text-anchor="middle" textLength="20.3" lengthAdjust="spacingAndGlyphs" fill="#262626" >0.6</text>
<text x="518.5" y="1231.9" font-size="14.31" text-anchor="middle" textLength="20.3" lengthAdjust="spacingAndGlyphs" fill="#262626" >0.8</text>
<text x="562.9" y="1231.9" font-size="14.31" text-anchor="middle" textLength="20.3" lengthAdjust="spacingAndGlyphs" fill="#262626" >1.0</text>
<text x="333.7" y="1201.7" font-size="14.31" text-anchor="end" textLength="20.3" lengthAdjust="spacingAndGlyphs" fill="#262626" >0.2</text>
<text x="333.7" y="1157.3" font-size="14.31" text-anchor="end" textLength="20.3" lengthAdjust="spacingAndGlyphs" fill="#262626" >0.4</text>
<text x="333.7" y="1112.9" font-size="14.31" text-anchor="end" textLength="20.3" lengthAdjust="spacingAndGlyphs" fill="#262626" >0.6</text>
<text x="333.7" y="1068.5" font-size="14.31" text-anchor="end" textLength="20.3" lengthAdjust="spacingAndGlyphs" fill="#262626" >0.8</text>
<text x="333.7" y="1024.1" font-size="14.31" text-anchor="end" textLength="20.3" lengthAdjust="spacingAndGlyphs" fill="#262626" >1.0</text>
<text x="453.3" y="1249.9" font-size="15.48" text-anchor="middle" textLength="139.0" lengthAdjust="spacingAndGlyphs" fill="#262626" >Samples abstained</text>
<g transform="translate(304.2 1112.4) rotate(-90)"><text x="0" y="0" font-size="15.48" text-anchor="middle" textLength="107.2" lengthAdjust="spacingAndGlyphs" fill="#262626" >Inlier accuracy</text></g>
<g clip-path="url(#c3_1)">
<polyline points="343.7,1200.7 363.3,1198.5 385.5,1195.2 407.6,1190.5 429.8,1188.8 452,1184.5 474.2,1177.7 496.4,1168.1 518.5,1155 540.7,1129 562.9,1068.7" fill="none" stroke="#023eff" stroke-width="1.0" stroke-dasharray="1.9 2.0"/>
<path d="M361 1198.5a2.3 2.3 0 1 0 4.6 0a2.3 2.3 0 1 0 -4.6 0zM383.2 1195.2a2.3 2.3 0 1 0 4.6 0a2.3 2.3 0 1 0 -4.6 0zM405.3 1190.5a2.3 2.3 0 1 0 4.6 0a2.3 2.3 0 1 0 -4.6 0zM427.5 1188.8a2.3 2.3 0 1 0 4.6 0a2.3 2.3 0 1 0 -4.6 0zM449.7 1184.5a2.3 2.3 0 1 0 4.6 0a2.3 2.3 0 1 0 -4.6 0zM471.9 1177.7a2.3 2.3 0 1 0 4.6 0a2.3 2.3 0 1 0 -4.6 0zM494.1 1168.1a2.3 2.3 0 1 0 4.6 0a2.3 2.3 0 1 0 -4.6 0zM516.2 1155a2.3 2.3 0 1 0 4.6 0a2.3 2.3 0 1 0 -4.6 0zM538.4 1129a2.3 2.3 0 1 0 4.6 0a2.3 2.3 0 1 0 -4.6 0zM560.6 1068.7a2.3 2.3 0 1 0 4.6 0a2.3 2.3 0 1 0 -4.6 0z" fill="#023eff" stroke="#fff" stroke-width="0.5"/>
</g>
<g clip-path="url(#c3_1)">
<polyline points="343.7,1200.7 363.3,1198.5 385.5,1195.2 407.6,1190.5 429.8,1188.8 452,1184.5 474.2,1177.7 496.4,1168.1 518.5,1155 540.7,1129 562.9,1134.4" fill="none" stroke="#ff7c00" stroke-width="1.0" stroke-dasharray="1.9 2.0"/>
<path d="M361.1 1197.6l1.26 -1.26 0.92 0.92 0.92 -0.92 1.26 1.26 -0.92 0.92 0.92 0.92 -1.26 1.26 -0.92 -0.92 -0.92 0.92 -1.26 -1.26 0.92 -0.92zM383.3 1194.3l1.26 -1.26 0.92 0.92 0.92 -0.92 1.26 1.26 -0.92 0.92 0.92 0.92 -1.26 1.26 -0.92 -0.92 -0.92 0.92 -1.26 -1.26 0.92 -0.92zM405.5 1189.6l1.26 -1.26 0.92 0.92 0.92 -0.92 1.26 1.26 -0.92 0.92 0.92 0.92 -1.26 1.26 -0.92 -0.92 -0.92 0.92 -1.26 -1.26 0.92 -0.92zM427.6 1187.8l1.26 -1.26 0.92 0.92 0.92 -0.92 1.26 1.26 -0.92 0.92 0.92 0.92 -1.26 1.26 -0.92 -0.92 -0.92 0.92 -1.26 -1.26 0.92 -0.92zM449.8 1183.6l1.26 -1.26 0.92 0.92 0.92 -0.92 1.26 1.26 -0.92 0.92 0.92 0.92 -1.26 1.26 -0.92 -0.92 -0.92 0.92 -1.26 -1.26 0.92 -0.92zM472 1176.7l1.26 -1.26 0.92 0.92 0.92 -0.92 1.26 1.26 -0.92 0.92 0.92 0.92 -1.26 1.26 -0.92 -0.92 -0.92 0.92 -1.26 -1.26 0.92 -0.92zM494.2 1167.2l1.26 -1.26 0.92 0.92 0.92 -0.92 1.26 1.26 -0.92 0.92 0.92 0.92 -1.26 1.26 -0.92 -0.92 -0.92 0.92 -1.26 -1.26 0.92 -0.92zM516.4 1154.1l1.26 -1.26 0.92 0.92 0.92 -0.92 1.26 1.26 -0.92 0.92 0.92 0.92 -1.26 1.26 -0.92 -0.92 -0.92 0.92 -1.26 -1.26 0.92 -0.92zM538.5 1128.1l1.26 -1.26 0.92 0.92 0.92 -0.92 1.26 1.26 -0.92 0.92 0.92 0.92 -1.26 1.26 -0.92 -0.92 -0.92 0.92 -1.26 -1.26 0.92 -0.92zM560.7 1133.4l1.26 -1.26 0.92 0.92 0.92 -0.92 1.26 1.26 -0.92 0.92 0.92 0.92 -1.26 1.26 -0.92 -0.92 -0.92 0.92 -1.26 -1.26 0.92 -0.92z" fill="#ff7c00" stroke="#fff" stroke-width="0.5"/>
</g>
<g clip-path="url(#c3_1)">
<polyline points="343.7,1200.7 363.3,1198.5 385.5,1195.2 407.6,1190.5 429.8,1188.8 452,1184.5 474.2,1177.7 496.4,1168.1 518.5,1155 540.7,1134.4 562.9,1146.3" fill="none" stroke="#1ac938" stroke-width="1.0" stroke-dasharray="1.9 2.0"/>
<path d="M361.3 1196.6h3.91v3.91h-3.91zM383.5 1193.2h3.91v3.91h-3.91zM405.7 1188.6h3.91v3.91h-3.91zM427.9 1186.8h3.91v3.91h-3.91zM450 1182.6h3.91v3.91h-3.91zM472.2 1175.7h3.91v3.91h-3.91zM494.4 1166.2h3.91v3.91h-3.91zM516.6 1153.1h3.91v3.91h-3.91zM538.8 1132.4h3.91v3.91h-3.91zM560.9 1144.4h3.91v3.91h-3.91z" fill="#1ac938" stroke="#fff" stroke-width="0.5"/>
</g>
<g clip-path="url(#c3_1)">
<polyline points="343.7,1200.7 363.3,1198.5 385.5,1195.2 407.6,1190.1 429.8,1187.4 452,1183 474.2,1176.3 496.4,1166.8 518.5,1151.9 540.7,1127.5 562.9,1069.8" fill="none" stroke="#e8000b" stroke-width="1.0" stroke-dasharray="1.9 2.0"/>
<path d="M362.4 1196.2h1.75v1.43h1.43v1.75h-1.43v1.43h-1.75v-1.43h-1.43v-1.75h1.43zM384.6 1192.9h1.75v1.43h1.43v1.75h-1.43v1.43h-1.75v-1.43h-1.43v-1.75h1.43zM406.8 1187.8h1.75v1.43h1.43v1.75h-1.43v1.43h-1.75v-1.43h-1.43v-1.75h1.43zM428.9 1185.1h1.75v1.43h1.43v1.75h-1.43v1.43h-1.75v-1.43h-1.43v-1.75h1.43zM451.1 1180.7h1.75v1.43h1.43v1.75h-1.43v1.43h-1.75v-1.43h-1.43v-1.75h1.43zM473.3 1174h1.75v1.43h1.43v1.75h-1.43v1.43h-1.75v-1.43h-1.43v-1.75h1.43zM495.5 1164.5h1.75v1.43h1.43v1.75h-1.43v1.43h-1.75v-1.43h-1.43v-1.75h1.43zM517.7 1149.6h1.75v1.43h1.43v1.75h-1.43v1.43h-1.75v-1.43h-1.43v-1.75h1.43zM539.8 1125.2h1.75v1.43h1.43v1.75h-1.43v1.43h-1.75v-1.43h-1.43v-1.75h1.43zM562 1067.5h1.75v1.43h1.43v1.75h-1.43v1.43h-1.75v-1.43h-1.43v-1.75h1.43z" fill="#e8000b" stroke="#fff" stroke-width="0.5"/>
<path d="M518.5 1155.2V1148.6" stroke="#e8000b" stroke-width="1.6"/>
</g>
<g clip-path="url(#c3_1)">
<polyline points="343.7,1200.7 363.3,1198.5 385.5,1195.2 407.6,1190.5 429.8,1188.8 452,1184.5 474.2,1177.7 496.4,1168.1 518.5,1155 540.7,1129.7 562.9,1068.7" fill="none" stroke="#8b2be2" stroke-width="1.0" stroke-dasharray="1.9 2.0"/>
<path d="M363.3 1196.1l2.42 2.42l-2.42 2.42l-2.42 -2.42zM385.5 1192.8l2.42 2.42l-2.42 2.42l-2.42 -2.42zM407.6 1188.1l2.42 2.42l-2.42 2.42l-2.42 -2.42zM429.8 1186.3l2.42 2.42l-2.42 2.42l-2.42 -2.42zM452 1182.1l2.42 2.42l-2.42 2.42l-2.42 -2.42zM474.2 1175.2l2.42 2.42l-2.42 2.42l-2.42 -2.42zM496.4 1165.7l2.42 2.42l-2.42 2.42l-2.42 -2.42zM518.5 1152.6l2.42 2.42l-2.42 2.42l-2.42 -2.42zM540.7 1127.3l2.42 2.42l-2.42 2.42l-2.42 -2.42zM562.9 1066.2l2.42 2.42l-2.42 2.42l-2.42 -2.42z" fill="#8b2be2" stroke="#fff" stroke-width="0.5"/>
<path d="M518.5 1157.2V1152.8M540.7 1131.9V1127.5M562.9 1086.4V1050.9" stroke="#8b2be2" stroke-width="1.6"/>
</g>
<g clip-path="url(#c3_1)">
<polyline points="343.7,1191.4 363.3,1188.8 385.5,1182.5 407.6,1174.5 429.8,1165.2 452,1154.3 474.2,1143.9 496.4,1132.4 518.5,1121.3 540.7,1104.8 562.9,1077.3" fill="none" stroke="#9f4800" stroke-width="1.0" stroke-dasharray="1.9 2.0"/>
<path d="M363.3 1186.3l1.38 2.42l-1.38 2.42l-1.38 -2.42zM385.5 1180.1l1.38 2.42l-1.38 2.42l-1.38 -2.42zM407.6 1172.1l1.38 2.42l-1.38 2.42l-1.38 -2.42zM429.8 1162.8l1.38 2.42l-1.38 2.42l-1.38 -2.42zM452 1151.9l1.38 2.42l-1.38 2.42l-1.38 -2.42zM474.2 1141.5l1.38 2.42l-1.38 2.42l-1.38 -2.42zM496.4 1129.9l1.38 2.42l-1.38 2.42l-1.38 -2.42zM518.5 1118.8l1.38 2.42l-1.38 2.42l-1.38 -2.42zM540.7 1102.4l1.38 2.42l-1.38 2.42l-1.38 -2.42zM562.9 1074.9l1.38 2.42l-1.38 2.42l-1.38 -2.42z" fill="#9f4800" stroke="#fff" stroke-width="0.5"/>
<path d="M540.7 1108.2V1101.5" stroke="#9f4800" stroke-width="1.6"/>
</g>
<g clip-path="url(#c3_1)">
<polyline points="343.7,1185.2 363.3,1180.1 385.5,1172.3 407.6,1163.7 429.8,1154.1 452,1145.2 474.2,1136.4 496.4,1127.5 518.5,1121.3 540.7,1121.3 562.9,1129.7" fill="none" stroke="#f14cc1" stroke-width="1.0" stroke-dasharray="1.9 2.0"/>
<path d="M363.3 1177.6l2.53 4.3h-5.06zM385.5 1169.8l2.53 4.3h-5.06zM407.6 1161.1l2.53 4.3h-5.06zM429.8 1151.6l2.53 4.3h-5.06zM452 1142.7l2.53 4.3h-5.06zM474.2 1133.8l2.53 4.3h-5.06zM496.4 1125l2.53 4.3h-5.06zM518.5 1118.7l2.53 4.3h-5.06zM540.7 1118.7l2.53 4.3h-5.06zM562.9 1127.2l2.53 4.3h-5.06z" fill="#f14cc1" stroke="#fff" stroke-width="0.5"/>
</g>
<g clip-path="url(#c3_1)">
<polyline points="343.7,1200.7 363.3,1198.5 385.5,1194.1 407.6,1186.3 429.8,1179.4 452,1169.9 474.2,1158.6 496.4,1144.8 518.5,1125.7 540.7,1092.8 562.9,1041.8" fill="none" stroke="#a3a3a3" stroke-width="1.0" stroke-dasharray="1.9 2.0"/>
<path d="M361.1 1197.6l1.26 -1.26 0.92 0.92 0.92 -0.92 1.26 1.26 -0.92 0.92 0.92 0.92 -1.26 1.26 -0.92 -0.92 -0.92 0.92 -1.26 -1.26 0.92 -0.92zM383.3 1193.2l1.26 -1.26 0.92 0.92 0.92 -0.92 1.26 1.26 -0.92 0.92 0.92 0.92 -1.26 1.26 -0.92 -0.92 -0.92 0.92 -1.26 -1.26 0.92 -0.92zM405.5 1185.4l1.26 -1.26 0.92 0.92 0.92 -0.92 1.26 1.26 -0.92 0.92 0.92 0.92 -1.26 1.26 -0.92 -0.92 -0.92 0.92 -1.26 -1.26 0.92 -0.92zM427.6 1178.5l1.26 -1.26 0.92 0.92 0.92 -0.92 1.26 1.26 -0.92 0.92 0.92 0.92 -1.26 1.26 -0.92 -0.92 -0.92 0.92 -1.26 -1.26 0.92 -0.92zM449.8 1169l1.26 -1.26 0.92 0.92 0.92 -0.92 1.26 1.26 -0.92 0.92 0.92 0.92 -1.26 1.26 -0.92 -0.92 -0.92 0.92 -1.26 -1.26 0.92 -0.92zM472 1157.6l1.26 -1.26 0.92 0.92 0.92 -0.92 1.26 1.26 -0.92 0.92 0.92 0.92 -1.26 1.26 -0.92 -0.92 -0.92 0.92 -1.26 -1.26 0.92 -0.92zM494.2 1143.9l1.26 -1.26 0.92 0.92 0.92 -0.92 1.26 1.26 -0.92 0.92 0.92 0.92 -1.26 1.26 -0.92 -0.92 -0.92 0.92 -1.26 -1.26 0.92 -0.92zM516.4 1124.8l1.26 -1.26 0.92 0.92 0.92 -0.92 1.26 1.26 -0.92 0.92 0.92 0.92 -1.26 1.26 -0.92 -0.92 -0.92 0.92 -1.26 -1.26 0.92 -0.92zM538.5 1091.9l1.26 -1.26 0.92 0.92 0.92 -0.92 1.26 1.26 -0.92 0.92 0.92 0.92 -1.26 1.26 -0.92 -0.92 -0.92 0.92 -1.26 -1.26 0.92 -0.92zM560.7 1040.9l1.26 -1.26 0.92 0.92 0.92 -0.92 1.26 1.26 -0.92 0.92 0.92 0.92 -1.26 1.26 -0.92 -0.92 -0.92 0.92 -1.26 -1.26 0.92 -0.92z" fill="#a3a3a3" stroke="#fff" stroke-width="0.5"/>
<path d="M518.5 1127.9V1123.5M540.7 1101.7V1084" stroke="#a3a3a3" stroke-width="1.6"/>
</g>
<g clip-path="url(#c3_1)">
<polyline points="343.7,1199.9 363.3,1197.4 385.5,1193.6 407.6,1188.8 429.8,1183.6 452,1177.7 474.2,1169.9 496.4,1160.3 518.5,1145.7 540.7,1122.2 562.9,1102.4" fill="none" stroke="#f4c31a" stroke-width="2.0" stroke-linejoin="round"/>
<path d="M363.3 1199.9l2.53 -4.3h-5.06zM385.5 1196.2l2.53 -4.3h-5.06zM407.6 1191.3l2.53 -4.3h-5.06zM429.8 1186.2l2.53 -4.3h-5.06zM452 1180.2l2.53 -4.3h-5.06zM474.2 1172.4l2.53 -4.3h-5.06zM496.4 1162.9l2.53 -4.3h-5.06zM518.5 1148.2l2.53 -4.3h-5.06zM540.7 1124.7l2.53 -4.3h-5.06zM562.9 1104.9l2.53 -4.3h-5.06z" fill="#f4c31a" stroke="#fff" stroke-width="0.5"/>
<path d="M407.6 1191V1186.5M429.8 1185.9V1181.4M518.5 1149V1142.4M540.7 1125.5V1118.8" stroke="#f4c31a" stroke-width="1.6"/>
</g>
<g clip-path="url(#c3_1)">
<polyline points="343.7,1202.7 363.3,1200.1 385.5,1197.4 407.6,1195 429.8,1192.3 452,1188.1 474.2,1183.6 496.4,1180.1 518.5,1178.5 540.7,1183.6 562.9,1139.5" fill="none" stroke="#1ec8e2" stroke-width="2.0" stroke-linejoin="round"/>
<path d="M361.1 1199.2l1.26 -1.26 0.92 0.92 0.92 -0.92 1.26 1.26 -0.92 0.92 0.92 0.92 -1.26 1.26 -0.92 -0.92 -0.92 0.92 -1.26 -1.26 0.92 -0.92zM383.3 1196.5l1.26 -1.26 0.92 0.92 0.92 -0.92 1.26 1.26 -0.92 0.92 0.92 0.92 -1.26 1.26 -0.92 -0.92 -0.92 0.92 -1.26 -1.26 0.92 -0.92zM405.5 1194l1.26 -1.26 0.92 0.92 0.92 -0.92 1.26 1.26 -0.92 0.92 0.92 0.92 -1.26 1.26 -0.92 -0.92 -0.92 0.92 -1.26 -1.26 0.92 -0.92zM427.6 1191.4l1.26 -1.26 0.92 0.92 0.92 -0.92 1.26 1.26 -0.92 0.92 0.92 0.92 -1.26 1.26 -0.92 -0.92 -0.92 0.92 -1.26 -1.26 0.92 -0.92zM449.8 1187.2l1.26 -1.26 0.92 0.92 0.92 -0.92 1.26 1.26 -0.92 0.92 0.92 0.92 -1.26 1.26 -0.92 -0.92 -0.92 0.92 -1.26 -1.26 0.92 -0.92zM472 1182.7l1.26 -1.26 0.92 0.92 0.92 -0.92 1.26 1.26 -0.92 0.92 0.92 0.92 -1.26 1.26 -0.92 -0.92 -0.92 0.92 -1.26 -1.26 0.92 -0.92zM494.2 1179.2l1.26 -1.26 0.92 0.92 0.92 -0.92 1.26 1.26 -0.92 0.92 0.92 0.92 -1.26 1.26 -0.92 -0.92 -0.92 0.92 -1.26 -1.26 0.92 -0.92zM516.4 1177.6l1.26 -1.26 0.92 0.92 0.92 -0.92 1.26 1.26 -0.92 0.92 0.92 0.92 -1.26 1.26 -0.92 -0.92 -0.92 0.92 -1.26 -1.26 0.92 -0.92zM538.5 1182.7l1.26 -1.26 0.92 0.92 0.92 -0.92 1.26 1.26 -0.92 0.92 0.92 0.92 -1.26 1.26 -0.92 -0.92 -0.92 0.92 -1.26 -1.26 0.92 -0.92zM560.7 1138.5l1.26 -1.26 0.92 0.92 0.92 -0.92 1.26 1.26 -0.92 0.92 0.92 0.92 -1.26 1.26 -0.92 -0.92 -0.92 0.92 -1.26 -1.26 0.92 -0.92z" fill="#1ec8e2" stroke="#fff" stroke-width="0.5"/>
</g>
<g clip-path="url(#c3_1)">
<polyline points="343.7,1184.5 407.6,1159.4 429.8,1152.6 452,1141.7 474.2,1133 496.4,1127 518.5,1110.2 540.7,1064.2 562.9,1024.5" fill="none" stroke="#1a3ad6" stroke-width="2.0" stroke-linejoin="round"/>
<path d="M405.3 1159.4a2.3 2.3 0 1 0 4.6 0a2.3 2.3 0 1 0 -4.6 0zM427.5 1152.6a2.3 2.3 0 1 0 4.6 0a2.3 2.3 0 1 0 -4.6 0zM449.7 1141.7a2.3 2.3 0 1 0 4.6 0a2.3 2.3 0 1 0 -4.6 0zM471.9 1133a2.3 2.3 0 1 0 4.6 0a2.3 2.3 0 1 0 -4.6 0zM494.1 1127a2.3 2.3 0 1 0 4.6 0a2.3 2.3 0 1 0 -4.6 0zM516.2 1110.2a2.3 2.3 0 1 0 4.6 0a2.3 2.3 0 1 0 -4.6 0zM538.4 1064.2a2.3 2.3 0 1 0 4.6 0a2.3 2.3 0 1 0 -4.6 0zM560.6 1024.5a2.3 2.3 0 1 0 4.6 0a2.3 2.3 0 1 0 -4.6 0z" fill="#1a3ad6" stroke="#fff" stroke-width="0.5"/>
<path d="M518.5 1112.4V1107.9M540.7 1067.5V1060.9" stroke="#1a3ad6" stroke-width="1.6"/>
</g>
<rect x="638.1" y="1012.9" width="219.8" height="199.1" fill="#eaeaf2"/>
<clipPath id="c3_2"><rect x="638.1" y="1012.9" width="219.8" height="199.1"/></clipPath>
<path d="M680 1012.9V1211.9M724.5 1012.9V1211.9M768.9 1012.9V1211.9M813.4 1012.9V1211.9M857.9 1012.9V1211.9M638.1 1193.2H857.9M638.1 1164.6H857.9M638.1 1136H857.9M638.1 1107.4H857.9M638.1 1078.7H857.9M638.1 1050.1H857.9M638.1 1021.5H857.9" stroke="#fff" stroke-width="1.1" fill="none"/>
<text x="680" y="1231.9" font-size="14.31" text-anchor="middle" textLength="20.3" lengthAdjust="spacingAndGlyphs" fill="#262626" >0.2</text>
<text x="724.5" y="1231.9" font-size="14.31" text-anchor="middle" textLength="20.3" lengthAdjust="spacingAndGlyphs" fill="#262626" >0.4</text>
<text x="768.9" y="1231.9" font-size="14.31" text-anchor="middle" textLength="20.3" lengthAdjust="spacingAndGlyphs" fill="#262626" >0.6</text>
<text x="813.4" y="1231.9" font-size="14.31" text-anchor="middle" textLength="20.3" lengthAdjust="spacingAndGlyphs" fill="#262626" >0.8</text>
<text x="857.9" y="1231.9" font-size="14.31" text-anchor="middle" textLength="20.3" lengthAdjust="spacingAndGlyphs" fill="#262626" >1.0</text>
<text x="628.1" y="1198.6" font-size="14.31" text-anchor="end" textLength="20.3" lengthAdjust="spacingAndGlyphs" fill="#262626" >0.4</text>
<text x="628.1" y="1170" font-size="14.31" text-anchor="end" textLength="20.3" lengthAdjust="spacingAndGlyphs" fill="#262626" >0.5</text>
<text x="628.1" y="1141.4" font-size="14.31" text-anchor="end" textLength="20.3" lengthAdjust="spacingAndGlyphs" fill="#262626" >0.6</text>
<text x="628.1" y="1112.8" font-size="14.31" text-anchor="end" textLength="20.3" lengthAdjust="spacingAndGlyphs" fill="#262626" >0.7</text>
<text x="628.1" y="1084.2" font-size="14.31" text-anchor="end" textLength="20.3" lengthAdjust="spacingAndGlyphs" fill="#262626" >0.8</text>
<text x="628.1" y="1055.5" font-size="14.31" text-anchor="end" textLength="20.3" lengthAdjust="spacingAndGlyphs" fill="#262626" >0.9</text>
<text x="628.1" y="1026.9" font-size="14.31" text-anchor="end" textLength="20.3" lengthAdjust="spacingAndGlyphs" fill="#262626" >1.0</text>
<text x="748" y="1249.9" font-size="15.48" text-anchor="middle" textLength="139.0" lengthAdjust="spacingAndGlyphs" fill="#262626" >Samples abstained</text>
<g transform="translate(600.6 1112.4) rotate(-90)"><text x="0" y="0" font-size="15.48" text-anchor="middle" textLength="104.7" lengthAdjust="spacingAndGlyphs" fill="#262626" >OOD precision</text></g>
<g clip-path="url(#c3_2)">
<polyline points="638.1,1154.3 657.7,1158.6 680,1159.4 702.2,1159.4 724.5,1159.4 746.7,1158.9 768.9,1158.6 791.2,1158.9 813.4,1158.9 835.7,1159.4 857.9,1160.3" fill="none" stroke="#023eff" stroke-width="1.0" stroke-dasharray="1.9 2.0"/>
<path d="M655.4 1158.6a2.3 2.3 0 1 0 4.6 0a2.3 2.3 0 1 0 -4.6 0zM677.7 1159.4a2.3 2.3 0 1 0 4.6 0a2.3 2.3 0 1 0 -4.6 0zM699.9 1159.4a2.3 2.3 0 1 0 4.6 0a2.3 2.3 0 1 0 -4.6 0zM722.2 1159.4a2.3 2.3 0 1 0 4.6 0a2.3 2.3 0 1 0 -4.6 0zM744.4 1158.9a2.3 2.3 0 1 0 4.6 0a2.3 2.3 0 1 0 -4.6 0zM766.6 1158.6a2.3 2.3 0 1 0 4.6 0a2.3 2.3 0 1 0 -4.6 0zM788.9 1158.9a2.3 2.3 0 1 0 4.6 0a2.3 2.3 0 1 0 -4.6 0zM811.1 1158.9a2.3 2.3 0 1 0 4.6 0a2.3 2.3 0 1 0 -4.6 0zM833.4 1159.4a2.3 2.3 0 1 0 4.6 0a2.3 2.3 0 1 0 -4.6 0zM855.6 1160.3a2.3 2.3 0 1 0 4.6 0a2.3 2.3 0 1 0 -4.6 0z" fill="#023eff" stroke="#fff" stroke-width="0.5"/>
</g>
<g clip-path="url(#c3_2)">
<polyline points="638.1,1175.2 657.7,1156.9 680,1153.1 702.2,1150.3 724.5,1150.8 746.7,1150.8 768.9,1151.4 791.2,1153.1 813.4,1155.4 835.7,1158.3 857.9,1160.3" fill="none" stroke="#ff7c00" stroke-width="1.0" stroke-dasharray="1.9 2.0"/>
<path d="M655.6 1155.9l1.26 -1.26 0.92 0.92 0.92 -0.92 1.26 1.26 -0.92 0.92 0.92 0.92 -1.26 1.26 -0.92 -0.92 -0.92 0.92 -1.26 -1.26 0.92 -0.92zM677.8 1152.2l1.26 -1.26 0.92 0.92 0.92 -0.92 1.26 1.26 -0.92 0.92 0.92 0.92 -1.26 1.26 -0.92 -0.92 -0.92 0.92 -1.26 -1.26 0.92 -0.92zM700 1149.4l1.26 -1.26 0.92 0.92 0.92 -0.92 1.26 1.26 -0.92 0.92 0.92 0.92 -1.26 1.26 -0.92 -0.92 -0.92 0.92 -1.26 -1.26 0.92 -0.92zM722.3 1149.9l1.26 -1.26 0.92 0.92 0.92 -0.92 1.26 1.26 -0.92 0.92 0.92 0.92 -1.26 1.26 -0.92 -0.92 -0.92 0.92 -1.26 -1.26 0.92 -0.92zM744.5 1149.9l1.26 -1.26 0.92 0.92 0.92 -0.92 1.26 1.26 -0.92 0.92 0.92 0.92 -1.26 1.26 -0.92 -0.92 -0.92 0.92 -1.26 -1.26 0.92 -0.92zM766.8 1150.5l1.26 -1.26 0.92 0.92 0.92 -0.92 1.26 1.26 -0.92 0.92 0.92 0.92 -1.26 1.26 -0.92 -0.92 -0.92 0.92 -1.26 -1.26 0.92 -0.92zM789 1152.2l1.26 -1.26 0.92 0.92 0.92 -0.92 1.26 1.26 -0.92 0.92 0.92 0.92 -1.26 1.26 -0.92 -0.92 -0.92 0.92 -1.26 -1.26 0.92 -0.92zM811.2 1154.5l1.26 -1.26 0.92 0.92 0.92 -0.92 1.26 1.26 -0.92 0.92 0.92 0.92 -1.26 1.26 -0.92 -0.92 -0.92 0.92 -1.26 -1.26 0.92 -0.92zM833.5 1157.4l1.26 -1.26 0.92 0.92 0.92 -0.92 1.26 1.26 -0.92 0.92 0.92 0.92 -1.26 1.26 -0.92 -0.92 -0.92 0.92 -1.26 -1.26 0.92 -0.92zM855.7 1159.4l1.26 -1.26 0.92 0.92 0.92 -0.92 1.26 1.26 -0.92 0.92 0.92 0.92 -1.26 1.26 -0.92 -0.92 -0.92 0.92 -1.26 -1.26 0.92 -0.92z" fill="#ff7c00" stroke="#fff" stroke-width="0.5"/>
</g>
<g clip-path="url(#c3_2)">
<polyline points="638.1,1169.7 657.7,1160.3 680,1154.3 702.2,1150 724.5,1149.1 746.7,1149.7 768.9,1150.8 791.2,1151.7 813.4,1154.3 835.7,1157.7 857.9,1160.3" fill="none" stroke="#1ac938" stroke-width="1.0" stroke-dasharray="1.9 2.0"/>
<path d="M655.8 1158.3h3.91v3.91h-3.91zM678 1152.3h3.91v3.91h-3.91zM700.3 1148h3.91v3.91h-3.91zM722.5 1147.2h3.91v3.91h-3.91zM744.7 1147.7h3.91v3.91h-3.91zM767 1148.9h3.91v3.91h-3.91zM789.2 1149.8h3.91v3.91h-3.91zM811.5 1152.3h3.91v3.91h-3.91zM833.7 1155.8h3.91v3.91h-3.91zM855.9 1158.3h3.91v3.91h-3.91z" fill="#1ac938" stroke="#fff" stroke-width="0.5"/>
<path d="M657.7 1163.2V1157.4M680 1157.1V1151.4M702.2 1152.9V1147.1M724.5 1152V1146.3M746.7 1152.6V1146.8" stroke="#1ac938" stroke-width="1.6"/>
</g>
<g clip-path="url(#c3_2)">
<polyline points="638.1,1025.2 657.7,1046.1 680,1089.3 702.2,1117.1 724.5,1134.2 746.7,1144.6 768.9,1150 791.2,1154.3 813.4,1156 835.7,1158.6 857.9,1160.3" fill="none" stroke="#e8000b" stroke-width="1.0" stroke-dasharray="1.9 2.0"/>
<path d="M656.9 1043.8h1.75v1.43h1.43v1.75h-1.43v1.43h-1.75v-1.43h-1.43v-1.75h1.43zM679.1 1087h1.75v1.43h1.43v1.75h-1.43v1.43h-1.75v-1.43h-1.43v-1.75h1.43zM701.3 1114.8h1.75v1.43h1.43v1.75h-1.43v1.43h-1.75v-1.43h-1.43v-1.75h1.43zM723.6 1131.9h1.75v1.43h1.43v1.75h-1.43v1.43h-1.75v-1.43h-1.43v-1.75h1.43zM745.8 1142.3h1.75v1.43h1.43v1.75h-1.43v1.43h-1.75v-1.43h-1.43v-1.75h1.43zM768.1 1147.7h1.75v1.43h1.43v1.75h-1.43v1.43h-1.75v-1.43h-1.43v-1.75h1.43zM790.3 1152h1.75v1.43h1.43v1.75h-1.43v1.43h-1.75v-1.43h-1.43v-1.75h1.43zM812.5 1153.7h1.75v1.43h1.43v1.75h-1.43v1.43h-1.75v-1.43h-1.43v-1.75h1.43zM834.8 1156.3h1.75v1.43h1.43v1.75h-1.43v1.43h-1.75v-1.43h-1.43v-1.75h1.43zM857 1158h1.75v1.43h1.43v1.75h-1.43v1.43h-1.75v-1.43h-1.43v-1.75h1.43z" fill="#e8000b" stroke="#fff" stroke-width="0.5"/>
<path d="M657.7 1051.8V1040.4M680 1095V1083.6M702.2 1119.9V1114.2M724.5 1137.1V1131.4" stroke="#e8000b" stroke-width="1.6"/>
</g>
<g clip-path="url(#c3_2)">
<polyline points="638.1,1170.3 657.7,1175.2 680,1168.9 702.2,1166 724.5,1163.7 746.7,1161.7 768.9,1160.6 791.2,1160.6 813.4,1160.6 835.7,1160.3 857.9,1160.3" fill="none" stroke="#8b2be2" stroke-width="1.0" stroke-dasharray="1.9 2.0"/>
<path d="M657.7 1172.8l2.42 2.42l-2.42 2.42l-2.42 -2.42zM680 1166.5l2.42 2.42l-2.42 2.42l-2.42 -2.42zM702.2 1163.6l2.42 2.42l-2.42 2.42l-2.42 -2.42zM724.5 1161.3l2.42 2.42l-2.42 2.42l-2.42 -2.42zM746.7 1159.3l2.42 2.42l-2.42 2.42l-2.42 -2.42zM768.9 1158.2l2.42 2.42l-2.42 2.42l-2.42 -2.42zM791.2 1158.2l2.42 2.42l-2.42 2.42l-2.42 -2.42zM813.4 1158.2l2.42 2.42l-2.42 2.42l-2.42 -2.42zM835.7 1157.9l2.42 2.42l-2.42 2.42l-2.42 -2.42zM857.9 1157.9l2.42 2.42l-2.42 2.42l-2.42 -2.42z" fill="#8b2be2" stroke="#fff" stroke-width="0.5"/>
<path d="M657.7 1178V1172.3M702.2 1168.9V1163.2" stroke="#8b2be2" stroke-width="1.6"/>
</g>
<g clip-path="url(#c3_2)">
<polyline points="638.1,1021.5 657.7,1022.6 680,1024.4 702.2,1029.5 724.5,1036.7 746.7,1054.7 768.9,1079.9 791.2,1107.4 813.4,1130 835.7,1148 857.9,1160.3" fill="none" stroke="#9f4800" stroke-width="1.0" stroke-dasharray="1.9 2.0"/>
<path d="M657.7 1020.2l1.38 2.42l-1.38 2.42l-1.38 -2.42zM680 1021.9l1.38 2.42l-1.38 2.42l-1.38 -2.42zM702.2 1027.1l1.38 2.42l-1.38 2.42l-1.38 -2.42zM724.5 1034.3l1.38 2.42l-1.38 2.42l-1.38 -2.42zM746.7 1052.3l1.38 2.42l-1.38 2.42l-1.38 -2.42zM768.9 1077.5l1.38 2.42l-1.38 2.42l-1.38 -2.42zM791.2 1104.9l1.38 2.42l-1.38 2.42l-1.38 -2.42zM813.4 1127.5l1.38 2.42l-1.38 2.42l-1.38 -2.42zM835.7 1145.6l1.38 2.42l-1.38 2.42l-1.38 -2.42zM857.9 1157.9l1.38 2.42l-1.38 2.42l-1.38 -2.42z" fill="#9f4800" stroke="#fff" stroke-width="0.5"/>
</g>
<g clip-path="url(#c3_2)">
<polyline points="638.1,1021.5 657.7,1022.1 680,1024.4 702.2,1029.5 724.5,1036.7 746.7,1054.7 768.9,1079.9 791.2,1107.4 813.4,1130 835.7,1148 857.9,1160.3" fill="none" stroke="#f14cc1" stroke-width="1.0" stroke-dasharray="1.9 2.0"/>
<path d="M657.7 1019.5l2.53 4.3h-5.06zM680 1021.8l2.53 4.3h-5.06zM702.2 1027l2.53 4.3h-5.06zM724.5 1034.1l2.53 4.3h-5.06zM746.7 1052.2l2.53 4.3h-5.06zM768.9 1077.3l2.53 4.3h-5.06zM791.2 1104.8l2.53 4.3h-5.06zM813.4 1127.4l2.53 4.3h-5.06zM835.7 1145.5l2.53 4.3h-5.06zM857.9 1157.8l2.53 4.3h-5.06z" fill="#f14cc1" stroke="#fff" stroke-width="0.5"/>
</g>
<g clip-path="url(#c3_2)">
<polyline points="638.1,1021.5 657.7,1024.4 680,1030.4 702.2,1039.2 724.5,1054.7 746.7,1074.7 768.9,1095.3 791.2,1115.4 813.4,1132.5 835.7,1147.4 857.9,1160.3" fill="none" stroke="#a3a3a3" stroke-width="1.0" stroke-dasharray="1.9 2.0"/>
<path d="M655.6 1023.4l1.26 -1.26 0.92 0.92 0.92 -0.92 1.26 1.26 -0.92 0.92 0.92 0.92 -1.26 1.26 -0.92 -0.92 -0.92 0.92 -1.26 -1.26 0.92 -0.92zM677.8 1029.5l1.26 -1.26 0.92 0.92 0.92 -0.92 1.26 1.26 -0.92 0.92 0.92 0.92 -1.26 1.26 -0.92 -0.92 -0.92 0.92 -1.26 -1.26 0.92 -0.92zM700 1038.3l1.26 -1.26 0.92 0.92 0.92 -0.92 1.26 1.26 -0.92 0.92 0.92 0.92 -1.26 1.26 -0.92 -0.92 -0.92 0.92 -1.26 -1.26 0.92 -0.92zM722.3 1053.8l1.26 -1.26 0.92 0.92 0.92 -0.92 1.26 1.26 -0.92 0.92 0.92 0.92 -1.26 1.26 -0.92 -0.92 -0.92 0.92 -1.26 -1.26 0.92 -0.92zM744.5 1073.8l1.26 -1.26 0.92 0.92 0.92 -0.92 1.26 1.26 -0.92 0.92 0.92 0.92 -1.26 1.26 -0.92 -0.92 -0.92 0.92 -1.26 -1.26 0.92 -0.92zM766.8 1094.4l1.26 -1.26 0.92 0.92 0.92 -0.92 1.26 1.26 -0.92 0.92 0.92 0.92 -1.26 1.26 -0.92 -0.92 -0.92 0.92 -1.26 -1.26 0.92 -0.92zM789 1114.4l1.26 -1.26 0.92 0.92 0.92 -0.92 1.26 1.26 -0.92 0.92 0.92 0.92 -1.26 1.26 -0.92 -0.92 -0.92 0.92 -1.26 -1.26 0.92 -0.92zM811.2 1131.6l1.26 -1.26 0.92 0.92 0.92 -0.92 1.26 1.26 -0.92 0.92 0.92 0.92 -1.26 1.26 -0.92 -0.92 -0.92 0.92 -1.26 -1.26 0.92 -0.92zM833.5 1146.5l1.26 -1.26 0.92 0.92 0.92 -0.92 1.26 1.26 -0.92 0.92 0.92 0.92 -1.26 1.26 -0.92 -0.92 -0.92 0.92 -1.26 -1.26 0.92 -0.92zM855.7 1159.4l1.26 -1.26 0.92 0.92 0.92 -0.92 1.26 1.26 -0.92 0.92 0.92 0.92 -1.26 1.26 -0.92 -0.92 -0.92 0.92 -1.26 -1.26 0.92 -0.92z" fill="#a3a3a3" stroke="#fff" stroke-width="0.5"/>
<path d="M724.5 1057.6V1051.8M746.7 1077.6V1071.9M768.9 1098.2V1092.5M791.2 1118.2V1112.5" stroke="#a3a3a3" stroke-width="1.6"/>
</g>
<g clip-path="url(#c3_2)">
<polyline points="638.1,1024.4 657.7,1026.1 680,1034.9 702.2,1054.7 724.5,1079 746.7,1101.6 768.9,1118.8 791.2,1131.7 813.4,1142.3 835.7,1152.6 857.9,1160.3" fill="none" stroke="#f4c31a" stroke-width="2.0" stroke-linejoin="round"/>
<path d="M657.7 1028.6l2.53 -4.3h-5.06zM680 1037.5l2.53 -4.3h-5.06zM702.2 1057.2l2.53 -4.3h-5.06zM724.5 1081.5l2.53 -4.3h-5.06zM746.7 1104.2l2.53 -4.3h-5.06zM768.9 1121.3l2.53 -4.3h-5.06zM791.2 1134.2l2.53 -4.3h-5.06zM813.4 1144.8l2.53 -4.3h-5.06zM835.7 1155.1l2.53 -4.3h-5.06zM857.9 1162.8l2.53 -4.3h-5.06z" fill="#f4c31a" stroke="#fff" stroke-width="0.5"/>
<path d="M680 1037.2V1032.7M702.2 1057.6V1051.8M724.5 1081.9V1076.2M746.7 1104.5V1098.8" stroke="#f4c31a" stroke-width="1.6"/>
</g>
<g clip-path="url(#c3_2)">
<polyline points="638.1,1130.8 657.7,1194.1 680,1190.6 702.2,1184.6 724.5,1178.6 746.7,1174.6 768.9,1172 791.2,1170.6 813.4,1170.3 835.7,1168.9 857.9,1165.4" fill="none" stroke="#1ec8e2" stroke-width="2.0" stroke-linejoin="round"/>
<path d="M655.6 1193.1l1.26 -1.26 0.92 0.92 0.92 -0.92 1.26 1.26 -0.92 0.92 0.92 0.92 -1.26 1.26 -0.92 -0.92 -0.92 0.92 -1.26 -1.26 0.92 -0.92zM677.8 1189.7l1.26 -1.26 0.92 0.92 0.92 -0.92 1.26 1.26 -0.92 0.92 0.92 0.92 -1.26 1.26 -0.92 -0.92 -0.92 0.92 -1.26 -1.26 0.92 -0.92zM700 1183.7l1.26 -1.26 0.92 0.92 0.92 -0.92 1.26 1.26 -0.92 0.92 0.92 0.92 -1.26 1.26 -0.92 -0.92 -0.92 0.92 -1.26 -1.26 0.92 -0.92zM722.3 1177.7l1.26 -1.26 0.92 0.92 0.92 -0.92 1.26 1.26 -0.92 0.92 0.92 0.92 -1.26 1.26 -0.92 -0.92 -0.92 0.92 -1.26 -1.26 0.92 -0.92zM744.5 1173.7l1.26 -1.26 0.92 0.92 0.92 -0.92 1.26 1.26 -0.92 0.92 0.92 0.92 -1.26 1.26 -0.92 -0.92 -0.92 0.92 -1.26 -1.26 0.92 -0.92zM766.8 1171.1l1.26 -1.26 0.92 0.92 0.92 -0.92 1.26 1.26 -0.92 0.92 0.92 0.92 -1.26 1.26 -0.92 -0.92 -0.92 0.92 -1.26 -1.26 0.92 -0.92zM789 1169.7l1.26 -1.26 0.92 0.92 0.92 -0.92 1.26 1.26 -0.92 0.92 0.92 0.92 -1.26 1.26 -0.92 -0.92 -0.92 0.92 -1.26 -1.26 0.92 -0.92zM811.2 1169.4l1.26 -1.26 0.92 0.92 0.92 -0.92 1.26 1.26 -0.92 0.92 0.92 0.92 -1.26 1.26 -0.92 -0.92 -0.92 0.92 -1.26 -1.26 0.92 -0.92zM833.5 1168l1.26 -1.26 0.92 0.92 0.92 -0.92 1.26 1.26 -0.92 0.92 0.92 0.92 -1.26 1.26 -0.92 -0.92 -0.92 0.92 -1.26 -1.26 0.92 -0.92zM855.7 1164.5l1.26 -1.26 0.92 0.92 0.92 -0.92 1.26 1.26 -0.92 0.92 0.92 0.92 -1.26 1.26 -0.92 -0.92 -0.92 0.92 -1.26 -1.26 0.92 -0.92z" fill="#1ec8e2" stroke="#fff" stroke-width="0.5"/>
<path d="M657.7 1196.9V1191.2" stroke="#1ec8e2" stroke-width="1.6"/>
</g>
<g clip-path="url(#c3_2)">
<polyline points="638.1,1021.5 702.2,1029.5 724.5,1036.7 746.7,1054.7 768.9,1079.9 791.2,1107.4 813.4,1130 835.7,1148 857.9,1160.3" fill="none" stroke="#1a3ad6" stroke-width="2.0" stroke-linejoin="round"/>
<path d="M699.9 1029.5a2.3 2.3 0 1 0 4.6 0a2.3 2.3 0 1 0 -4.6 0zM722.2 1036.7a2.3 2.3 0 1 0 4.6 0a2.3 2.3 0 1 0 -4.6 0zM744.4 1054.7a2.3 2.3 0 1 0 4.6 0a2.3 2.3 0 1 0 -4.6 0zM766.6 1079.9a2.3 2.3 0 1 0 4.6 0a2.3 2.3 0 1 0 -4.6 0zM788.9 1107.4a2.3 2.3 0 1 0 4.6 0a2.3 2.3 0 1 0 -4.6 0zM811.1 1130a2.3 2.3 0 1 0 4.6 0a2.3 2.3 0 1 0 -4.6 0zM833.4 1148a2.3 2.3 0 1 0 4.6 0a2.3 2.3 0 1 0 -4.6 0zM855.6 1160.3a2.3 2.3 0 1 0 4.6 0a2.3 2.3 0 1 0 -4.6 0z" fill="#1a3ad6" stroke="#fff" stroke-width="0.5"/>
</g>
<rect x="932.2" y="1012.9" width="219.8" height="199.1" fill="#eaeaf2"/>
<clipPath id="c3_3"><rect x="932.2" y="1012.9" width="219.8" height="199.1"/></clipPath>
<path d="M974.1 1012.9V1211.9M1018.6 1012.9V1211.9M1063 1012.9V1211.9M1107.5 1012.9V1211.9M1152 1012.9V1211.9M932.2 1202.7H1152M932.2 1166.5H1152M932.2 1130.2H1152M932.2 1094H1152M932.2 1057.7H1152M932.2 1021.5H1152" stroke="#fff" stroke-width="1.1" fill="none"/>
<text x="974.1" y="1231.9" font-size="14.31" text-anchor="middle" textLength="20.3" lengthAdjust="spacingAndGlyphs" fill="#262626" >0.2</text>
<text x="1018.6" y="1231.9" font-size="14.31" text-anchor="middle" textLength="20.3" lengthAdjust="spacingAndGlyphs" fill="#262626" >0.4</text>
<text x="1063" y="1231.9" font-size="14.31" text-anchor="middle" textLength="20.3" lengthAdjust="spacingAndGlyphs" fill="#262626" >0.6</text>
<text x="1107.5" y="1231.9" font-size="14.31" text-anchor="middle" textLength="20.3" lengthAdjust="spacingAndGlyphs" fill="#262626" >0.8</text>
<text x="1152" y="1231.9" font-size="14.31" text-anchor="middle" textLength="20.3" lengthAdjust="spacingAndGlyphs" fill="#262626" >1.0</text>
<text x="922.2" y="1208.1" font-size="14.31" text-anchor="end" textLength="20.3" lengthAdjust="spacingAndGlyphs" fill="#262626" >0.0</text>
<text x="922.2" y="1171.9" font-size="14.31" text-anchor="end" textLength="20.3" lengthAdjust="spacingAndGlyphs" fill="#262626" >0.2</text>
<text x="922.2" y="1135.6" font-size="14.31" text-anchor="end" textLength="20.3" lengthAdjust="spacingAndGlyphs" fill="#262626" >0.4</text>
<text x="922.2" y="1099.4" font-size="14.31" text-anchor="end" textLength="20.3" lengthAdjust="spacingAndGlyphs" fill="#262626" >0.6</text>
<text x="922.2" y="1063.2" font-size="14.31" text-anchor="end" textLength="20.3" lengthAdjust="spacingAndGlyphs" fill="#262626" >0.8</text>
<text x="922.2" y="1026.9" font-size="14.31" text-anchor="end" textLength="20.3" lengthAdjust="spacingAndGlyphs" fill="#262626" >1.0</text>
<text x="1042.1" y="1249.9" font-size="15.48" text-anchor="middle" textLength="139.0" lengthAdjust="spacingAndGlyphs" fill="#262626" >Samples abstained</text>
<g transform="translate(895 1112.4) rotate(-90)"><text x="0" y="0" font-size="15.48" text-anchor="middle" textLength="78.6" lengthAdjust="spacingAndGlyphs" fill="#262626" >OOD recall</text></g>
<g clip-path="url(#c3_3)">
<polyline points="932.2,1195.5 951.8,1182.8 974.1,1166.5 996.3,1146.5 1018.6,1128.4 1040.8,1108.5 1063,1088.5 1085.3,1068.6 1107.5,1050.5 1129.8,1036 1152,1021.5" fill="none" stroke="#023eff" stroke-width="1.0" stroke-dasharray="1.9 2.0"/>
<path d="M949.5 1182.8a2.3 2.3 0 1 0 4.6 0a2.3 2.3 0 1 0 -4.6 0zM971.8 1166.5a2.3 2.3 0 1 0 4.6 0a2.3 2.3 0 1 0 -4.6 0zM994 1146.5a2.3 2.3 0 1 0 4.6 0a2.3 2.3 0 1 0 -4.6 0zM1016.3 1128.4a2.3 2.3 0 1 0 4.6 0a2.3 2.3 0 1 0 -4.6 0zM1038.5 1108.5a2.3 2.3 0 1 0 4.6 0a2.3 2.3 0 1 0 -4.6 0zM1060.7 1088.5a2.3 2.3 0 1 0 4.6 0a2.3 2.3 0 1 0 -4.6 0zM1083 1068.6a2.3 2.3 0 1 0 4.6 0a2.3 2.3 0 1 0 -4.6 0zM1105.2 1050.5a2.3 2.3 0 1 0 4.6 0a2.3 2.3 0 1 0 -4.6 0zM1127.5 1036a2.3 2.3 0 1 0 4.6 0a2.3 2.3 0 1 0 -4.6 0zM1149.7 1021.5a2.3 2.3 0 1 0 4.6 0a2.3 2.3 0 1 0 -4.6 0z" fill="#023eff" stroke="#fff" stroke-width="0.5"/>
</g>
<g clip-path="url(#c3_3)">
<polyline points="932.2,1195.5 951.8,1182.8 974.1,1164.6 996.3,1144.7 1018.6,1124.8 1040.8,1105.8 1063,1085.8 1085.3,1065.9 1107.5,1047.8 1129.8,1034.2 1152,1021.5" fill="none" stroke="#ff7c00" stroke-width="1.0" stroke-dasharray="1.9 2.0"/>
<path d="M949.7 1181.8l1.26 -1.26 0.92 0.92 0.92 -0.92 1.26 1.26 -0.92 0.92 0.92 0.92 -1.26 1.26 -0.92 -0.92 -0.92 0.92 -1.26 -1.26 0.92 -0.92zM971.9 1163.7l1.26 -1.26 0.92 0.92 0.92 -0.92 1.26 1.26 -0.92 0.92 0.92 0.92 -1.26 1.26 -0.92 -0.92 -0.92 0.92 -1.26 -1.26 0.92 -0.92zM994.1 1143.8l1.26 -1.26 0.92 0.92 0.92 -0.92 1.26 1.26 -0.92 0.92 0.92 0.92 -1.26 1.26 -0.92 -0.92 -0.92 0.92 -1.26 -1.26 0.92 -0.92zM1016.4 1123.9l1.26 -1.26 0.92 0.92 0.92 -0.92 1.26 1.26 -0.92 0.92 0.92 0.92 -1.26 1.26 -0.92 -0.92 -0.92 0.92 -1.26 -1.26 0.92 -0.92zM1038.6 1104.8l1.26 -1.26 0.92 0.92 0.92 -0.92 1.26 1.26 -0.92 0.92 0.92 0.92 -1.26 1.26 -0.92 -0.92 -0.92 0.92 -1.26 -1.26 0.92 -0.92zM1060.9 1084.9l1.26 -1.26 0.92 0.92 0.92 -0.92 1.26 1.26 -0.92 0.92 0.92 0.92 -1.26 1.26 -0.92 -0.92 -0.92 0.92 -1.26 -1.26 0.92 -0.92zM1083.1 1065l1.26 -1.26 0.92 0.92 0.92 -0.92 1.26 1.26 -0.92 0.92 0.92 0.92 -1.26 1.26 -0.92 -0.92 -0.92 0.92 -1.26 -1.26 0.92 -0.92zM1105.3 1046.9l1.26 -1.26 0.92 0.92 0.92 -0.92 1.26 1.26 -0.92 0.92 0.92 0.92 -1.26 1.26 -0.92 -0.92 -0.92 0.92 -1.26 -1.26 0.92 -0.92zM1127.6 1033.3l1.26 -1.26 0.92 0.92 0.92 -0.92 1.26 1.26 -0.92 0.92 0.92 0.92 -1.26 1.26 -0.92 -0.92 -0.92 0.92 -1.26 -1.26 0.92 -0.92zM1149.8 1020.6l1.26 -1.26 0.92 0.92 0.92 -0.92 1.26 1.26 -0.92 0.92 0.92 0.92 -1.26 1.26 -0.92 -0.92 -0.92 0.92 -1.26 -1.26 0.92 -0.92z" fill="#ff7c00" stroke="#fff" stroke-width="0.5"/>
</g>
<g clip-path="url(#c3_3)">
<polyline points="932.2,1195.5 951.8,1182.8 974.1,1162.8 996.3,1142.9 1018.6,1123.2 1040.8,1104.1 1063,1084.2 1085.3,1064.3 1107.5,1046.1 1129.8,1034 1152,1021.5" fill="none" stroke="#1ac938" stroke-width="1.0" stroke-dasharray="1.9 2.0"/>
<path d="M949.9 1180.8h3.91v3.91h-3.91zM972.1 1160.9h3.91v3.91h-3.91zM994.4 1140.9h3.91v3.91h-3.91zM1016.6 1121.2h3.91v3.91h-3.91zM1038.8 1102.2h3.91v3.91h-3.91zM1061.1 1082.2h3.91v3.91h-3.91zM1083.3 1062.3h3.91v3.91h-3.91zM1105.6 1044.2h3.91v3.91h-3.91zM1127.8 1032h3.91v3.91h-3.91zM1150 1019.5h3.91v3.91h-3.91z" fill="#1ac938" stroke="#fff" stroke-width="0.5"/>
<path d="M996.3 1145.6V1140.2M1018.6 1125.9V1120.4" stroke="#1ac938" stroke-width="1.6"/>
</g>
<g clip-path="url(#c3_3)">
<polyline points="932.2,1195.5 951.8,1170.6 974.1,1149.1 996.3,1131.3 1018.6,1115.4 1040.8,1098.9 1063,1083.3 1085.3,1065.9 1107.5,1050.5 1129.8,1035.6 1152,1023.3" fill="none" stroke="#e8000b" stroke-width="1.0" stroke-dasharray="1.9 2.0"/>
<path d="M951 1168.3h1.75v1.43h1.43v1.75h-1.43v1.43h-1.75v-1.43h-1.43v-1.75h1.43zM973.2 1146.8h1.75v1.43h1.43v1.75h-1.43v1.43h-1.75v-1.43h-1.43v-1.75h1.43zM995.4 1129h1.75v1.43h1.43v1.75h-1.43v1.43h-1.75v-1.43h-1.43v-1.75h1.43zM1017.7 1113.1h1.75v1.43h1.43v1.75h-1.43v1.43h-1.75v-1.43h-1.43v-1.75h1.43zM1039.9 1096.6h1.75v1.43h1.43v1.75h-1.43v1.43h-1.75v-1.43h-1.43v-1.75h1.43zM1062.2 1081h1.75v1.43h1.43v1.75h-1.43v1.43h-1.75v-1.43h-1.43v-1.75h1.43zM1084.4 1063.6h1.75v1.43h1.43v1.75h-1.43v1.43h-1.75v-1.43h-1.43v-1.75h1.43zM1106.6 1048.2h1.75v1.43h1.43v1.75h-1.43v1.43h-1.75v-1.43h-1.43v-1.75h1.43zM1128.9 1033.3h1.75v1.43h1.43v1.75h-1.43v1.43h-1.75v-1.43h-1.43v-1.75h1.43zM1151.1 1021h1.75v1.43h1.43v1.75h-1.43v1.43h-1.75v-1.43h-1.43v-1.75h1.43z" fill="#e8000b" stroke="#fff" stroke-width="0.5"/>
</g>
<g clip-path="url(#c3_3)">
<polyline points="932.2,1195.5 951.8,1184.6 974.1,1168.1 996.3,1149.1 1018.6,1130 1040.8,1109.2 1063,1090.2 1085.3,1072.1 1107.5,1053.9 1129.8,1036.5 1152,1021.5" fill="none" stroke="#8b2be2" stroke-width="1.0" stroke-dasharray="1.9 2.0"/>
<path d="M951.8 1182.2l2.42 2.42l-2.42 2.42l-2.42 -2.42zM974.1 1165.7l2.42 2.42l-2.42 2.42l-2.42 -2.42zM996.3 1146.6l2.42 2.42l-2.42 2.42l-2.42 -2.42zM1018.6 1127.6l2.42 2.42l-2.42 2.42l-2.42 -2.42zM1040.8 1106.8l2.42 2.42l-2.42 2.42l-2.42 -2.42zM1063 1087.8l2.42 2.42l-2.42 2.42l-2.42 -2.42zM1085.3 1069.6l2.42 2.42l-2.42 2.42l-2.42 -2.42zM1107.5 1051.5l2.42 2.42l-2.42 2.42l-2.42 -2.42zM1129.8 1034.1l2.42 2.42l-2.42 2.42l-2.42 -2.42zM1152 1019.1l2.42 2.42l-2.42 2.42l-2.42 -2.42z" fill="#8b2be2" stroke="#fff" stroke-width="0.5"/>
<path d="M996.3 1151.8V1146.3M1018.6 1132.8V1127.3" stroke="#8b2be2" stroke-width="1.6"/>
</g>
<g clip-path="url(#c3_3)">
<polyline points="932.2,1195.5 951.8,1182.8 974.1,1166.5 996.3,1146.5 1018.6,1126.6 1040.8,1106.7 1063,1086.7 1085.3,1066.8 1107.5,1048.7 1129.8,1034.2 1152,1021.5" fill="none" stroke="#9f4800" stroke-width="1.0" stroke-dasharray="1.9 2.0"/>
<path d="M951.8 1180.4l1.38 2.42l-1.38 2.42l-1.38 -2.42zM974.1 1164l1.38 2.42l-1.38 2.42l-1.38 -2.42zM996.3 1144.1l1.38 2.42l-1.38 2.42l-1.38 -2.42zM1018.6 1124.2l1.38 2.42l-1.38 2.42l-1.38 -2.42zM1040.8 1104.2l1.38 2.42l-1.38 2.42l-1.38 -2.42zM1063 1084.3l1.38 2.42l-1.38 2.42l-1.38 -2.42zM1085.3 1064.4l1.38 2.42l-1.38 2.42l-1.38 -2.42zM1107.5 1046.3l1.38 2.42l-1.38 2.42l-1.38 -2.42zM1129.8 1031.8l1.38 2.42l-1.38 2.42l-1.38 -2.42zM1152 1019.1l1.38 2.42l-1.38 2.42l-1.38 -2.42z" fill="#9f4800" stroke="#fff" stroke-width="0.5"/>
</g>
<g clip-path="url(#c3_3)">
<polyline points="932.2,1193.6 951.8,1162.8 974.1,1126.6 996.3,1096.3 1018.6,1068.6 1040.8,1050.5 1063,1039.6 1085.3,1030.6 1107.5,1025.1 1129.8,1023.3 1152,1021.5" fill="none" stroke="#f14cc1" stroke-width="1.0" stroke-dasharray="1.9 2.0"/>
<path d="M951.8 1160.3l2.53 4.3h-5.06zM974.1 1124.1l2.53 4.3h-5.06zM996.3 1093.8l2.53 4.3h-5.06zM1018.6 1066.1l2.53 4.3h-5.06zM1040.8 1048l2.53 4.3h-5.06zM1063 1037.1l2.53 4.3h-5.06zM1085.3 1028l2.53 4.3h-5.06zM1107.5 1022.6l2.53 4.3h-5.06zM1129.8 1020.8l2.53 4.3h-5.06zM1152 1019l2.53 4.3h-5.06z" fill="#f14cc1" stroke="#fff" stroke-width="0.5"/>
<path d="M996.3 1100V1092.7" stroke="#f14cc1" stroke-width="1.6"/>
</g>
<g clip-path="url(#c3_3)">
<polyline points="932.2,1193.6 951.8,1162.8 974.1,1126.6 996.3,1101.4 1018.6,1073.7 1040.8,1053.9 1063,1041.8 1085.3,1032.2 1107.5,1026.2 1129.8,1023.3 1152,1021.5" fill="none" stroke="#a3a3a3" stroke-width="1.0" stroke-dasharray="1.9 2.0"/>
<path d="M949.7 1161.9l1.26 -1.26 0.92 0.92 0.92 -0.92 1.26 1.26 -0.92 0.92 0.92 0.92 -1.26 1.26 -0.92 -0.92 -0.92 0.92 -1.26 -1.26 0.92 -0.92zM971.9 1125.7l1.26 -1.26 0.92 0.92 0.92 -0.92 1.26 1.26 -0.92 0.92 0.92 0.92 -1.26 1.26 -0.92 -0.92 -0.92 0.92 -1.26 -1.26 0.92 -0.92zM994.1 1100.5l1.26 -1.26 0.92 0.92 0.92 -0.92 1.26 1.26 -0.92 0.92 0.92 0.92 -1.26 1.26 -0.92 -0.92 -0.92 0.92 -1.26 -1.26 0.92 -0.92zM1016.4 1072.8l1.26 -1.26 0.92 0.92 0.92 -0.92 1.26 1.26 -0.92 0.92 0.92 0.92 -1.26 1.26 -0.92 -0.92 -0.92 0.92 -1.26 -1.26 0.92 -0.92zM1038.6 1053l1.26 -1.26 0.92 0.92 0.92 -0.92 1.26 1.26 -0.92 0.92 0.92 0.92 -1.26 1.26 -0.92 -0.92 -0.92 0.92 -1.26 -1.26 0.92 -0.92zM1060.9 1040.9l1.26 -1.26 0.92 0.92 0.92 -0.92 1.26 1.26 -0.92 0.92 0.92 0.92 -1.26 1.26 -0.92 -0.92 -0.92 0.92 -1.26 -1.26 0.92 -0.92zM1083.1 1031.3l1.26 -1.26 0.92 0.92 0.92 -0.92 1.26 1.26 -0.92 0.92 0.92 0.92 -1.26 1.26 -0.92 -0.92 -0.92 0.92 -1.26 -1.26 0.92 -0.92zM1105.3 1025.3l1.26 -1.26 0.92 0.92 0.92 -0.92 1.26 1.26 -0.92 0.92 0.92 0.92 -1.26 1.26 -0.92 -0.92 -0.92 0.92 -1.26 -1.26 0.92 -0.92zM1127.6 1022.4l1.26 -1.26 0.92 0.92 0.92 -0.92 1.26 1.26 -0.92 0.92 0.92 0.92 -1.26 1.26 -0.92 -0.92 -0.92 0.92 -1.26 -1.26 0.92 -0.92zM1149.8 1020.6l1.26 -1.26 0.92 0.92 0.92 -0.92 1.26 1.26 -0.92 0.92 0.92 0.92 -1.26 1.26 -0.92 -0.92 -0.92 0.92 -1.26 -1.26 0.92 -0.92z" fill="#a3a3a3" stroke="#fff" stroke-width="0.5"/>
<path d="M996.3 1104.1V1098.7M1018.6 1076.4V1071M1040.8 1055.7V1052.1" stroke="#a3a3a3" stroke-width="1.6"/>
</g>
<g clip-path="url(#c3_3)">
<polyline points="932.2,1189.7 951.8,1168.1 974.1,1134.4 996.3,1106.7 1018.6,1088.5 1040.8,1073 1063,1059.9 1085.3,1048.7 1107.5,1036.5 1129.8,1027.8 1152,1022.8" fill="none" stroke="#f4c31a" stroke-width="2.0" stroke-linejoin="round"/>
<path d="M951.8 1170.6l2.53 -4.3h-5.06zM974.1 1136.9l2.53 -4.3h-5.06zM996.3 1109.2l2.53 -4.3h-5.06zM1018.6 1091.1l2.53 -4.3h-5.06zM1040.8 1075.5l2.53 -4.3h-5.06zM1063 1062.4l2.53 -4.3h-5.06zM1085.3 1051.2l2.53 -4.3h-5.06zM1107.5 1039.1l2.53 -4.3h-5.06zM1129.8 1030.4l2.53 -4.3h-5.06zM1152 1025.3l2.53 -4.3h-5.06z" fill="#f4c31a" stroke="#fff" stroke-width="0.5"/>
</g>
<g clip-path="url(#c3_3)">
<polyline points="932.2,1196.7 951.8,1188 974.1,1173.3 996.3,1156.5 1018.6,1138.2 1040.8,1120.4 1063,1101.4 1085.3,1083.3 1107.5,1064.3 1129.8,1046.1 1152,1027.8" fill="none" stroke="#1ec8e2" stroke-width="2.0" stroke-linejoin="round"/>
<path d="M949.7 1187.1l1.26 -1.26 0.92 0.92 0.92 -0.92 1.26 1.26 -0.92 0.92 0.92 0.92 -1.26 1.26 -0.92 -0.92 -0.92 0.92 -1.26 -1.26 0.92 -0.92zM971.9 1172.4l1.26 -1.26 0.92 0.92 0.92 -0.92 1.26 1.26 -0.92 0.92 0.92 0.92 -1.26 1.26 -0.92 -0.92 -0.92 0.92 -1.26 -1.26 0.92 -0.92zM994.1 1155.6l1.26 -1.26 0.92 0.92 0.92 -0.92 1.26 1.26 -0.92 0.92 0.92 0.92 -1.26 1.26 -0.92 -0.92 -0.92 0.92 -1.26 -1.26 0.92 -0.92zM1016.4 1137.3l1.26 -1.26 0.92 0.92 0.92 -0.92 1.26 1.26 -0.92 0.92 0.92 0.92 -1.26 1.26 -0.92 -0.92 -0.92 0.92 -1.26 -1.26 0.92 -0.92zM1038.6 1119.5l1.26 -1.26 0.92 0.92 0.92 -0.92 1.26 1.26 -0.92 0.92 0.92 0.92 -1.26 1.26 -0.92 -0.92 -0.92 0.92 -1.26 -1.26 0.92 -0.92zM1060.9 1100.5l1.26 -1.26 0.92 0.92 0.92 -0.92 1.26 1.26 -0.92 0.92 0.92 0.92 -1.26 1.26 -0.92 -0.92 -0.92 0.92 -1.26 -1.26 0.92 -0.92zM1083.1 1082.4l1.26 -1.26 0.92 0.92 0.92 -0.92 1.26 1.26 -0.92 0.92 0.92 0.92 -1.26 1.26 -0.92 -0.92 -0.92 0.92 -1.26 -1.26 0.92 -0.92zM1105.3 1063.3l1.26 -1.26 0.92 0.92 0.92 -0.92 1.26 1.26 -0.92 0.92 0.92 0.92 -1.26 1.26 -0.92 -0.92 -0.92 0.92 -1.26 -1.26 0.92 -0.92zM1127.6 1045.2l1.26 -1.26 0.92 0.92 0.92 -0.92 1.26 1.26 -0.92 0.92 0.92 0.92 -1.26 1.26 -0.92 -0.92 -0.92 0.92 -1.26 -1.26 0.92 -0.92zM1149.8 1026.9l1.26 -1.26 0.92 0.92 0.92 -0.92 1.26 1.26 -0.92 0.92 0.92 0.92 -1.26 1.26 -0.92 -0.92 -0.92 0.92 -1.26 -1.26 0.92 -0.92z" fill="#1ec8e2" stroke="#fff" stroke-width="0.5"/>
</g>
<g clip-path="url(#c3_3)">
<polyline points="932.2,1195.8 996.3,1085.8 1018.6,1065.9 1040.8,1043.4 1063,1030.6 1085.3,1025.3 1107.5,1022.8 1129.8,1021.9 1152,1021.5" fill="none" stroke="#1a3ad6" stroke-width="2.0" stroke-linejoin="round"/>
<path d="M994 1085.8a2.3 2.3 0 1 0 4.6 0a2.3 2.3 0 1 0 -4.6 0zM1016.3 1065.9a2.3 2.3 0 1 0 4.6 0a2.3 2.3 0 1 0 -4.6 0zM1038.5 1043.4a2.3 2.3 0 1 0 4.6 0a2.3 2.3 0 1 0 -4.6 0zM1060.7 1030.6a2.3 2.3 0 1 0 4.6 0a2.3 2.3 0 1 0 -4.6 0zM1083 1025.3a2.3 2.3 0 1 0 4.6 0a2.3 2.3 0 1 0 -4.6 0zM1105.2 1022.8a2.3 2.3 0 1 0 4.6 0a2.3 2.3 0 1 0 -4.6 0zM1127.5 1021.9a2.3 2.3 0 1 0 4.6 0a2.3 2.3 0 1 0 -4.6 0zM1149.7 1021.5a2.3 2.3 0 1 0 4.6 0a2.3 2.3 0 1 0 -4.6 0z" fill="#1a3ad6" stroke="#fff" stroke-width="0.5"/>
</g>
<rect x="1163.8" y="1012.9" width="154.7" height="219" rx="2" fill="#fff" stroke="#cccccc" stroke-width="1"/>
<path d="M1168.8 1023.6H1193.9" stroke="#023eff" stroke-width="1.0" stroke-dasharray="1.9 2.0"/>
<path d="M1178.2 1023.6a3.6 3.6 0 1 0 7.2 0a3.6 3.6 0 1 0 -7.2 0z" fill="#023eff" stroke="#fff" stroke-width="0.5"/>
<text x="1207.6" y="1028.4" font-size="14.10" text-anchor="start" textLength="27.9" lengthAdjust="spacingAndGlyphs" fill="#262626" >MSP</text>
<path d="M1168.8 1043.2H1193.9" stroke="#ff7c00" stroke-width="1.0" stroke-dasharray="1.9 2.0"/>
<path d="M1178.4 1041.8l1.98 -1.98 1.44 1.44 1.44 -1.44 1.98 1.98 -1.44 1.44 1.44 1.44 -1.98 1.98 -1.44 -1.44 -1.44 1.44 -1.98 -1.98 1.44 -1.44z" fill="#ff7c00" stroke="#fff" stroke-width="0.5"/>
<text x="1207.6" y="1048.1" font-size="14.10" text-anchor="start" textLength="60.2" lengthAdjust="spacingAndGlyphs" fill="#262626" >MaxLogit</text>
<path d="M1168.8 1063H1193.9" stroke="#1ac938" stroke-width="1.0" stroke-dasharray="1.9 2.0"/>
<path d="M1178.8 1059.9h6.12v6.12h-6.12z" fill="#1ac938" stroke="#fff" stroke-width="0.5"/>
<text x="1207.6" y="1067.8" font-size="14.10" text-anchor="start" textLength="46.6" lengthAdjust="spacingAndGlyphs" fill="#262626" >Energy</text>
<path d="M1168.8 1082.7H1193.9" stroke="#e8000b" stroke-width="1.0" stroke-dasharray="1.9 2.0"/>
<path d="M1180.5 1079.1h2.74v2.23h2.23v2.74h-2.23v2.23h-2.74v-2.23h-2.23v-2.74h2.23z" fill="#e8000b" stroke="#fff" stroke-width="0.5"/>
<text x="1207.6" y="1087.5" font-size="14.10" text-anchor="start" textLength="39.6" lengthAdjust="spacingAndGlyphs" fill="#262626" >SIRC [</text>
<text x="1247.2" y="1087.5" font-size="14.10" text-anchor="start" textLength="7.4" lengthAdjust="spacingAndGlyphs" fill="#262626" font-style="italic">L</text>
<text x="1254.7" y="1090" font-size="9.87" text-anchor="start" textLength="5.9" lengthAdjust="spacingAndGlyphs" fill="#262626" >1</text>
<text x="1261.1" y="1087.5" font-size="14.10" text-anchor="start" textLength="5.2" lengthAdjust="spacingAndGlyphs" fill="#262626" >]</text>
<path d="M1168.8 1102.4H1193.9" stroke="#8b2be2" stroke-width="1.0" stroke-dasharray="1.9 2.0"/>
<path d="M1181.8 1098.6l3.78 3.78l-3.78 3.78l-3.78 -3.78z" fill="#8b2be2" stroke="#fff" stroke-width="0.5"/>
<text x="1207.6" y="1107.2" font-size="14.10" text-anchor="start" textLength="68.6" lengthAdjust="spacingAndGlyphs" fill="#262626" >SIRC [Res]</text>
<path d="M1168.8 1122.1H1193.9" stroke="#9f4800" stroke-width="1.0" stroke-dasharray="1.9 2.0"/>
<path d="M1181.8 1118.3l2.16 3.78l-2.16 3.78l-2.16 -3.78z" fill="#9f4800" stroke="#fff" stroke-width="0.5"/>
<text x="1207.6" y="1126.9" font-size="14.10" text-anchor="start" textLength="33.6" lengthAdjust="spacingAndGlyphs" fill="#262626" >CCE*</text>
<path d="M1168.8 1141.8H1193.9" stroke="#f14cc1" stroke-width="1.0" stroke-dasharray="1.9 2.0"/>
<path d="M1181.8 1137.8l3.96 6.73h-7.92z" fill="#f14cc1" stroke="#fff" stroke-width="0.5"/>
<text x="1207.6" y="1146.6" font-size="14.10" text-anchor="start" textLength="34.6" lengthAdjust="spacingAndGlyphs" fill="#262626" >DCE*</text>
<path d="M1168.8 1161.5H1193.9" stroke="#a3a3a3" stroke-width="1.0" stroke-dasharray="1.9 2.0"/>
<path d="M1178.4 1160l1.98 -1.98 1.44 1.44 1.44 -1.44 1.98 1.98 -1.44 1.44 1.44 1.44 -1.98 1.98 -1.44 -1.44 -1.44 1.44 -1.98 -1.98 1.44 -1.44z" fill="#a3a3a3" stroke="#fff" stroke-width="0.5"/>
<text x="1207.6" y="1166.3" font-size="14.10" text-anchor="start" textLength="25.5" lengthAdjust="spacingAndGlyphs" fill="#262626" >OE*</text>
<path d="M1168.8 1181.2H1193.9" stroke="#f4c31a" stroke-width="2.6"/>
<path d="M1181.8 1185.1l3.96 -6.73h-7.92z" fill="#f4c31a" stroke="#fff" stroke-width="0.5"/>
<text x="1207.6" y="1186" font-size="14.10" text-anchor="start" textLength="77.4" lengthAdjust="spacingAndGlyphs" fill="#262626" >Plug-in BB [</text>
<text x="1285" y="1186" font-size="14.10" text-anchor="start" textLength="7.4" lengthAdjust="spacingAndGlyphs" fill="#262626" font-style="italic">L</text>
<text x="1292.4" y="1188.5" font-size="9.87" text-anchor="start" textLength="5.9" lengthAdjust="spacingAndGlyphs" fill="#262626" >1</text>
<text x="1298.8" y="1186" font-size="14.10" text-anchor="start" textLength="5.2" lengthAdjust="spacingAndGlyphs" fill="#262626" >]</text>
<path d="M1168.8 1200.9H1193.9" stroke="#1ec8e2" stroke-width="2.6"/>
<path d="M1178.4 1199.4l1.98 -1.98 1.44 1.44 1.44 -1.44 1.98 1.98 -1.44 1.44 1.44 1.44 -1.98 1.98 -1.44 -1.44 -1.44 1.44 -1.98 -1.98 1.44 -1.44z" fill="#1ec8e2" stroke="#fff" stroke-width="0.5"/>
<text x="1207.6" y="1205.7" font-size="14.10" text-anchor="start" textLength="106.3" lengthAdjust="spacingAndGlyphs" fill="#262626" >Plug-in BB [Res]</text>
<path d="M1168.8 1220.6H1193.9" stroke="#1a3ad6" stroke-width="2.6"/>
<path d="M1178.2 1220.6a3.6 3.6 0 1 0 7.2 0a3.6 3.6 0 1 0 -7.2 0z" fill="#1a3ad6" stroke="#fff" stroke-width="0.5"/>
<text x="1207.6" y="1225.4" font-size="14.10" text-anchor="start" textLength="72.9" lengthAdjust="spacingAndGlyphs" fill="#262626" >Plug-in LB*</text>
<text x="427.4" y="1313.5" font-family="Liberation Serif, serif" font-size="33.0" textLength="32.5" lengthAdjust="spacingAndGlyphs" fill="#000">(d)</text><path d="M474.9 1292.5H486.9C495.5 1292.5 495.5 1301.3 486.9 1301.3H482.1M478.1 1292.5V1312.8M482.1 1292.5V1312.8M474.9 1312.8H485.5" stroke="#000" stroke-width="1.25" fill="none"/><path d="M488.2 1293.0C492.1 1294.3 492.1 1299.5 488.2 1300.8" stroke="#000" stroke-width="0.9" fill="none"/><text x="494.4" y="1316.0" font-family="Liberation Serif, serif" font-size="22.0" textLength="19.5" lengthAdjust="spacingAndGlyphs" fill="#000">in</text><text x="516.9" y="1313.5" font-family="Liberation Serif, serif" font-size="33.0" textLength="6.5" lengthAdjust="spacingAndGlyphs" fill="#000">:</text><text x="536.4" y="1313.5" font-family="Liberation Serif, serif" font-size="33.0" textLength="153.1" lengthAdjust="spacingAndGlyphs" fill="#000">CIFAR-100;</text><path d="M722.1 1292.5H734.1C742.7 1292.5 742.7 1301.3 734.1 1301.3H729.3M725.3 1292.5V1312.8M729.3 1292.5V1312.8M722.1 1312.8H732.7" stroke="#000" stroke-width="1.25" fill="none"/><path d="M735.4 1293.0C739.3 1294.3 739.3 1299.5 735.4 1300.8" stroke="#000" stroke-width="0.9" fill="none"/><text x="740.6" y="1316.0" font-family="Liberation Serif, serif" font-size="22.0" textLength="35.0" lengthAdjust="spacingAndGlyphs" fill="#000">out</text><text x="779.9" y="1313.5" font-family="Liberation Serif, serif" font-size="33.0" textLength="6.5" lengthAdjust="spacingAndGlyphs" fill="#000">:</text><text x="798.9" y="1313.5" font-family="Liberation Serif, serif" font-size="33.0" textLength="93.2" lengthAdjust="spacingAndGlyphs" fill="#000">Texture</text>
<rect x="49.2" y="1349.8" width="219.8" height="197.7" fill="#eaeaf2"/>
<clipPath id="c4_0"><rect x="49.2" y="1349.8" width="219.8" height="197.7"/></clipPath>
<path d="M91.1 1349.8V1547.5M135.6 1349.8V1547.5M180 1349.8V1547.5M224.5 1349.8V1547.5M269 1349.8V1547.5M49.2 1542H269M49.2 1501.4H269M49.2 1460.8H269M49.2 1420.2H269M49.2 1379.6H269" stroke="#fff" stroke-width="1.1" fill="none"/>
<text x="91.1" y="1567.5" font-size="14.31" text-anchor="middle" textLength="20.3" lengthAdjust="spacingAndGlyphs" fill="#262626" >0.2</text>
<text x="135.6" y="1567.5" font-size="14.31" text-anchor="middle" textLength="20.3" lengthAdjust="spacingAndGlyphs" fill="#262626" >0.4</text>
<text x="180" y="1567.5" font-size="14.31" text-anchor="middle" textLength="20.3" lengthAdjust="spacingAndGlyphs" fill="#262626" >0.6</text>
<text x="224.5" y="1567.5" font-size="14.31" text-anchor="middle" textLength="20.3" lengthAdjust="spacingAndGlyphs" fill="#262626" >0.8</text>
<text x="269" y="1567.5" font-size="14.31" text-anchor="middle" textLength="20.3" lengthAdjust="spacingAndGlyphs" fill="#262626" >1.0</text>
<text x="39.2" y="1547.4" font-size="14.31" text-anchor="end" textLength="20.3" lengthAdjust="spacingAndGlyphs" fill="#262626" >0.0</text>
<text x="39.2" y="1506.8" font-size="14.31" text-anchor="end" textLength="20.3" lengthAdjust="spacingAndGlyphs" fill="#262626" >0.1</text>
<text x="39.2" y="1466.2" font-size="14.31" text-anchor="end" textLength="20.3" lengthAdjust="spacingAndGlyphs" fill="#262626" >0.2</text>
<text x="39.2" y="1425.6" font-size="14.31" text-anchor="end" textLength="20.3" lengthAdjust="spacingAndGlyphs" fill="#262626" >0.3</text>
<text x="39.2" y="1385" font-size="14.31" text-anchor="end" textLength="20.3" lengthAdjust="spacingAndGlyphs" fill="#262626" >0.4</text>
<text x="159.1" y="1585.5" font-size="15.48" text-anchor="middle" textLength="139.0" lengthAdjust="spacingAndGlyphs" fill="#262626" >Samples abstained</text>
<g transform="translate(11.5 1448.7) rotate(-90)"><text x="0" y="0" font-size="15.48" text-anchor="middle" textLength="63.0" lengthAdjust="spacingAndGlyphs" fill="#262626" >Joint risk</text></g>
<g clip-path="url(#c4_0)">
<polyline points="49.2,1367.4 68.8,1373.5 91.1,1382 113.3,1392.2 135.6,1401.1 157.8,1412.9 180,1427.9 202.3,1448.6 224.5,1475.8 246.8,1516.4 269,1537.9" fill="none" stroke="#023eff" stroke-width="1.0" stroke-dasharray="1.9 2.0"/>
<path d="M66.5 1373.5a2.3 2.3 0 1 0 4.6 0a2.3 2.3 0 1 0 -4.6 0zM88.8 1382a2.3 2.3 0 1 0 4.6 0a2.3 2.3 0 1 0 -4.6 0zM111 1392.2a2.3 2.3 0 1 0 4.6 0a2.3 2.3 0 1 0 -4.6 0zM133.3 1401.1a2.3 2.3 0 1 0 4.6 0a2.3 2.3 0 1 0 -4.6 0zM155.5 1412.9a2.3 2.3 0 1 0 4.6 0a2.3 2.3 0 1 0 -4.6 0zM177.7 1427.9a2.3 2.3 0 1 0 4.6 0a2.3 2.3 0 1 0 -4.6 0zM200 1448.6a2.3 2.3 0 1 0 4.6 0a2.3 2.3 0 1 0 -4.6 0zM222.2 1475.8a2.3 2.3 0 1 0 4.6 0a2.3 2.3 0 1 0 -4.6 0zM244.5 1516.4a2.3 2.3 0 1 0 4.6 0a2.3 2.3 0 1 0 -4.6 0zM266.7 1537.9a2.3 2.3 0 1 0 4.6 0a2.3 2.3 0 1 0 -4.6 0z" fill="#023eff" stroke="#fff" stroke-width="0.5"/>
<path d="M202.3 1451.1V1446.2M224.5 1479.1V1472.6M246.8 1520.5V1512.4" stroke="#023eff" stroke-width="1.6"/>
</g>
<g clip-path="url(#c4_0)">
<polyline points="49.2,1367.4 68.8,1375.5 91.1,1389.8 113.3,1408 135.6,1428.3 157.8,1439.3 180,1458.4 202.3,1481.9 224.5,1499 246.8,1517.6 269,1533.9" fill="none" stroke="#ff7c00" stroke-width="1.0" stroke-dasharray="1.9 2.0"/>
<path d="M66.7 1374.6l1.26 -1.26 0.92 0.92 0.92 -0.92 1.26 1.26 -0.92 0.92 0.92 0.92 -1.26 1.26 -0.92 -0.92 -0.92 0.92 -1.26 -1.26 0.92 -0.92zM88.9 1388.8l1.26 -1.26 0.92 0.92 0.92 -0.92 1.26 1.26 -0.92 0.92 0.92 0.92 -1.26 1.26 -0.92 -0.92 -0.92 0.92 -1.26 -1.26 0.92 -0.92zM111.1 1407.1l1.26 -1.26 0.92 0.92 0.92 -0.92 1.26 1.26 -0.92 0.92 0.92 0.92 -1.26 1.26 -0.92 -0.92 -0.92 0.92 -1.26 -1.26 0.92 -0.92zM133.4 1427.4l1.26 -1.26 0.92 0.92 0.92 -0.92 1.26 1.26 -0.92 0.92 0.92 0.92 -1.26 1.26 -0.92 -0.92 -0.92 0.92 -1.26 -1.26 0.92 -0.92zM155.6 1438.4l1.26 -1.26 0.92 0.92 0.92 -0.92 1.26 1.26 -0.92 0.92 0.92 0.92 -1.26 1.26 -0.92 -0.92 -0.92 0.92 -1.26 -1.26 0.92 -0.92zM177.9 1457.4l1.26 -1.26 0.92 0.92 0.92 -0.92 1.26 1.26 -0.92 0.92 0.92 0.92 -1.26 1.26 -0.92 -0.92 -0.92 0.92 -1.26 -1.26 0.92 -0.92zM200.1 1481l1.26 -1.26 0.92 0.92 0.92 -0.92 1.26 1.26 -0.92 0.92 0.92 0.92 -1.26 1.26 -0.92 -0.92 -0.92 0.92 -1.26 -1.26 0.92 -0.92zM222.3 1498l1.26 -1.26 0.92 0.92 0.92 -0.92 1.26 1.26 -0.92 0.92 0.92 0.92 -1.26 1.26 -0.92 -0.92 -0.92 0.92 -1.26 -1.26 0.92 -0.92zM244.6 1516.7l1.26 -1.26 0.92 0.92 0.92 -0.92 1.26 1.26 -0.92 0.92 0.92 0.92 -1.26 1.26 -0.92 -0.92 -0.92 0.92 -1.26 -1.26 0.92 -0.92zM266.8 1533l1.26 -1.26 0.92 0.92 0.92 -0.92 1.26 1.26 -0.92 0.92 0.92 0.92 -1.26 1.26 -0.92 -0.92 -0.92 0.92 -1.26 -1.26 0.92 -0.92z" fill="#ff7c00" stroke="#fff" stroke-width="0.5"/>
</g>
<g clip-path="url(#c4_0)">
<polyline points="49.2,1367.4 68.8,1375.5 91.1,1389.8 113.3,1408 135.6,1428.3 157.8,1439.3 180,1458.4 202.3,1481.9 224.5,1499 246.8,1517.6 269,1533.9" fill="none" stroke="#1ac938" stroke-width="1.0" stroke-dasharray="1.9 2.0"/>
<path d="M66.9 1373.6h3.91v3.91h-3.91zM89.1 1387.8h3.91v3.91h-3.91zM111.4 1406.1h3.91v3.91h-3.91zM133.6 1426.4h3.91v3.91h-3.91zM155.8 1437.3h3.91v3.91h-3.91zM178.1 1456.4h3.91v3.91h-3.91zM200.3 1480h3.91v3.91h-3.91zM222.6 1497h3.91v3.91h-3.91zM244.8 1515.7h3.91v3.91h-3.91zM267 1531.9h3.91v3.91h-3.91z" fill="#1ac938" stroke="#fff" stroke-width="0.5"/>
<path d="M157.8 1443.3V1435.2M180 1462.4V1454.3" stroke="#1ac938" stroke-width="1.6"/>
</g>
<g clip-path="url(#c4_0)">
<polyline points="49.2,1367.4 68.8,1375.5 91.1,1387.7 113.3,1404 135.6,1415.7 157.8,1426.3 180,1439.7 202.3,1458.8 224.5,1481.1 246.8,1517.6 269,1533.9" fill="none" stroke="#e8000b" stroke-width="1.0" stroke-dasharray="1.9 2.0"/>
<path d="M68 1373.2h1.75v1.43h1.43v1.75h-1.43v1.43h-1.75v-1.43h-1.43v-1.75h1.43zM90.2 1385.4h1.75v1.43h1.43v1.75h-1.43v1.43h-1.75v-1.43h-1.43v-1.75h1.43zM112.4 1401.7h1.75v1.43h1.43v1.75h-1.43v1.43h-1.75v-1.43h-1.43v-1.75h1.43zM134.7 1413.4h1.75v1.43h1.43v1.75h-1.43v1.43h-1.75v-1.43h-1.43v-1.75h1.43zM156.9 1424h1.75v1.43h1.43v1.75h-1.43v1.43h-1.75v-1.43h-1.43v-1.75h1.43zM179.2 1437.4h1.75v1.43h1.43v1.75h-1.43v1.43h-1.75v-1.43h-1.43v-1.75h1.43zM201.4 1456.5h1.75v1.43h1.43v1.75h-1.43v1.43h-1.75v-1.43h-1.43v-1.75h1.43zM223.6 1478.8h1.75v1.43h1.43v1.75h-1.43v1.43h-1.75v-1.43h-1.43v-1.75h1.43zM245.9 1515.3h1.75v1.43h1.43v1.75h-1.43v1.43h-1.75v-1.43h-1.43v-1.75h1.43zM268.1 1531.6h1.75v1.43h1.43v1.75h-1.43v1.43h-1.75v-1.43h-1.43v-1.75h1.43z" fill="#e8000b" stroke="#fff" stroke-width="0.5"/>
<path d="M157.8 1430.3V1422.2M180 1443.7V1435.6M202.3 1462.8V1454.7" stroke="#e8000b" stroke-width="1.6"/>
</g>
<g clip-path="url(#c4_0)">
<polyline points="49.2,1367.4 68.8,1375.5 91.1,1383.7 113.3,1397.9 135.6,1408 157.8,1419 180,1434 202.3,1453.1 224.5,1478.3 246.8,1518 269,1533.9" fill="none" stroke="#8b2be2" stroke-width="1.0" stroke-dasharray="1.9 2.0"/>
<path d="M68.8 1373.1l2.42 2.42l-2.42 2.42l-2.42 -2.42zM91.1 1381.2l2.42 2.42l-2.42 2.42l-2.42 -2.42zM113.3 1395.5l2.42 2.42l-2.42 2.42l-2.42 -2.42zM135.6 1405.6l2.42 2.42l-2.42 2.42l-2.42 -2.42zM157.8 1416.6l2.42 2.42l-2.42 2.42l-2.42 -2.42zM180 1431.6l2.42 2.42l-2.42 2.42l-2.42 -2.42zM202.3 1450.7l2.42 2.42l-2.42 2.42l-2.42 -2.42zM224.5 1475.8l2.42 2.42l-2.42 2.42l-2.42 -2.42zM246.8 1515.6l2.42 2.42l-2.42 2.42l-2.42 -2.42zM269 1531.5l2.42 2.42l-2.42 2.42l-2.42 -2.42z" fill="#8b2be2" stroke="#fff" stroke-width="0.5"/>
</g>
<g clip-path="url(#c4_0)">
<polyline points="49.2,1367.4 68.8,1375.5 91.1,1391.8 113.3,1412.1 135.6,1432.4 157.8,1452.7 180,1468.9 202.3,1479.1 224.5,1483.5 246.8,1495.7 269,1512" fill="none" stroke="#9f4800" stroke-width="1.0" stroke-dasharray="1.9 2.0"/>
<path d="M68.8 1373.1l1.38 2.42l-1.38 2.42l-1.38 -2.42zM91.1 1389.4l1.38 2.42l-1.38 2.42l-1.38 -2.42zM113.3 1409.7l1.38 2.42l-1.38 2.42l-1.38 -2.42zM135.6 1430l1.38 2.42l-1.38 2.42l-1.38 -2.42zM157.8 1450.3l1.38 2.42l-1.38 2.42l-1.38 -2.42zM180 1466.5l1.38 2.42l-1.38 2.42l-1.38 -2.42zM202.3 1476.7l1.38 2.42l-1.38 2.42l-1.38 -2.42zM224.5 1481.1l1.38 2.42l-1.38 2.42l-1.38 -2.42zM246.8 1493.3l1.38 2.42l-1.38 2.42l-1.38 -2.42zM269 1509.5l1.38 2.42l-1.38 2.42l-1.38 -2.42z" fill="#9f4800" stroke="#fff" stroke-width="0.5"/>
</g>
<g clip-path="url(#c4_0)">
<polyline points="49.2,1367.4 68.8,1375.5 91.1,1391.8 113.3,1412.1 135.6,1432.4 157.8,1452.7 180,1468.9 202.3,1479.1 224.5,1485.2 246.8,1489.6 269,1499" fill="none" stroke="#f14cc1" stroke-width="1.0" stroke-dasharray="1.9 2.0"/>
<path d="M68.8 1373l2.53 4.3h-5.06zM91.1 1389.2l2.53 4.3h-5.06zM113.3 1409.5l2.53 4.3h-5.06zM135.6 1429.8l2.53 4.3h-5.06zM157.8 1450.1l2.53 4.3h-5.06zM180 1466.4l2.53 4.3h-5.06zM202.3 1476.5l2.53 4.3h-5.06zM224.5 1482.6l2.53 4.3h-5.06zM246.8 1487.1l2.53 4.3h-5.06zM269 1496.4l2.53 4.3h-5.06z" fill="#f14cc1" stroke="#fff" stroke-width="0.5"/>
</g>
<g clip-path="url(#c4_0)">
<polyline points="49.2,1361.3 68.8,1369 91.1,1384.9 113.3,1404 135.6,1424.7 157.8,1443.7 180,1460.8 202.3,1475 224.5,1485.2 246.8,1501.4 269,1524.9" fill="none" stroke="#a3a3a3" stroke-width="1.0" stroke-dasharray="1.9 2.0"/>
<path d="M66.7 1368.1l1.26 -1.26 0.92 0.92 0.92 -0.92 1.26 1.26 -0.92 0.92 0.92 0.92 -1.26 1.26 -0.92 -0.92 -0.92 0.92 -1.26 -1.26 0.92 -0.92zM88.9 1384l1.26 -1.26 0.92 0.92 0.92 -0.92 1.26 1.26 -0.92 0.92 0.92 0.92 -1.26 1.26 -0.92 -0.92 -0.92 0.92 -1.26 -1.26 0.92 -0.92zM111.1 1403l1.26 -1.26 0.92 0.92 0.92 -0.92 1.26 1.26 -0.92 0.92 0.92 0.92 -1.26 1.26 -0.92 -0.92 -0.92 0.92 -1.26 -1.26 0.92 -0.92zM133.4 1423.7l1.26 -1.26 0.92 0.92 0.92 -0.92 1.26 1.26 -0.92 0.92 0.92 0.92 -1.26 1.26 -0.92 -0.92 -0.92 0.92 -1.26 -1.26 0.92 -0.92zM155.6 1442.8l1.26 -1.26 0.92 0.92 0.92 -0.92 1.26 1.26 -0.92 0.92 0.92 0.92 -1.26 1.26 -0.92 -0.92 -0.92 0.92 -1.26 -1.26 0.92 -0.92zM177.9 1459.9l1.26 -1.26 0.92 0.92 0.92 -0.92 1.26 1.26 -0.92 0.92 0.92 0.92 -1.26 1.26 -0.92 -0.92 -0.92 0.92 -1.26 -1.26 0.92 -0.92zM200.1 1474.1l1.26 -1.26 0.92 0.92 0.92 -0.92 1.26 1.26 -0.92 0.92 0.92 0.92 -1.26 1.26 -0.92 -0.92 -0.92 0.92 -1.26 -1.26 0.92 -0.92zM222.3 1484.2l1.26 -1.26 0.92 0.92 0.92 -0.92 1.26 1.26 -0.92 0.92 0.92 0.92 -1.26 1.26 -0.92 -0.92 -0.92 0.92 -1.26 -1.26 0.92 -0.92zM244.6 1500.5l1.26 -1.26 0.92 0.92 0.92 -0.92 1.26 1.26 -0.92 0.92 0.92 0.92 -1.26 1.26 -0.92 -0.92 -0.92 0.92 -1.26 -1.26 0.92 -0.92zM266.8 1524l1.26 -1.26 0.92 0.92 0.92 -0.92 1.26 1.26 -0.92 0.92 0.92 0.92 -1.26 1.26 -0.92 -0.92 -0.92 0.92 -1.26 -1.26 0.92 -0.92z" fill="#a3a3a3" stroke="#fff" stroke-width="0.5"/>
<path d="M68.8 1373.1V1365M135.6 1428.7V1420.6M246.8 1505.5V1497.3" stroke="#a3a3a3" stroke-width="1.6"/>
</g>
<g clip-path="url(#c4_0)">
<polyline points="49.2,1369.4 68.8,1381.6 91.1,1395 113.3,1413.3 135.6,1434.8 157.8,1453.1 180,1471.4 202.3,1488 224.5,1505.1 246.8,1521.7 269,1531.8" fill="none" stroke="#f4c31a" stroke-width="2.0" stroke-linejoin="round"/>
<path d="M68.8 1384.2l2.53 -4.3h-5.06zM91.1 1397.6l2.53 -4.3h-5.06zM113.3 1415.8l2.53 -4.3h-5.06zM135.6 1437.3l2.53 -4.3h-5.06zM157.8 1455.6l2.53 -4.3h-5.06zM180 1473.9l2.53 -4.3h-5.06zM202.3 1490.5l2.53 -4.3h-5.06zM224.5 1507.6l2.53 -4.3h-5.06zM246.8 1524.2l2.53 -4.3h-5.06zM269 1534.4l2.53 -4.3h-5.06z" fill="#f4c31a" stroke="#fff" stroke-width="0.5"/>
</g>
<g clip-path="url(#c4_0)">
<polyline points="49.2,1369 68.8,1377.2 91.1,1391 113.3,1404.8 135.6,1420.2 157.8,1436 180,1450.6 202.3,1468.9 224.5,1488.8 246.8,1510.3 269,1527.8" fill="none" stroke="#1ec8e2" stroke-width="2.0" stroke-linejoin="round"/>
<path d="M66.7 1376.2l1.26 -1.26 0.92 0.92 0.92 -0.92 1.26 1.26 -0.92 0.92 0.92 0.92 -1.26 1.26 -0.92 -0.92 -0.92 0.92 -1.26 -1.26 0.92 -0.92zM88.9 1390l1.26 -1.26 0.92 0.92 0.92 -0.92 1.26 1.26 -0.92 0.92 0.92 0.92 -1.26 1.26 -0.92 -0.92 -0.92 0.92 -1.26 -1.26 0.92 -0.92zM111.1 1403.9l1.26 -1.26 0.92 0.92 0.92 -0.92 1.26 1.26 -0.92 0.92 0.92 0.92 -1.26 1.26 -0.92 -0.92 -0.92 0.92 -1.26 -1.26 0.92 -0.92zM133.4 1419.3l1.26 -1.26 0.92 0.92 0.92 -0.92 1.26 1.26 -0.92 0.92 0.92 0.92 -1.26 1.26 -0.92 -0.92 -0.92 0.92 -1.26 -1.26 0.92 -0.92zM155.6 1435.1l1.26 -1.26 0.92 0.92 0.92 -0.92 1.26 1.26 -0.92 0.92 0.92 0.92 -1.26 1.26 -0.92 -0.92 -0.92 0.92 -1.26 -1.26 0.92 -0.92zM177.9 1449.7l1.26 -1.26 0.92 0.92 0.92 -0.92 1.26 1.26 -0.92 0.92 0.92 0.92 -1.26 1.26 -0.92 -0.92 -0.92 0.92 -1.26 -1.26 0.92 -0.92zM200.1 1468l1.26 -1.26 0.92 0.92 0.92 -0.92 1.26 1.26 -0.92 0.92 0.92 0.92 -1.26 1.26 -0.92 -0.92 -0.92 0.92 -1.26 -1.26 0.92 -0.92zM222.3 1487.9l1.26 -1.26 0.92 0.92 0.92 -0.92 1.26 1.26 -0.92 0.92 0.92 0.92 -1.26 1.26 -0.92 -0.92 -0.92 0.92 -1.26 -1.26 0.92 -0.92zM244.6 1509.4l1.26 -1.26 0.92 0.92 0.92 -0.92 1.26 1.26 -0.92 0.92 0.92 0.92 -1.26 1.26 -0.92 -0.92 -0.92 0.92 -1.26 -1.26 0.92 -0.92zM266.8 1526.9l1.26 -1.26 0.92 0.92 0.92 -0.92 1.26 1.26 -0.92 0.92 0.92 0.92 -1.26 1.26 -0.92 -0.92 -0.92 0.92 -1.26 -1.26 0.92 -0.92z" fill="#1ec8e2" stroke="#fff" stroke-width="0.5"/>
<path d="M91.1 1395V1386.9M113.3 1408.8V1400.7M135.6 1424.3V1416.1M157.8 1440.1V1432M180 1454.7V1446.6M246.8 1514.4V1506.3" stroke="#1ec8e2" stroke-width="1.6"/>
</g>
<g clip-path="url(#c4_0)">
<polyline points="49.2,1367.4 91.1,1399.9 113.3,1418.2 135.6,1439.7 157.8,1458 180,1470.1 202.3,1478.7 224.5,1492.9 246.8,1517.2 269,1537.9" fill="none" stroke="#1a3ad6" stroke-width="2.0" stroke-linejoin="round"/>
<path d="M88.8 1399.9a2.3 2.3 0 1 0 4.6 0a2.3 2.3 0 1 0 -4.6 0zM111 1418.2a2.3 2.3 0 1 0 4.6 0a2.3 2.3 0 1 0 -4.6 0zM133.3 1439.7a2.3 2.3 0 1 0 4.6 0a2.3 2.3 0 1 0 -4.6 0zM155.5 1458a2.3 2.3 0 1 0 4.6 0a2.3 2.3 0 1 0 -4.6 0zM177.7 1470.1a2.3 2.3 0 1 0 4.6 0a2.3 2.3 0 1 0 -4.6 0zM200 1478.7a2.3 2.3 0 1 0 4.6 0a2.3 2.3 0 1 0 -4.6 0zM222.2 1492.9a2.3 2.3 0 1 0 4.6 0a2.3 2.3 0 1 0 -4.6 0zM244.5 1517.2a2.3 2.3 0 1 0 4.6 0a2.3 2.3 0 1 0 -4.6 0zM266.7 1537.9a2.3 2.3 0 1 0 4.6 0a2.3 2.3 0 1 0 -4.6 0z" fill="#1a3ad6" stroke="#fff" stroke-width="0.5"/>
</g>
<rect x="343.7" y="1349.8" width="219.2" height="197.7" fill="#eaeaf2"/>
<clipPath id="c4_1"><rect x="343.7" y="1349.8" width="219.2" height="197.7"/></clipPath>
<path d="M385.5 1349.8V1547.5M429.8 1349.8V1547.5M474.2 1349.8V1547.5M518.5 1349.8V1547.5M562.9 1349.8V1547.5M343.7 1532.3H562.9M343.7 1488.2H562.9M343.7 1444H562.9M343.7 1399.8H562.9M343.7 1355.7H562.9" stroke="#fff" stroke-width="1.1" fill="none"/>
<text x="385.5" y="1567.5" font-size="14.31" text-anchor="middle" textLength="20.3" lengthAdjust="spacingAndGlyphs" fill="#262626" >0.2</text>
<text x="429.8" y="1567.5" font-size="14.31" text-anchor="middle" textLength="20.3" lengthAdjust="spacingAndGlyphs" fill="#262626" >0.4</text>
<text x="474.2" y="1567.5" font-size="14.31" text-anchor="middle" textLength="20.3" lengthAdjust="spacingAndGlyphs" fill="#262626" >0.6</text>
<text x="518.5" y="1567.5" font-size="14.31" text-anchor="middle" textLength="20.3" lengthAdjust="spacingAndGlyphs" fill="#262626" >0.8</text>
<text x="562.9" y="1567.5" font-size="14.31" text-anchor="middle" textLength="20.3" lengthAdjust="spacingAndGlyphs" fill="#262626" >1.0</text>
<text x="333.7" y="1537.7" font-size="14.31" text-anchor="end" textLength="20.3" lengthAdjust="spacingAndGlyphs" fill="#262626" >0.2</text>
<text x="333.7" y="1493.6" font-size="14.31" text-anchor="end" textLength="20.3" lengthAdjust="spacingAndGlyphs" fill="#262626" >0.4</text>
<text x="333.7" y="1449.4" font-size="14.31" text-anchor="end" textLength="20.3" lengthAdjust="spacingAndGlyphs" fill="#262626" >0.6</text>
<text x="333.7" y="1405.3" font-size="14.31" text-anchor="end" textLength="20.3" lengthAdjust="spacingAndGlyphs" fill="#262626" >0.8</text>
<text x="333.7" y="1361.1" font-size="14.31" text-anchor="end" textLength="20.3" lengthAdjust="spacingAndGlyphs" fill="#262626" >1.0</text>
<text x="453.3" y="1585.5" font-size="15.48" text-anchor="middle" textLength="139.0" lengthAdjust="spacingAndGlyphs" fill="#262626" >Samples abstained</text>
<g transform="translate(304.2 1448.7) rotate(-90)"><text x="0" y="0" font-size="15.48" text-anchor="middle" textLength="107.2" lengthAdjust="spacingAndGlyphs" fill="#262626" >Inlier accuracy</text></g>
<g clip-path="url(#c4_1)">
<polyline points="343.7,1519.1 363.3,1513.5 385.5,1506.3 407.6,1498.1 429.8,1488.2 452,1478.2 474.2,1466.1 496.4,1448.4 518.5,1424.1 540.7,1395.4 562.9,1366.7" fill="none" stroke="#023eff" stroke-width="1.0" stroke-dasharray="1.9 2.0"/>
<path d="M361 1513.5a2.3 2.3 0 1 0 4.6 0a2.3 2.3 0 1 0 -4.6 0zM383.2 1506.3a2.3 2.3 0 1 0 4.6 0a2.3 2.3 0 1 0 -4.6 0zM405.3 1498.1a2.3 2.3 0 1 0 4.6 0a2.3 2.3 0 1 0 -4.6 0zM427.5 1488.2a2.3 2.3 0 1 0 4.6 0a2.3 2.3 0 1 0 -4.6 0zM449.7 1478.2a2.3 2.3 0 1 0 4.6 0a2.3 2.3 0 1 0 -4.6 0zM471.9 1466.1a2.3 2.3 0 1 0 4.6 0a2.3 2.3 0 1 0 -4.6 0zM494.1 1448.4a2.3 2.3 0 1 0 4.6 0a2.3 2.3 0 1 0 -4.6 0zM516.2 1424.1a2.3 2.3 0 1 0 4.6 0a2.3 2.3 0 1 0 -4.6 0zM538.4 1395.4a2.3 2.3 0 1 0 4.6 0a2.3 2.3 0 1 0 -4.6 0zM560.6 1366.7a2.3 2.3 0 1 0 4.6 0a2.3 2.3 0 1 0 -4.6 0z" fill="#023eff" stroke="#fff" stroke-width="0.5"/>
</g>
<g clip-path="url(#c4_1)">
<polyline points="343.7,1518 363.3,1512.4 385.5,1505.8 407.6,1497 429.8,1487 452,1474.9 474.2,1459.5 496.4,1439.6 518.5,1417.5 540.7,1391 562.9,1366.7" fill="none" stroke="#ff7c00" stroke-width="1.0" stroke-dasharray="1.9 2.0"/>
<path d="M361.1 1511.5l1.26 -1.26 0.92 0.92 0.92 -0.92 1.26 1.26 -0.92 0.92 0.92 0.92 -1.26 1.26 -0.92 -0.92 -0.92 0.92 -1.26 -1.26 0.92 -0.92zM383.3 1504.9l1.26 -1.26 0.92 0.92 0.92 -0.92 1.26 1.26 -0.92 0.92 0.92 0.92 -1.26 1.26 -0.92 -0.92 -0.92 0.92 -1.26 -1.26 0.92 -0.92zM405.5 1496.1l1.26 -1.26 0.92 0.92 0.92 -0.92 1.26 1.26 -0.92 0.92 0.92 0.92 -1.26 1.26 -0.92 -0.92 -0.92 0.92 -1.26 -1.26 0.92 -0.92zM427.6 1486.1l1.26 -1.26 0.92 0.92 0.92 -0.92 1.26 1.26 -0.92 0.92 0.92 0.92 -1.26 1.26 -0.92 -0.92 -0.92 0.92 -1.26 -1.26 0.92 -0.92zM449.8 1474l1.26 -1.26 0.92 0.92 0.92 -0.92 1.26 1.26 -0.92 0.92 0.92 0.92 -1.26 1.26 -0.92 -0.92 -0.92 0.92 -1.26 -1.26 0.92 -0.92zM472 1458.5l1.26 -1.26 0.92 0.92 0.92 -0.92 1.26 1.26 -0.92 0.92 0.92 0.92 -1.26 1.26 -0.92 -0.92 -0.92 0.92 -1.26 -1.26 0.92 -0.92zM494.2 1438.7l1.26 -1.26 0.92 0.92 0.92 -0.92 1.26 1.26 -0.92 0.92 0.92 0.92 -1.26 1.26 -0.92 -0.92 -0.92 0.92 -1.26 -1.26 0.92 -0.92zM516.4 1416.6l1.26 -1.26 0.92 0.92 0.92 -0.92 1.26 1.26 -0.92 0.92 0.92 0.92 -1.26 1.26 -0.92 -0.92 -0.92 0.92 -1.26 -1.26 0.92 -0.92zM538.5 1390.1l1.26 -1.26 0.92 0.92 0.92 -0.92 1.26 1.26 -0.92 0.92 0.92 0.92 -1.26 1.26 -0.92 -0.92 -0.92 0.92 -1.26 -1.26 0.92 -0.92zM560.7 1365.8l1.26 -1.26 0.92 0.92 0.92 -0.92 1.26 1.26 -0.92 0.92 0.92 0.92 -1.26 1.26 -0.92 -0.92 -0.92 0.92 -1.26 -1.26 0.92 -0.92z" fill="#ff7c00" stroke="#fff" stroke-width="0.5"/>
</g>
<g clip-path="url(#c4_1)">
<polyline points="343.7,1518 363.3,1512.4 385.5,1505.8 407.6,1497 429.8,1487 452,1474.9 474.2,1459.5 496.4,1439.6 518.5,1417.5 540.7,1388.8 562.9,1364.5" fill="none" stroke="#1ac938" stroke-width="1.0" stroke-dasharray="1.9 2.0"/>
<path d="M361.3 1510.5h3.91v3.91h-3.91zM383.5 1503.9h3.91v3.91h-3.91zM405.7 1495h3.91v3.91h-3.91zM427.9 1485.1h3.91v3.91h-3.91zM450 1473h3.91v3.91h-3.91zM472.2 1457.5h3.91v3.91h-3.91zM494.4 1437.6h3.91v3.91h-3.91zM516.6 1415.6h3.91v3.91h-3.91zM538.8 1386.9h3.91v3.91h-3.91zM560.9 1362.6h3.91v3.91h-3.91z" fill="#1ac938" stroke="#fff" stroke-width="0.5"/>
</g>
<g clip-path="url(#c4_1)">
<polyline points="343.7,1518 363.3,1512.4 385.5,1505.8 407.6,1497 429.8,1487 452,1474.9 474.2,1459.5 496.4,1439.6 518.5,1419.5 540.7,1384.4 562.9,1360.1" fill="none" stroke="#e8000b" stroke-width="1.0" stroke-dasharray="1.9 2.0"/>
<path d="M362.4 1510.1h1.75v1.43h1.43v1.75h-1.43v1.43h-1.75v-1.43h-1.43v-1.75h1.43zM384.6 1503.5h1.75v1.43h1.43v1.75h-1.43v1.43h-1.75v-1.43h-1.43v-1.75h1.43zM406.8 1494.7h1.75v1.43h1.43v1.75h-1.43v1.43h-1.75v-1.43h-1.43v-1.75h1.43zM428.9 1484.7h1.75v1.43h1.43v1.75h-1.43v1.43h-1.75v-1.43h-1.43v-1.75h1.43zM451.1 1472.6h1.75v1.43h1.43v1.75h-1.43v1.43h-1.75v-1.43h-1.43v-1.75h1.43zM473.3 1457.2h1.75v1.43h1.43v1.75h-1.43v1.43h-1.75v-1.43h-1.43v-1.75h1.43zM495.5 1437.3h1.75v1.43h1.43v1.75h-1.43v1.43h-1.75v-1.43h-1.43v-1.75h1.43zM517.7 1417.2h1.75v1.43h1.43v1.75h-1.43v1.43h-1.75v-1.43h-1.43v-1.75h1.43zM539.8 1382.1h1.75v1.43h1.43v1.75h-1.43v1.43h-1.75v-1.43h-1.43v-1.75h1.43zM562 1357.8h1.75v1.43h1.43v1.75h-1.43v1.43h-1.75v-1.43h-1.43v-1.75h1.43z" fill="#e8000b" stroke="#fff" stroke-width="0.5"/>
</g>
<g clip-path="url(#c4_1)">
<polyline points="343.7,1518 363.3,1512.4 385.5,1505.8 407.6,1497 429.8,1487 452,1474.9 474.2,1459.5 496.4,1439.6 518.5,1419.5 540.7,1382.2 562.9,1359.7" fill="none" stroke="#8b2be2" stroke-width="1.0" stroke-dasharray="1.9 2.0"/>
<path d="M363.3 1510l2.42 2.42l-2.42 2.42l-2.42 -2.42zM385.5 1503.4l2.42 2.42l-2.42 2.42l-2.42 -2.42zM407.6 1494.6l2.42 2.42l-2.42 2.42l-2.42 -2.42zM429.8 1484.6l2.42 2.42l-2.42 2.42l-2.42 -2.42zM452 1472.5l2.42 2.42l-2.42 2.42l-2.42 -2.42zM474.2 1457l2.42 2.42l-2.42 2.42l-2.42 -2.42zM496.4 1437.2l2.42 2.42l-2.42 2.42l-2.42 -2.42zM518.5 1417.1l2.42 2.42l-2.42 2.42l-2.42 -2.42zM540.7 1379.8l2.42 2.42l-2.42 2.42l-2.42 -2.42zM562.9 1357.3l2.42 2.42l-2.42 2.42l-2.42 -2.42z" fill="#8b2be2" stroke="#fff" stroke-width="0.5"/>
<path d="M540.7 1386.6V1377.8" stroke="#8b2be2" stroke-width="1.6"/>
</g>
<g clip-path="url(#c4_1)">
<polyline points="343.7,1527 363.3,1523.2 385.5,1517.3 407.6,1509.1 429.8,1499.8 452,1490.1 474.2,1480.9 496.4,1472.3 518.5,1462.3 540.7,1447.1 562.9,1413.3" fill="none" stroke="#9f4800" stroke-width="1.0" stroke-dasharray="1.9 2.0"/>
<path d="M363.3 1520.8l1.38 2.42l-1.38 2.42l-1.38 -2.42zM385.5 1514.9l1.38 2.42l-1.38 2.42l-1.38 -2.42zM407.6 1506.7l1.38 2.42l-1.38 2.42l-1.38 -2.42zM429.8 1497.4l1.38 2.42l-1.38 2.42l-1.38 -2.42zM452 1487.7l1.38 2.42l-1.38 2.42l-1.38 -2.42zM474.2 1478.5l1.38 2.42l-1.38 2.42l-1.38 -2.42zM496.4 1469.8l1.38 2.42l-1.38 2.42l-1.38 -2.42zM518.5 1459.9l1.38 2.42l-1.38 2.42l-1.38 -2.42zM540.7 1444.7l1.38 2.42l-1.38 2.42l-1.38 -2.42zM562.9 1410.9l1.38 2.42l-1.38 2.42l-1.38 -2.42z" fill="#9f4800" stroke="#fff" stroke-width="0.5"/>
<path d="M540.7 1450.4V1443.8" stroke="#9f4800" stroke-width="1.6"/>
</g>
<g clip-path="url(#c4_1)">
<polyline points="343.7,1516.8 363.3,1516.4 385.5,1508 407.6,1499.2 429.8,1488.2 452,1479.3 474.2,1472.7 496.4,1468.7 518.5,1463.6 540.7,1458.3 562.9,1440.2" fill="none" stroke="#f14cc1" stroke-width="1.0" stroke-dasharray="1.9 2.0"/>
<path d="M363.3 1513.9l2.53 4.3h-5.06zM385.5 1505.5l2.53 4.3h-5.06zM407.6 1496.7l2.53 4.3h-5.06zM429.8 1485.6l2.53 4.3h-5.06zM452 1476.8l2.53 4.3h-5.06zM474.2 1470.2l2.53 4.3h-5.06zM496.4 1466.2l2.53 4.3h-5.06zM518.5 1461.1l2.53 4.3h-5.06zM540.7 1455.8l2.53 4.3h-5.06zM562.9 1437.7l2.53 4.3h-5.06z" fill="#f14cc1" stroke="#fff" stroke-width="0.5"/>
</g>
<g clip-path="url(#c4_1)">
<polyline points="343.7,1538.5 363.3,1535.4 385.5,1530.5 407.6,1523.2 429.8,1515.5 452,1506 474.2,1494.8 496.4,1480.9 518.5,1461 540.7,1429.9 562.9,1379.5" fill="none" stroke="#a3a3a3" stroke-width="1.0" stroke-dasharray="1.9 2.0"/>
<path d="M361.1 1534.5l1.26 -1.26 0.92 0.92 0.92 -0.92 1.26 1.26 -0.92 0.92 0.92 0.92 -1.26 1.26 -0.92 -0.92 -0.92 0.92 -1.26 -1.26 0.92 -0.92zM383.3 1529.6l1.26 -1.26 0.92 0.92 0.92 -0.92 1.26 1.26 -0.92 0.92 0.92 0.92 -1.26 1.26 -0.92 -0.92 -0.92 0.92 -1.26 -1.26 0.92 -0.92zM405.5 1522.3l1.26 -1.26 0.92 0.92 0.92 -0.92 1.26 1.26 -0.92 0.92 0.92 0.92 -1.26 1.26 -0.92 -0.92 -0.92 0.92 -1.26 -1.26 0.92 -0.92zM427.6 1514.6l1.26 -1.26 0.92 0.92 0.92 -0.92 1.26 1.26 -0.92 0.92 0.92 0.92 -1.26 1.26 -0.92 -0.92 -0.92 0.92 -1.26 -1.26 0.92 -0.92zM449.8 1505.1l1.26 -1.26 0.92 0.92 0.92 -0.92 1.26 1.26 -0.92 0.92 0.92 0.92 -1.26 1.26 -0.92 -0.92 -0.92 0.92 -1.26 -1.26 0.92 -0.92zM472 1493.9l1.26 -1.26 0.92 0.92 0.92 -0.92 1.26 1.26 -0.92 0.92 0.92 0.92 -1.26 1.26 -0.92 -0.92 -0.92 0.92 -1.26 -1.26 0.92 -0.92zM494.2 1479.9l1.26 -1.26 0.92 0.92 0.92 -0.92 1.26 1.26 -0.92 0.92 0.92 0.92 -1.26 1.26 -0.92 -0.92 -0.92 0.92 -1.26 -1.26 0.92 -0.92zM516.4 1460.1l1.26 -1.26 0.92 0.92 0.92 -0.92 1.26 1.26 -0.92 0.92 0.92 0.92 -1.26 1.26 -0.92 -0.92 -0.92 0.92 -1.26 -1.26 0.92 -0.92zM538.5 1429l1.26 -1.26 0.92 0.92 0.92 -0.92 1.26 1.26 -0.92 0.92 0.92 0.92 -1.26 1.26 -0.92 -0.92 -0.92 0.92 -1.26 -1.26 0.92 -0.92zM560.7 1378.6l1.26 -1.26 0.92 0.92 0.92 -0.92 1.26 1.26 -0.92 0.92 0.92 0.92 -1.26 1.26 -0.92 -0.92 -0.92 0.92 -1.26 -1.26 0.92 -0.92z" fill="#a3a3a3" stroke="#fff" stroke-width="0.5"/>
<path d="M540.7 1434.3V1425.5" stroke="#a3a3a3" stroke-width="1.6"/>
</g>
<g clip-path="url(#c4_1)">
<polyline points="343.7,1516.8 363.3,1511.3 385.5,1504.7 407.6,1495.7 429.8,1484.4 452,1471.4 474.2,1455.7 496.4,1435.8 518.5,1414.2 540.7,1390.8 562.9,1375.3" fill="none" stroke="#f4c31a" stroke-width="2.0" stroke-linejoin="round"/>
<path d="M363.3 1513.9l2.53 -4.3h-5.06zM385.5 1507.2l2.53 -4.3h-5.06zM407.6 1498.2l2.53 -4.3h-5.06zM429.8 1486.9l2.53 -4.3h-5.06zM452 1473.9l2.53 -4.3h-5.06zM474.2 1458.2l2.53 -4.3h-5.06zM496.4 1438.4l2.53 -4.3h-5.06zM518.5 1416.7l2.53 -4.3h-5.06zM540.7 1393.3l2.53 -4.3h-5.06zM562.9 1377.9l2.53 -4.3h-5.06z" fill="#f4c31a" stroke="#fff" stroke-width="0.5"/>
<path d="M474.2 1457.9V1453.5M496.4 1438V1433.6M518.5 1416.4V1412" stroke="#f4c31a" stroke-width="1.6"/>
</g>
<g clip-path="url(#c4_1)">
<polyline points="343.7,1516.4 363.3,1512.4 385.5,1505.8 407.6,1497 429.8,1488.2 452,1476.5 474.2,1462.8 496.4,1446.2 518.5,1424.6 540.7,1398.7 562.9,1376.9" fill="none" stroke="#1ec8e2" stroke-width="2.0" stroke-linejoin="round"/>
<path d="M361.1 1511.5l1.26 -1.26 0.92 0.92 0.92 -0.92 1.26 1.26 -0.92 0.92 0.92 0.92 -1.26 1.26 -0.92 -0.92 -0.92 0.92 -1.26 -1.26 0.92 -0.92zM383.3 1504.9l1.26 -1.26 0.92 0.92 0.92 -0.92 1.26 1.26 -0.92 0.92 0.92 0.92 -1.26 1.26 -0.92 -0.92 -0.92 0.92 -1.26 -1.26 0.92 -0.92zM405.5 1496.1l1.26 -1.26 0.92 0.92 0.92 -0.92 1.26 1.26 -0.92 0.92 0.92 0.92 -1.26 1.26 -0.92 -0.92 -0.92 0.92 -1.26 -1.26 0.92 -0.92zM427.6 1487.2l1.26 -1.26 0.92 0.92 0.92 -0.92 1.26 1.26 -0.92 0.92 0.92 0.92 -1.26 1.26 -0.92 -0.92 -0.92 0.92 -1.26 -1.26 0.92 -0.92zM449.8 1475.5l1.26 -1.26 0.92 0.92 0.92 -0.92 1.26 1.26 -0.92 0.92 0.92 0.92 -1.26 1.26 -0.92 -0.92 -0.92 0.92 -1.26 -1.26 0.92 -0.92zM472 1461.8l1.26 -1.26 0.92 0.92 0.92 -0.92 1.26 1.26 -0.92 0.92 0.92 0.92 -1.26 1.26 -0.92 -0.92 -0.92 0.92 -1.26 -1.26 0.92 -0.92zM494.2 1445.3l1.26 -1.26 0.92 0.92 0.92 -0.92 1.26 1.26 -0.92 0.92 0.92 0.92 -1.26 1.26 -0.92 -0.92 -0.92 0.92 -1.26 -1.26 0.92 -0.92zM516.4 1423.7l1.26 -1.26 0.92 0.92 0.92 -0.92 1.26 1.26 -0.92 0.92 0.92 0.92 -1.26 1.26 -0.92 -0.92 -0.92 0.92 -1.26 -1.26 0.92 -0.92zM538.5 1397.8l1.26 -1.26 0.92 0.92 0.92 -0.92 1.26 1.26 -0.92 0.92 0.92 0.92 -1.26 1.26 -0.92 -0.92 -0.92 0.92 -1.26 -1.26 0.92 -0.92zM560.7 1376l1.26 -1.26 0.92 0.92 0.92 -0.92 1.26 1.26 -0.92 0.92 0.92 0.92 -1.26 1.26 -0.92 -0.92 -0.92 0.92 -1.26 -1.26 0.92 -0.92z" fill="#1ec8e2" stroke="#fff" stroke-width="0.5"/>
<path d="M474.2 1465V1460.6M496.4 1449.5V1442.9M518.5 1427.9V1421.3" stroke="#1ec8e2" stroke-width="1.6"/>
</g>
<g clip-path="url(#c4_1)">
<polyline points="343.7,1519.9 385.5,1505.6 407.6,1497.6 429.8,1487.7 452,1479.1 474.2,1472.7 496.4,1467 518.5,1442.9 540.7,1398.7 562.9,1361.4" fill="none" stroke="#1a3ad6" stroke-width="2.0" stroke-linejoin="round"/>
<path d="M383.2 1505.6a2.3 2.3 0 1 0 4.6 0a2.3 2.3 0 1 0 -4.6 0zM405.3 1497.6a2.3 2.3 0 1 0 4.6 0a2.3 2.3 0 1 0 -4.6 0zM427.5 1487.7a2.3 2.3 0 1 0 4.6 0a2.3 2.3 0 1 0 -4.6 0zM449.7 1479.1a2.3 2.3 0 1 0 4.6 0a2.3 2.3 0 1 0 -4.6 0zM471.9 1472.7a2.3 2.3 0 1 0 4.6 0a2.3 2.3 0 1 0 -4.6 0zM494.1 1467a2.3 2.3 0 1 0 4.6 0a2.3 2.3 0 1 0 -4.6 0zM516.2 1442.9a2.3 2.3 0 1 0 4.6 0a2.3 2.3 0 1 0 -4.6 0zM538.4 1398.7a2.3 2.3 0 1 0 4.6 0a2.3 2.3 0 1 0 -4.6 0zM560.6 1361.4a2.3 2.3 0 1 0 4.6 0a2.3 2.3 0 1 0 -4.6 0z" fill="#1a3ad6" stroke="#fff" stroke-width="0.5"/>
<path d="M518.5 1445.1V1440.7M540.7 1403.2V1394.3" stroke="#1a3ad6" stroke-width="1.6"/>
</g>
<rect x="638.1" y="1349.8" width="219.8" height="197.7" fill="#eaeaf2"/>
<clipPath id="c4_2"><rect x="638.1" y="1349.8" width="219.8" height="197.7"/></clipPath>
<path d="M680 1349.8V1547.5M724.5 1349.8V1547.5M768.9 1349.8V1547.5M813.4 1349.8V1547.5M857.9 1349.8V1547.5M638.1 1540.2H857.9M638.1 1503.9H857.9M638.1 1467.5H857.9M638.1 1431.2H857.9M638.1 1394.8H857.9M638.1 1358.5H857.9" stroke="#fff" stroke-width="1.1" fill="none"/>
<text x="680" y="1567.5" font-size="14.31" text-anchor="middle" textLength="20.3" lengthAdjust="spacingAndGlyphs" fill="#262626" >0.2</text>
<text x="724.5" y="1567.5" font-size="14.31" text-anchor="middle" textLength="20.3" lengthAdjust="spacingAndGlyphs" fill="#262626" >0.4</text>
<text x="768.9" y="1567.5" font-size="14.31" text-anchor="middle" textLength="20.3" lengthAdjust="spacingAndGlyphs" fill="#262626" >0.6</text>
<text x="813.4" y="1567.5" font-size="14.31" text-anchor="middle" textLength="20.3" lengthAdjust="spacingAndGlyphs" fill="#262626" >0.8</text>
<text x="857.9" y="1567.5" font-size="14.31" text-anchor="middle" textLength="20.3" lengthAdjust="spacingAndGlyphs" fill="#262626" >1.0</text>
<text x="628.1" y="1545.6" font-size="14.31" text-anchor="end" textLength="20.3" lengthAdjust="spacingAndGlyphs" fill="#262626" >0.5</text>
<text x="628.1" y="1509.3" font-size="14.31" text-anchor="end" textLength="20.3" lengthAdjust="spacingAndGlyphs" fill="#262626" >0.6</text>
<text x="628.1" y="1472.9" font-size="14.31" text-anchor="end" textLength="20.3" lengthAdjust="spacingAndGlyphs" fill="#262626" >0.7</text>
<text x="628.1" y="1436.6" font-size="14.31" text-anchor="end" textLength="20.3" lengthAdjust="spacingAndGlyphs" fill="#262626" >0.8</text>
<text x="628.1" y="1400.3" font-size="14.31" text-anchor="end" textLength="20.3" lengthAdjust="spacingAndGlyphs" fill="#262626" >0.9</text>
<text x="628.1" y="1363.9" font-size="14.31" text-anchor="end" textLength="20.3" lengthAdjust="spacingAndGlyphs" fill="#262626" >1.0</text>
<text x="748" y="1585.5" font-size="15.48" text-anchor="middle" textLength="139.0" lengthAdjust="spacingAndGlyphs" fill="#262626" >Samples abstained</text>
<g transform="translate(600.6 1448.7) rotate(-90)"><text x="0" y="0" font-size="15.48" text-anchor="middle" textLength="104.7" lengthAdjust="spacingAndGlyphs" fill="#262626" >OOD precision</text></g>
<g clip-path="url(#c4_2)">
<polyline points="638.1,1426.5 657.7,1447.2 680,1460.3 702.2,1469.3 724.5,1479.9 746.7,1488.2 768.9,1495.5 791.2,1502.8 813.4,1511.5 835.7,1521.7 857.9,1536.6" fill="none" stroke="#023eff" stroke-width="1.0" stroke-dasharray="1.9 2.0"/>
<path d="M655.4 1447.2a2.3 2.3 0 1 0 4.6 0a2.3 2.3 0 1 0 -4.6 0zM677.7 1460.3a2.3 2.3 0 1 0 4.6 0a2.3 2.3 0 1 0 -4.6 0zM699.9 1469.3a2.3 2.3 0 1 0 4.6 0a2.3 2.3 0 1 0 -4.6 0zM722.2 1479.9a2.3 2.3 0 1 0 4.6 0a2.3 2.3 0 1 0 -4.6 0zM744.4 1488.2a2.3 2.3 0 1 0 4.6 0a2.3 2.3 0 1 0 -4.6 0zM766.6 1495.5a2.3 2.3 0 1 0 4.6 0a2.3 2.3 0 1 0 -4.6 0zM788.9 1502.8a2.3 2.3 0 1 0 4.6 0a2.3 2.3 0 1 0 -4.6 0zM811.1 1511.5a2.3 2.3 0 1 0 4.6 0a2.3 2.3 0 1 0 -4.6 0zM833.4 1521.7a2.3 2.3 0 1 0 4.6 0a2.3 2.3 0 1 0 -4.6 0zM855.6 1536.6a2.3 2.3 0 1 0 4.6 0a2.3 2.3 0 1 0 -4.6 0z" fill="#023eff" stroke="#fff" stroke-width="0.5"/>
</g>
<g clip-path="url(#c4_2)">
<polyline points="638.1,1391.6 657.7,1406.5 680,1417.7 702.2,1429 724.5,1439.2 746.7,1449 768.9,1462.8 791.2,1479.9 813.4,1497.3 835.7,1520.6 857.9,1536.6" fill="none" stroke="#ff7c00" stroke-width="1.0" stroke-dasharray="1.9 2.0"/>
<path d="M655.6 1405.5l1.26 -1.26 0.92 0.92 0.92 -0.92 1.26 1.26 -0.92 0.92 0.92 0.92 -1.26 1.26 -0.92 -0.92 -0.92 0.92 -1.26 -1.26 0.92 -0.92zM677.8 1416.8l1.26 -1.26 0.92 0.92 0.92 -0.92 1.26 1.26 -0.92 0.92 0.92 0.92 -1.26 1.26 -0.92 -0.92 -0.92 0.92 -1.26 -1.26 0.92 -0.92zM700 1428.1l1.26 -1.26 0.92 0.92 0.92 -0.92 1.26 1.26 -0.92 0.92 0.92 0.92 -1.26 1.26 -0.92 -0.92 -0.92 0.92 -1.26 -1.26 0.92 -0.92zM722.3 1438.3l1.26 -1.26 0.92 0.92 0.92 -0.92 1.26 1.26 -0.92 0.92 0.92 0.92 -1.26 1.26 -0.92 -0.92 -0.92 0.92 -1.26 -1.26 0.92 -0.92zM744.5 1448.1l1.26 -1.26 0.92 0.92 0.92 -0.92 1.26 1.26 -0.92 0.92 0.92 0.92 -1.26 1.26 -0.92 -0.92 -0.92 0.92 -1.26 -1.26 0.92 -0.92zM766.8 1461.9l1.26 -1.26 0.92 0.92 0.92 -0.92 1.26 1.26 -0.92 0.92 0.92 0.92 -1.26 1.26 -0.92 -0.92 -0.92 0.92 -1.26 -1.26 0.92 -0.92zM789 1479l1.26 -1.26 0.92 0.92 0.92 -0.92 1.26 1.26 -0.92 0.92 0.92 0.92 -1.26 1.26 -0.92 -0.92 -0.92 0.92 -1.26 -1.26 0.92 -0.92zM811.2 1496.4l1.26 -1.26 0.92 0.92 0.92 -0.92 1.26 1.26 -0.92 0.92 0.92 0.92 -1.26 1.26 -0.92 -0.92 -0.92 0.92 -1.26 -1.26 0.92 -0.92zM833.5 1519.7l1.26 -1.26 0.92 0.92 0.92 -0.92 1.26 1.26 -0.92 0.92 0.92 0.92 -1.26 1.26 -0.92 -0.92 -0.92 0.92 -1.26 -1.26 0.92 -0.92zM855.7 1535.6l1.26 -1.26 0.92 0.92 0.92 -0.92 1.26 1.26 -0.92 0.92 0.92 0.92 -1.26 1.26 -0.92 -0.92 -0.92 0.92 -1.26 -1.26 0.92 -0.92z" fill="#ff7c00" stroke="#fff" stroke-width="0.5"/>
</g>
<g clip-path="url(#c4_2)">
<polyline points="638.1,1424.6 657.7,1399.6 680,1411.6 702.2,1422.8 724.5,1434.8 746.7,1447.2 768.9,1461 791.2,1479.1 813.4,1497.3 835.7,1520.6 857.9,1536.6" fill="none" stroke="#1ac938" stroke-width="1.0" stroke-dasharray="1.9 2.0"/>
<path d="M655.8 1397.6h3.91v3.91h-3.91zM678 1409.6h3.91v3.91h-3.91zM700.3 1420.9h3.91v3.91h-3.91zM722.5 1432.9h3.91v3.91h-3.91zM744.7 1445.2h3.91v3.91h-3.91zM767 1459h3.91v3.91h-3.91zM789.2 1477.2h3.91v3.91h-3.91zM811.5 1495.4h3.91v3.91h-3.91zM833.7 1518.6h3.91v3.91h-3.91zM855.9 1534.6h3.91v3.91h-3.91z" fill="#1ac938" stroke="#fff" stroke-width="0.5"/>
<path d="M680 1415.2V1407.9M702.2 1426.5V1419.2" stroke="#1ac938" stroke-width="1.6"/>
</g>
<g clip-path="url(#c4_2)">
<polyline points="638.1,1358.5 657.7,1362.1 680,1381.4 702.2,1415.9 724.5,1443.5 746.7,1465.3 768.9,1481.7 791.2,1494 813.4,1506.8 835.7,1519.8 857.9,1536.6" fill="none" stroke="#e8000b" stroke-width="1.0" stroke-dasharray="1.9 2.0"/>
<path d="M656.9 1359.8h1.75v1.43h1.43v1.75h-1.43v1.43h-1.75v-1.43h-1.43v-1.75h1.43zM679.1 1379.1h1.75v1.43h1.43v1.75h-1.43v1.43h-1.75v-1.43h-1.43v-1.75h1.43zM701.3 1413.6h1.75v1.43h1.43v1.75h-1.43v1.43h-1.75v-1.43h-1.43v-1.75h1.43zM723.6 1441.2h1.75v1.43h1.43v1.75h-1.43v1.43h-1.75v-1.43h-1.43v-1.75h1.43zM745.8 1463h1.75v1.43h1.43v1.75h-1.43v1.43h-1.75v-1.43h-1.43v-1.75h1.43zM768.1 1479.4h1.75v1.43h1.43v1.75h-1.43v1.43h-1.75v-1.43h-1.43v-1.75h1.43zM790.3 1491.7h1.75v1.43h1.43v1.75h-1.43v1.43h-1.75v-1.43h-1.43v-1.75h1.43zM812.5 1504.5h1.75v1.43h1.43v1.75h-1.43v1.43h-1.75v-1.43h-1.43v-1.75h1.43zM834.8 1517.5h1.75v1.43h1.43v1.75h-1.43v1.43h-1.75v-1.43h-1.43v-1.75h1.43zM857 1534.3h1.75v1.43h1.43v1.75h-1.43v1.43h-1.75v-1.43h-1.43v-1.75h1.43z" fill="#e8000b" stroke="#fff" stroke-width="0.5"/>
<path d="M680 1388.7V1374.1M702.2 1423.2V1408.6M724.5 1450.8V1436.3" stroke="#e8000b" stroke-width="1.6"/>
</g>
<g clip-path="url(#c4_2)">
<polyline points="638.1,1369.4 657.7,1391.6 680,1421 702.2,1444.6 724.5,1463.5 746.7,1477.3 768.9,1488.6 791.2,1498 813.4,1509.3 835.7,1520.6 857.9,1536.6" fill="none" stroke="#8b2be2" stroke-width="1.0" stroke-dasharray="1.9 2.0"/>
<path d="M657.7 1389.2l2.42 2.42l-2.42 2.42l-2.42 -2.42zM680 1418.6l2.42 2.42l-2.42 2.42l-2.42 -2.42zM702.2 1442.2l2.42 2.42l-2.42 2.42l-2.42 -2.42zM724.5 1461.1l2.42 2.42l-2.42 2.42l-2.42 -2.42zM746.7 1474.9l2.42 2.42l-2.42 2.42l-2.42 -2.42zM768.9 1486.2l2.42 2.42l-2.42 2.42l-2.42 -2.42zM791.2 1495.6l2.42 2.42l-2.42 2.42l-2.42 -2.42zM813.4 1506.9l2.42 2.42l-2.42 2.42l-2.42 -2.42zM835.7 1518.2l2.42 2.42l-2.42 2.42l-2.42 -2.42zM857.9 1534.2l2.42 2.42l-2.42 2.42l-2.42 -2.42z" fill="#8b2be2" stroke="#fff" stroke-width="0.5"/>
<path d="M657.7 1398.8V1384.3M680 1428.3V1413.7M702.2 1451.9V1437.4" stroke="#8b2be2" stroke-width="1.6"/>
</g>
<g clip-path="url(#c4_2)">
<polyline points="638.1,1358.5 657.7,1359.2 680,1362.1 702.2,1369.4 724.5,1383.9 746.7,1409.4 768.9,1442.1 791.2,1471.2 813.4,1497.3 835.7,1520.6 857.9,1536.6" fill="none" stroke="#9f4800" stroke-width="1.0" stroke-dasharray="1.9 2.0"/>
<path d="M657.7 1356.8l1.38 2.42l-1.38 2.42l-1.38 -2.42zM680 1359.7l1.38 2.42l-1.38 2.42l-1.38 -2.42zM702.2 1367l1.38 2.42l-1.38 2.42l-1.38 -2.42zM724.5 1381.5l1.38 2.42l-1.38 2.42l-1.38 -2.42zM746.7 1407l1.38 2.42l-1.38 2.42l-1.38 -2.42zM768.9 1439.7l1.38 2.42l-1.38 2.42l-1.38 -2.42zM791.2 1468.7l1.38 2.42l-1.38 2.42l-1.38 -2.42zM813.4 1494.9l1.38 2.42l-1.38 2.42l-1.38 -2.42zM835.7 1518.2l1.38 2.42l-1.38 2.42l-1.38 -2.42zM857.9 1534.2l1.38 2.42l-1.38 2.42l-1.38 -2.42z" fill="#9f4800" stroke="#fff" stroke-width="0.5"/>
</g>
<g clip-path="url(#c4_2)">
<polyline points="638.1,1358.5 657.7,1359.2 680,1362.1 702.2,1369.4 724.5,1383.9 746.7,1409.4 768.9,1442.1 791.2,1471.2 813.4,1497.3 835.7,1520.6 857.9,1536.6" fill="none" stroke="#f14cc1" stroke-width="1.0" stroke-dasharray="1.9 2.0"/>
<path d="M657.7 1356.7l2.53 4.3h-5.06zM680 1359.6l2.53 4.3h-5.06zM702.2 1366.9l2.53 4.3h-5.06zM724.5 1381.4l2.53 4.3h-5.06zM746.7 1406.8l2.53 4.3h-5.06zM768.9 1439.6l2.53 4.3h-5.06zM791.2 1468.6l2.53 4.3h-5.06zM813.4 1494.8l2.53 4.3h-5.06zM835.7 1518l2.53 4.3h-5.06zM857.9 1534l2.53 4.3h-5.06z" fill="#f14cc1" stroke="#fff" stroke-width="0.5"/>
</g>
<g clip-path="url(#c4_2)">
<polyline points="638.1,1358.5 657.7,1360.3 680,1364 702.2,1369.4 724.5,1383.9 746.7,1409.4 768.9,1442.1 791.2,1471.2 813.4,1497.3 835.7,1520.6 857.9,1536.6" fill="none" stroke="#a3a3a3" stroke-width="1.0" stroke-dasharray="1.9 2.0"/>
<path d="M655.6 1359.4l1.26 -1.26 0.92 0.92 0.92 -0.92 1.26 1.26 -0.92 0.92 0.92 0.92 -1.26 1.26 -0.92 -0.92 -0.92 0.92 -1.26 -1.26 0.92 -0.92zM677.8 1363l1.26 -1.26 0.92 0.92 0.92 -0.92 1.26 1.26 -0.92 0.92 0.92 0.92 -1.26 1.26 -0.92 -0.92 -0.92 0.92 -1.26 -1.26 0.92 -0.92zM700 1368.5l1.26 -1.26 0.92 0.92 0.92 -0.92 1.26 1.26 -0.92 0.92 0.92 0.92 -1.26 1.26 -0.92 -0.92 -0.92 0.92 -1.26 -1.26 0.92 -0.92zM722.3 1383l1.26 -1.26 0.92 0.92 0.92 -0.92 1.26 1.26 -0.92 0.92 0.92 0.92 -1.26 1.26 -0.92 -0.92 -0.92 0.92 -1.26 -1.26 0.92 -0.92zM744.5 1408.5l1.26 -1.26 0.92 0.92 0.92 -0.92 1.26 1.26 -0.92 0.92 0.92 0.92 -1.26 1.26 -0.92 -0.92 -0.92 0.92 -1.26 -1.26 0.92 -0.92zM766.8 1441.2l1.26 -1.26 0.92 0.92 0.92 -0.92 1.26 1.26 -0.92 0.92 0.92 0.92 -1.26 1.26 -0.92 -0.92 -0.92 0.92 -1.26 -1.26 0.92 -0.92zM789 1470.2l1.26 -1.26 0.92 0.92 0.92 -0.92 1.26 1.26 -0.92 0.92 0.92 0.92 -1.26 1.26 -0.92 -0.92 -0.92 0.92 -1.26 -1.26 0.92 -0.92zM811.2 1496.4l1.26 -1.26 0.92 0.92 0.92 -0.92 1.26 1.26 -0.92 0.92 0.92 0.92 -1.26 1.26 -0.92 -0.92 -0.92 0.92 -1.26 -1.26 0.92 -0.92zM833.5 1519.7l1.26 -1.26 0.92 0.92 0.92 -0.92 1.26 1.26 -0.92 0.92 0.92 0.92 -1.26 1.26 -0.92 -0.92 -0.92 0.92 -1.26 -1.26 0.92 -0.92zM855.7 1535.6l1.26 -1.26 0.92 0.92 0.92 -0.92 1.26 1.26 -0.92 0.92 0.92 0.92 -1.26 1.26 -0.92 -0.92 -0.92 0.92 -1.26 -1.26 0.92 -0.92z" fill="#a3a3a3" stroke="#fff" stroke-width="0.5"/>
</g>
<g clip-path="url(#c4_2)">
<polyline points="638.1,1360.7 657.7,1362.1 680,1365 702.2,1373.4 724.5,1389 746.7,1416.6 768.9,1447.9 791.2,1474.8 813.4,1498 835.7,1519.8 857.9,1536.6" fill="none" stroke="#f4c31a" stroke-width="2.0" stroke-linejoin="round"/>
<path d="M657.7 1364.7l2.53 -4.3h-5.06zM680 1367.6l2.53 -4.3h-5.06zM702.2 1375.9l2.53 -4.3h-5.06zM724.5 1391.6l2.53 -4.3h-5.06zM746.7 1419.2l2.53 -4.3h-5.06zM768.9 1450.4l2.53 -4.3h-5.06zM791.2 1477.3l2.53 -4.3h-5.06zM813.4 1500.6l2.53 -4.3h-5.06zM835.7 1522.4l2.53 -4.3h-5.06zM857.9 1539.1l2.53 -4.3h-5.06z" fill="#f4c31a" stroke="#fff" stroke-width="0.5"/>
<path d="M702.2 1377V1369.8M724.5 1392.7V1385.4M746.7 1420.3V1413M768.9 1451.5V1444.3" stroke="#f4c31a" stroke-width="1.6"/>
</g>
<g clip-path="url(#c4_2)">
<polyline points="638.1,1381 657.7,1385.8 680,1394.5 702.2,1410.8 724.5,1427.9 746.7,1447.9 768.9,1467.9 791.2,1483.5 813.4,1501.7 835.7,1520.6 857.9,1536.6" fill="none" stroke="#1ec8e2" stroke-width="2.0" stroke-linejoin="round"/>
<path d="M655.6 1384.8l1.26 -1.26 0.92 0.92 0.92 -0.92 1.26 1.26 -0.92 0.92 0.92 0.92 -1.26 1.26 -0.92 -0.92 -0.92 0.92 -1.26 -1.26 0.92 -0.92zM677.8 1393.6l1.26 -1.26 0.92 0.92 0.92 -0.92 1.26 1.26 -0.92 0.92 0.92 0.92 -1.26 1.26 -0.92 -0.92 -0.92 0.92 -1.26 -1.26 0.92 -0.92zM700 1409.9l1.26 -1.26 0.92 0.92 0.92 -0.92 1.26 1.26 -0.92 0.92 0.92 0.92 -1.26 1.26 -0.92 -0.92 -0.92 0.92 -1.26 -1.26 0.92 -0.92zM722.3 1427l1.26 -1.26 0.92 0.92 0.92 -0.92 1.26 1.26 -0.92 0.92 0.92 0.92 -1.26 1.26 -0.92 -0.92 -0.92 0.92 -1.26 -1.26 0.92 -0.92zM744.5 1447l1.26 -1.26 0.92 0.92 0.92 -0.92 1.26 1.26 -0.92 0.92 0.92 0.92 -1.26 1.26 -0.92 -0.92 -0.92 0.92 -1.26 -1.26 0.92 -0.92zM766.8 1467l1.26 -1.26 0.92 0.92 0.92 -0.92 1.26 1.26 -0.92 0.92 0.92 0.92 -1.26 1.26 -0.92 -0.92 -0.92 0.92 -1.26 -1.26 0.92 -0.92zM789 1482.6l1.26 -1.26 0.92 0.92 0.92 -0.92 1.26 1.26 -0.92 0.92 0.92 0.92 -1.26 1.26 -0.92 -0.92 -0.92 0.92 -1.26 -1.26 0.92 -0.92zM811.2 1500.8l1.26 -1.26 0.92 0.92 0.92 -0.92 1.26 1.26 -0.92 0.92 0.92 0.92 -1.26 1.26 -0.92 -0.92 -0.92 0.92 -1.26 -1.26 0.92 -0.92zM833.5 1519.7l1.26 -1.26 0.92 0.92 0.92 -0.92 1.26 1.26 -0.92 0.92 0.92 0.92 -1.26 1.26 -0.92 -0.92 -0.92 0.92 -1.26 -1.26 0.92 -0.92zM855.7 1535.6l1.26 -1.26 0.92 0.92 0.92 -0.92 1.26 1.26 -0.92 0.92 0.92 0.92 -1.26 1.26 -0.92 -0.92 -0.92 0.92 -1.26 -1.26 0.92 -0.92z" fill="#1ec8e2" stroke="#fff" stroke-width="0.5"/>
<path d="M657.7 1393V1378.5M680 1401.7V1387.2M702.2 1418.1V1403.6M724.5 1435.2V1420.6M746.7 1451.5V1444.3M768.9 1471.5V1464.2M791.2 1487.1V1479.9" stroke="#1ec8e2" stroke-width="1.6"/>
</g>
<g clip-path="url(#c4_2)">
<polyline points="638.1,1358.5 680,1362.1 702.2,1363.6 724.5,1380.3 746.7,1408.3 768.9,1441 791.2,1471.2 813.4,1497.3 835.7,1520.6 857.9,1536.6" fill="none" stroke="#1a3ad6" stroke-width="2.0" stroke-linejoin="round"/>
<path d="M677.7 1362.1a2.3 2.3 0 1 0 4.6 0a2.3 2.3 0 1 0 -4.6 0zM699.9 1363.6a2.3 2.3 0 1 0 4.6 0a2.3 2.3 0 1 0 -4.6 0zM722.2 1380.3a2.3 2.3 0 1 0 4.6 0a2.3 2.3 0 1 0 -4.6 0zM744.4 1408.3a2.3 2.3 0 1 0 4.6 0a2.3 2.3 0 1 0 -4.6 0zM766.6 1441a2.3 2.3 0 1 0 4.6 0a2.3 2.3 0 1 0 -4.6 0zM788.9 1471.2a2.3 2.3 0 1 0 4.6 0a2.3 2.3 0 1 0 -4.6 0zM811.1 1497.3a2.3 2.3 0 1 0 4.6 0a2.3 2.3 0 1 0 -4.6 0zM833.4 1520.6a2.3 2.3 0 1 0 4.6 0a2.3 2.3 0 1 0 -4.6 0zM855.6 1536.6a2.3 2.3 0 1 0 4.6 0a2.3 2.3 0 1 0 -4.6 0z" fill="#1a3ad6" stroke="#fff" stroke-width="0.5"/>
<path d="M746.7 1411.9V1404.7M768.9 1444.6V1437.4" stroke="#1a3ad6" stroke-width="1.6"/>
</g>
<rect x="932.2" y="1349.8" width="219.8" height="197.7" fill="#eaeaf2"/>
<clipPath id="c4_3"><rect x="932.2" y="1349.8" width="219.8" height="197.7"/></clipPath>
<path d="M974.1 1349.8V1547.5M1018.6 1349.8V1547.5M1063 1349.8V1547.5M1107.5 1349.8V1547.5M1152 1349.8V1547.5M932.2 1539.7H1152M932.2 1503.5H1152M932.2 1467.2H1152M932.2 1431H1152M932.2 1394.7H1152M932.2 1358.5H1152" stroke="#fff" stroke-width="1.1" fill="none"/>
<text x="974.1" y="1567.5" font-size="14.31" text-anchor="middle" textLength="20.3" lengthAdjust="spacingAndGlyphs" fill="#262626" >0.2</text>
<text x="1018.6" y="1567.5" font-size="14.31" text-anchor="middle" textLength="20.3" lengthAdjust="spacingAndGlyphs" fill="#262626" >0.4</text>
<text x="1063" y="1567.5" font-size="14.31" text-anchor="middle" textLength="20.3" lengthAdjust="spacingAndGlyphs" fill="#262626" >0.6</text>
<text x="1107.5" y="1567.5" font-size="14.31" text-anchor="middle" textLength="20.3" lengthAdjust="spacingAndGlyphs" fill="#262626" >0.8</text>
<text x="1152" y="1567.5" font-size="14.31" text-anchor="middle" textLength="20.3" lengthAdjust="spacingAndGlyphs" fill="#262626" >1.0</text>
<text x="922.2" y="1545.1" font-size="14.31" text-anchor="end" textLength="20.3" lengthAdjust="spacingAndGlyphs" fill="#262626" >0.0</text>
<text x="922.2" y="1508.9" font-size="14.31" text-anchor="end" textLength="20.3" lengthAdjust="spacingAndGlyphs" fill="#262626" >0.2</text>
<text x="922.2" y="1472.6" font-size="14.31" text-anchor="end" textLength="20.3" lengthAdjust="spacingAndGlyphs" fill="#262626" >0.4</text>
<text x="922.2" y="1436.4" font-size="14.31" text-anchor="end" textLength="20.3" lengthAdjust="spacingAndGlyphs" fill="#262626" >0.6</text>
<text x="922.2" y="1400.2" font-size="14.31" text-anchor="end" textLength="20.3" lengthAdjust="spacingAndGlyphs" fill="#262626" >0.8</text>
<text x="922.2" y="1363.9" font-size="14.31" text-anchor="end" textLength="20.3" lengthAdjust="spacingAndGlyphs" fill="#262626" >1.0</text>
<text x="1042.1" y="1585.5" font-size="15.48" text-anchor="middle" textLength="139.0" lengthAdjust="spacingAndGlyphs" fill="#262626" >Samples abstained</text>
<g transform="translate(895 1448.7) rotate(-90)"><text x="0" y="0" font-size="15.48" text-anchor="middle" textLength="78.6" lengthAdjust="spacingAndGlyphs" fill="#262626" >OOD recall</text></g>
<g clip-path="url(#c4_3)">
<polyline points="932.2,1532.5 951.8,1512 974.1,1487 996.3,1464.1 1018.6,1443.3 1040.8,1423.2 1063,1403.8 1085.3,1385.7 1107.5,1371 1129.8,1361.4 1152,1358.5" fill="none" stroke="#023eff" stroke-width="1.0" stroke-dasharray="1.9 2.0"/>
<path d="M949.5 1512a2.3 2.3 0 1 0 4.6 0a2.3 2.3 0 1 0 -4.6 0zM971.8 1487a2.3 2.3 0 1 0 4.6 0a2.3 2.3 0 1 0 -4.6 0zM994 1464.1a2.3 2.3 0 1 0 4.6 0a2.3 2.3 0 1 0 -4.6 0zM1016.3 1443.3a2.3 2.3 0 1 0 4.6 0a2.3 2.3 0 1 0 -4.6 0zM1038.5 1423.2a2.3 2.3 0 1 0 4.6 0a2.3 2.3 0 1 0 -4.6 0zM1060.7 1403.8a2.3 2.3 0 1 0 4.6 0a2.3 2.3 0 1 0 -4.6 0zM1083 1385.7a2.3 2.3 0 1 0 4.6 0a2.3 2.3 0 1 0 -4.6 0zM1105.2 1371a2.3 2.3 0 1 0 4.6 0a2.3 2.3 0 1 0 -4.6 0zM1127.5 1361.4a2.3 2.3 0 1 0 4.6 0a2.3 2.3 0 1 0 -4.6 0zM1149.7 1358.5a2.3 2.3 0 1 0 4.6 0a2.3 2.3 0 1 0 -4.6 0z" fill="#023eff" stroke="#fff" stroke-width="0.5"/>
<path d="M974.1 1488.8V1485.2M996.3 1466V1462.3M1018.6 1445.1V1441.5M1040.8 1425V1421.4" stroke="#023eff" stroke-width="1.6"/>
</g>
<g clip-path="url(#c4_3)">
<polyline points="932.2,1530.6 951.8,1508.9 974.1,1481.7 996.3,1452.7 1018.6,1429.2 1040.8,1407.4 1063,1385.7 1085.3,1372.1 1107.5,1363.9 1129.8,1360.3 1152,1358.5" fill="none" stroke="#ff7c00" stroke-width="1.0" stroke-dasharray="1.9 2.0"/>
<path d="M949.7 1508l1.26 -1.26 0.92 0.92 0.92 -0.92 1.26 1.26 -0.92 0.92 0.92 0.92 -1.26 1.26 -0.92 -0.92 -0.92 0.92 -1.26 -1.26 0.92 -0.92zM971.9 1480.8l1.26 -1.26 0.92 0.92 0.92 -0.92 1.26 1.26 -0.92 0.92 0.92 0.92 -1.26 1.26 -0.92 -0.92 -0.92 0.92 -1.26 -1.26 0.92 -0.92zM994.1 1451.8l1.26 -1.26 0.92 0.92 0.92 -0.92 1.26 1.26 -0.92 0.92 0.92 0.92 -1.26 1.26 -0.92 -0.92 -0.92 0.92 -1.26 -1.26 0.92 -0.92zM1016.4 1428.2l1.26 -1.26 0.92 0.92 0.92 -0.92 1.26 1.26 -0.92 0.92 0.92 0.92 -1.26 1.26 -0.92 -0.92 -0.92 0.92 -1.26 -1.26 0.92 -0.92zM1038.6 1406.5l1.26 -1.26 0.92 0.92 0.92 -0.92 1.26 1.26 -0.92 0.92 0.92 0.92 -1.26 1.26 -0.92 -0.92 -0.92 0.92 -1.26 -1.26 0.92 -0.92zM1060.9 1384.8l1.26 -1.26 0.92 0.92 0.92 -0.92 1.26 1.26 -0.92 0.92 0.92 0.92 -1.26 1.26 -0.92 -0.92 -0.92 0.92 -1.26 -1.26 0.92 -0.92zM1083.1 1371.2l1.26 -1.26 0.92 0.92 0.92 -0.92 1.26 1.26 -0.92 0.92 0.92 0.92 -1.26 1.26 -0.92 -0.92 -0.92 0.92 -1.26 -1.26 0.92 -0.92zM1105.3 1363l1.26 -1.26 0.92 0.92 0.92 -0.92 1.26 1.26 -0.92 0.92 0.92 0.92 -1.26 1.26 -0.92 -0.92 -0.92 0.92 -1.26 -1.26 0.92 -0.92zM1127.6 1359.4l1.26 -1.26 0.92 0.92 0.92 -0.92 1.26 1.26 -0.92 0.92 0.92 0.92 -1.26 1.26 -0.92 -0.92 -0.92 0.92 -1.26 -1.26 0.92 -0.92zM1149.8 1357.6l1.26 -1.26 0.92 0.92 0.92 -0.92 1.26 1.26 -0.92 0.92 0.92 0.92 -1.26 1.26 -0.92 -0.92 -0.92 0.92 -1.26 -1.26 0.92 -0.92z" fill="#ff7c00" stroke="#fff" stroke-width="0.5"/>
</g>
<g clip-path="url(#c4_3)">
<polyline points="932.2,1530.6 951.8,1507.1 974.1,1479.9 996.3,1451.5 1018.6,1427.4 1040.8,1405.6 1063,1383.9 1085.3,1371 1107.5,1363 1129.8,1360.3 1152,1358.5" fill="none" stroke="#1ac938" stroke-width="1.0" stroke-dasharray="1.9 2.0"/>
<path d="M949.9 1505.1h3.91v3.91h-3.91zM972.1 1477.9h3.91v3.91h-3.91zM994.4 1449.5h3.91v3.91h-3.91zM1016.6 1425.4h3.91v3.91h-3.91zM1038.8 1403.7h3.91v3.91h-3.91zM1061.1 1381.9h3.91v3.91h-3.91zM1083.3 1369h3.91v3.91h-3.91zM1105.6 1361.1h3.91v3.91h-3.91zM1127.8 1358.4h3.91v3.91h-3.91zM1150 1356.5h3.91v3.91h-3.91z" fill="#1ac938" stroke="#fff" stroke-width="0.5"/>
</g>
<g clip-path="url(#c4_3)">
<polyline points="932.2,1530.6 951.8,1508.9 974.1,1483.5 996.3,1452.7 1018.6,1428.4 1040.8,1411.6 1063,1396 1085.3,1381.3 1107.5,1369.4 1129.8,1360.3 1152,1358.5" fill="none" stroke="#e8000b" stroke-width="1.0" stroke-dasharray="1.9 2.0"/>
<path d="M951 1506.6h1.75v1.43h1.43v1.75h-1.43v1.43h-1.75v-1.43h-1.43v-1.75h1.43zM973.2 1481.2h1.75v1.43h1.43v1.75h-1.43v1.43h-1.75v-1.43h-1.43v-1.75h1.43zM995.4 1450.4h1.75v1.43h1.43v1.75h-1.43v1.43h-1.75v-1.43h-1.43v-1.75h1.43zM1017.7 1426.1h1.75v1.43h1.43v1.75h-1.43v1.43h-1.75v-1.43h-1.43v-1.75h1.43zM1039.9 1409.3h1.75v1.43h1.43v1.75h-1.43v1.43h-1.75v-1.43h-1.43v-1.75h1.43zM1062.2 1393.7h1.75v1.43h1.43v1.75h-1.43v1.43h-1.75v-1.43h-1.43v-1.75h1.43zM1084.4 1379h1.75v1.43h1.43v1.75h-1.43v1.43h-1.75v-1.43h-1.43v-1.75h1.43zM1106.6 1367.1h1.75v1.43h1.43v1.75h-1.43v1.43h-1.75v-1.43h-1.43v-1.75h1.43zM1128.9 1358h1.75v1.43h1.43v1.75h-1.43v1.43h-1.75v-1.43h-1.43v-1.75h1.43zM1151.1 1356.2h1.75v1.43h1.43v1.75h-1.43v1.43h-1.75v-1.43h-1.43v-1.75h1.43z" fill="#e8000b" stroke="#fff" stroke-width="0.5"/>
</g>
<g clip-path="url(#c4_3)">
<polyline points="932.2,1530.6 951.8,1508.9 974.1,1479.2 996.3,1457.4 1018.6,1435.9 1040.8,1417.8 1063,1400 1085.3,1384.8 1107.5,1370.1 1129.8,1360.3 1152,1358.5" fill="none" stroke="#8b2be2" stroke-width="1.0" stroke-dasharray="1.9 2.0"/>
<path d="M951.8 1506.5l2.42 2.42l-2.42 2.42l-2.42 -2.42zM974.1 1476.8l2.42 2.42l-2.42 2.42l-2.42 -2.42zM996.3 1455l2.42 2.42l-2.42 2.42l-2.42 -2.42zM1018.6 1433.5l2.42 2.42l-2.42 2.42l-2.42 -2.42zM1040.8 1415.3l2.42 2.42l-2.42 2.42l-2.42 -2.42zM1063 1397.6l2.42 2.42l-2.42 2.42l-2.42 -2.42zM1085.3 1382.4l2.42 2.42l-2.42 2.42l-2.42 -2.42zM1107.5 1367.7l2.42 2.42l-2.42 2.42l-2.42 -2.42zM1129.8 1357.9l2.42 2.42l-2.42 2.42l-2.42 -2.42zM1152 1356.1l2.42 2.42l-2.42 2.42l-2.42 -2.42z" fill="#8b2be2" stroke="#fff" stroke-width="0.5"/>
</g>
<g clip-path="url(#c4_3)">
<polyline points="932.2,1530.6 951.8,1505.3 974.1,1474.5 996.3,1445.5 1018.6,1420.1 1040.8,1400.2 1063,1383.9 1085.3,1373 1107.5,1363.9 1129.8,1360.3 1152,1358.5" fill="none" stroke="#9f4800" stroke-width="1.0" stroke-dasharray="1.9 2.0"/>
<path d="M951.8 1502.9l1.38 2.42l-1.38 2.42l-1.38 -2.42zM974.1 1472.1l1.38 2.42l-1.38 2.42l-1.38 -2.42zM996.3 1443.1l1.38 2.42l-1.38 2.42l-1.38 -2.42zM1018.6 1417.7l1.38 2.42l-1.38 2.42l-1.38 -2.42zM1040.8 1397.8l1.38 2.42l-1.38 2.42l-1.38 -2.42zM1063 1381.5l1.38 2.42l-1.38 2.42l-1.38 -2.42zM1085.3 1370.6l1.38 2.42l-1.38 2.42l-1.38 -2.42zM1107.5 1361.5l1.38 2.42l-1.38 2.42l-1.38 -2.42zM1129.8 1357.9l1.38 2.42l-1.38 2.42l-1.38 -2.42zM1152 1356.1l1.38 2.42l-1.38 2.42l-1.38 -2.42z" fill="#9f4800" stroke="#fff" stroke-width="0.5"/>
</g>
<g clip-path="url(#c4_3)">
<polyline points="932.2,1530.6 951.8,1505.3 974.1,1474.5 996.3,1445.5 1018.6,1420.1 1040.8,1400.2 1063,1383.9 1085.3,1373 1107.5,1363.9 1129.8,1360.3 1152,1358.5" fill="none" stroke="#f14cc1" stroke-width="1.0" stroke-dasharray="1.9 2.0"/>
<path d="M951.8 1502.7l2.53 4.3h-5.06zM974.1 1471.9l2.53 4.3h-5.06zM996.3 1442.9l2.53 4.3h-5.06zM1018.6 1417.6l2.53 4.3h-5.06zM1040.8 1397.6l2.53 4.3h-5.06zM1063 1381.3l2.53 4.3h-5.06zM1085.3 1370.5l2.53 4.3h-5.06zM1107.5 1361.4l2.53 4.3h-5.06zM1129.8 1357.8l2.53 4.3h-5.06zM1152 1356l2.53 4.3h-5.06z" fill="#f14cc1" stroke="#fff" stroke-width="0.5"/>
</g>
<g clip-path="url(#c4_3)">
<polyline points="932.2,1530.6 951.8,1505.3 974.1,1474.5 996.3,1445.5 1018.6,1420.1 1040.8,1400.2 1063,1383.9 1085.3,1373 1107.5,1363.9 1129.8,1360.3 1152,1358.5" fill="none" stroke="#a3a3a3" stroke-width="1.0" stroke-dasharray="1.9 2.0"/>
<path d="M949.7 1504.4l1.26 -1.26 0.92 0.92 0.92 -0.92 1.26 1.26 -0.92 0.92 0.92 0.92 -1.26 1.26 -0.92 -0.92 -0.92 0.92 -1.26 -1.26 0.92 -0.92zM971.9 1473.5l1.26 -1.26 0.92 0.92 0.92 -0.92 1.26 1.26 -0.92 0.92 0.92 0.92 -1.26 1.26 -0.92 -0.92 -0.92 0.92 -1.26 -1.26 0.92 -0.92zM994.1 1444.6l1.26 -1.26 0.92 0.92 0.92 -0.92 1.26 1.26 -0.92 0.92 0.92 0.92 -1.26 1.26 -0.92 -0.92 -0.92 0.92 -1.26 -1.26 0.92 -0.92zM1016.4 1419.2l1.26 -1.26 0.92 0.92 0.92 -0.92 1.26 1.26 -0.92 0.92 0.92 0.92 -1.26 1.26 -0.92 -0.92 -0.92 0.92 -1.26 -1.26 0.92 -0.92zM1038.6 1399.3l1.26 -1.26 0.92 0.92 0.92 -0.92 1.26 1.26 -0.92 0.92 0.92 0.92 -1.26 1.26 -0.92 -0.92 -0.92 0.92 -1.26 -1.26 0.92 -0.92zM1060.9 1382.9l1.26 -1.26 0.92 0.92 0.92 -0.92 1.26 1.26 -0.92 0.92 0.92 0.92 -1.26 1.26 -0.92 -0.92 -0.92 0.92 -1.26 -1.26 0.92 -0.92zM1083.1 1372.1l1.26 -1.26 0.92 0.92 0.92 -0.92 1.26 1.26 -0.92 0.92 0.92 0.92 -1.26 1.26 -0.92 -0.92 -0.92 0.92 -1.26 -1.26 0.92 -0.92zM1105.3 1363l1.26 -1.26 0.92 0.92 0.92 -0.92 1.26 1.26 -0.92 0.92 0.92 0.92 -1.26 1.26 -0.92 -0.92 -0.92 0.92 -1.26 -1.26 0.92 -0.92zM1127.6 1359.4l1.26 -1.26 0.92 0.92 0.92 -0.92 1.26 1.26 -0.92 0.92 0.92 0.92 -1.26 1.26 -0.92 -0.92 -0.92 0.92 -1.26 -1.26 0.92 -0.92zM1149.8 1357.6l1.26 -1.26 0.92 0.92 0.92 -0.92 1.26 1.26 -0.92 0.92 0.92 0.92 -1.26 1.26 -0.92 -0.92 -0.92 0.92 -1.26 -1.26 0.92 -0.92z" fill="#a3a3a3" stroke="#fff" stroke-width="0.5"/>
</g>
<g clip-path="url(#c4_3)">
<polyline points="932.2,1527 951.8,1503.5 974.1,1467 996.3,1436.8 1018.6,1408.1 1040.8,1388.2 1063,1375.4 1085.3,1366.7 1107.5,1361.4 1129.8,1358.9 1152,1358.5" fill="none" stroke="#f4c31a" stroke-width="2.0" stroke-linejoin="round"/>
<path d="M951.8 1506l2.53 -4.3h-5.06zM974.1 1469.6l2.53 -4.3h-5.06zM996.3 1439.3l2.53 -4.3h-5.06zM1018.6 1410.7l2.53 -4.3h-5.06zM1040.8 1390.7l2.53 -4.3h-5.06zM1063 1377.9l2.53 -4.3h-5.06zM1085.3 1369.2l2.53 -4.3h-5.06zM1107.5 1363.9l2.53 -4.3h-5.06zM1129.8 1361.4l2.53 -4.3h-5.06zM1152 1361l2.53 -4.3h-5.06z" fill="#f4c31a" stroke="#fff" stroke-width="0.5"/>
</g>
<g clip-path="url(#c4_3)">
<polyline points="932.2,1526.7 951.8,1504.2 974.1,1473 996.3,1446.2 1018.6,1422.8 1040.8,1402.9 1063,1386.6 1085.3,1374.4 1107.5,1364.8 1129.8,1360.3 1152,1358.5" fill="none" stroke="#1ec8e2" stroke-width="2.0" stroke-linejoin="round"/>
<path d="M949.7 1503.3l1.26 -1.26 0.92 0.92 0.92 -0.92 1.26 1.26 -0.92 0.92 0.92 0.92 -1.26 1.26 -0.92 -0.92 -0.92 0.92 -1.26 -1.26 0.92 -0.92zM971.9 1472.1l1.26 -1.26 0.92 0.92 0.92 -0.92 1.26 1.26 -0.92 0.92 0.92 0.92 -1.26 1.26 -0.92 -0.92 -0.92 0.92 -1.26 -1.26 0.92 -0.92zM994.1 1445.3l1.26 -1.26 0.92 0.92 0.92 -0.92 1.26 1.26 -0.92 0.92 0.92 0.92 -1.26 1.26 -0.92 -0.92 -0.92 0.92 -1.26 -1.26 0.92 -0.92zM1016.4 1421.9l1.26 -1.26 0.92 0.92 0.92 -0.92 1.26 1.26 -0.92 0.92 0.92 0.92 -1.26 1.26 -0.92 -0.92 -0.92 0.92 -1.26 -1.26 0.92 -0.92zM1038.6 1402l1.26 -1.26 0.92 0.92 0.92 -0.92 1.26 1.26 -0.92 0.92 0.92 0.92 -1.26 1.26 -0.92 -0.92 -0.92 0.92 -1.26 -1.26 0.92 -0.92zM1060.9 1385.7l1.26 -1.26 0.92 0.92 0.92 -0.92 1.26 1.26 -0.92 0.92 0.92 0.92 -1.26 1.26 -0.92 -0.92 -0.92 0.92 -1.26 -1.26 0.92 -0.92zM1083.1 1373.5l1.26 -1.26 0.92 0.92 0.92 -0.92 1.26 1.26 -0.92 0.92 0.92 0.92 -1.26 1.26 -0.92 -0.92 -0.92 0.92 -1.26 -1.26 0.92 -0.92zM1105.3 1363.9l1.26 -1.26 0.92 0.92 0.92 -0.92 1.26 1.26 -0.92 0.92 0.92 0.92 -1.26 1.26 -0.92 -0.92 -0.92 0.92 -1.26 -1.26 0.92 -0.92zM1127.6 1359.4l1.26 -1.26 0.92 0.92 0.92 -0.92 1.26 1.26 -0.92 0.92 0.92 0.92 -1.26 1.26 -0.92 -0.92 -0.92 0.92 -1.26 -1.26 0.92 -0.92zM1149.8 1357.6l1.26 -1.26 0.92 0.92 0.92 -0.92 1.26 1.26 -0.92 0.92 0.92 0.92 -1.26 1.26 -0.92 -0.92 -0.92 0.92 -1.26 -1.26 0.92 -0.92z" fill="#1ec8e2" stroke="#fff" stroke-width="0.5"/>
<path d="M974.1 1476.6V1469.4M996.3 1449.8V1442.6M1018.6 1426.5V1419.2M1040.8 1406.5V1399.3" stroke="#1ec8e2" stroke-width="1.6"/>
</g>
<g clip-path="url(#c4_3)">
<polyline points="932.2,1532.8 974.1,1462.7 996.3,1431.5 1018.6,1402.2 1040.8,1383.1 1063,1371 1085.3,1364.8 1107.5,1360.9 1129.8,1358.9 1152,1358.5" fill="none" stroke="#1a3ad6" stroke-width="2.0" stroke-linejoin="round"/>
<path d="M971.8 1462.7a2.3 2.3 0 1 0 4.6 0a2.3 2.3 0 1 0 -4.6 0zM994 1431.5a2.3 2.3 0 1 0 4.6 0a2.3 2.3 0 1 0 -4.6 0zM1016.3 1402.2a2.3 2.3 0 1 0 4.6 0a2.3 2.3 0 1 0 -4.6 0zM1038.5 1383.1a2.3 2.3 0 1 0 4.6 0a2.3 2.3 0 1 0 -4.6 0zM1060.7 1371a2.3 2.3 0 1 0 4.6 0a2.3 2.3 0 1 0 -4.6 0zM1083 1364.8a2.3 2.3 0 1 0 4.6 0a2.3 2.3 0 1 0 -4.6 0zM1105.2 1360.9a2.3 2.3 0 1 0 4.6 0a2.3 2.3 0 1 0 -4.6 0zM1127.5 1358.9a2.3 2.3 0 1 0 4.6 0a2.3 2.3 0 1 0 -4.6 0zM1149.7 1358.5a2.3 2.3 0 1 0 4.6 0a2.3 2.3 0 1 0 -4.6 0z" fill="#1a3ad6" stroke="#fff" stroke-width="0.5"/>
</g>
<rect x="1163.8" y="1349.8" width="154.7" height="219" rx="2" fill="#fff" stroke="#cccccc" stroke-width="1"/>
<path d="M1168.8 1360.5H1193.9" stroke="#023eff" stroke-width="1.0" stroke-dasharray="1.9 2.0"/>
<path d="M1178.2 1360.5a3.6 3.6 0 1 0 7.2 0a3.6 3.6 0 1 0 -7.2 0z" fill="#023eff" stroke="#fff" stroke-width="0.5"/>
<text x="1207.6" y="1365.4" font-size="14.10" text-anchor="start" textLength="27.9" lengthAdjust="spacingAndGlyphs" fill="#262626" >MSP</text>
<path d="M1168.8 1380.2H1193.9" stroke="#ff7c00" stroke-width="1.0" stroke-dasharray="1.9 2.0"/>
<path d="M1178.4 1378.8l1.98 -1.98 1.44 1.44 1.44 -1.44 1.98 1.98 -1.44 1.44 1.44 1.44 -1.98 1.98 -1.44 -1.44 -1.44 1.44 -1.98 -1.98 1.44 -1.44z" fill="#ff7c00" stroke="#fff" stroke-width="0.5"/>
<text x="1207.6" y="1385.1" font-size="14.10" text-anchor="start" textLength="60.2" lengthAdjust="spacingAndGlyphs" fill="#262626" >MaxLogit</text>
<path d="M1168.8 1400H1193.9" stroke="#1ac938" stroke-width="1.0" stroke-dasharray="1.9 2.0"/>
<path d="M1178.8 1396.9h6.12v6.12h-6.12z" fill="#1ac938" stroke="#fff" stroke-width="0.5"/>
<text x="1207.6" y="1404.8" font-size="14.10" text-anchor="start" textLength="46.6" lengthAdjust="spacingAndGlyphs" fill="#262626" >Energy</text>
<path d="M1168.8 1419.6H1193.9" stroke="#e8000b" stroke-width="1.0" stroke-dasharray="1.9 2.0"/>
<path d="M1180.5 1416h2.74v2.23h2.23v2.74h-2.23v2.23h-2.74v-2.23h-2.23v-2.74h2.23z" fill="#e8000b" stroke="#fff" stroke-width="0.5"/>
<text x="1207.6" y="1424.5" font-size="14.10" text-anchor="start" textLength="39.6" lengthAdjust="spacingAndGlyphs" fill="#262626" >SIRC [</text>
<text x="1247.2" y="1424.5" font-size="14.10" text-anchor="start" textLength="7.4" lengthAdjust="spacingAndGlyphs" fill="#262626" font-style="italic">L</text>
<text x="1254.7" y="1427" font-size="9.87" text-anchor="start" textLength="5.9" lengthAdjust="spacingAndGlyphs" fill="#262626" >1</text>
<text x="1261.1" y="1424.5" font-size="14.10" text-anchor="start" textLength="5.2" lengthAdjust="spacingAndGlyphs" fill="#262626" >]</text>
<path d="M1168.8 1439.3H1193.9" stroke="#8b2be2" stroke-width="1.0" stroke-dasharray="1.9 2.0"/>
<path d="M1181.8 1435.6l3.78 3.78l-3.78 3.78l-3.78 -3.78z" fill="#8b2be2" stroke="#fff" stroke-width="0.5"/>
<text x="1207.6" y="1444.2" font-size="14.10" text-anchor="start" textLength="68.6" lengthAdjust="spacingAndGlyphs" fill="#262626" >SIRC [Res]</text>
<path d="M1168.8 1459H1193.9" stroke="#9f4800" stroke-width="1.0" stroke-dasharray="1.9 2.0"/>
<path d="M1181.8 1455.3l2.16 3.78l-2.16 3.78l-2.16 -3.78z" fill="#9f4800" stroke="#fff" stroke-width="0.5"/>
<text x="1207.6" y="1463.9" font-size="14.10" text-anchor="start" textLength="33.6" lengthAdjust="spacingAndGlyphs" fill="#262626" >CCE*</text>
<path d="M1168.8 1478.8H1193.9" stroke="#f14cc1" stroke-width="1.0" stroke-dasharray="1.9 2.0"/>
<path d="M1181.8 1474.8l3.96 6.73h-7.92z" fill="#f14cc1" stroke="#fff" stroke-width="0.5"/>
<text x="1207.6" y="1483.6" font-size="14.10" text-anchor="start" textLength="34.6" lengthAdjust="spacingAndGlyphs" fill="#262626" >DCE*</text>
<path d="M1168.8 1498.5H1193.9" stroke="#a3a3a3" stroke-width="1.0" stroke-dasharray="1.9 2.0"/>
<path d="M1178.4 1497l1.98 -1.98 1.44 1.44 1.44 -1.44 1.98 1.98 -1.44 1.44 1.44 1.44 -1.98 1.98 -1.44 -1.44 -1.44 1.44 -1.98 -1.98 1.44 -1.44z" fill="#a3a3a3" stroke="#fff" stroke-width="0.5"/>
<text x="1207.6" y="1503.3" font-size="14.10" text-anchor="start" textLength="25.5" lengthAdjust="spacingAndGlyphs" fill="#262626" >OE*</text>
<path d="M1168.8 1518.1H1193.9" stroke="#f4c31a" stroke-width="2.6"/>
<path d="M1181.8 1522.1l3.96 -6.73h-7.92z" fill="#f4c31a" stroke="#fff" stroke-width="0.5"/>
<text x="1207.6" y="1523" font-size="14.10" text-anchor="start" textLength="77.4" lengthAdjust="spacingAndGlyphs" fill="#262626" >Plug-in BB [</text>
<text x="1285" y="1523" font-size="14.10" text-anchor="start" textLength="7.4" lengthAdjust="spacingAndGlyphs" fill="#262626" font-style="italic">L</text>
<text x="1292.4" y="1525.5" font-size="9.87" text-anchor="start" textLength="5.9" lengthAdjust="spacingAndGlyphs" fill="#262626" >1</text>
<text x="1298.8" y="1523" font-size="14.10" text-anchor="start" textLength="5.2" lengthAdjust="spacingAndGlyphs" fill="#262626" >]</text>
<path d="M1168.8 1537.8H1193.9" stroke="#1ec8e2" stroke-width="2.6"/>
<path d="M1178.4 1536.4l1.98 -1.98 1.44 1.44 1.44 -1.44 1.98 1.98 -1.44 1.44 1.44 1.44 -1.98 1.98 -1.44 -1.44 -1.44 1.44 -1.98 -1.98 1.44 -1.44z" fill="#1ec8e2" stroke="#fff" stroke-width="0.5"/>
<text x="1207.6" y="1542.7" font-size="14.10" text-anchor="start" textLength="106.3" lengthAdjust="spacingAndGlyphs" fill="#262626" >Plug-in BB [Res]</text>
<path d="M1168.8 1557.5H1193.9" stroke="#1a3ad6" stroke-width="2.6"/>
<path d="M1178.2 1557.5a3.6 3.6 0 1 0 7.2 0a3.6 3.6 0 1 0 -7.2 0z" fill="#1a3ad6" stroke="#fff" stroke-width="0.5"/>
<text x="1207.6" y="1562.4" font-size="14.10" text-anchor="start" textLength="72.9" lengthAdjust="spacingAndGlyphs" fill="#262626" >Plug-in LB*</text>
<text x="393.3" y="1650.0" font-family="Liberation Serif, serif" font-size="33.0" textLength="32.5" lengthAdjust="spacingAndGlyphs" fill="#000">(e)</text><path d="M440.8 1629.0H452.8C461.4 1629.0 461.4 1637.8 452.8 1637.8H448.1M444.1 1629.0V1649.3M448.1 1629.0V1649.3M440.8 1649.3H451.4" stroke="#000" stroke-width="1.25" fill="none"/><path d="M454.1 1629.5C458.0 1630.8 458.0 1636.0 454.1 1637.3" stroke="#000" stroke-width="0.9" fill="none"/><text x="460.3" y="1652.5" font-family="Liberation Serif, serif" font-size="22.0" textLength="19.5" lengthAdjust="spacingAndGlyphs" fill="#000">in</text><text x="482.8" y="1650.0" font-family="Liberation Serif, serif" font-size="33.0" textLength="6.5" lengthAdjust="spacingAndGlyphs" fill="#000">:</text><text x="502.3" y="1650.0" font-family="Liberation Serif, serif" font-size="33.0" textLength="153.1" lengthAdjust="spacingAndGlyphs" fill="#000">CIFAR-100;</text><path d="M688.0 1629.0H700.0C708.6 1629.0 708.6 1637.8 700.0 1637.8H695.2M691.2 1629.0V1649.3M695.2 1629.0V1649.3M688.0 1649.3H698.6" stroke="#000" stroke-width="1.25" fill="none"/><path d="M701.3 1629.5C705.2 1630.8 705.2 1636.0 701.3 1637.3" stroke="#000" stroke-width="0.9" fill="none"/><text x="706.5" y="1652.5" font-family="Liberation Serif, serif" font-size="22.0" textLength="35.0" lengthAdjust="spacingAndGlyphs" fill="#000">out</text><text x="745.8" y="1650.0" font-family="Liberation Serif, serif" font-size="33.0" textLength="6.5" lengthAdjust="spacingAndGlyphs" fill="#000">:</text><text x="764.8" y="1650.0" font-family="Liberation Serif, serif" font-size="33.0" textLength="163.8" lengthAdjust="spacingAndGlyphs" fill="#000">Open Images</text>
<rect x="49.2" y="1686.8" width="219.8" height="199.1" fill="#eaeaf2"/>
<clipPath id="c5_0"><rect x="49.2" y="1686.8" width="219.8" height="199.1"/></clipPath>
<path d="M91.1 1686.8V1885.9M135.6 1686.8V1885.9M180 1686.8V1885.9M224.5 1686.8V1885.9M269 1686.8V1885.9M49.2 1878.4H269M49.2 1841.4H269M49.2 1804.3H269M49.2 1767.3H269M49.2 1730.3H269M49.2 1693.2H269" stroke="#fff" stroke-width="1.1" fill="none"/>
<text x="91.1" y="1905.9" font-size="14.31" text-anchor="middle" textLength="20.3" lengthAdjust="spacingAndGlyphs" fill="#262626" >0.2</text>
<text x="135.6" y="1905.9" font-size="14.31" text-anchor="middle" textLength="20.3" lengthAdjust="spacingAndGlyphs" fill="#262626" >0.4</text>
<text x="180" y="1905.9" font-size="14.31" text-anchor="middle" textLength="20.3" lengthAdjust="spacingAndGlyphs" fill="#262626" >0.6</text>
<text x="224.5" y="1905.9" font-size="14.31" text-anchor="middle" textLength="20.3" lengthAdjust="spacingAndGlyphs" fill="#262626" >0.8</text>
<text x="269" y="1905.9" font-size="14.31" text-anchor="middle" textLength="20.3" lengthAdjust="spacingAndGlyphs" fill="#262626" >1.0</text>
<text x="39.2" y="1883.8" font-size="14.31" text-anchor="end" textLength="20.3" lengthAdjust="spacingAndGlyphs" fill="#262626" >0.0</text>
<text x="39.2" y="1846.8" font-size="14.31" text-anchor="end" textLength="20.3" lengthAdjust="spacingAndGlyphs" fill="#262626" >0.1</text>
<text x="39.2" y="1809.8" font-size="14.31" text-anchor="end" textLength="20.3" lengthAdjust="spacingAndGlyphs" fill="#262626" >0.2</text>
<text x="39.2" y="1772.7" font-size="14.31" text-anchor="end" textLength="20.3" lengthAdjust="spacingAndGlyphs" fill="#262626" >0.3</text>
<text x="39.2" y="1735.7" font-size="14.31" text-anchor="end" textLength="20.3" lengthAdjust="spacingAndGlyphs" fill="#262626" >0.4</text>
<text x="39.2" y="1698.7" font-size="14.31" text-anchor="end" textLength="20.3" lengthAdjust="spacingAndGlyphs" fill="#262626" >0.5</text>
<text x="159.1" y="1923.9" font-size="15.48" text-anchor="middle" textLength="139.0" lengthAdjust="spacingAndGlyphs" fill="#262626" >Samples abstained</text>
<g transform="translate(11.5 1786.4) rotate(-90)"><text x="0" y="0" font-size="15.48" text-anchor="middle" textLength="63.0" lengthAdjust="spacingAndGlyphs" fill="#262626" >Joint risk</text></g>
<g clip-path="url(#c5_0)">
<polyline points="49.2,1708.1 68.8,1711.8 91.1,1714.7 113.3,1721 135.6,1728.8 157.8,1736.6 180,1748.8 202.3,1768.4 224.5,1795.5 246.8,1837.7 269,1872.5" fill="none" stroke="#023eff" stroke-width="1.0" stroke-dasharray="1.9 2.0"/>
<path d="M66.5 1711.8a2.3 2.3 0 1 0 4.6 0a2.3 2.3 0 1 0 -4.6 0zM88.8 1714.7a2.3 2.3 0 1 0 4.6 0a2.3 2.3 0 1 0 -4.6 0zM111 1721a2.3 2.3 0 1 0 4.6 0a2.3 2.3 0 1 0 -4.6 0zM133.3 1728.8a2.3 2.3 0 1 0 4.6 0a2.3 2.3 0 1 0 -4.6 0zM155.5 1736.6a2.3 2.3 0 1 0 4.6 0a2.3 2.3 0 1 0 -4.6 0zM177.7 1748.8a2.3 2.3 0 1 0 4.6 0a2.3 2.3 0 1 0 -4.6 0zM200 1768.4a2.3 2.3 0 1 0 4.6 0a2.3 2.3 0 1 0 -4.6 0zM222.2 1795.5a2.3 2.3 0 1 0 4.6 0a2.3 2.3 0 1 0 -4.6 0zM244.5 1837.7a2.3 2.3 0 1 0 4.6 0a2.3 2.3 0 1 0 -4.6 0zM266.7 1872.5a2.3 2.3 0 1 0 4.6 0a2.3 2.3 0 1 0 -4.6 0z" fill="#023eff" stroke="#fff" stroke-width="0.5"/>
<path d="M91.1 1717.7V1711.8M113.3 1728.4V1713.6M135.6 1738.1V1719.5M157.8 1749.5V1723.6M180 1763.6V1734M202.3 1785.1V1751.8M224.5 1815.8V1775.1M246.8 1852.5V1822.9" stroke="#023eff" stroke-width="1.6"/>
</g>
<g clip-path="url(#c5_0)">
<polyline points="49.2,1699.2 68.8,1712.9 91.1,1719.2 113.3,1728.4 135.6,1740.6 157.8,1757.3 180,1779.9 202.3,1803.2 224.5,1822.9 246.8,1841.4 269,1856.2" fill="none" stroke="#ff7c00" stroke-width="1.0" stroke-dasharray="1.9 2.0"/>
<path d="M66.7 1712l1.26 -1.26 0.92 0.92 0.92 -0.92 1.26 1.26 -0.92 0.92 0.92 0.92 -1.26 1.26 -0.92 -0.92 -0.92 0.92 -1.26 -1.26 0.92 -0.92zM88.9 1718.3l1.26 -1.26 0.92 0.92 0.92 -0.92 1.26 1.26 -0.92 0.92 0.92 0.92 -1.26 1.26 -0.92 -0.92 -0.92 0.92 -1.26 -1.26 0.92 -0.92zM111.1 1727.5l1.26 -1.26 0.92 0.92 0.92 -0.92 1.26 1.26 -0.92 0.92 0.92 0.92 -1.26 1.26 -0.92 -0.92 -0.92 0.92 -1.26 -1.26 0.92 -0.92zM133.4 1739.7l1.26 -1.26 0.92 0.92 0.92 -0.92 1.26 1.26 -0.92 0.92 0.92 0.92 -1.26 1.26 -0.92 -0.92 -0.92 0.92 -1.26 -1.26 0.92 -0.92zM155.6 1756.4l1.26 -1.26 0.92 0.92 0.92 -0.92 1.26 1.26 -0.92 0.92 0.92 0.92 -1.26 1.26 -0.92 -0.92 -0.92 0.92 -1.26 -1.26 0.92 -0.92zM177.9 1779l1.26 -1.26 0.92 0.92 0.92 -0.92 1.26 1.26 -0.92 0.92 0.92 0.92 -1.26 1.26 -0.92 -0.92 -0.92 0.92 -1.26 -1.26 0.92 -0.92zM200.1 1802.3l1.26 -1.26 0.92 0.92 0.92 -0.92 1.26 1.26 -0.92 0.92 0.92 0.92 -1.26 1.26 -0.92 -0.92 -0.92 0.92 -1.26 -1.26 0.92 -0.92zM222.3 1821.9l1.26 -1.26 0.92 0.92 0.92 -0.92 1.26 1.26 -0.92 0.92 0.92 0.92 -1.26 1.26 -0.92 -0.92 -0.92 0.92 -1.26 -1.26 0.92 -0.92zM244.6 1840.5l1.26 -1.26 0.92 0.92 0.92 -0.92 1.26 1.26 -0.92 0.92 0.92 0.92 -1.26 1.26 -0.92 -0.92 -0.92 0.92 -1.26 -1.26 0.92 -0.92zM266.8 1855.3l1.26 -1.26 0.92 0.92 0.92 -0.92 1.26 1.26 -0.92 0.92 0.92 0.92 -1.26 1.26 -0.92 -0.92 -0.92 0.92 -1.26 -1.26 0.92 -0.92z" fill="#ff7c00" stroke="#fff" stroke-width="0.5"/>
<path d="M113.3 1734V1722.9M135.6 1748.1V1733.2M157.8 1766.6V1748.1M180 1791V1768.8M202.3 1816.2V1790.3M224.5 1834V1811.7" stroke="#ff7c00" stroke-width="1.6"/>
</g>
<g clip-path="url(#c5_0)">
<polyline points="49.2,1699.2 68.8,1712.9 91.1,1719.2 113.3,1728.4 135.6,1740.6 157.8,1760.3 180,1785.5 202.3,1807.3 224.5,1825.4 246.8,1841.4 269,1863.6" fill="none" stroke="#1ac938" stroke-width="1.0" stroke-dasharray="1.9 2.0"/>
<path d="M66.9 1710.9h3.91v3.91h-3.91zM89.1 1717.2h3.91v3.91h-3.91zM111.4 1726.5h3.91v3.91h-3.91zM133.6 1738.7h3.91v3.91h-3.91zM155.8 1758.3h3.91v3.91h-3.91zM178.1 1783.5h3.91v3.91h-3.91zM200.3 1805.3h3.91v3.91h-3.91zM222.6 1823.5h3.91v3.91h-3.91zM244.8 1839.4h3.91v3.91h-3.91zM267 1861.6h3.91v3.91h-3.91z" fill="#1ac938" stroke="#fff" stroke-width="0.5"/>
<path d="M113.3 1734V1722.9M135.6 1748.1V1733.2M157.8 1769.5V1751M180 1796.6V1774.3M202.3 1820.3V1794.3M224.5 1836.6V1814.3" stroke="#1ac938" stroke-width="1.6"/>
</g>
<g clip-path="url(#c5_0)">
<polyline points="49.2,1714 68.8,1722.9 91.1,1737.3 113.3,1758.1 135.6,1782.1 157.8,1808 180,1817.3 202.3,1822.9 224.5,1830.3 246.8,1845.1 269,1859.9" fill="none" stroke="#e8000b" stroke-width="1.0" stroke-dasharray="1.9 2.0"/>
<path d="M68 1720.6h1.75v1.43h1.43v1.75h-1.43v1.43h-1.75v-1.43h-1.43v-1.75h1.43zM90.2 1735h1.75v1.43h1.43v1.75h-1.43v1.43h-1.75v-1.43h-1.43v-1.75h1.43zM112.4 1755.8h1.75v1.43h1.43v1.75h-1.43v1.43h-1.75v-1.43h-1.43v-1.75h1.43zM134.7 1779.8h1.75v1.43h1.43v1.75h-1.43v1.43h-1.75v-1.43h-1.43v-1.75h1.43zM156.9 1805.7h1.75v1.43h1.43v1.75h-1.43v1.43h-1.75v-1.43h-1.43v-1.75h1.43zM179.2 1815h1.75v1.43h1.43v1.75h-1.43v1.43h-1.75v-1.43h-1.43v-1.75h1.43zM201.4 1820.6h1.75v1.43h1.43v1.75h-1.43v1.43h-1.75v-1.43h-1.43v-1.75h1.43zM223.6 1828h1.75v1.43h1.43v1.75h-1.43v1.43h-1.75v-1.43h-1.43v-1.75h1.43zM245.9 1842.8h1.75v1.43h1.43v1.75h-1.43v1.43h-1.75v-1.43h-1.43v-1.75h1.43zM268.1 1857.6h1.75v1.43h1.43v1.75h-1.43v1.43h-1.75v-1.43h-1.43v-1.75h1.43z" fill="#e8000b" stroke="#fff" stroke-width="0.5"/>
</g>
<g clip-path="url(#c5_0)">
<polyline points="49.2,1714 68.8,1722.9 91.1,1737.3 113.3,1756.2 135.6,1780.3 157.8,1805.8 180,1816.2 202.3,1822.1 224.5,1830.3 246.8,1845.1 269,1859.9" fill="none" stroke="#8b2be2" stroke-width="1.0" stroke-dasharray="1.9 2.0"/>
<path d="M68.8 1720.5l2.42 2.42l-2.42 2.42l-2.42 -2.42zM91.1 1734.9l2.42 2.42l-2.42 2.42l-2.42 -2.42zM113.3 1753.8l2.42 2.42l-2.42 2.42l-2.42 -2.42zM135.6 1777.9l2.42 2.42l-2.42 2.42l-2.42 -2.42zM157.8 1803.4l2.42 2.42l-2.42 2.42l-2.42 -2.42zM180 1813.8l2.42 2.42l-2.42 2.42l-2.42 -2.42zM202.3 1819.7l2.42 2.42l-2.42 2.42l-2.42 -2.42zM224.5 1827.8l2.42 2.42l-2.42 2.42l-2.42 -2.42zM246.8 1842.7l2.42 2.42l-2.42 2.42l-2.42 -2.42zM269 1857.5l2.42 2.42l-2.42 2.42l-2.42 -2.42z" fill="#8b2be2" stroke="#fff" stroke-width="0.5"/>
<path d="M157.8 1811.4V1800.3M180 1823.6V1808.8M202.3 1827.7V1816.6" stroke="#8b2be2" stroke-width="1.6"/>
</g>
<g clip-path="url(#c5_0)">
<polyline points="49.2,1714 68.8,1722.9 91.1,1737.3 113.3,1756.2 135.6,1780.3 157.8,1808 180,1817.3 202.3,1822.9 224.5,1828.4 246.8,1837.7 269,1852.5" fill="none" stroke="#9f4800" stroke-width="1.0" stroke-dasharray="1.9 2.0"/>
<path d="M68.8 1720.5l1.38 2.42l-1.38 2.42l-1.38 -2.42zM91.1 1734.9l1.38 2.42l-1.38 2.42l-1.38 -2.42zM113.3 1753.8l1.38 2.42l-1.38 2.42l-1.38 -2.42zM135.6 1777.9l1.38 2.42l-1.38 2.42l-1.38 -2.42zM157.8 1805.6l1.38 2.42l-1.38 2.42l-1.38 -2.42zM180 1814.9l1.38 2.42l-1.38 2.42l-1.38 -2.42zM202.3 1820.4l1.38 2.42l-1.38 2.42l-1.38 -2.42zM224.5 1826l1.38 2.42l-1.38 2.42l-1.38 -2.42zM246.8 1835.3l1.38 2.42l-1.38 2.42l-1.38 -2.42zM269 1850.1l1.38 2.42l-1.38 2.42l-1.38 -2.42z" fill="#9f4800" stroke="#fff" stroke-width="0.5"/>
</g>
<g clip-path="url(#c5_0)">
<polyline points="49.2,1715.5 68.8,1727.7 91.1,1743.6 113.3,1763.2 135.6,1791 157.8,1808 180,1815.4 202.3,1822.9 224.5,1830.3 246.8,1832.5 269,1836.2" fill="none" stroke="#f14cc1" stroke-width="1.0" stroke-dasharray="1.9 2.0"/>
<path d="M68.8 1725.2l2.53 4.3h-5.06zM91.1 1741.1l2.53 4.3h-5.06zM113.3 1760.7l2.53 4.3h-5.06zM135.6 1788.5l2.53 4.3h-5.06zM157.8 1805.5l2.53 4.3h-5.06zM180 1812.9l2.53 4.3h-5.06zM202.3 1820.3l2.53 4.3h-5.06zM224.5 1827.7l2.53 4.3h-5.06zM246.8 1830l2.53 4.3h-5.06zM269 1833.7l2.53 4.3h-5.06z" fill="#f14cc1" stroke="#fff" stroke-width="0.5"/>
</g>
<g clip-path="url(#c5_0)">
<polyline points="49.2,1711.8 68.8,1721 91.1,1735.8 113.3,1752.5 135.6,1778.4 157.8,1806.2 180,1815.4 202.3,1822.9 224.5,1828.4 246.8,1841.4 269,1859.9" fill="none" stroke="#a3a3a3" stroke-width="1.0" stroke-dasharray="1.9 2.0"/>
<path d="M66.7 1720.1l1.26 -1.26 0.92 0.92 0.92 -0.92 1.26 1.26 -0.92 0.92 0.92 0.92 -1.26 1.26 -0.92 -0.92 -0.92 0.92 -1.26 -1.26 0.92 -0.92zM88.9 1734.9l1.26 -1.26 0.92 0.92 0.92 -0.92 1.26 1.26 -0.92 0.92 0.92 0.92 -1.26 1.26 -0.92 -0.92 -0.92 0.92 -1.26 -1.26 0.92 -0.92zM111.1 1751.6l1.26 -1.26 0.92 0.92 0.92 -0.92 1.26 1.26 -0.92 0.92 0.92 0.92 -1.26 1.26 -0.92 -0.92 -0.92 0.92 -1.26 -1.26 0.92 -0.92zM133.4 1777.5l1.26 -1.26 0.92 0.92 0.92 -0.92 1.26 1.26 -0.92 0.92 0.92 0.92 -1.26 1.26 -0.92 -0.92 -0.92 0.92 -1.26 -1.26 0.92 -0.92zM155.6 1805.3l1.26 -1.26 0.92 0.92 0.92 -0.92 1.26 1.26 -0.92 0.92 0.92 0.92 -1.26 1.26 -0.92 -0.92 -0.92 0.92 -1.26 -1.26 0.92 -0.92zM177.9 1814.5l1.26 -1.26 0.92 0.92 0.92 -0.92 1.26 1.26 -0.92 0.92 0.92 0.92 -1.26 1.26 -0.92 -0.92 -0.92 0.92 -1.26 -1.26 0.92 -0.92zM200.1 1821.9l1.26 -1.26 0.92 0.92 0.92 -0.92 1.26 1.26 -0.92 0.92 0.92 0.92 -1.26 1.26 -0.92 -0.92 -0.92 0.92 -1.26 -1.26 0.92 -0.92zM222.3 1827.5l1.26 -1.26 0.92 0.92 0.92 -0.92 1.26 1.26 -0.92 0.92 0.92 0.92 -1.26 1.26 -0.92 -0.92 -0.92 0.92 -1.26 -1.26 0.92 -0.92zM244.6 1840.5l1.26 -1.26 0.92 0.92 0.92 -0.92 1.26 1.26 -0.92 0.92 0.92 0.92 -1.26 1.26 -0.92 -0.92 -0.92 0.92 -1.26 -1.26 0.92 -0.92zM266.8 1859l1.26 -1.26 0.92 0.92 0.92 -0.92 1.26 1.26 -0.92 0.92 0.92 0.92 -1.26 1.26 -0.92 -0.92 -0.92 0.92 -1.26 -1.26 0.92 -0.92z" fill="#a3a3a3" stroke="#fff" stroke-width="0.5"/>
<path d="M68.8 1724.7V1717.3M113.3 1756.2V1748.8M135.6 1782.1V1774.7" stroke="#a3a3a3" stroke-width="1.6"/>
</g>
<g clip-path="url(#c5_0)">
<polyline points="49.2,1714 68.8,1722.9 91.1,1737.3 113.3,1758.1 135.6,1784 157.8,1815.1 180,1824 202.3,1829.2 224.5,1836.2 246.8,1849.9 269,1865.4" fill="none" stroke="#f4c31a" stroke-width="2.0" stroke-linejoin="round"/>
<path d="M68.8 1725.4l2.53 -4.3h-5.06zM91.1 1739.8l2.53 -4.3h-5.06zM113.3 1760.6l2.53 -4.3h-5.06zM135.6 1786.5l2.53 -4.3h-5.06zM157.8 1817.6l2.53 -4.3h-5.06zM180 1826.5l2.53 -4.3h-5.06zM202.3 1831.7l2.53 -4.3h-5.06zM224.5 1838.7l2.53 -4.3h-5.06zM246.8 1852.4l2.53 -4.3h-5.06zM269 1868l2.53 -4.3h-5.06z" fill="#f4c31a" stroke="#fff" stroke-width="0.5"/>
</g>
<g clip-path="url(#c5_0)">
<polyline points="49.2,1713.2 68.8,1722.1 91.1,1736.9 113.3,1756.6 135.6,1781.4 157.8,1811 180,1820.3 202.3,1826.6 224.5,1835.1 246.8,1848 269,1863.6" fill="none" stroke="#1ec8e2" stroke-width="2.0" stroke-linejoin="round"/>
<path d="M66.7 1721.2l1.26 -1.26 0.92 0.92 0.92 -0.92 1.26 1.26 -0.92 0.92 0.92 0.92 -1.26 1.26 -0.92 -0.92 -0.92 0.92 -1.26 -1.26 0.92 -0.92zM88.9 1736l1.26 -1.26 0.92 0.92 0.92 -0.92 1.26 1.26 -0.92 0.92 0.92 0.92 -1.26 1.26 -0.92 -0.92 -0.92 0.92 -1.26 -1.26 0.92 -0.92zM111.1 1755.7l1.26 -1.26 0.92 0.92 0.92 -0.92 1.26 1.26 -0.92 0.92 0.92 0.92 -1.26 1.26 -0.92 -0.92 -0.92 0.92 -1.26 -1.26 0.92 -0.92zM133.4 1780.5l1.26 -1.26 0.92 0.92 0.92 -0.92 1.26 1.26 -0.92 0.92 0.92 0.92 -1.26 1.26 -0.92 -0.92 -0.92 0.92 -1.26 -1.26 0.92 -0.92zM155.6 1810.1l1.26 -1.26 0.92 0.92 0.92 -0.92 1.26 1.26 -0.92 0.92 0.92 0.92 -1.26 1.26 -0.92 -0.92 -0.92 0.92 -1.26 -1.26 0.92 -0.92zM177.9 1819.3l1.26 -1.26 0.92 0.92 0.92 -0.92 1.26 1.26 -0.92 0.92 0.92 0.92 -1.26 1.26 -0.92 -0.92 -0.92 0.92 -1.26 -1.26 0.92 -0.92zM200.1 1825.6l1.26 -1.26 0.92 0.92 0.92 -0.92 1.26 1.26 -0.92 0.92 0.92 0.92 -1.26 1.26 -0.92 -0.92 -0.92 0.92 -1.26 -1.26 0.92 -0.92zM222.3 1834.2l1.26 -1.26 0.92 0.92 0.92 -0.92 1.26 1.26 -0.92 0.92 0.92 0.92 -1.26 1.26 -0.92 -0.92 -0.92 0.92 -1.26 -1.26 0.92 -0.92zM244.6 1847.1l1.26 -1.26 0.92 0.92 0.92 -0.92 1.26 1.26 -0.92 0.92 0.92 0.92 -1.26 1.26 -0.92 -0.92 -0.92 0.92 -1.26 -1.26 0.92 -0.92zM266.8 1862.7l1.26 -1.26 0.92 0.92 0.92 -0.92 1.26 1.26 -0.92 0.92 0.92 0.92 -1.26 1.26 -0.92 -0.92 -0.92 0.92 -1.26 -1.26 0.92 -0.92z" fill="#1ec8e2" stroke="#fff" stroke-width="0.5"/>
<path d="M68.8 1725.8V1718.4M91.1 1740.6V1733.2M113.3 1760.3V1752.9M135.6 1786.9V1775.8M157.8 1814.7V1807.3M180 1824V1816.6M202.3 1830.3V1822.9M224.5 1838.8V1831.4M246.8 1851.7V1844.3" stroke="#1ec8e2" stroke-width="1.6"/>
</g>
<g clip-path="url(#c5_0)">
<polyline points="49.2,1717.3 135.6,1798 157.8,1821.4 180,1829.9 202.3,1830.6 224.5,1841 246.8,1858.4 269,1875.1" fill="none" stroke="#1a3ad6" stroke-width="2.0" stroke-linejoin="round"/>
<path d="M133.3 1798a2.3 2.3 0 1 0 4.6 0a2.3 2.3 0 1 0 -4.6 0zM155.5 1821.4a2.3 2.3 0 1 0 4.6 0a2.3 2.3 0 1 0 -4.6 0zM177.7 1829.9a2.3 2.3 0 1 0 4.6 0a2.3 2.3 0 1 0 -4.6 0zM200 1830.6a2.3 2.3 0 1 0 4.6 0a2.3 2.3 0 1 0 -4.6 0zM222.2 1841a2.3 2.3 0 1 0 4.6 0a2.3 2.3 0 1 0 -4.6 0zM244.5 1858.4a2.3 2.3 0 1 0 4.6 0a2.3 2.3 0 1 0 -4.6 0zM266.7 1875.1a2.3 2.3 0 1 0 4.6 0a2.3 2.3 0 1 0 -4.6 0z" fill="#1a3ad6" stroke="#fff" stroke-width="0.5"/>
</g>
<rect x="343.7" y="1686.8" width="219.2" height="199.1" fill="#eaeaf2"/>
<clipPath id="c5_1"><rect x="343.7" y="1686.8" width="219.2" height="199.1"/></clipPath>
<path d="M385.5 1686.8V1885.9M429.8 1686.8V1885.9M474.2 1686.8V1885.9M518.5 1686.8V1885.9M562.9 1686.8V1885.9M343.7 1881.4H562.9M343.7 1843.7H562.9M343.7 1805.9H562.9M343.7 1768.2H562.9M343.7 1730.4H562.9M343.7 1692.7H562.9" stroke="#fff" stroke-width="1.1" fill="none"/>
<text x="385.5" y="1905.9" font-size="14.31" text-anchor="middle" textLength="20.3" lengthAdjust="spacingAndGlyphs" fill="#262626" >0.2</text>
<text x="429.8" y="1905.9" font-size="14.31" text-anchor="middle" textLength="20.3" lengthAdjust="spacingAndGlyphs" fill="#262626" >0.4</text>
<text x="474.2" y="1905.9" font-size="14.31" text-anchor="middle" textLength="20.3" lengthAdjust="spacingAndGlyphs" fill="#262626" >0.6</text>
<text x="518.5" y="1905.9" font-size="14.31" text-anchor="middle" textLength="20.3" lengthAdjust="spacingAndGlyphs" fill="#262626" >0.8</text>
<text x="562.9" y="1905.9" font-size="14.31" text-anchor="middle" textLength="20.3" lengthAdjust="spacingAndGlyphs" fill="#262626" >1.0</text>
<text x="333.7" y="1886.8" font-size="14.31" text-anchor="end" textLength="20.3" lengthAdjust="spacingAndGlyphs" fill="#262626" >0.0</text>
<text x="333.7" y="1849.1" font-size="14.31" text-anchor="end" textLength="20.3" lengthAdjust="spacingAndGlyphs" fill="#262626" >0.2</text>
<text x="333.7" y="1811.3" font-size="14.31" text-anchor="end" textLength="20.3" lengthAdjust="spacingAndGlyphs" fill="#262626" >0.4</text>
<text x="333.7" y="1773.6" font-size="14.31" text-anchor="end" textLength="20.3" lengthAdjust="spacingAndGlyphs" fill="#262626" >0.6</text>
<text x="333.7" y="1735.9" font-size="14.31" text-anchor="end" textLength="20.3" lengthAdjust="spacingAndGlyphs" fill="#262626" >0.8</text>
<text x="333.7" y="1698.1" font-size="14.31" text-anchor="end" textLength="20.3" lengthAdjust="spacingAndGlyphs" fill="#262626" >1.0</text>
<text x="453.3" y="1923.9" font-size="15.48" text-anchor="middle" textLength="139.0" lengthAdjust="spacingAndGlyphs" fill="#262626" >Samples abstained</text>
<g transform="translate(304.2 1786.4) rotate(-90)"><text x="0" y="0" font-size="15.48" text-anchor="middle" textLength="107.2" lengthAdjust="spacingAndGlyphs" fill="#262626" >Inlier accuracy</text></g>
<g clip-path="url(#c5_1)">
<polyline points="343.7,1847.4 363.3,1843.7 385.5,1839.9 407.6,1836.1 429.8,1832.5 452,1827.4 474.2,1818.8 496.4,1805.9 518.5,1778.9 540.7,1739.1 562.9,1700.2" fill="none" stroke="#023eff" stroke-width="1.0" stroke-dasharray="1.9 2.0"/>
<path d="M361 1843.7a2.3 2.3 0 1 0 4.6 0a2.3 2.3 0 1 0 -4.6 0zM383.2 1839.9a2.3 2.3 0 1 0 4.6 0a2.3 2.3 0 1 0 -4.6 0zM405.3 1836.1a2.3 2.3 0 1 0 4.6 0a2.3 2.3 0 1 0 -4.6 0zM427.5 1832.5a2.3 2.3 0 1 0 4.6 0a2.3 2.3 0 1 0 -4.6 0zM449.7 1827.4a2.3 2.3 0 1 0 4.6 0a2.3 2.3 0 1 0 -4.6 0zM471.9 1818.8a2.3 2.3 0 1 0 4.6 0a2.3 2.3 0 1 0 -4.6 0zM494.1 1805.9a2.3 2.3 0 1 0 4.6 0a2.3 2.3 0 1 0 -4.6 0zM516.2 1778.9a2.3 2.3 0 1 0 4.6 0a2.3 2.3 0 1 0 -4.6 0zM538.4 1739.1a2.3 2.3 0 1 0 4.6 0a2.3 2.3 0 1 0 -4.6 0zM560.6 1700.2a2.3 2.3 0 1 0 4.6 0a2.3 2.3 0 1 0 -4.6 0z" fill="#023eff" stroke="#fff" stroke-width="0.5"/>
<path d="M452 1829.3V1825.5M474.2 1822.5V1815M496.4 1809.7V1802.1M518.5 1782.7V1775.2" stroke="#023eff" stroke-width="1.6"/>
</g>
<g clip-path="url(#c5_1)">
<polyline points="343.7,1845.5 363.3,1843.7 385.5,1838.9 407.6,1832.3 429.8,1824.8 452,1815.4 474.2,1805.9 496.4,1794.6 518.5,1777.6 540.7,1749.3 562.9,1715.3" fill="none" stroke="#ff7c00" stroke-width="1.0" stroke-dasharray="1.9 2.0"/>
<path d="M361.1 1842.7l1.26 -1.26 0.92 0.92 0.92 -0.92 1.26 1.26 -0.92 0.92 0.92 0.92 -1.26 1.26 -0.92 -0.92 -0.92 0.92 -1.26 -1.26 0.92 -0.92zM383.3 1838l1.26 -1.26 0.92 0.92 0.92 -0.92 1.26 1.26 -0.92 0.92 0.92 0.92 -1.26 1.26 -0.92 -0.92 -0.92 0.92 -1.26 -1.26 0.92 -0.92zM405.5 1831.4l1.26 -1.26 0.92 0.92 0.92 -0.92 1.26 1.26 -0.92 0.92 0.92 0.92 -1.26 1.26 -0.92 -0.92 -0.92 0.92 -1.26 -1.26 0.92 -0.92zM427.6 1823.9l1.26 -1.26 0.92 0.92 0.92 -0.92 1.26 1.26 -0.92 0.92 0.92 0.92 -1.26 1.26 -0.92 -0.92 -0.92 0.92 -1.26 -1.26 0.92 -0.92zM449.8 1814.4l1.26 -1.26 0.92 0.92 0.92 -0.92 1.26 1.26 -0.92 0.92 0.92 0.92 -1.26 1.26 -0.92 -0.92 -0.92 0.92 -1.26 -1.26 0.92 -0.92zM472 1805l1.26 -1.26 0.92 0.92 0.92 -0.92 1.26 1.26 -0.92 0.92 0.92 0.92 -1.26 1.26 -0.92 -0.92 -0.92 0.92 -1.26 -1.26 0.92 -0.92zM494.2 1793.7l1.26 -1.26 0.92 0.92 0.92 -0.92 1.26 1.26 -0.92 0.92 0.92 0.92 -1.26 1.26 -0.92 -0.92 -0.92 0.92 -1.26 -1.26 0.92 -0.92zM516.4 1776.7l1.26 -1.26 0.92 0.92 0.92 -0.92 1.26 1.26 -0.92 0.92 0.92 0.92 -1.26 1.26 -0.92 -0.92 -0.92 0.92 -1.26 -1.26 0.92 -0.92zM538.5 1748.4l1.26 -1.26 0.92 0.92 0.92 -0.92 1.26 1.26 -0.92 0.92 0.92 0.92 -1.26 1.26 -0.92 -0.92 -0.92 0.92 -1.26 -1.26 0.92 -0.92zM560.7 1714.4l1.26 -1.26 0.92 0.92 0.92 -0.92 1.26 1.26 -0.92 0.92 0.92 0.92 -1.26 1.26 -0.92 -0.92 -0.92 0.92 -1.26 -1.26 0.92 -0.92z" fill="#ff7c00" stroke="#fff" stroke-width="0.5"/>
</g>
<g clip-path="url(#c5_1)">
<polyline points="343.7,1868.9 363.3,1847.2 385.5,1839.9 407.6,1834.2 429.8,1826.7 452,1817.2 474.2,1807.8 496.4,1796.5 518.5,1777.6 540.7,1751.2 562.9,1717.2" fill="none" stroke="#1ac938" stroke-width="1.0" stroke-dasharray="1.9 2.0"/>
<path d="M361.3 1845.3h3.91v3.91h-3.91zM383.5 1837.9h3.91v3.91h-3.91zM405.7 1832.3h3.91v3.91h-3.91zM427.9 1824.7h3.91v3.91h-3.91zM450 1815.3h3.91v3.91h-3.91zM472.2 1805.9h3.91v3.91h-3.91zM494.4 1794.5h3.91v3.91h-3.91zM516.6 1775.7h3.91v3.91h-3.91zM538.8 1749.2h3.91v3.91h-3.91zM560.9 1715.3h3.91v3.91h-3.91z" fill="#1ac938" stroke="#fff" stroke-width="0.5"/>
</g>
<g clip-path="url(#c5_1)">
<polyline points="343.7,1843.7 363.3,1841.2 385.5,1837.8 407.6,1831.8 429.8,1823.8 452,1812.7 474.2,1803.1 496.4,1790.8 518.5,1773.8 540.7,1745.5 562.9,1709.7" fill="none" stroke="#e8000b" stroke-width="1.0" stroke-dasharray="1.9 2.0"/>
<path d="M362.4 1838.9h1.75v1.43h1.43v1.75h-1.43v1.43h-1.75v-1.43h-1.43v-1.75h1.43zM384.6 1835.5h1.75v1.43h1.43v1.75h-1.43v1.43h-1.75v-1.43h-1.43v-1.75h1.43zM406.8 1829.5h1.75v1.43h1.43v1.75h-1.43v1.43h-1.75v-1.43h-1.43v-1.75h1.43zM428.9 1821.5h1.75v1.43h1.43v1.75h-1.43v1.43h-1.75v-1.43h-1.43v-1.75h1.43zM451.1 1810.4h1.75v1.43h1.43v1.75h-1.43v1.43h-1.75v-1.43h-1.43v-1.75h1.43zM473.3 1800.8h1.75v1.43h1.43v1.75h-1.43v1.43h-1.75v-1.43h-1.43v-1.75h1.43zM495.5 1788.5h1.75v1.43h1.43v1.75h-1.43v1.43h-1.75v-1.43h-1.43v-1.75h1.43zM517.7 1771.5h1.75v1.43h1.43v1.75h-1.43v1.43h-1.75v-1.43h-1.43v-1.75h1.43zM539.8 1743.2h1.75v1.43h1.43v1.75h-1.43v1.43h-1.75v-1.43h-1.43v-1.75h1.43zM562 1707.4h1.75v1.43h1.43v1.75h-1.43v1.43h-1.75v-1.43h-1.43v-1.75h1.43z" fill="#e8000b" stroke="#fff" stroke-width="0.5"/>
</g>
<g clip-path="url(#c5_1)">
<polyline points="343.7,1845.5 363.3,1843.7 385.5,1839.9 407.6,1834.2 429.8,1828.6 452,1819.1 474.2,1805.9 496.4,1790.8 518.5,1773.8 540.7,1743.6 562.9,1705.9" fill="none" stroke="#8b2be2" stroke-width="1.0" stroke-dasharray="1.9 2.0"/>
<path d="M363.3 1841.2l2.42 2.42l-2.42 2.42l-2.42 -2.42zM385.5 1837.5l2.42 2.42l-2.42 2.42l-2.42 -2.42zM407.6 1831.8l2.42 2.42l-2.42 2.42l-2.42 -2.42zM429.8 1826.1l2.42 2.42l-2.42 2.42l-2.42 -2.42zM452 1816.7l2.42 2.42l-2.42 2.42l-2.42 -2.42zM474.2 1803.5l2.42 2.42l-2.42 2.42l-2.42 -2.42zM496.4 1788.4l2.42 2.42l-2.42 2.42l-2.42 -2.42zM518.5 1771.4l2.42 2.42l-2.42 2.42l-2.42 -2.42zM540.7 1741.2l2.42 2.42l-2.42 2.42l-2.42 -2.42zM562.9 1703.5l2.42 2.42l-2.42 2.42l-2.42 -2.42z" fill="#8b2be2" stroke="#fff" stroke-width="0.5"/>
</g>
<g clip-path="url(#c5_1)">
<polyline points="343.7,1843.7 363.3,1841.2 385.5,1837.8 407.6,1831.8 429.8,1823.8 452,1813.5 474.2,1804 496.4,1796.5 518.5,1792.7 540.7,1782.3 562.9,1745.2" fill="none" stroke="#9f4800" stroke-width="1.0" stroke-dasharray="1.9 2.0"/>
<path d="M363.3 1838.8l1.38 2.42l-1.38 2.42l-1.38 -2.42zM385.5 1835.4l1.38 2.42l-1.38 2.42l-1.38 -2.42zM407.6 1829.4l1.38 2.42l-1.38 2.42l-1.38 -2.42zM429.8 1821.4l1.38 2.42l-1.38 2.42l-1.38 -2.42zM452 1811.1l1.38 2.42l-1.38 2.42l-1.38 -2.42zM474.2 1801.6l1.38 2.42l-1.38 2.42l-1.38 -2.42zM496.4 1794.1l1.38 2.42l-1.38 2.42l-1.38 -2.42zM518.5 1790.3l1.38 2.42l-1.38 2.42l-1.38 -2.42zM540.7 1779.9l1.38 2.42l-1.38 2.42l-1.38 -2.42zM562.9 1742.7l1.38 2.42l-1.38 2.42l-1.38 -2.42z" fill="#9f4800" stroke="#fff" stroke-width="0.5"/>
</g>
<g clip-path="url(#c5_1)">
<polyline points="343.7,1838 363.3,1833.5 385.5,1827.4 407.6,1819.5 429.8,1810.1 452,1800.3 474.2,1794.6 496.4,1788.9 518.5,1790.6 540.7,1786.7 562.9,1779.7" fill="none" stroke="#f14cc1" stroke-width="1.0" stroke-dasharray="1.9 2.0"/>
<path d="M363.3 1830.9l2.53 4.3h-5.06zM385.5 1824.9l2.53 4.3h-5.06zM407.6 1817l2.53 4.3h-5.06zM429.8 1807.5l2.53 4.3h-5.06zM452 1797.7l2.53 4.3h-5.06zM474.2 1792.1l2.53 4.3h-5.06zM496.4 1786.4l2.53 4.3h-5.06zM518.5 1788.1l2.53 4.3h-5.06zM540.7 1784.1l2.53 4.3h-5.06zM562.9 1777.2l2.53 4.3h-5.06z" fill="#f14cc1" stroke="#fff" stroke-width="0.5"/>
</g>
<g clip-path="url(#c5_1)">
<polyline points="343.7,1849.9 363.3,1847.4 385.5,1843.7 407.6,1838 429.8,1830.5 452,1821 474.2,1811.6 496.4,1799.7 518.5,1782.3 540.7,1763.3 562.9,1720.1" fill="none" stroke="#a3a3a3" stroke-width="1.0" stroke-dasharray="1.9 2.0"/>
<path d="M361.1 1846.5l1.26 -1.26 0.92 0.92 0.92 -0.92 1.26 1.26 -0.92 0.92 0.92 0.92 -1.26 1.26 -0.92 -0.92 -0.92 0.92 -1.26 -1.26 0.92 -0.92zM383.3 1842.7l1.26 -1.26 0.92 0.92 0.92 -0.92 1.26 1.26 -0.92 0.92 0.92 0.92 -1.26 1.26 -0.92 -0.92 -0.92 0.92 -1.26 -1.26 0.92 -0.92zM405.5 1837.1l1.26 -1.26 0.92 0.92 0.92 -0.92 1.26 1.26 -0.92 0.92 0.92 0.92 -1.26 1.26 -0.92 -0.92 -0.92 0.92 -1.26 -1.26 0.92 -0.92zM427.6 1829.5l1.26 -1.26 0.92 0.92 0.92 -0.92 1.26 1.26 -0.92 0.92 0.92 0.92 -1.26 1.26 -0.92 -0.92 -0.92 0.92 -1.26 -1.26 0.92 -0.92zM449.8 1820.1l1.26 -1.26 0.92 0.92 0.92 -0.92 1.26 1.26 -0.92 0.92 0.92 0.92 -1.26 1.26 -0.92 -0.92 -0.92 0.92 -1.26 -1.26 0.92 -0.92zM472 1810.7l1.26 -1.26 0.92 0.92 0.92 -0.92 1.26 1.26 -0.92 0.92 0.92 0.92 -1.26 1.26 -0.92 -0.92 -0.92 0.92 -1.26 -1.26 0.92 -0.92zM494.2 1798.8l1.26 -1.26 0.92 0.92 0.92 -0.92 1.26 1.26 -0.92 0.92 0.92 0.92 -1.26 1.26 -0.92 -0.92 -0.92 0.92 -1.26 -1.26 0.92 -0.92zM516.4 1781.4l1.26 -1.26 0.92 0.92 0.92 -0.92 1.26 1.26 -0.92 0.92 0.92 0.92 -1.26 1.26 -0.92 -0.92 -0.92 0.92 -1.26 -1.26 0.92 -0.92zM538.5 1762.4l1.26 -1.26 0.92 0.92 0.92 -0.92 1.26 1.26 -0.92 0.92 0.92 0.92 -1.26 1.26 -0.92 -0.92 -0.92 0.92 -1.26 -1.26 0.92 -0.92zM560.7 1719.1l1.26 -1.26 0.92 0.92 0.92 -0.92 1.26 1.26 -0.92 0.92 0.92 0.92 -1.26 1.26 -0.92 -0.92 -0.92 0.92 -1.26 -1.26 0.92 -0.92z" fill="#a3a3a3" stroke="#fff" stroke-width="0.5"/>
<path d="M540.7 1770.8V1755.7" stroke="#a3a3a3" stroke-width="1.6"/>
</g>
<g clip-path="url(#c5_1)">
<polyline points="343.7,1843.8 363.3,1841.2 385.5,1837.8 407.6,1831.8 429.8,1823.8 452,1812.7 474.2,1803.1 496.4,1792 518.5,1775.5 540.7,1747.8 562.9,1713.1" fill="none" stroke="#f4c31a" stroke-width="2.0" stroke-linejoin="round"/>
<path d="M363.3 1843.7l2.53 -4.3h-5.06zM385.5 1840.3l2.53 -4.3h-5.06zM407.6 1834.3l2.53 -4.3h-5.06zM429.8 1826.4l2.53 -4.3h-5.06zM452 1815.2l2.53 -4.3h-5.06zM474.2 1805.6l2.53 -4.3h-5.06zM496.4 1794.5l2.53 -4.3h-5.06zM518.5 1778.1l2.53 -4.3h-5.06zM540.7 1750.3l2.53 -4.3h-5.06zM562.9 1715.6l2.53 -4.3h-5.06z" fill="#f4c31a" stroke="#fff" stroke-width="0.5"/>
<path d="M407.6 1834.6V1828.9M429.8 1826.7V1821M452 1816.5V1808.9M474.2 1806.9V1799.3" stroke="#f4c31a" stroke-width="1.6"/>
</g>
<g clip-path="url(#c5_1)">
<polyline points="343.7,1847.2 363.3,1843.8 385.5,1839.5 407.6,1833.5 429.8,1825.7 452,1815.4 474.2,1807.4 496.4,1796.3 518.5,1778.9 540.7,1755.5 562.9,1721" fill="none" stroke="#1ec8e2" stroke-width="2.0" stroke-linejoin="round"/>
<path d="M361.1 1842.9l1.26 -1.26 0.92 0.92 0.92 -0.92 1.26 1.26 -0.92 0.92 0.92 0.92 -1.26 1.26 -0.92 -0.92 -0.92 0.92 -1.26 -1.26 0.92 -0.92zM383.3 1838.6l1.26 -1.26 0.92 0.92 0.92 -0.92 1.26 1.26 -0.92 0.92 0.92 0.92 -1.26 1.26 -0.92 -0.92 -0.92 0.92 -1.26 -1.26 0.92 -0.92zM405.5 1832.6l1.26 -1.26 0.92 0.92 0.92 -0.92 1.26 1.26 -0.92 0.92 0.92 0.92 -1.26 1.26 -0.92 -0.92 -0.92 0.92 -1.26 -1.26 0.92 -0.92zM427.6 1824.8l1.26 -1.26 0.92 0.92 0.92 -0.92 1.26 1.26 -0.92 0.92 0.92 0.92 -1.26 1.26 -0.92 -0.92 -0.92 0.92 -1.26 -1.26 0.92 -0.92zM449.8 1814.4l1.26 -1.26 0.92 0.92 0.92 -0.92 1.26 1.26 -0.92 0.92 0.92 0.92 -1.26 1.26 -0.92 -0.92 -0.92 0.92 -1.26 -1.26 0.92 -0.92zM472 1806.5l1.26 -1.26 0.92 0.92 0.92 -0.92 1.26 1.26 -0.92 0.92 0.92 0.92 -1.26 1.26 -0.92 -0.92 -0.92 0.92 -1.26 -1.26 0.92 -0.92zM494.2 1795.4l1.26 -1.26 0.92 0.92 0.92 -0.92 1.26 1.26 -0.92 0.92 0.92 0.92 -1.26 1.26 -0.92 -0.92 -0.92 0.92 -1.26 -1.26 0.92 -0.92zM516.4 1778l1.26 -1.26 0.92 0.92 0.92 -0.92 1.26 1.26 -0.92 0.92 0.92 0.92 -1.26 1.26 -0.92 -0.92 -0.92 0.92 -1.26 -1.26 0.92 -0.92zM538.5 1754.6l1.26 -1.26 0.92 0.92 0.92 -0.92 1.26 1.26 -0.92 0.92 0.92 0.92 -1.26 1.26 -0.92 -0.92 -0.92 0.92 -1.26 -1.26 0.92 -0.92zM560.7 1720.1l1.26 -1.26 0.92 0.92 0.92 -0.92 1.26 1.26 -0.92 0.92 0.92 0.92 -1.26 1.26 -0.92 -0.92 -0.92 0.92 -1.26 -1.26 0.92 -0.92z" fill="#1ec8e2" stroke="#fff" stroke-width="0.5"/>
<path d="M363.3 1845.7V1842M385.5 1841.4V1837.6M407.6 1836.3V1830.6M429.8 1829.5V1822M452 1819.1V1811.6M474.2 1811.2V1803.7M496.4 1800.1V1792.5M518.5 1782.7V1775.2M540.7 1761.2V1749.9" stroke="#1ec8e2" stroke-width="1.6"/>
</g>
<g clip-path="url(#c5_1)">
<polyline points="343.7,1836.1 429.8,1805.7 452,1796.5 474.2,1792 496.4,1789.7 518.5,1770.3 540.7,1733.1 562.9,1698.4" fill="none" stroke="#1a3ad6" stroke-width="2.0" stroke-linejoin="round"/>
<path d="M427.5 1805.7a2.3 2.3 0 1 0 4.6 0a2.3 2.3 0 1 0 -4.6 0zM449.7 1796.5a2.3 2.3 0 1 0 4.6 0a2.3 2.3 0 1 0 -4.6 0zM471.9 1792a2.3 2.3 0 1 0 4.6 0a2.3 2.3 0 1 0 -4.6 0zM494.1 1789.7a2.3 2.3 0 1 0 4.6 0a2.3 2.3 0 1 0 -4.6 0zM516.2 1770.3a2.3 2.3 0 1 0 4.6 0a2.3 2.3 0 1 0 -4.6 0zM538.4 1733.1a2.3 2.3 0 1 0 4.6 0a2.3 2.3 0 1 0 -4.6 0zM560.6 1698.4a2.3 2.3 0 1 0 4.6 0a2.3 2.3 0 1 0 -4.6 0z" fill="#1a3ad6" stroke="#fff" stroke-width="0.5"/>
<path d="M540.7 1736.9V1729.3" stroke="#1a3ad6" stroke-width="1.6"/>
</g>
<rect x="638.1" y="1686.8" width="219.8" height="199.1" fill="#eaeaf2"/>
<clipPath id="c5_2"><rect x="638.1" y="1686.8" width="219.8" height="199.1"/></clipPath>
<path d="M680 1686.8V1885.9M724.5 1686.8V1885.9M768.9 1686.8V1885.9M813.4 1686.8V1885.9M857.9 1686.8V1885.9M638.1 1862.9H857.9M638.1 1829.4H857.9M638.1 1795.9H857.9M638.1 1762.5H857.9M638.1 1729H857.9M638.1 1695.5H857.9" stroke="#fff" stroke-width="1.1" fill="none"/>
<text x="680" y="1905.9" font-size="14.31" text-anchor="middle" textLength="20.3" lengthAdjust="spacingAndGlyphs" fill="#262626" >0.2</text>
<text x="724.5" y="1905.9" font-size="14.31" text-anchor="middle" textLength="20.3" lengthAdjust="spacingAndGlyphs" fill="#262626" >0.4</text>
<text x="768.9" y="1905.9" font-size="14.31" text-anchor="middle" textLength="20.3" lengthAdjust="spacingAndGlyphs" fill="#262626" >0.6</text>
<text x="813.4" y="1905.9" font-size="14.31" text-anchor="middle" textLength="20.3" lengthAdjust="spacingAndGlyphs" fill="#262626" >0.8</text>
<text x="857.9" y="1905.9" font-size="14.31" text-anchor="middle" textLength="20.3" lengthAdjust="spacingAndGlyphs" fill="#262626" >1.0</text>
<text x="628.1" y="1868.3" font-size="14.31" text-anchor="end" textLength="20.3" lengthAdjust="spacingAndGlyphs" fill="#262626" >0.5</text>
<text x="628.1" y="1834.8" font-size="14.31" text-anchor="end" textLength="20.3" lengthAdjust="spacingAndGlyphs" fill="#262626" >0.6</text>
<text x="628.1" y="1801.4" font-size="14.31" text-anchor="end" textLength="20.3" lengthAdjust="spacingAndGlyphs" fill="#262626" >0.7</text>
<text x="628.1" y="1767.9" font-size="14.31" text-anchor="end" textLength="20.3" lengthAdjust="spacingAndGlyphs" fill="#262626" >0.8</text>
<text x="628.1" y="1734.4" font-size="14.31" text-anchor="end" textLength="20.3" lengthAdjust="spacingAndGlyphs" fill="#262626" >0.9</text>
<text x="628.1" y="1700.9" font-size="14.31" text-anchor="end" textLength="20.3" lengthAdjust="spacingAndGlyphs" fill="#262626" >1.0</text>
<text x="748" y="1923.9" font-size="15.48" text-anchor="middle" textLength="139.0" lengthAdjust="spacingAndGlyphs" fill="#262626" >Samples abstained</text>
<g transform="translate(600.6 1786.4) rotate(-90)"><text x="0" y="0" font-size="15.48" text-anchor="middle" textLength="104.7" lengthAdjust="spacingAndGlyphs" fill="#262626" >OOD precision</text></g>
<g clip-path="url(#c5_2)">
<polyline points="638.1,1735.7 657.7,1851.5 680,1841.1 702.2,1838.8 724.5,1833.4 746.7,1834.4 768.9,1833.4 791.2,1835.1 813.4,1839.1 835.7,1848.2 857.9,1858.5" fill="none" stroke="#023eff" stroke-width="1.0" stroke-dasharray="1.9 2.0"/>
<path d="M655.4 1851.5a2.3 2.3 0 1 0 4.6 0a2.3 2.3 0 1 0 -4.6 0zM677.7 1841.1a2.3 2.3 0 1 0 4.6 0a2.3 2.3 0 1 0 -4.6 0zM699.9 1838.8a2.3 2.3 0 1 0 4.6 0a2.3 2.3 0 1 0 -4.6 0zM722.2 1833.4a2.3 2.3 0 1 0 4.6 0a2.3 2.3 0 1 0 -4.6 0zM744.4 1834.4a2.3 2.3 0 1 0 4.6 0a2.3 2.3 0 1 0 -4.6 0zM766.6 1833.4a2.3 2.3 0 1 0 4.6 0a2.3 2.3 0 1 0 -4.6 0zM788.9 1835.1a2.3 2.3 0 1 0 4.6 0a2.3 2.3 0 1 0 -4.6 0zM811.1 1839.1a2.3 2.3 0 1 0 4.6 0a2.3 2.3 0 1 0 -4.6 0zM833.4 1848.2a2.3 2.3 0 1 0 4.6 0a2.3 2.3 0 1 0 -4.6 0zM855.6 1858.5a2.3 2.3 0 1 0 4.6 0a2.3 2.3 0 1 0 -4.6 0z" fill="#023eff" stroke="#fff" stroke-width="0.5"/>
<path d="M657.7 1878.3V1824.7M680 1867.9V1814.4M702.2 1862.2V1815.4M724.5 1853.5V1813.3M746.7 1852.9V1816M768.9 1846.8V1820M791.2 1845.2V1825.1M813.4 1845.8V1832.4" stroke="#023eff" stroke-width="1.6"/>
</g>
<g clip-path="url(#c5_2)">
<polyline points="638.1,1734 657.7,1845.5 680,1825.7 702.2,1808.3 724.5,1806.7 746.7,1800.6 768.9,1800.6 791.2,1812.7 813.4,1826.1 835.7,1842.8 857.9,1858.5" fill="none" stroke="#ff7c00" stroke-width="1.0" stroke-dasharray="1.9 2.0"/>
<path d="M655.6 1844.6l1.26 -1.26 0.92 0.92 0.92 -0.92 1.26 1.26 -0.92 0.92 0.92 0.92 -1.26 1.26 -0.92 -0.92 -0.92 0.92 -1.26 -1.26 0.92 -0.92zM677.8 1824.8l1.26 -1.26 0.92 0.92 0.92 -0.92 1.26 1.26 -0.92 0.92 0.92 0.92 -1.26 1.26 -0.92 -0.92 -0.92 0.92 -1.26 -1.26 0.92 -0.92zM700 1807.4l1.26 -1.26 0.92 0.92 0.92 -0.92 1.26 1.26 -0.92 0.92 0.92 0.92 -1.26 1.26 -0.92 -0.92 -0.92 0.92 -1.26 -1.26 0.92 -0.92zM722.3 1805.7l1.26 -1.26 0.92 0.92 0.92 -0.92 1.26 1.26 -0.92 0.92 0.92 0.92 -1.26 1.26 -0.92 -0.92 -0.92 0.92 -1.26 -1.26 0.92 -0.92zM744.5 1799.7l1.26 -1.26 0.92 0.92 0.92 -0.92 1.26 1.26 -0.92 0.92 0.92 0.92 -1.26 1.26 -0.92 -0.92 -0.92 0.92 -1.26 -1.26 0.92 -0.92zM766.8 1799.7l1.26 -1.26 0.92 0.92 0.92 -0.92 1.26 1.26 -0.92 0.92 0.92 0.92 -1.26 1.26 -0.92 -0.92 -0.92 0.92 -1.26 -1.26 0.92 -0.92zM789 1811.8l1.26 -1.26 0.92 0.92 0.92 -0.92 1.26 1.26 -0.92 0.92 0.92 0.92 -1.26 1.26 -0.92 -0.92 -0.92 0.92 -1.26 -1.26 0.92 -0.92zM811.2 1825.2l1.26 -1.26 0.92 0.92 0.92 -0.92 1.26 1.26 -0.92 0.92 0.92 0.92 -1.26 1.26 -0.92 -0.92 -0.92 0.92 -1.26 -1.26 0.92 -0.92zM833.5 1841.9l1.26 -1.26 0.92 0.92 0.92 -0.92 1.26 1.26 -0.92 0.92 0.92 0.92 -1.26 1.26 -0.92 -0.92 -0.92 0.92 -1.26 -1.26 0.92 -0.92zM855.7 1857.6l1.26 -1.26 0.92 0.92 0.92 -0.92 1.26 1.26 -0.92 0.92 0.92 0.92 -1.26 1.26 -0.92 -0.92 -0.92 0.92 -1.26 -1.26 0.92 -0.92z" fill="#ff7c00" stroke="#fff" stroke-width="0.5"/>
<path d="M657.7 1865.6V1825.4M680 1845.8V1805.6M702.2 1826.7V1789.9M724.5 1823.4V1789.9M746.7 1815.7V1785.6M768.9 1812.3V1788.9M791.2 1822.7V1802.6" stroke="#ff7c00" stroke-width="1.6"/>
</g>
<g clip-path="url(#c5_2)">
<polyline points="638.1,1734 657.7,1842.1 680,1821.4 702.2,1806.3 724.5,1803.3 746.7,1796.3 768.9,1795.3 791.2,1807.7 813.4,1826.4 835.7,1843.1 857.9,1858.5" fill="none" stroke="#1ac938" stroke-width="1.0" stroke-dasharray="1.9 2.0"/>
<path d="M655.8 1840.2h3.91v3.91h-3.91zM678 1819.4h3.91v3.91h-3.91zM700.3 1804.4h3.91v3.91h-3.91zM722.5 1801.4h3.91v3.91h-3.91zM744.7 1794.3h3.91v3.91h-3.91zM767 1793.3h3.91v3.91h-3.91zM789.2 1805.7h3.91v3.91h-3.91zM811.5 1824.5h3.91v3.91h-3.91zM833.7 1841.2h3.91v3.91h-3.91zM855.9 1856.6h3.91v3.91h-3.91z" fill="#1ac938" stroke="#fff" stroke-width="0.5"/>
<path d="M657.7 1862.2V1822.1M680 1841.5V1801.3M702.2 1824.7V1787.9M724.5 1820V1786.6M746.7 1811.3V1781.2M768.9 1807V1783.6M791.2 1817.7V1797.6" stroke="#1ac938" stroke-width="1.6"/>
</g>
<g clip-path="url(#c5_2)">
<polyline points="638.1,1695.5 657.7,1695.8 680,1696.5 702.2,1697.2 724.5,1698.8 746.7,1713.9 768.9,1758.1 791.2,1795.9 813.4,1822.7 835.7,1843.5 857.9,1858.5" fill="none" stroke="#e8000b" stroke-width="1.0" stroke-dasharray="1.9 2.0"/>
<path d="M656.9 1693.5h1.75v1.43h1.43v1.75h-1.43v1.43h-1.75v-1.43h-1.43v-1.75h1.43zM679.1 1694.2h1.75v1.43h1.43v1.75h-1.43v1.43h-1.75v-1.43h-1.43v-1.75h1.43zM701.3 1694.9h1.75v1.43h1.43v1.75h-1.43v1.43h-1.75v-1.43h-1.43v-1.75h1.43zM723.6 1696.5h1.75v1.43h1.43v1.75h-1.43v1.43h-1.75v-1.43h-1.43v-1.75h1.43zM745.8 1711.6h1.75v1.43h1.43v1.75h-1.43v1.43h-1.75v-1.43h-1.43v-1.75h1.43zM768.1 1755.8h1.75v1.43h1.43v1.75h-1.43v1.43h-1.75v-1.43h-1.43v-1.75h1.43zM790.3 1793.6h1.75v1.43h1.43v1.75h-1.43v1.43h-1.75v-1.43h-1.43v-1.75h1.43zM812.5 1820.4h1.75v1.43h1.43v1.75h-1.43v1.43h-1.75v-1.43h-1.43v-1.75h1.43zM834.8 1841.2h1.75v1.43h1.43v1.75h-1.43v1.43h-1.75v-1.43h-1.43v-1.75h1.43zM857 1856.2h1.75v1.43h1.43v1.75h-1.43v1.43h-1.75v-1.43h-1.43v-1.75h1.43z" fill="#e8000b" stroke="#fff" stroke-width="0.5"/>
</g>
<g clip-path="url(#c5_2)">
<polyline points="638.1,1695.5 657.7,1695.8 680,1696.5 702.2,1697.2 724.5,1698.8 746.7,1723.6 768.9,1763.5 791.2,1797.9 813.4,1822.7 835.7,1843.5 857.9,1858.5" fill="none" stroke="#8b2be2" stroke-width="1.0" stroke-dasharray="1.9 2.0"/>
<path d="M657.7 1693.4l2.42 2.42l-2.42 2.42l-2.42 -2.42zM680 1694.1l2.42 2.42l-2.42 2.42l-2.42 -2.42zM702.2 1694.8l2.42 2.42l-2.42 2.42l-2.42 -2.42zM724.5 1696.4l2.42 2.42l-2.42 2.42l-2.42 -2.42zM746.7 1721.2l2.42 2.42l-2.42 2.42l-2.42 -2.42zM768.9 1761l2.42 2.42l-2.42 2.42l-2.42 -2.42zM791.2 1795.5l2.42 2.42l-2.42 2.42l-2.42 -2.42zM813.4 1820.3l2.42 2.42l-2.42 2.42l-2.42 -2.42zM835.7 1841.1l2.42 2.42l-2.42 2.42l-2.42 -2.42zM857.9 1856.1l2.42 2.42l-2.42 2.42l-2.42 -2.42z" fill="#8b2be2" stroke="#fff" stroke-width="0.5"/>
<path d="M746.7 1730.3V1716.9M768.9 1770.2V1756.8" stroke="#8b2be2" stroke-width="1.6"/>
</g>
<g clip-path="url(#c5_2)">
<polyline points="638.1,1706.2 657.7,1702.5 680,1703.2 702.2,1704.2 724.5,1708.2 746.7,1718.3 768.9,1754.8 791.2,1792.9 813.4,1821.1 835.7,1843.5 857.9,1858.5" fill="none" stroke="#9f4800" stroke-width="1.0" stroke-dasharray="1.9 2.0"/>
<path d="M657.7 1700.1l1.38 2.42l-1.38 2.42l-1.38 -2.42zM680 1700.8l1.38 2.42l-1.38 2.42l-1.38 -2.42zM702.2 1701.8l1.38 2.42l-1.38 2.42l-1.38 -2.42zM724.5 1705.8l1.38 2.42l-1.38 2.42l-1.38 -2.42zM746.7 1715.9l1.38 2.42l-1.38 2.42l-1.38 -2.42zM768.9 1752.3l1.38 2.42l-1.38 2.42l-1.38 -2.42zM791.2 1790.5l1.38 2.42l-1.38 2.42l-1.38 -2.42zM813.4 1818.6l1.38 2.42l-1.38 2.42l-1.38 -2.42zM835.7 1841.1l1.38 2.42l-1.38 2.42l-1.38 -2.42zM857.9 1856.1l1.38 2.42l-1.38 2.42l-1.38 -2.42z" fill="#9f4800" stroke="#fff" stroke-width="0.5"/>
</g>
<g clip-path="url(#c5_2)">
<polyline points="638.1,1695.5 657.7,1695.8 680,1696.5 702.2,1697.2 724.5,1698.8 746.7,1712.2 768.9,1752.4 791.2,1792.6 813.4,1821.1 835.7,1843.5 857.9,1858.5" fill="none" stroke="#f14cc1" stroke-width="1.0" stroke-dasharray="1.9 2.0"/>
<path d="M657.7 1693.3l2.53 4.3h-5.06zM680 1694l2.53 4.3h-5.06zM702.2 1694.6l2.53 4.3h-5.06zM724.5 1696.3l2.53 4.3h-5.06zM746.7 1709.7l2.53 4.3h-5.06zM768.9 1749.9l2.53 4.3h-5.06zM791.2 1790.1l2.53 4.3h-5.06zM813.4 1818.5l2.53 4.3h-5.06zM835.7 1841l2.53 4.3h-5.06zM857.9 1856l2.53 4.3h-5.06z" fill="#f14cc1" stroke="#fff" stroke-width="0.5"/>
</g>
<g clip-path="url(#c5_2)">
<polyline points="638.1,1695.5 657.7,1695.8 680,1696.5 702.2,1697.2 724.5,1698.8 746.7,1712.2 768.9,1752.4 791.2,1792.6 813.4,1821.1 835.7,1843.5 857.9,1858.5" fill="none" stroke="#a3a3a3" stroke-width="1.0" stroke-dasharray="1.9 2.0"/>
<path d="M655.6 1694.9l1.26 -1.26 0.92 0.92 0.92 -0.92 1.26 1.26 -0.92 0.92 0.92 0.92 -1.26 1.26 -0.92 -0.92 -0.92 0.92 -1.26 -1.26 0.92 -0.92zM677.8 1695.6l1.26 -1.26 0.92 0.92 0.92 -0.92 1.26 1.26 -0.92 0.92 0.92 0.92 -1.26 1.26 -0.92 -0.92 -0.92 0.92 -1.26 -1.26 0.92 -0.92zM700 1696.3l1.26 -1.26 0.92 0.92 0.92 -0.92 1.26 1.26 -0.92 0.92 0.92 0.92 -1.26 1.26 -0.92 -0.92 -0.92 0.92 -1.26 -1.26 0.92 -0.92zM722.3 1697.9l1.26 -1.26 0.92 0.92 0.92 -0.92 1.26 1.26 -0.92 0.92 0.92 0.92 -1.26 1.26 -0.92 -0.92 -0.92 0.92 -1.26 -1.26 0.92 -0.92zM744.5 1711.3l1.26 -1.26 0.92 0.92 0.92 -0.92 1.26 1.26 -0.92 0.92 0.92 0.92 -1.26 1.26 -0.92 -0.92 -0.92 0.92 -1.26 -1.26 0.92 -0.92zM766.8 1751.5l1.26 -1.26 0.92 0.92 0.92 -0.92 1.26 1.26 -0.92 0.92 0.92 0.92 -1.26 1.26 -0.92 -0.92 -0.92 0.92 -1.26 -1.26 0.92 -0.92zM789 1791.7l1.26 -1.26 0.92 0.92 0.92 -0.92 1.26 1.26 -0.92 0.92 0.92 0.92 -1.26 1.26 -0.92 -0.92 -0.92 0.92 -1.26 -1.26 0.92 -0.92zM811.2 1820.1l1.26 -1.26 0.92 0.92 0.92 -0.92 1.26 1.26 -0.92 0.92 0.92 0.92 -1.26 1.26 -0.92 -0.92 -0.92 0.92 -1.26 -1.26 0.92 -0.92zM833.5 1842.6l1.26 -1.26 0.92 0.92 0.92 -0.92 1.26 1.26 -0.92 0.92 0.92 0.92 -1.26 1.26 -0.92 -0.92 -0.92 0.92 -1.26 -1.26 0.92 -0.92zM855.7 1857.6l1.26 -1.26 0.92 0.92 0.92 -0.92 1.26 1.26 -0.92 0.92 0.92 0.92 -1.26 1.26 -0.92 -0.92 -0.92 0.92 -1.26 -1.26 0.92 -0.92z" fill="#a3a3a3" stroke="#fff" stroke-width="0.5"/>
</g>
<g clip-path="url(#c5_2)">
<polyline points="638.1,1695.5 657.7,1695.5 680,1695.5 702.2,1695.5 724.5,1695.5 746.7,1702.9 768.9,1749.1 791.2,1790.2 813.4,1820.4 835.7,1843.1 857.9,1858.5" fill="none" stroke="#f4c31a" stroke-width="2.0" stroke-linejoin="round"/>
<path d="M657.7 1698l2.53 -4.3h-5.06zM680 1698l2.53 -4.3h-5.06zM702.2 1698l2.53 -4.3h-5.06zM724.5 1698l2.53 -4.3h-5.06zM746.7 1705.4l2.53 -4.3h-5.06zM768.9 1751.6l2.53 -4.3h-5.06zM791.2 1792.8l2.53 -4.3h-5.06zM813.4 1822.9l2.53 -4.3h-5.06zM835.7 1845.7l2.53 -4.3h-5.06zM857.9 1861.1l2.53 -4.3h-5.06z" fill="#f4c31a" stroke="#fff" stroke-width="0.5"/>
</g>
<g clip-path="url(#c5_2)">
<polyline points="638.1,1695.5 657.7,1695.5 680,1695.5 702.2,1695.5 724.5,1695.8 746.7,1703.9 768.9,1749.1 791.2,1790.2 813.4,1820.4 835.7,1843.1 857.9,1858.5" fill="none" stroke="#1ec8e2" stroke-width="2.0" stroke-linejoin="round"/>
<path d="M655.6 1694.6l1.26 -1.26 0.92 0.92 0.92 -0.92 1.26 1.26 -0.92 0.92 0.92 0.92 -1.26 1.26 -0.92 -0.92 -0.92 0.92 -1.26 -1.26 0.92 -0.92zM677.8 1694.6l1.26 -1.26 0.92 0.92 0.92 -0.92 1.26 1.26 -0.92 0.92 0.92 0.92 -1.26 1.26 -0.92 -0.92 -0.92 0.92 -1.26 -1.26 0.92 -0.92zM700 1694.6l1.26 -1.26 0.92 0.92 0.92 -0.92 1.26 1.26 -0.92 0.92 0.92 0.92 -1.26 1.26 -0.92 -0.92 -0.92 0.92 -1.26 -1.26 0.92 -0.92zM722.3 1694.9l1.26 -1.26 0.92 0.92 0.92 -0.92 1.26 1.26 -0.92 0.92 0.92 0.92 -1.26 1.26 -0.92 -0.92 -0.92 0.92 -1.26 -1.26 0.92 -0.92zM744.5 1702.9l1.26 -1.26 0.92 0.92 0.92 -0.92 1.26 1.26 -0.92 0.92 0.92 0.92 -1.26 1.26 -0.92 -0.92 -0.92 0.92 -1.26 -1.26 0.92 -0.92zM766.8 1748.1l1.26 -1.26 0.92 0.92 0.92 -0.92 1.26 1.26 -0.92 0.92 0.92 0.92 -1.26 1.26 -0.92 -0.92 -0.92 0.92 -1.26 -1.26 0.92 -0.92zM789 1789.3l1.26 -1.26 0.92 0.92 0.92 -0.92 1.26 1.26 -0.92 0.92 0.92 0.92 -1.26 1.26 -0.92 -0.92 -0.92 0.92 -1.26 -1.26 0.92 -0.92zM811.2 1819.5l1.26 -1.26 0.92 0.92 0.92 -0.92 1.26 1.26 -0.92 0.92 0.92 0.92 -1.26 1.26 -0.92 -0.92 -0.92 0.92 -1.26 -1.26 0.92 -0.92zM833.5 1842.2l1.26 -1.26 0.92 0.92 0.92 -0.92 1.26 1.26 -0.92 0.92 0.92 0.92 -1.26 1.26 -0.92 -0.92 -0.92 0.92 -1.26 -1.26 0.92 -0.92zM855.7 1857.6l1.26 -1.26 0.92 0.92 0.92 -0.92 1.26 1.26 -0.92 0.92 0.92 0.92 -1.26 1.26 -0.92 -0.92 -0.92 0.92 -1.26 -1.26 0.92 -0.92z" fill="#1ec8e2" stroke="#fff" stroke-width="0.5"/>
</g>
<g clip-path="url(#c5_2)">
<polyline points="638.1,1695.5 724.5,1698.8 746.7,1707.9 768.9,1748.7 791.2,1790.2 813.4,1820.4 835.7,1843.1 857.9,1858.5" fill="none" stroke="#1a3ad6" stroke-width="2.0" stroke-linejoin="round"/>
<path d="M722.2 1698.8a2.3 2.3 0 1 0 4.6 0a2.3 2.3 0 1 0 -4.6 0zM744.4 1707.9a2.3 2.3 0 1 0 4.6 0a2.3 2.3 0 1 0 -4.6 0zM766.6 1748.7a2.3 2.3 0 1 0 4.6 0a2.3 2.3 0 1 0 -4.6 0zM788.9 1790.2a2.3 2.3 0 1 0 4.6 0a2.3 2.3 0 1 0 -4.6 0zM811.1 1820.4a2.3 2.3 0 1 0 4.6 0a2.3 2.3 0 1 0 -4.6 0zM833.4 1843.1a2.3 2.3 0 1 0 4.6 0a2.3 2.3 0 1 0 -4.6 0zM855.6 1858.5a2.3 2.3 0 1 0 4.6 0a2.3 2.3 0 1 0 -4.6 0z" fill="#1a3ad6" stroke="#fff" stroke-width="0.5"/>
<path d="M768.9 1755.4V1742" stroke="#1a3ad6" stroke-width="1.6"/>
</g>
<rect x="932.2" y="1686.8" width="219.8" height="199.1" fill="#eaeaf2"/>
<clipPath id="c5_3"><rect x="932.2" y="1686.8" width="219.8" height="199.1"/></clipPath>
<path d="M974.1 1686.8V1885.9M1018.6 1686.8V1885.9M1063 1686.8V1885.9M1107.5 1686.8V1885.9M1152 1686.8V1885.9M932.2 1877.2H1152M932.2 1840.9H1152M932.2 1804.5H1152M932.2 1768.2H1152M932.2 1731.8H1152M932.2 1695.5H1152" stroke="#fff" stroke-width="1.1" fill="none"/>
<text x="974.1" y="1905.9" font-size="14.31" text-anchor="middle" textLength="20.3" lengthAdjust="spacingAndGlyphs" fill="#262626" >0.2</text>
<text x="1018.6" y="1905.9" font-size="14.31" text-anchor="middle" textLength="20.3" lengthAdjust="spacingAndGlyphs" fill="#262626" >0.4</text>
<text x="1063" y="1905.9" font-size="14.31" text-anchor="middle" textLength="20.3" lengthAdjust="spacingAndGlyphs" fill="#262626" >0.6</text>
<text x="1107.5" y="1905.9" font-size="14.31" text-anchor="middle" textLength="20.3" lengthAdjust="spacingAndGlyphs" fill="#262626" >0.8</text>
<text x="1152" y="1905.9" font-size="14.31" text-anchor="middle" textLength="20.3" lengthAdjust="spacingAndGlyphs" fill="#262626" >1.0</text>
<text x="922.2" y="1882.6" font-size="14.31" text-anchor="end" textLength="20.3" lengthAdjust="spacingAndGlyphs" fill="#262626" >0.0</text>
<text x="922.2" y="1846.3" font-size="14.31" text-anchor="end" textLength="20.3" lengthAdjust="spacingAndGlyphs" fill="#262626" >0.2</text>
<text x="922.2" y="1809.9" font-size="14.31" text-anchor="end" textLength="20.3" lengthAdjust="spacingAndGlyphs" fill="#262626" >0.4</text>
<text x="922.2" y="1773.6" font-size="14.31" text-anchor="end" textLength="20.3" lengthAdjust="spacingAndGlyphs" fill="#262626" >0.6</text>
<text x="922.2" y="1737.3" font-size="14.31" text-anchor="end" textLength="20.3" lengthAdjust="spacingAndGlyphs" fill="#262626" >0.8</text>
<text x="922.2" y="1700.9" font-size="14.31" text-anchor="end" textLength="20.3" lengthAdjust="spacingAndGlyphs" fill="#262626" >1.0</text>
<text x="1042.1" y="1923.9" font-size="15.48" text-anchor="middle" textLength="139.0" lengthAdjust="spacingAndGlyphs" fill="#262626" >Samples abstained</text>
<g transform="translate(895 1786.4) rotate(-90)"><text x="0" y="0" font-size="15.48" text-anchor="middle" textLength="78.6" lengthAdjust="spacingAndGlyphs" fill="#262626" >OOD recall</text></g>
<g clip-path="url(#c5_3)">
<polyline points="932.2,1871.7 951.8,1856.8 974.1,1834.3 996.3,1814.3 1018.6,1791.1 1040.8,1771.1 1063,1749.5 1085.3,1728.8 1107.5,1711.5 1129.8,1700.2 1152,1695.5" fill="none" stroke="#023eff" stroke-width="1.0" stroke-dasharray="1.9 2.0"/>
<path d="M949.5 1856.8a2.3 2.3 0 1 0 4.6 0a2.3 2.3 0 1 0 -4.6 0zM971.8 1834.3a2.3 2.3 0 1 0 4.6 0a2.3 2.3 0 1 0 -4.6 0zM994 1814.3a2.3 2.3 0 1 0 4.6 0a2.3 2.3 0 1 0 -4.6 0zM1016.3 1791.1a2.3 2.3 0 1 0 4.6 0a2.3 2.3 0 1 0 -4.6 0zM1038.5 1771.1a2.3 2.3 0 1 0 4.6 0a2.3 2.3 0 1 0 -4.6 0zM1060.7 1749.5a2.3 2.3 0 1 0 4.6 0a2.3 2.3 0 1 0 -4.6 0zM1083 1728.8a2.3 2.3 0 1 0 4.6 0a2.3 2.3 0 1 0 -4.6 0zM1105.2 1711.5a2.3 2.3 0 1 0 4.6 0a2.3 2.3 0 1 0 -4.6 0zM1127.5 1700.2a2.3 2.3 0 1 0 4.6 0a2.3 2.3 0 1 0 -4.6 0zM1149.7 1695.5a2.3 2.3 0 1 0 4.6 0a2.3 2.3 0 1 0 -4.6 0z" fill="#023eff" stroke="#fff" stroke-width="0.5"/>
<path d="M974.1 1838V1830.7M996.3 1819.8V1808.9M1018.6 1798.3V1783.8M1040.8 1778.4V1763.8M1063 1756.7V1742.2M1085.3 1736V1721.5M1107.5 1716.9V1706" stroke="#023eff" stroke-width="1.6"/>
</g>
<g clip-path="url(#c5_3)">
<polyline points="932.2,1871.6 951.8,1855.9 974.1,1830.9 996.3,1804.9 1018.6,1780.9 1040.8,1753.8 1063,1730.4 1085.3,1713.1 1107.5,1701.9 1129.8,1697.5 1152,1695.5" fill="none" stroke="#ff7c00" stroke-width="1.0" stroke-dasharray="1.9 2.0"/>
<path d="M949.7 1855l1.26 -1.26 0.92 0.92 0.92 -0.92 1.26 1.26 -0.92 0.92 0.92 0.92 -1.26 1.26 -0.92 -0.92 -0.92 0.92 -1.26 -1.26 0.92 -0.92zM971.9 1829.9l1.26 -1.26 0.92 0.92 0.92 -0.92 1.26 1.26 -0.92 0.92 0.92 0.92 -1.26 1.26 -0.92 -0.92 -0.92 0.92 -1.26 -1.26 0.92 -0.92zM994.1 1804l1.26 -1.26 0.92 0.92 0.92 -0.92 1.26 1.26 -0.92 0.92 0.92 0.92 -1.26 1.26 -0.92 -0.92 -0.92 0.92 -1.26 -1.26 0.92 -0.92zM1016.4 1780l1.26 -1.26 0.92 0.92 0.92 -0.92 1.26 1.26 -0.92 0.92 0.92 0.92 -1.26 1.26 -0.92 -0.92 -0.92 0.92 -1.26 -1.26 0.92 -0.92zM1038.6 1752.9l1.26 -1.26 0.92 0.92 0.92 -0.92 1.26 1.26 -0.92 0.92 0.92 0.92 -1.26 1.26 -0.92 -0.92 -0.92 0.92 -1.26 -1.26 0.92 -0.92zM1060.9 1729.5l1.26 -1.26 0.92 0.92 0.92 -0.92 1.26 1.26 -0.92 0.92 0.92 0.92 -1.26 1.26 -0.92 -0.92 -0.92 0.92 -1.26 -1.26 0.92 -0.92zM1083.1 1712.2l1.26 -1.26 0.92 0.92 0.92 -0.92 1.26 1.26 -0.92 0.92 0.92 0.92 -1.26 1.26 -0.92 -0.92 -0.92 0.92 -1.26 -1.26 0.92 -0.92zM1105.3 1700.9l1.26 -1.26 0.92 0.92 0.92 -0.92 1.26 1.26 -0.92 0.92 0.92 0.92 -1.26 1.26 -0.92 -0.92 -0.92 0.92 -1.26 -1.26 0.92 -0.92zM1127.6 1696.6l1.26 -1.26 0.92 0.92 0.92 -0.92 1.26 1.26 -0.92 0.92 0.92 0.92 -1.26 1.26 -0.92 -0.92 -0.92 0.92 -1.26 -1.26 0.92 -0.92zM1149.8 1694.6l1.26 -1.26 0.92 0.92 0.92 -0.92 1.26 1.26 -0.92 0.92 0.92 0.92 -1.26 1.26 -0.92 -0.92 -0.92 0.92 -1.26 -1.26 0.92 -0.92z" fill="#ff7c00" stroke="#fff" stroke-width="0.5"/>
<path d="M1040.8 1759.3V1748.4M1063 1735.8V1724.9M1085.3 1718.6V1707.7" stroke="#ff7c00" stroke-width="1.6"/>
</g>
<g clip-path="url(#c5_3)">
<polyline points="932.2,1871.6 951.8,1855.9 974.1,1830.9 996.3,1804.9 1018.6,1778.9 1040.8,1749.5 1063,1724.4 1085.3,1708.8 1107.5,1701 1129.8,1697.5 1152,1695.5" fill="none" stroke="#1ac938" stroke-width="1.0" stroke-dasharray="1.9 2.0"/>
<path d="M949.9 1854h3.91v3.91h-3.91zM972.1 1828.9h3.91v3.91h-3.91zM994.4 1802.9h3.91v3.91h-3.91zM1016.6 1776.9h3.91v3.91h-3.91zM1038.8 1747.5h3.91v3.91h-3.91zM1061.1 1722.4h3.91v3.91h-3.91zM1083.3 1706.8h3.91v3.91h-3.91zM1105.6 1699h3.91v3.91h-3.91zM1127.8 1695.5h3.91v3.91h-3.91zM1150 1693.5h3.91v3.91h-3.91z" fill="#1ac938" stroke="#fff" stroke-width="0.5"/>
<path d="M951.8 1859.6V1852.3M974.1 1836.3V1825.4M996.3 1810.3V1799.4M1018.6 1786.2V1771.6M1040.8 1756.7V1742.2M1063 1731.7V1717.1M1085.3 1714.2V1703.3" stroke="#1ac938" stroke-width="1.6"/>
</g>
<g clip-path="url(#c5_3)">
<polyline points="932.2,1863.8 951.8,1841.2 974.1,1806.5 996.3,1770.2 1018.6,1733.8 1040.8,1708.2 1063,1704.6 1085.3,1701 1107.5,1697.3 1129.8,1695.5 1152,1695.5" fill="none" stroke="#e8000b" stroke-width="1.0" stroke-dasharray="1.9 2.0"/>
<path d="M951 1838.9h1.75v1.43h1.43v1.75h-1.43v1.43h-1.75v-1.43h-1.43v-1.75h1.43zM973.2 1804.2h1.75v1.43h1.43v1.75h-1.43v1.43h-1.75v-1.43h-1.43v-1.75h1.43zM995.4 1767.9h1.75v1.43h1.43v1.75h-1.43v1.43h-1.75v-1.43h-1.43v-1.75h1.43zM1017.7 1731.5h1.75v1.43h1.43v1.75h-1.43v1.43h-1.75v-1.43h-1.43v-1.75h1.43zM1039.9 1705.9h1.75v1.43h1.43v1.75h-1.43v1.43h-1.75v-1.43h-1.43v-1.75h1.43zM1062.2 1702.3h1.75v1.43h1.43v1.75h-1.43v1.43h-1.75v-1.43h-1.43v-1.75h1.43zM1084.4 1698.7h1.75v1.43h1.43v1.75h-1.43v1.43h-1.75v-1.43h-1.43v-1.75h1.43zM1106.6 1695h1.75v1.43h1.43v1.75h-1.43v1.43h-1.75v-1.43h-1.43v-1.75h1.43zM1128.9 1693.2h1.75v1.43h1.43v1.75h-1.43v1.43h-1.75v-1.43h-1.43v-1.75h1.43zM1151.1 1693.2h1.75v1.43h1.43v1.75h-1.43v1.43h-1.75v-1.43h-1.43v-1.75h1.43z" fill="#e8000b" stroke="#fff" stroke-width="0.5"/>
</g>
<g clip-path="url(#c5_3)">
<polyline points="932.2,1863.8 951.8,1841.2 974.1,1806.5 996.3,1770.2 1018.6,1733.8 1040.8,1702.8 1063,1702.8 1085.3,1701 1107.5,1697.3 1129.8,1695.5 1152,1695.5" fill="none" stroke="#8b2be2" stroke-width="1.0" stroke-dasharray="1.9 2.0"/>
<path d="M951.8 1838.8l2.42 2.42l-2.42 2.42l-2.42 -2.42zM974.1 1804.1l2.42 2.42l-2.42 2.42l-2.42 -2.42zM996.3 1767.8l2.42 2.42l-2.42 2.42l-2.42 -2.42zM1018.6 1731.4l2.42 2.42l-2.42 2.42l-2.42 -2.42zM1040.8 1700.4l2.42 2.42l-2.42 2.42l-2.42 -2.42zM1063 1700.4l2.42 2.42l-2.42 2.42l-2.42 -2.42zM1085.3 1698.5l2.42 2.42l-2.42 2.42l-2.42 -2.42zM1107.5 1694.9l2.42 2.42l-2.42 2.42l-2.42 -2.42zM1129.8 1693.1l2.42 2.42l-2.42 2.42l-2.42 -2.42zM1152 1693.1l2.42 2.42l-2.42 2.42l-2.42 -2.42z" fill="#8b2be2" stroke="#fff" stroke-width="0.5"/>
</g>
<g clip-path="url(#c5_3)">
<polyline points="932.2,1863.8 951.8,1841.2 974.1,1806.5 996.3,1770.9 1018.6,1735.5 1040.8,1701 1063,1697.3 1085.3,1695.5 1107.5,1695.5 1129.8,1695.5 1152,1695.5" fill="none" stroke="#9f4800" stroke-width="1.0" stroke-dasharray="1.9 2.0"/>
<path d="M951.8 1838.8l1.38 2.42l-1.38 2.42l-1.38 -2.42zM974.1 1804.1l1.38 2.42l-1.38 2.42l-1.38 -2.42zM996.3 1768.5l1.38 2.42l-1.38 2.42l-1.38 -2.42zM1018.6 1733.1l1.38 2.42l-1.38 2.42l-1.38 -2.42zM1040.8 1698.5l1.38 2.42l-1.38 2.42l-1.38 -2.42zM1063 1694.9l1.38 2.42l-1.38 2.42l-1.38 -2.42zM1085.3 1693.1l1.38 2.42l-1.38 2.42l-1.38 -2.42zM1107.5 1693.1l1.38 2.42l-1.38 2.42l-1.38 -2.42zM1129.8 1693.1l1.38 2.42l-1.38 2.42l-1.38 -2.42zM1152 1693.1l1.38 2.42l-1.38 2.42l-1.38 -2.42z" fill="#9f4800" stroke="#fff" stroke-width="0.5"/>
</g>
<g clip-path="url(#c5_3)">
<polyline points="932.2,1863.8 951.8,1841.2 974.1,1806.5 996.3,1770.2 1018.6,1733.8 1040.8,1699.3 1063,1695.9 1085.3,1695.5 1107.5,1695.5 1129.8,1695.5 1152,1695.5" fill="none" stroke="#f14cc1" stroke-width="1.0" stroke-dasharray="1.9 2.0"/>
<path d="M951.8 1838.7l2.53 4.3h-5.06zM974.1 1804l2.53 4.3h-5.06zM996.3 1767.6l2.53 4.3h-5.06zM1018.6 1731.3l2.53 4.3h-5.06zM1040.8 1696.8l2.53 4.3h-5.06zM1063 1693.3l2.53 4.3h-5.06zM1085.3 1693l2.53 4.3h-5.06zM1107.5 1693l2.53 4.3h-5.06zM1129.8 1693l2.53 4.3h-5.06zM1152 1693l2.53 4.3h-5.06z" fill="#f14cc1" stroke="#fff" stroke-width="0.5"/>
</g>
<g clip-path="url(#c5_3)">
<polyline points="932.2,1863.8 951.8,1841.2 974.1,1806.5 996.3,1770.2 1018.6,1733.8 1040.8,1699.3 1063,1695.9 1085.3,1695.5 1107.5,1695.5 1129.8,1695.5 1152,1695.5" fill="none" stroke="#a3a3a3" stroke-width="1.0" stroke-dasharray="1.9 2.0"/>
<path d="M949.7 1840.3l1.26 -1.26 0.92 0.92 0.92 -0.92 1.26 1.26 -0.92 0.92 0.92 0.92 -1.26 1.26 -0.92 -0.92 -0.92 0.92 -1.26 -1.26 0.92 -0.92zM971.9 1805.6l1.26 -1.26 0.92 0.92 0.92 -0.92 1.26 1.26 -0.92 0.92 0.92 0.92 -1.26 1.26 -0.92 -0.92 -0.92 0.92 -1.26 -1.26 0.92 -0.92zM994.1 1769.3l1.26 -1.26 0.92 0.92 0.92 -0.92 1.26 1.26 -0.92 0.92 0.92 0.92 -1.26 1.26 -0.92 -0.92 -0.92 0.92 -1.26 -1.26 0.92 -0.92zM1016.4 1732.9l1.26 -1.26 0.92 0.92 0.92 -0.92 1.26 1.26 -0.92 0.92 0.92 0.92 -1.26 1.26 -0.92 -0.92 -0.92 0.92 -1.26 -1.26 0.92 -0.92zM1038.6 1698.4l1.26 -1.26 0.92 0.92 0.92 -0.92 1.26 1.26 -0.92 0.92 0.92 0.92 -1.26 1.26 -0.92 -0.92 -0.92 0.92 -1.26 -1.26 0.92 -0.92zM1060.9 1694.9l1.26 -1.26 0.92 0.92 0.92 -0.92 1.26 1.26 -0.92 0.92 0.92 0.92 -1.26 1.26 -0.92 -0.92 -0.92 0.92 -1.26 -1.26 0.92 -0.92zM1083.1 1694.6l1.26 -1.26 0.92 0.92 0.92 -0.92 1.26 1.26 -0.92 0.92 0.92 0.92 -1.26 1.26 -0.92 -0.92 -0.92 0.92 -1.26 -1.26 0.92 -0.92zM1105.3 1694.6l1.26 -1.26 0.92 0.92 0.92 -0.92 1.26 1.26 -0.92 0.92 0.92 0.92 -1.26 1.26 -0.92 -0.92 -0.92 0.92 -1.26 -1.26 0.92 -0.92zM1127.6 1694.6l1.26 -1.26 0.92 0.92 0.92 -0.92 1.26 1.26 -0.92 0.92 0.92 0.92 -1.26 1.26 -0.92 -0.92 -0.92 0.92 -1.26 -1.26 0.92 -0.92zM1149.8 1694.6l1.26 -1.26 0.92 0.92 0.92 -0.92 1.26 1.26 -0.92 0.92 0.92 0.92 -1.26 1.26 -0.92 -0.92 -0.92 0.92 -1.26 -1.26 0.92 -0.92z" fill="#a3a3a3" stroke="#fff" stroke-width="0.5"/>
</g>
<g clip-path="url(#c5_3)">
<polyline points="932.2,1863.8 951.8,1841.2 974.1,1806.5 996.3,1770.2 1018.6,1733.8 1040.8,1698.2 1063,1695.9 1085.3,1695.5 1107.5,1695.5 1129.8,1695.5 1152,1695.5" fill="none" stroke="#f4c31a" stroke-width="2.0" stroke-linejoin="round"/>
<path d="M951.8 1843.8l2.53 -4.3h-5.06zM974.1 1809l2.53 -4.3h-5.06zM996.3 1772.7l2.53 -4.3h-5.06zM1018.6 1736.4l2.53 -4.3h-5.06zM1040.8 1700.8l2.53 -4.3h-5.06zM1063 1698.4l2.53 -4.3h-5.06zM1085.3 1698l2.53 -4.3h-5.06zM1107.5 1698l2.53 -4.3h-5.06zM1129.8 1698l2.53 -4.3h-5.06zM1152 1698l2.53 -4.3h-5.06z" fill="#f4c31a" stroke="#fff" stroke-width="0.5"/>
</g>
<g clip-path="url(#c5_3)">
<polyline points="932.2,1863.8 951.8,1841.2 974.1,1806.5 996.3,1770.2 1018.6,1733.8 1040.8,1699.3 1063,1695.9 1085.3,1695.5 1107.5,1695.5 1129.8,1695.5 1152,1695.5" fill="none" stroke="#1ec8e2" stroke-width="2.0" stroke-linejoin="round"/>
<path d="M949.7 1840.3l1.26 -1.26 0.92 0.92 0.92 -0.92 1.26 1.26 -0.92 0.92 0.92 0.92 -1.26 1.26 -0.92 -0.92 -0.92 0.92 -1.26 -1.26 0.92 -0.92zM971.9 1805.6l1.26 -1.26 0.92 0.92 0.92 -0.92 1.26 1.26 -0.92 0.92 0.92 0.92 -1.26 1.26 -0.92 -0.92 -0.92 0.92 -1.26 -1.26 0.92 -0.92zM994.1 1769.3l1.26 -1.26 0.92 0.92 0.92 -0.92 1.26 1.26 -0.92 0.92 0.92 0.92 -1.26 1.26 -0.92 -0.92 -0.92 0.92 -1.26 -1.26 0.92 -0.92zM1016.4 1732.9l1.26 -1.26 0.92 0.92 0.92 -0.92 1.26 1.26 -0.92 0.92 0.92 0.92 -1.26 1.26 -0.92 -0.92 -0.92 0.92 -1.26 -1.26 0.92 -0.92zM1038.6 1698.4l1.26 -1.26 0.92 0.92 0.92 -0.92 1.26 1.26 -0.92 0.92 0.92 0.92 -1.26 1.26 -0.92 -0.92 -0.92 0.92 -1.26 -1.26 0.92 -0.92zM1060.9 1694.9l1.26 -1.26 0.92 0.92 0.92 -0.92 1.26 1.26 -0.92 0.92 0.92 0.92 -1.26 1.26 -0.92 -0.92 -0.92 0.92 -1.26 -1.26 0.92 -0.92zM1083.1 1694.6l1.26 -1.26 0.92 0.92 0.92 -0.92 1.26 1.26 -0.92 0.92 0.92 0.92 -1.26 1.26 -0.92 -0.92 -0.92 0.92 -1.26 -1.26 0.92 -0.92zM1105.3 1694.6l1.26 -1.26 0.92 0.92 0.92 -0.92 1.26 1.26 -0.92 0.92 0.92 0.92 -1.26 1.26 -0.92 -0.92 -0.92 0.92 -1.26 -1.26 0.92 -0.92zM1127.6 1694.6l1.26 -1.26 0.92 0.92 0.92 -0.92 1.26 1.26 -0.92 0.92 0.92 0.92 -1.26 1.26 -0.92 -0.92 -0.92 0.92 -1.26 -1.26 0.92 -0.92zM1149.8 1694.6l1.26 -1.26 0.92 0.92 0.92 -0.92 1.26 1.26 -0.92 0.92 0.92 0.92 -1.26 1.26 -0.92 -0.92 -0.92 0.92 -1.26 -1.26 0.92 -0.92z" fill="#1ec8e2" stroke="#fff" stroke-width="0.5"/>
</g>
<g clip-path="url(#c5_3)">
<polyline points="932.2,1869.8 1018.6,1724.4 1040.8,1702.8 1063,1695.9 1085.3,1695.7 1107.5,1695.5 1129.8,1695.5 1152,1695.5" fill="none" stroke="#1a3ad6" stroke-width="2.0" stroke-linejoin="round"/>
<path d="M1016.3 1724.4a2.3 2.3 0 1 0 4.6 0a2.3 2.3 0 1 0 -4.6 0zM1038.5 1702.8a2.3 2.3 0 1 0 4.6 0a2.3 2.3 0 1 0 -4.6 0zM1060.7 1695.9a2.3 2.3 0 1 0 4.6 0a2.3 2.3 0 1 0 -4.6 0zM1083 1695.7a2.3 2.3 0 1 0 4.6 0a2.3 2.3 0 1 0 -4.6 0zM1105.2 1695.5a2.3 2.3 0 1 0 4.6 0a2.3 2.3 0 1 0 -4.6 0zM1127.5 1695.5a2.3 2.3 0 1 0 4.6 0a2.3 2.3 0 1 0 -4.6 0zM1149.7 1695.5a2.3 2.3 0 1 0 4.6 0a2.3 2.3 0 1 0 -4.6 0z" fill="#1a3ad6" stroke="#fff" stroke-width="0.5"/>
</g>
<rect x="1163.8" y="1686.8" width="154.7" height="219" rx="2" fill="#fff" stroke="#cccccc" stroke-width="1"/>
<path d="M1168.8 1697.5H1193.9" stroke="#023eff" stroke-width="1.0" stroke-dasharray="1.9 2.0"/>
<path d="M1178.2 1697.5a3.6 3.6 0 1 0 7.2 0a3.6 3.6 0 1 0 -7.2 0z" fill="#023eff" stroke="#fff" stroke-width="0.5"/>
<text x="1207.6" y="1702.4" font-size="14.10" text-anchor="start" textLength="27.9" lengthAdjust="spacingAndGlyphs" fill="#262626" >MSP</text>
<path d="M1168.8 1717.2H1193.9" stroke="#ff7c00" stroke-width="1.0" stroke-dasharray="1.9 2.0"/>
<path d="M1178.4 1715.8l1.98 -1.98 1.44 1.44 1.44 -1.44 1.98 1.98 -1.44 1.44 1.44 1.44 -1.98 1.98 -1.44 -1.44 -1.44 1.44 -1.98 -1.98 1.44 -1.44z" fill="#ff7c00" stroke="#fff" stroke-width="0.5"/>
<text x="1207.6" y="1722.1" font-size="14.10" text-anchor="start" textLength="60.2" lengthAdjust="spacingAndGlyphs" fill="#262626" >MaxLogit</text>
<path d="M1168.8 1737H1193.9" stroke="#1ac938" stroke-width="1.0" stroke-dasharray="1.9 2.0"/>
<path d="M1178.8 1733.9h6.12v6.12h-6.12z" fill="#1ac938" stroke="#fff" stroke-width="0.5"/>
<text x="1207.6" y="1741.8" font-size="14.10" text-anchor="start" textLength="46.6" lengthAdjust="spacingAndGlyphs" fill="#262626" >Energy</text>
<path d="M1168.8 1756.6H1193.9" stroke="#e8000b" stroke-width="1.0" stroke-dasharray="1.9 2.0"/>
<path d="M1180.5 1753h2.74v2.23h2.23v2.74h-2.23v2.23h-2.74v-2.23h-2.23v-2.74h2.23z" fill="#e8000b" stroke="#fff" stroke-width="0.5"/>
<text x="1207.6" y="1761.5" font-size="14.10" text-anchor="start" textLength="39.6" lengthAdjust="spacingAndGlyphs" fill="#262626" >SIRC [</text>
<text x="1247.2" y="1761.5" font-size="14.10" text-anchor="start" textLength="7.4" lengthAdjust="spacingAndGlyphs" fill="#262626" font-style="italic">L</text>
<text x="1254.7" y="1764" font-size="9.87" text-anchor="start" textLength="5.9" lengthAdjust="spacingAndGlyphs" fill="#262626" >1</text>
<text x="1261.1" y="1761.5" font-size="14.10" text-anchor="start" textLength="5.2" lengthAdjust="spacingAndGlyphs" fill="#262626" >]</text>
<path d="M1168.8 1776.3H1193.9" stroke="#8b2be2" stroke-width="1.0" stroke-dasharray="1.9 2.0"/>
<path d="M1181.8 1772.6l3.78 3.78l-3.78 3.78l-3.78 -3.78z" fill="#8b2be2" stroke="#fff" stroke-width="0.5"/>
<text x="1207.6" y="1781.2" font-size="14.10" text-anchor="start" textLength="68.6" lengthAdjust="spacingAndGlyphs" fill="#262626" >SIRC [Res]</text>
<path d="M1168.8 1796H1193.9" stroke="#9f4800" stroke-width="1.0" stroke-dasharray="1.9 2.0"/>
<path d="M1181.8 1792.3l2.16 3.78l-2.16 3.78l-2.16 -3.78z" fill="#9f4800" stroke="#fff" stroke-width="0.5"/>
<text x="1207.6" y="1800.9" font-size="14.10" text-anchor="start" textLength="33.6" lengthAdjust="spacingAndGlyphs" fill="#262626" >CCE*</text>
<path d="M1168.8 1815.8H1193.9" stroke="#f14cc1" stroke-width="1.0" stroke-dasharray="1.9 2.0"/>
<path d="M1181.8 1811.8l3.96 6.73h-7.92z" fill="#f14cc1" stroke="#fff" stroke-width="0.5"/>
<text x="1207.6" y="1820.6" font-size="14.10" text-anchor="start" textLength="34.6" lengthAdjust="spacingAndGlyphs" fill="#262626" >DCE*</text>
<path d="M1168.8 1835.5H1193.9" stroke="#a3a3a3" stroke-width="1.0" stroke-dasharray="1.9 2.0"/>
<path d="M1178.4 1834l1.98 -1.98 1.44 1.44 1.44 -1.44 1.98 1.98 -1.44 1.44 1.44 1.44 -1.98 1.98 -1.44 -1.44 -1.44 1.44 -1.98 -1.98 1.44 -1.44z" fill="#a3a3a3" stroke="#fff" stroke-width="0.5"/>
<text x="1207.6" y="1840.3" font-size="14.10" text-anchor="start" textLength="25.5" lengthAdjust="spacingAndGlyphs" fill="#262626" >OE*</text>
<path d="M1168.8 1855.1H1193.9" stroke="#f4c31a" stroke-width="2.6"/>
<path d="M1181.8 1859.1l3.96 -6.73h-7.92z" fill="#f4c31a" stroke="#fff" stroke-width="0.5"/>
<text x="1207.6" y="1860" font-size="14.10" text-anchor="start" textLength="77.4" lengthAdjust="spacingAndGlyphs" fill="#262626" >Plug-in BB [</text>
<text x="1285" y="1860" font-size="14.10" text-anchor="start" textLength="7.4" lengthAdjust="spacingAndGlyphs" fill="#262626" font-style="italic">L</text>
<text x="1292.4" y="1862.5" font-size="9.87" text-anchor="start" textLength="5.9" lengthAdjust="spacingAndGlyphs" fill="#262626" >1</text>
<text x="1298.8" y="1860" font-size="14.10" text-anchor="start" textLength="5.2" lengthAdjust="spacingAndGlyphs" fill="#262626" >]</text>
<path d="M1168.8 1874.8H1193.9" stroke="#1ec8e2" stroke-width="2.6"/>
<path d="M1178.4 1873.4l1.98 -1.98 1.44 1.44 1.44 -1.44 1.98 1.98 -1.44 1.44 1.44 1.44 -1.98 1.98 -1.44 -1.44 -1.44 1.44 -1.98 -1.98 1.44 -1.44z" fill="#1ec8e2" stroke="#fff" stroke-width="0.5"/>
<text x="1207.6" y="1879.7" font-size="14.10" text-anchor="start" textLength="106.3" lengthAdjust="spacingAndGlyphs" fill="#262626" >Plug-in BB [Res]</text>
<path d="M1168.8 1894.5H1193.9" stroke="#1a3ad6" stroke-width="2.6"/>
<path d="M1178.2 1894.5a3.6 3.6 0 1 0 7.2 0a3.6 3.6 0 1 0 -7.2 0z" fill="#1a3ad6" stroke="#fff" stroke-width="0.5"/>
<text x="1207.6" y="1899.4" font-size="14.10" text-anchor="start" textLength="72.9" lengthAdjust="spacingAndGlyphs" fill="#262626" >Plug-in LB*</text>
<text x="429.1" y="1987.0" font-family="Liberation Serif, serif" font-size="33.0" textLength="32.5" lengthAdjust="spacingAndGlyphs" fill="#000">(f)</text><path d="M476.6 1966.0H488.6C497.2 1966.0 497.2 1974.8 488.6 1974.8H483.9M479.9 1966.0V1986.3M483.9 1966.0V1986.3M476.6 1986.3H487.2" stroke="#000" stroke-width="1.25" fill="none"/><path d="M489.9 1966.5C493.8 1967.8 493.8 1973.0 489.9 1974.3" stroke="#000" stroke-width="0.9" fill="none"/><text x="496.1" y="1989.5" font-family="Liberation Serif, serif" font-size="22.0" textLength="19.5" lengthAdjust="spacingAndGlyphs" fill="#000">in</text><text x="518.6" y="1987.0" font-family="Liberation Serif, serif" font-size="33.0" textLength="6.5" lengthAdjust="spacingAndGlyphs" fill="#000">:</text><text x="538.1" y="1987.0" font-family="Liberation Serif, serif" font-size="33.0" textLength="153.1" lengthAdjust="spacingAndGlyphs" fill="#000">CIFAR-100;</text><path d="M723.8 1966.0H735.8C744.4 1966.0 744.4 1974.8 735.8 1974.8H731.0M727.0 1966.0V1986.3M731.0 1966.0V1986.3M723.8 1986.3H734.4" stroke="#000" stroke-width="1.25" fill="none"/><path d="M737.1 1966.5C741.0 1967.8 741.0 1973.0 737.1 1974.3" stroke="#000" stroke-width="0.9" fill="none"/><text x="742.3" y="1989.5" font-family="Liberation Serif, serif" font-size="22.0" textLength="35.0" lengthAdjust="spacingAndGlyphs" fill="#000">out</text><text x="781.6" y="1987.0" font-family="Liberation Serif, serif" font-size="33.0" textLength="6.5" lengthAdjust="spacingAndGlyphs" fill="#000">:</text><text x="800.6" y="1987.0" font-family="Liberation Serif, serif" font-size="33.0" textLength="91.5" lengthAdjust="spacingAndGlyphs" fill="#000">CelebA</text>
</svg></body></html>
